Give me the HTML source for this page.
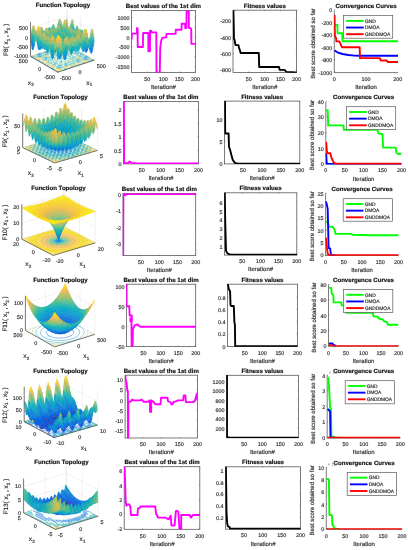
<!DOCTYPE html>
<html><head><meta charset="utf-8"><title>Benchmark results</title>
<style>.qaa{fill:#f7ed17;stroke:#f7ed17}.qab{fill:#f8e81b;stroke:#f8e81b}.qac{fill:#f7e51d;stroke:#f7e51d}.qad{fill:#f7e31f;stroke:#f7e31f}.qae{fill:#f7e120;stroke:#f7e120}.qaf{fill:#f7df21;stroke:#f7df21}.qag{fill:#f7dd22;stroke:#f7dd22}.qah{fill:#f7dc23;stroke:#f7dc23}.qai{fill:#f8db25;stroke:#f8db25}.qaj{fill:#f8d926;stroke:#f8d926}.qak{fill:#f8d727;stroke:#f8d727}.qal{fill:#f8d628;stroke:#f8d628}.qam{fill:#f9d528;stroke:#f9d528}.qan{fill:#f8d529;stroke:#f8d529}.qao{fill:#f8d32a;stroke:#f8d32a}.qap{fill:#f9d22b;stroke:#f9d22b}.qaq{fill:#f8d12d;stroke:#f8d12d}.qar{fill:#fad02c;stroke:#fad02c}.qas{fill:#f8d02e;stroke:#f8d02e}.qat{fill:#f9ce30;stroke:#f9ce30}.qau{fill:#f7ce31;stroke:#f7ce31}.qav{fill:#fccb30;stroke:#fccb30}.qaw{fill:#f8cb33;stroke:#f8cb33}.qax{fill:#f9c934;stroke:#f9c934}.qay{fill:#f7ca35;stroke:#f7ca35}.qaz{fill:#f9c737;stroke:#f9c737}.qaA{fill:#f6c738;stroke:#f6c738}.qaB{fill:#f8c43a;stroke:#f8c43a}.qaC{fill:#f9c13d;stroke:#f9c13d}.qaD{fill:#f5c43c;stroke:#f5c43c}.qaE{fill:#f5c13f;stroke:#f5c13f}.qaF{fill:#f5bf41;stroke:#f5bf41}.qaG{fill:#f1bf43;stroke:#f1bf43}.qaH{fill:#f4bb46;stroke:#f4bb46}.qaI{fill:#efbc47;stroke:#efbc47}.qaJ{fill:#ecbe47;stroke:#ecbe47}.qaK{fill:#e9bb4b;stroke:#e9bb4b}.qaL{fill:#e7ba4e;stroke:#e7ba4e}.qaM{fill:#ddbb52;stroke:#ddbb52}.qaN{fill:#dfba52;stroke:#dfba52}.qaO{fill:#daba55;stroke:#daba55}.qaP{fill:#cec451;stroke:#cec451}.qaQ{fill:#c8bc5d;stroke:#c8bc5d}.qaR{fill:#c4bc5e;stroke:#c4bc5e}.qaS{fill:#c1bc60;stroke:#c1bc60}.qaT{fill:#d4bb57;stroke:#d4bb57}.qaU{fill:#d0bb59;stroke:#d0bb59}.qaV{fill:#cdbb5a;stroke:#cdbb5a}.qaW{fill:#cabb5c;stroke:#cabb5c}.qaX{fill:#d7ba56;stroke:#d7ba56}.qaY{fill:#afc85c;stroke:#afc85c}.qaZ{fill:#acbe68;stroke:#acbe68}.qba{fill:#a9be69;stroke:#a9be69}.qbb{fill:#babd63;stroke:#babd63}.qbc{fill:#b7bd64;stroke:#b7bd64}.qbd{fill:#b5bd65;stroke:#b5bd65}.qbe{fill:#b2bd65;stroke:#b2bd65}.qbf{fill:#adbd68;stroke:#adbd68}.qbg{fill:#bcbc61;stroke:#bcbc61}.qbh{fill:#9ac06e;stroke:#9ac06e}.qbi{fill:#a5be6b;stroke:#a5be6b}.qbj{fill:#a3be6c;stroke:#a3be6c}.qbk{fill:#a0be6d;stroke:#a0be6d}.qbl{fill:#9dbe6e;stroke:#9dbe6e}.qbm{fill:#99be70;stroke:#99be70}.qbn{fill:#a3bd6c;stroke:#a3bd6c}.qbo{fill:#95be71;stroke:#95be71}.qbp{fill:#91bf73;stroke:#91bf73}.qbq{fill:#90be73;stroke:#90be73}.qbr{fill:#8dbf75;stroke:#8dbf75}.qbs{fill:#88bf76;stroke:#88bf76}.qbt{fill:#86bf78;stroke:#86bf78}.qbu{fill:#89be77;stroke:#89be77}.qbv{fill:#82bf79;stroke:#82bf79}.qbw{fill:#7dbf7c;stroke:#7dbf7c}.qbx{fill:#81be7a;stroke:#81be7a}.qby{fill:#7abe7d;stroke:#7abe7d}.qbz{fill:#77bf7e;stroke:#77bf7e}.qbA{fill:#77bd80;stroke:#77bd80}.qbB{fill:#73be80;stroke:#73be80}.qbC{fill:#6fbe82;stroke:#6fbe82}.qbD{fill:#6bbe83;stroke:#6bbe83}.qbE{fill:#6dbd84;stroke:#6dbd84}.qbF{fill:#69be85;stroke:#69be85}.qbG{fill:#65be86;stroke:#65be86}.qbH{fill:#62bd88;stroke:#62bd88}.qbI{fill:#5fbd89;stroke:#5fbd89}.qbJ{fill:#63bc89;stroke:#63bc89}.qbK{fill:#5cbd8a;stroke:#5cbd8a}.qbL{fill:#59bd8c;stroke:#59bd8c}.qbM{fill:#5bbc8c;stroke:#5bbc8c}.qbN{fill:#56bc8e;stroke:#56bc8e}.qbO{fill:#54bc8f;stroke:#54bc8f}.qbP{fill:#50bc91;stroke:#50bc91}.qbQ{fill:#4cbc93;stroke:#4cbc93}.qbR{fill:#4bba95;stroke:#4bba95}.qbS{fill:#48bb95;stroke:#48bb95}.qbT{fill:#45bb97;stroke:#45bb97}.qbU{fill:#43ba98;stroke:#43ba98}.qbV{fill:#40ba99;stroke:#40ba99}.qbW{fill:#77b882;stroke:#77b882}.qbX{fill:#3fb89c;stroke:#3fb89c}.qbY{fill:#39b99d;stroke:#39b99d}.qbZ{fill:#3ab79f;stroke:#3ab79f}.qca{fill:#35b8a0;stroke:#35b8a0}.qcb{fill:#33b8a1;stroke:#33b8a1}.qcc{fill:#34b6a2;stroke:#34b6a2}.qcd{fill:#31b7a3;stroke:#31b7a3}.qce{fill:#2eb7a4;stroke:#2eb7a4}.qcf{fill:#2cb6a6;stroke:#2cb6a6}.qcg{fill:#2ab6a7;stroke:#2ab6a7}.qch{fill:#2cb5a7;stroke:#2cb5a7}.qci{fill:#2cb0ac;stroke:#2cb0ac}.qcj{fill:#27b5a8;stroke:#27b5a8}.qck{fill:#28b4a9;stroke:#28b4a9}.qcl{fill:#23b4ab;stroke:#23b4ab}.qcm{fill:#24b3ac;stroke:#24b3ac}.qcn{fill:#1fb3ae;stroke:#1fb3ae}.qco{fill:#20b2af;stroke:#20b2af}.qcp{fill:#1bb2b0;stroke:#1bb2b0}.qcq{fill:#1db1b2;stroke:#1db1b2}.qcr{fill:#18b1b3;stroke:#18b1b3}.qcs{fill:#16b1b4;stroke:#16b1b4}.qct{fill:#1aaeb6;stroke:#1aaeb6}.qcu{fill:#1ca6bb;stroke:#1ca6bb}.qcv{fill:#13afb7;stroke:#13afb7}.qcw{fill:#10aeb9;stroke:#10aeb9}.qcx{fill:#12adba;stroke:#12adba}.qcy{fill:#11aabd;stroke:#11aabd}.qcz{fill:#0dacbc;stroke:#0dacbc}.qcA{fill:#0daabf;stroke:#0daabf}.qcB{fill:#0aabbe;stroke:#0aabbe}.qcC{fill:#09aac0;stroke:#09aac0}.qcD{fill:#0fa7c1;stroke:#0fa7c1}.qcE{fill:#0ba8c2;stroke:#0ba8c2}.qcF{fill:#09a8c4;stroke:#09a8c4}.qcG{fill:#07a8c3;stroke:#07a8c3}.qcH{fill:#06a6c6;stroke:#06a6c6}.qcI{fill:#0da4c4;stroke:#0da4c4}.qcJ{fill:#0fa0c6;stroke:#0fa0c6}.qcK{fill:#09a2c7;stroke:#09a2c7}.qcL{fill:#099fcb;stroke:#099fcb}.qcM{fill:#06a5c8;stroke:#06a5c8}.qcN{fill:#06a3c9;stroke:#06a3c9}.qcO{fill:#07a0cc;stroke:#07a0cc}.qcP{fill:#0d9bca;stroke:#0d9bca}.qcQ{fill:#0a9acd;stroke:#0a9acd}.qcR{fill:#099bce;stroke:#099bce}.qcS{fill:#079dce;stroke:#079dce}.qcT{fill:#089bd0;stroke:#089bd0}.qcU{fill:#0c97cf;stroke:#0c97cf}.qcV{fill:#0a97d0;stroke:#0a97d0}.qcW{fill:#0d93d0;stroke:#0d93d0}.qcX{fill:#0c94d1;stroke:#0c94d1}.qcY{fill:#0b95d1;stroke:#0b95d1}.qcZ{fill:#0e91d2;stroke:#0e91d2}.qda{fill:#0d92d1;stroke:#0d92d1}.qdb{fill:#0f8ed2;stroke:#0f8ed2}.qdc{fill:#118bd3;stroke:#118bd3}.qdd{fill:#0e8bd3;stroke:#0e8bd3}.qde{fill:#1188d4;stroke:#1188d4}.qdf{fill:#1485d4;stroke:#1485d4}.qdg{fill:#1086d5;stroke:#1086d5}.qdh{fill:#1283d6;stroke:#1283d6}.qdi{fill:#1381d6;stroke:#1381d6}.qdj{fill:#0f80d7;stroke:#0f80d7}.qdk{fill:#117ed8;stroke:#117ed8}.qdl{fill:#117bd9;stroke:#117bd9}.qdm{fill:#0e7bd9;stroke:#0e7bd9}.qdn{fill:#0e78da;stroke:#0e78da}.qdo{fill:#0d76db;stroke:#0d76db}.qdp{fill:#0c76dc;stroke:#0c76dc}.qdq{fill:#0b73dc;stroke:#0b73dc}.qdr{fill:#0a73dd;stroke:#0a73dd}.qds{fill:#0a72dd;stroke:#0a72dd}.qdt{fill:#0871de;stroke:#0871de}.qdu{fill:#0970de;stroke:#0970de}.qdv{fill:#096dde;stroke:#096dde}.qdw{fill:#056ee0;stroke:#056ee0}.qdx{fill:#056ce0;stroke:#056ce0}.qdy{fill:#096ade;stroke:#096ade}.qdz{fill:#036ae1;stroke:#036ae1}.qdA{fill:#0268e1;stroke:#0268e1}.qdB{fill:#0965de;stroke:#0965de}.qdC{fill:#0b61de;stroke:#0b61de}.qdD{fill:#0c5fdd;stroke:#0c5fdd}.qdE{fill:#0466e1;stroke:#0466e1}.qdF{fill:#0266e1;stroke:#0266e1}.qdG{fill:#0563e0;stroke:#0563e0}.qdH{fill:#145ad9;stroke:#145ad9}.qdI{fill:#1658d8;stroke:#1658d8}.qdJ{fill:#105cdc;stroke:#105cdc}.qdK{fill:#1c55d5;stroke:#1c55d5}.qdL{fill:#1956d6;stroke:#1956d6}.qdM{fill:#2151cf;stroke:#2151cf}.qdN{fill:#2b4ac6;stroke:#2b4ac6}.qdO{fill:#264dca;stroke:#264dca}.qdP{fill:#2e47bf;stroke:#2e47bf}.qdQ{fill:#3340b3;stroke:#3340b3}.qdR{fill:#3638a2;stroke:#3638a2} text{text-rendering:geometricPrecision;stroke:#333;stroke-width:0.18px} html,body{margin:0;padding:0;background:#fff;}svg{display:block;}text{font-family:'Liberation Sans', Arial, Helvetica, sans-serif;}</style></head>
<body><svg width="408" height="550" viewBox="0 0 408 550">
<defs><filter id="soft" x="0" y="0" width="1" height="1"><feGaussianBlur stdDeviation="0.45"/></filter></defs>
<g filter="url(#soft)">
<rect width="408" height="550" fill="#fff"/>
<g stroke="#e4e4e4" stroke-width="0.5"><line x1="30.50" y1="56.40" x2="30.50" y2="21.85"/><line x1="57.80" y1="72.20" x2="30.50" y2="56.40"/><line x1="48.70" y1="50.35" x2="48.70" y2="15.80"/><line x1="76.00" y1="66.15" x2="48.70" y2="50.35"/><line x1="66.90" y1="44.30" x2="66.90" y2="9.75"/><line x1="94.20" y1="60.10" x2="66.90" y2="44.30"/><line x1="94.20" y1="60.10" x2="94.20" y2="25.55"/><line x1="57.80" y1="72.20" x2="94.20" y2="60.10"/><line x1="80.55" y1="52.20" x2="80.55" y2="17.65"/><line x1="44.15" y1="64.30" x2="80.55" y2="52.20"/><line x1="66.90" y1="44.30" x2="66.90" y2="9.75"/><line x1="30.50" y1="56.40" x2="66.90" y2="44.30"/><line x1="30.50" y1="56.40" x2="66.90" y2="44.30"/><line x1="66.90" y1="44.30" x2="94.20" y2="60.10"/><line x1="30.50" y1="47.00" x2="66.90" y2="34.90"/><line x1="66.90" y1="34.90" x2="94.20" y2="50.70"/><line x1="30.50" y1="37.60" x2="66.90" y2="25.50"/><line x1="66.90" y1="25.50" x2="94.20" y2="41.30"/><line x1="30.50" y1="28.20" x2="66.90" y2="16.10"/><line x1="66.90" y1="16.10" x2="94.20" y2="31.90"/></g>
<g transform="scale(0.1)" fill="none" stroke-width="4.5" stroke-linecap="round"><path stroke="#363093" d="M664 462l4 1 1 3-8 2-7-3 3-3 7 0"/><path stroke="#0268e1" d="M861 573l9 2 3 6-6 3-9 1-8-1-5-3 0-3 5-4 11-1M723 497l4 3-3 1-9-1 8-3M659 456l16 2 6 4 1 5-5 4-12 3-13-1-9-4-1-4 1-4 16-5M394 547l13 0 5 4 1 2-5 4-9 2-14-4 2-6 7-2M583 489l5 3-10 1 0-3 5-1"/><path stroke="#1485d4" d="M641 701l8-4 10-2M898 616l10-8 20-2M852 569l23 2 7 5 1 5-6 6-12 3-15-1-11-3-4-7 3-5 5-4 9-1M586 660l21 0 6 3 2 5-4 4-7 2-17 0-7-2-3-5 2-4 7-3M781 600l9 2 3 2 0 3-6 4-10 0-10-4 4-5 10-2M517 687l9 3 5 5M659 643l7 2-4 3-7-1 0-3 4-1M806 544l16 2 4 4 0 4-10 4-12-1-7-2-2-5 2-3 9-3M551 637l2 1-1 3-10-2 3-3 6 1M778 529l13 5 1 3-13 1-10-7 2-2 7 0M756 516l11 1 4 4-1 4-8 2-14-3 0-5 8-3M720 491l18 4 3 4-2 5-5 3-14 1-10-1-8-5 3-8 15-3M455 581l11 1 5 4-1 3-12 4-12-4 0-5 9-3M653 453l29 3 7 5 0 7-6 6-12 3-21 0-15-5-1-7 4-7 15-5M392 543l25 1 5 4 1 5-5 6-12 4-20-1-10-4-1-5 3-6 14-4M315 570l18 4 4 4 1 5M578 483l18 2 6 3 0 5-5 4-9 3-14 0-11-4 0-5 3-4 12-4M462 524l16 2 1 5-5 5-8 2-12-1-6-3 1-6 13-4M533 503l10 2 1 5-11 3-13-1-1-2 5-5 9-2M511 513l5 1 0 2-14 6-5 1-6-3 2-3 18-4"/><path stroke="#06a7c6" d="M574 720l9 0M631 704l6-7 7-3 25-2M704 680l10-5 12-2M749 665l4-1M776 656l15-5M819 642l9-7 21-3M890 618l5-8 8-5 32-2M709 487l33 4 6 5 4 12 24 7 7 7 18 9 8 7 23 7 3 4 1 13 45 7 8 5 0 10-6 6-12 3-28-1-12-4-4-6 3-13-3-4-36-6-4-3-5-9-14-5-15-10-14-5-8-13-35-8-3-6 3-8 5-4 8-1M586 655l31 2 6 3 1 7-7 8-11 3-22 0-12-4-3-6 1-7 4-4 12-2M510 682l23 5 4 4 1 8M771 596l25 1 6 3 1 7-6 6-8 2-18 1-15-3-1-5 4-7 12-5M655 637l21-1 10-7 24-6 11-7 20-1 7 3-1 6-5 4-18 3-20 8-19 3-8 8-6 3-15 1-14-3-2-4 4-6 11-4M485 601l23 2 6 8 19 9 6 8 26 6 1 8-4 4-9 2-20-3-5-4-2-9-16-4-14-11-15-4-2-8 6-4M467 658l11 3 6 6M725 571l17 2 4 4 0 2-11 5-14-2-3-1-1-5 8-5M612 614l8 2 0 2-7 3-9-2 1-4 7-1M447 646l3 2M699 560l9 0 2 3-9 1-5-6 3 2M682 543l7 3 0 5-9 1-10-2 2-6 10-1M419 630l10 6M454 577l18 1 7 3 3 6-3 8-7 3-18-1-14-3-5-4 0-4 3-5 6-3 10-1M640 517l16 3 4 3 1 5-4 4-8 2-19-1-6-3-1-4 3-5 14-4M375 604l18 5 5 9M522 559l12 1 3 2 0 4-4 4-8 2-16-4 0-5 13-4M593 538l8 2 1 3-11 4-10-3 3-4 9-2M562 551l7 0-8 5-9-2 1-2 9-1M695 458l1 11-6 9-13 3-23-1-22-2-6-3 1-10 7-10M385 540l48-2 8-11 5-4 27-4 48-19 27-4 11-11 9-4 28-1 10 1 5 4-2 10-10 7-35 3-16 11-55 14-16 11-41 2-10 18-9 5-33-1-15-5-2-6 3-7 6-5 9-2M310 567l31 5 4 6-1 9M646 450l40 3"/><path stroke="#38b99e" d="M569 717l21 1M624 707l6-11 8-6 43-2M690 685l15-12 27-5 47-18 27-5 17-13 35-3M882 621l9-23 51 3M897 575l-6 23-76-4 1 2-5 11-8 10-39 4-16 10-55 15-16 10-36 3-6 3-11 17-12 3-45-4-5-3-1-17-3-4-33-6-9-12-43-21-9-12-29-5-7-5 0-11 2-9 2-2 64 4-2-2 4-8 7-8 28-4 11-6 24-7 12-6 24-2 7-3 11-14 14-2 30 3 4 4 2 14 25 7 7 7 18 9 7 8 25 6 2 5-2 12-3 2-51-3 3 2-1 2-7 9-18 3-20 9-19 2-10 11-8 2-26-3-4-3-1-10-16-4-14-11-13-3-4-3 1-11 36 1 3-1 5-8 25-5 6-7 8-1 18 3 2 7 20 8 0 7 2 2-25-1-18 9-10 0-11-12 39 3-11-12-10 0-18 9-25-1 2 2 0 7 20 8 2 7 3 2 15 1 8-1 6-7 25-5 5-8 3-1 36 1 1-8-1-5-16-4-14-11-16-4-3-12-7-3-21-1-8 2-10 11-19 2-20 9-18 3-7 9-1 2 3 2-51-3-3 2-2 15 4 3 23 5 7 8 18 9 7 7 25 7 2 14 4 4 30 3 14-2 11-14 7-3 24-2 12-6 24-7 11-6 28-4 7-8 4-8-2-2 64 4 2-2 3-18-5-5-32-7-9-12-43-21-9-12-33-6-3-4 0-15-3-4-12-3-31-2-17 3-11 17-6 3-36 3-16 10-55 15-16 10-39 4-8 10-5 11 1 2-76-4-6 23M500 677l41 8 4 6-1 11M753 492l7 13 22 7 35 24 22 7 8 15 32 7M368 600l32 7 8 15 22 7 35 24 22 7 7 13M703 463l-1 11 4 6 41 8M305 564l51 3 9-23M566 477l43-2 8-6 6-11M389 536l35-3 17-13 27-5 47-18 27-5 15-12M657 447l21 1"/><path stroke="#87bf77" d="M561 712l40 3M613 710l7-10 1-10-6-3-22-2-23-1-13 3-6 9 1 11M835 599l-14 5-10 18-41 2-16 11-55 14-16 11-35 3-10 7-2 10 5 4 10 1 28-1 9-4 11-11 27-4 48-19 27-4 5-4 8-11 49-2 11-4 6-9-2-7-5-3-38-3M903 578l-1 9 4 6 31 5M376 572l-9 1-8 6-2 8 3 6 10 4 41 6 1 13 3 4 23 7 8 7 18 9 7 7 24 7 4 12 6 5 32 4 9-1 5-4 3-10-5-6-33-6-8-13-14-5-15-10-14-5-5-9-4-3-38-7 2-16-4-6-12-4-28-1M770 568l-3 5-2 7 3 4 7 3 28 0 6-3 3-5-2-6-6-3-18-3-16 1M594 632l-6 3-2 5 2 4 7 3 19 0 7-3 3-5-1-4-6-3-23 0M849 547l5 9 18 5M722 593l-11 4-1 6 17 3 11-4 1-3-3-4-14-2M656 618l-9 2-1 5 9 2 11-4-2-4-8-1M686 609l-8 5 12 0 5-3-9-2M689 518l-7 2-2 4 0 5 4 3 24 5 6 8 19 9 6 8 19 2 5 0 5-4-2-8-15-4-14-11-16-4-2-9-5-4-25-2M561 613l-4 4 3 4 11 1 6-3-3-5-13-1M818 529l10 6M540 600l-4 4 15 3-5-6-6-1M797 517l3 2M512 581l-10 4 0 5 15 4 12-3 0-7-17-3M763 498l6 6 11 3M632 544l-5 3 0 2 8 2 8-2-3-4-8-1M641 487l-14 5-4 6 1 7 11 4 24 1 10-1 8-5 1-9-6-6-31-2M458 550l-13 6-2 4 2 5 12 4 23 0 8-5 4-7-1-5-3-2-30 0M709 466l1 8 4 4 23 5M581 511l-11 4-8 8-19 3-20 8-18 3-5 4-1 6 7 3 20-1 11-7 24-6 10-7 26-2 9-6 0-5-4-3-21-2M312 562l32-2 8-5 5-8M578 473l25-2 7-3 6-7M398 533l21-3 9-7M664 445l9 0M456 514l15-5M494 501l4-1M521 492l12-2 10-5"/><path stroke="#d1bb59" d="M576 688l-15 4-4 7 2 7 14 5 22 1 11-3 7-9-1-7-6-3-30-2M841 602l-14 5-3 6 1 4 10 5 18 1 13-3 6-6-1-7-6-3-24-2M658 665l-11 4-2 3 0 5 10 4 14 1 8-2 7-6 0-5-6-3-20-1M909 582l1 5 4 4 18 4M776 628l-8 5 1 6 22 1 7-3 1-4-6-5-17 0M714 652l-8 1-3 5 5 3 12 0 8-6-1-2-13-1M750 642l-18 6-1 3 7 1 16-4 2-3-6-3M517 657l-7 2-3 5 0 4 5 4 23 2 7-3 3-4-1-6-7-3-20-1M784 573l-7 2 1 6 14 3 10-4-3-6-15-1M485 638l-8 2 1 6 8 3 13-3 0-5-14-3M463 626l-8 2 1 3 13 5 7 0 1-2-6-6-8-2M427 608l-6 3 0 4 8 5 14 1 5-1 4-4 0-4-5-3-20-1M699 524l-5 3 8 2 3-2-6-3M382 575l-15 5-3 5 2 6 11 4 18 1 9-1 7-6 0-7-6-4-23-3M643 491l-7 2-4 4 4 7 22 2 7-2 4-4 0-5-5-3-21-1M460 554l-6 5 7 6 11 0 8-6-5-4-15-1M716 470l5 5 9 3M585 517l-4 3 1 2 10-1 0-3-7-1M319 559l20-2 10-8M588 470l10-2 8-4"/><path stroke="#ffc337" d="M577 692l-7 2-5 4 0 3 4 4 20 4 12-4 4-5-1-4-6-3-21-1M839 608l-5 4 6 6 16 0 7-6-7-5-17 1M662 671l-3 2 1 2 5 1 5-2-1-2-7-1M528 663l-5 1-2 2 8 1 3-2-4-2M384 580l-9 3 0 5 12 4 10-1 5-4 0-3-5-3-13-1"/><path stroke="#f6f313" d="M586 697l-8 2 1 3 7 1 7-2-2-3-5-1"/></g>
<g transform="scale(0.1)" stroke-width="3.5" stroke-linejoin="round"><path class=qbU d="M667 275l7-43-5-45-7 44z"/><path class=qcq d="M624 291l7 32-6-45-7-32z"/><path class=qbI d="M616 259l8 32-6-45-7-31z"/><path class=qbl d="M609 238l7 21-5-44-8-21z"/><path class=qbe d="M602 233l7 5-6-44-7-5z"/><path class=qbi d="M594 247l8-14-6-44-7 14z"/><path class=qbB d="M587 275l7-28-5-44-7 27z"/><path class=qca d="M580 307l7-32-5-45-8 32z"/><path class=qcx d="M573 331l7-24-6-45-7 25z"/><path class=qcE d="M565 339l8-8-6-44-7 8z"/><path class=qcg d="M551 309l7 21-5-45-8-20z"/><path class=qbL d="M543 291l8 18-6-44-7-18z"/><path class=qbC d="M536 289l7 2-5-44-7-3z"/><path class=qbL d="M529 304l7-15-5-45-8 15z"/><path class=qca d="M522 323l7-19-6-45-7 20z"/><path class=qcj d="M514 330l8-7-6-44-7 6z"/><path class=qca d="M507 322l7 8-5-45-7-8z"/><path class=qbU d="M500 320l7 2-5-45-8-2z"/><path class=qbY d="M492 326l8-6-6-45-7 7z"/><path class=qca d="M478 331l7 1 7-6-5-44-7 6-8-2z"/><path class=qcd d="M456 348l7-19-5-45-7 20z"/><path class=qcr d="M442 361l7 2 7-15-5-44-8 15-7-3z"/><path class=qcc d="M434 343l8 18-6-45-7-18z"/><path class=qbG d="M427 322l7 21-5-45-8-20z"/><path class=qbr d="M420 313l7 9-6-44-7-10z"/><path class=qbu d="M412 321l8-8-6-45-7 8z"/><path class=qbI d="M405 345l7-24-5-45-7 25z"/><path class=qbY d="M361 361l8 32-6-45-7-31z"/><path class=qbu d="M354 329l7 32-5-44-7-32z"/><path class=qaS d="M347 306l7 23-5-44-8-24z"/><path class=qaX d="M340 298l7 8-6-45-7-7z"/><path class=qaU d="M332 309l8-11-6-44-7 11z"/><path class=qba d="M325 337l7-28-5-44-7 27z"/><path class=qbH d="M318 377l7-40-5-45-8 40z"/><path class=qct d="M310 421l8-44-6-45-7 44z"/><path class=qcE d="M673 316l7-44-6-40-7 43z"/><path class=qcr d="M622 300l7 31-5-40-8-32z"/><path class=qbU d="M614 279l8 21-6-41-7-21z"/><path class=qbI d="M607 274l7 5-5-41-7-5z"/><path class=qbP d="M600 288l7-14-5-41-8 14z"/><path class=qcl d="M593 315l7-27-6-41-7 28z"/><path class=qcn d="M542 329l7 3-6-41-7-2z"/><path class=qcv d="M534 344l8-15-6-40-7 15z"/><path class=qcH d="M498 367l7-7-5-40-8 6z"/><path class=qcr d="M432 363l8 20-6-40-7-21z"/><path class=qca d="M425 353l7 10-5-41-7-9z"/><path class=qcd d="M418 361l7-8-5-40-8 8z"/><path class=qcc d="M360 370l7 32-6-41-7-32z"/><path class=qbC d="M352 346l8 24-6-41-7-23z"/><path class=qbr d="M345 339l7 7-5-40-7-8z"/><path class=qbs d="M338 350l7-11-5-41-8 11z"/><path class=qbN d="M330 377l8-27-6-41-7 28z"/><path class=qcr d="M323 417l7-40-5-40-7 40z"/><path class=qcX d="M316 461l7-44-5-40-8 44z"/><path class=qcw d="M620 307l7 22-5-29-8-21z"/><path class=qcl d="M613 303l7 4-6-28-7-5z"/><path class=qcr d="M605 316l8-13-6-29-7 14z"/><path class=qce d="M358 375l7 23-5-28-8-24z"/><path class=qbQ d="M350 367l8 8-6-29-7-7z"/><path class=qbS d="M343 378l7-11-5-28-7 11z"/><path class=qcn d="M336 406l7-28-5-28-8 27z"/><path class=qcL d="M329 446l7-40-6-29-7 40z"/><path class=qdm d="M321 490l8-44-6-29-7 44z"/><path class=qcN d="M371 410l7 32-6-12-7-32z"/><path class=qcb d="M356 379l7 8-5-12-8-8z"/><path class=qcf d="M349 390l7-11-6-12-7 11z"/><path class=qcz d="M341 418l8-28-6-12-7 28z"/><path class=qcW d="M334 458l7-40-5-12-7 40z"/><path class=qdu d="M327 501l7-43-5-12-8 44z"/><path class=qdK d="M398 488l7 5-5 7-8-5z"/><path class=qdv d="M391 467l7 21-6 7-7-21z"/><path class=qcv d="M347 411l7-28-5 7-8 28z"/><path class=qcQ d="M340 451l7-40-6 7-7 40z"/><path class=qdp d="M332 494l8-43-6 7-7 43z"/><path class=qdx d="M411 470l7-14-6 23-7 14z"/><path class=qdt d="M403 465l8 5-6 23-7-5z"/><path class=qdj d="M396 444l7 21-5 23-7-21z"/><path class=qcE d="M345 428l7-40-5 23-7 40z"/><path class=qde d="M338 472l7-44-5 23-8 43z"/><path class=qdd d="M409 434l7 5-5 31-8-5z"/><path class=qcL d="M401 413l8 21-6 31-7-21z"/><path class=qca d="M350 397l8-40-6 31-7 40z"/><path class=qcK d="M343 440l7-43-5 31-7 44z"/><path class=qbI d="M705 265l8-44-6 31-7 43z"/><path class=qcg d="M349 410l7-44-6 31-7 43z"/><path class=qbl d="M711 244l7-44-5 21-8 44z"/><path class=qbU d="M704 284l7-40-6 21-7 39z"/><path class=qbc d="M361 345l8-39-6 20-7 40z"/><path class=qbG d="M354 389l7-44-5 21-7 44z"/><path class=qbe d="M716 240l8-44-6 4-7 44z"/><path class=qbI d="M709 280l7-40-5 4-7 40z"/><path class=qaC d="M644 212l7-14-6 4-7 14z"/><path class=qaM d="M636 240l8-28-6 4-7 27z"/><path class=qba d="M629 271l7-31-5 3-7 32z"/><path class=qbB d="M622 296l7-25-5 4-8 25z"/><path class=qbL d="M614 304l8-8-6 4-7 8z"/><path class=qaR d="M578 268l7-14-5 4-7 14z"/><path class=qbi d="M571 288l7-20-5 4-8 20z"/><path class=qbo d="M563 295l8-7-6 4-7 7z"/><path class=qba d="M534 297l8-6-6 4-7 6z"/><path class=qbj d="M505 313l7-20-5 4-7 20z"/><path class=qbv d="M498 328l7-15-5 4-8 15z"/><path class=qaL d="M462 286l7-9-6 4-7 8z"/><path class=qaQ d="M454 310l8-24-6 3-7 25z"/><path class=qbo d="M447 342l7-32-5 4-7 32z"/><path class=qak d="M381 274l8-11-6 4-7 11z"/><path class=qaC d="M374 302l7-28-5 4-7 28z"/><path class=qaQ d="M367 341l7-39-5 4-8 39z"/><path class=qby d="M360 385l7-44-6 4-7 44z"/><path class=qbi d="M722 255l7-44-5-15-8 44z"/><path class=qbP d="M714 294l8-39-6-15-7 40z"/><path class=qaC d="M656 213l8 4-6-14-7-5z"/><path class=qaH d="M649 226l7-13-5-15-7 14z"/><path class=qaV d="M642 254l7-28-5-14-8 28z"/><path class=qbl d="M634 286l8-32-6-14-7 31z"/><path class=qbG d="M627 310l7-24-5-15-7 25z"/><path class=qbQ d="M620 319l7-9-5-14-8 8z"/><path class=qbK d="M613 309l7 10-6-15-7-10z"/><path class=qaQ d="M591 268l7 3-5-15-8-2z"/><path class=qbb d="M583 283l8-15-6-14-7 14z"/><path class=qbm d="M576 303l7-20-5-15-7 20z"/><path class=qbs d="M569 309l7-6-5-15-8 7z"/><path class=qbm d="M562 301l7 8-6-14-7-9z"/><path class=qbi d="M554 299l8 2-6-15-7-1z"/><path class=qbk d="M547 305l7-6-5-14-7 6z"/><path class=qbh d="M532 310l8 1 7-6-5-14-8 6-7-2z"/><path class=qbe d="M518 308l7-7 7 9-5-15-7-8-8 6z"/><path class=qbo d="M511 328l7-20-6-15-7 20z"/><path class=qbz d="M496 340l7 2 8-14-6-15-7 15-7-3z"/><path class=qbm d="M489 322l7 18-5-15-8-17z"/><path class=qaM d="M467 300l7-8 8 10-6-15-7-10-7 9z"/><path class=qbg d="M460 325l7-25-5-14-8 24z"/><path class=qbs d="M452 356l8-31-6-15-7 32z"/><path class=qan d="M394 277l7 8-5-15-7-7z"/><path class=qar d="M387 288l7-11-5-14-8 11z"/><path class=qaF d="M380 316l7-28-6-14-7 28z"/><path class=qaS d="M372 356l8-40-6-14-7 39z"/><path class=qbE d="M365 400l7-44-5-15-7 44z"/><path class=qbB d="M727 283l8-44-6-28-7 44z"/><path class=qcl d="M720 323l7-40-5-28-8 39z"/><path class=qbo d="M676 267l8 31-6-28-7-31z"/><path class=qaR d="M669 246l7 21-5-28-7-22z"/><path class=qaM d="M662 241l7 5-5-29-8-4z"/><path class=qaV d="M654 255l8-14-6-28-7 13z"/><path class=qbi d="M647 282l7-27-5-29-7 28z"/><path class=qbF d="M640 314l7-32-5-28-8 32z"/><path class=qcb d="M633 339l7-25-6-28-7 24z"/><path class=qcl d="M625 347l8-8-6-29-7 9z"/><path class=qce d="M618 337l7 10-5-28-7-10z"/><path class=qbK d="M611 317l7 20-5-28-8-21z"/><path class=qbr d="M603 299l8 18-6-29-7-17z"/><path class=qbk d="M596 297l7 2-5-28-7-3z"/><path class=qbq d="M589 311l7-14-5-29-8 15z"/><path class=qbF d="M582 331l7-20-6-28-7 20z"/><path class=qbO d="M574 338l8-7-6-28-7 6z"/><path class=qbG d="M567 329l7 9-5-29-7-8z"/><path class=qbz d="M560 328l7 1-5-28-8-2z"/><path class=qbB d="M553 334l7-6-6-29-7 6z"/><path class=qbC d="M538 338l7 2 8-6-6-29-7 6-8-1z"/><path class=qbs d="M523 336l8-6 7 8-6-28-7-9-7 7z"/><path class=qbI d="M516 356l7-20-5-28-7 20z"/><path class=qbU d="M502 368l7 3 7-15-5-28-8 14-7-2z"/><path class=qbF d="M494 351l8 17-6-28-7-18z"/><path class=qbm d="M487 330l7 21-5-29-7-20z"/><path class=qbc d="M472 328l8-8 7 10-5-28-8-10-7 8z"/><path class=qbp d="M465 353l7-25-5-28-7 25z"/><path class=qbO d="M458 385l7-32-5-28-8 31z"/><path class=qbc d="M414 337l7 32-5-29-7-32z"/><path class=qaL d="M407 313l7 24-5-29-8-23z"/><path class=qaC d="M400 306l7 7-6-28-7-8z"/><path class=qaF d="M392 317l8-11-6-29-7 11z"/><path class=qaT d="M385 345l7-28-5-29-7 28z"/><path class=qbo d="M378 384l7-39-5-29-8 40z"/><path class=qbY d="M371 428l7-44-6-28-7 44z"/><path class=qca d="M733 316l7-44-5-33-8 44z"/><path class=qcK d="M725 355l8-39-6-33-7 40z"/><path class=qbO d="M682 300l7 31-5-33-8-31z"/><path class=qbp d="M674 278l8 22-6-33-7-21z"/><path class=qba d="M667 274l7 4-5-32-7-5z"/><path class=qbl d="M660 287l7-13-5-33-8 14z"/><path class=qbF d="M653 315l7-28-6-32-7 27z"/><path class=qcf d="M645 347l8-32-6-33-7 32z"/><path class=qcB d="M638 371l7-24-5-33-7 25z"/><path class=qcl d="M616 349l8 21-6-33-7-20z"/><path class=qbS d="M609 332l7 17-5-32-8-18z"/><path class=qbI d="M602 329l7 3-6-33-7-2z"/><path class=qbP d="M594 344l8-15-6-32-7 14z"/><path class=qcf d="M587 364l7-20-5-33-7 20z"/><path class=qcp d="M580 370l7-6-5-33-8 7z"/><path class=qcj d="M573 362l7 8-6-32-7-9z"/><path class=qcb d="M565 360l8 2-6-33-7-1z"/><path class=qce d="M558 366l7-6-5-32-7 6z"/><path class=qcf d="M551 372l7-6-5-32-8 6z"/><path class=qce d="M543 371l8 1-6-32-7-2z"/><path class=qbU d="M529 369l7-7 7 9-5-33-7-8-8 6z"/><path class=qcl d="M522 389l7-20-6-33-7 20z"/><path class=qcf d="M500 383l7 18-5-33-8-17z"/><path class=qbL d="M492 363l8 20-6-32-7-21z"/><path class=qbw d="M478 361l7-8 7 10-5-33-7-10-8 8z"/><path class=qbP d="M471 386l7-25-6-33-7 25z"/><path class=qcp d="M463 417l8-31-6-33-7 32z"/><path class=qby d="M420 369l7 32-6-32-7-32z"/><path class=qbe d="M412 346l8 23-6-32-7-24z"/><path class=qaU d="M405 338l7 8-5-33-7-7z"/><path class=qaQ d="M398 349l7-11-5-32-8 11z"/><path class=qbi d="M391 377l7-28-6-32-7 28z"/><path class=qbO d="M383 417l8-40-6-32-7 39z"/><path class=qcx d="M376 461l7-44-5-33-7 44zM738 341l7-44-5-25-7 44z"/><path class=qbL d="M680 303l7 22-5-25-8-22z"/><path class=qbB d="M673 299l7 4-6-25-7-4z"/><path class=qbG d="M665 313l8-14-6-25-7 13z"/><path class=qcb d="M658 340l7-27-5-26-7 28z"/><path class=qcB d="M651 372l7-32-5-25-8 32z"/><path class=qcn d="M614 357l8 18-6-26-7-17z"/><path class=qce d="M607 354l7 3-5-25-7-3z"/><path class=qcn d="M600 369l7-15-5-25-8 15z"/><path class=qcC d="M593 389l7-20-6-25-7 20zM549 396l7 2-5-26-8-1z"/><path class=qcv d="M534 394l8-6 7 8-6-25-7-9-7 7z"/><path class=qbS d="M491 378l7 10-6-25-7-10z"/><path class=qbU d="M483 386l8-8-6-25-7 8z"/><path class=qcl d="M476 411l7-25-5-25-7 25z"/><path class=qbs d="M418 371l7 24-5-26-8-23z"/><path class=qbk d="M411 364l7 7-6-25-7-8z"/><path class=qbl d="M403 374l8-10-6-26-7 11z"/><path class=qbF d="M396 402l7-28-5-25-7 28z"/><path class=qcl d="M389 442l7-40-5-25-8 40z"/><path class=qcR d="M381 486l8-44-6-25-7 44z"/><path class=qcE d="M744 350l7-44-6-9-7 44z"/><path class=qbL d="M678 308l7 4-5-9-7-4z"/><path class=qbQ d="M671 322l7-14-5-9-8 14z"/><path class=qcl d="M664 349l7-27-6-9-7 27z"/><path class=qcM d="M656 381l8-32-6-9-7 32z"/><path class=qbr d="M416 373l7 7-5-9-7-7z"/><path class=qbt d="M409 383l7-10-5-9-8 10z"/><path class=qbO d="M401 411l8-28-6-9-7 28z"/><path class=qcv d="M394 451l7-40-5-9-7 40z"/><path class=qcW d="M387 495l7-44-5-9-8 44z"/><path class=qcz d="M749 341l7-44-5 9-7 44z"/><path class=qce d="M669 340l7-27-5 9-7 27z"/><path class=qcF d="M662 372l7-32-5 9-8 32z"/><path class=qdi d="M458 480l7 4-5 9-8-4z"/><path class=qbG d="M407 402l7-28-5 9-8 28z"/><path class=qcn d="M400 442l7-40-6 9-7 40z"/><path class=qcQ d="M392 486l8-44-6 9-7 44z"/><path class=qcg d="M755 321l7-44-6 20-7 44z"/><path class=qbo d="M412 383l8-28-6 19-7 28z"/><path class=qbS d="M405 422l7-39-5 19-7 40z"/><path class=qcE d="M398 466l7-44-5 20-8 44z"/><path class=qbL d="M760 304l7-44-5 17-7 44z"/><path class=qbr d="M680 304l7-28-5 17-8 27z"/><path class=qbS d="M673 335l7-31-6 16-7 32z"/><path class=qcn d="M665 360l8-25-6 17-7 25z"/><path class=qbz d="M498 374l7-24-5 17-8 24z"/><path class=qbb d="M418 366l7-28-5 17-8 28z"/><path class=qby d="M411 405l7-39-6 17-7 39z"/><path class=qcn d="M403 449l8-44-6 17-7 44z"/><path class=qbC d="M765 302l8-43-6 1-7 44z"/><path class=qcn d="M758 342l7-40-5 2-7 40z"/><path class=qaQ d="M693 274l7-14-6 2-7 14z"/><path class=qbk d="M685 302l8-28-6 2-7 28z"/><path class=qbI d="M678 334l7-32-5 2-7 31z"/><path class=qce d="M671 358l7-24-5 1-8 25z"/><path class=qbs d="M627 331l7-15-5 2-7 14z"/><path class=qbI d="M620 350l7-19-5 1-8 20z"/><path class=qbQ d="M613 357l7-7-6 2-7 7z"/><path class=qbG d="M591 353l7-6-5 2-8 6z"/><path class=qbI d="M583 359l8-6-6 2-7 6z"/><path class=qbz d="M562 356l7-7-6 2-7 6z"/><path class=qbL d="M554 375l8-19-6 1-7 20z"/><path class=qca d="M547 390l7-15-5 2-7 15z"/><path class=qbe d="M511 348l7-8-6 1-7 9z"/><path class=qbr d="M503 372l8-24-6 2-7 24z"/><path class=qbS d="M496 404l7-32-5 2-7 32z"/><path class=qaI d="M431 336l7-11-6 2-7 11z"/><path class=qaV d="M423 364l8-28-6 2-7 28z"/><path class=qbp d="M416 404l7-40-5 2-7 39z"/><path class=qce d="M409 447l7-43-5 1-8 44z"/><path class=qbL d="M771 318l7-44-5-15-8 43z"/><path class=qcv d="M764 358l7-40-6-16-7 40z"/><path class=qaR d="M705 276l8 4-6-15-7-5z"/><path class=qbb d="M698 290l7-14-5-16-7 14z"/><path class=qbq d="M691 317l7-27-5-16-8 28z"/><path class=qbP d="M684 349l7-32-6-15-7 32z"/><path class=qcn d="M676 374l8-25-6-15-7 24z"/><path class=qbC d="M647 334l7 18-5-16-7-18z"/><path class=qbs d="M640 331l7 3-5-16-8-2z"/><path class=qbB d="M633 346l7-15-6-15-7 15z"/><path class=qbQ d="M625 366l8-20-6-15-7 19z"/><path class=qbY d="M618 372l7-6-5-16-7 7z"/><path class=qbQ d="M611 364l7 8-5-15-8-9z"/><path class=qbL d="M603 362l8 2-6-16-7-1z"/><path class=qbO d="M596 368l7-6-5-15-7 6z"/><path class=qbQ d="M582 373l7 2 7-7-5-15-8 6-7-1z"/><path class=qbF d="M574 365l8 8-6-15-7-9z"/><path class=qbD d="M567 371l7-6-5-16-7 7z"/><path class=qbT d="M560 391l7-20-5-15-8 19z"/><path class=qcg d="M553 406l7-15-6-16-7 15z"/><path class=qbv d="M531 365l7 20-6-15-7-21z"/><path class=qbk d="M516 363l7-8 8 10-6-16-7-9-7 8z"/><path class=qby d="M509 388l7-25-5-15-8 24z"/><path class=qbY d="M502 420l7-32-6-16-7 32z"/><path class=qaK d="M443 341l8 7-6-15-7-8z"/><path class=qaN d="M436 351l7-10-5-16-7 11z"/><path class=qaS d="M429 379l7-28-5-15-8 28z"/><path class=qby d="M421 419l8-40-6-15-7 40z"/><path class=qcl d="M414 463l7-44-5-15-7 43z"/><path class=qca d="M776 338l8-44-6-20-7 44z"/><path class=qcH d="M769 378l7-40-5-20-7 40z"/><path class=qbi d="M711 296l7 5-5-21-8-4z"/><path class=qbm d="M704 310l7-14-6-20-7 14z"/><path class=qbF d="M696 338l8-28-6-20-7 27z"/><path class=qcf d="M689 369l7-31-5-21-7 32z"/><path class=qcC d="M682 394l7-25-5-20-8 25z"/><path class=qbQ d="M653 354l7 18-6-20-7-18z"/><path class=qbI d="M645 352l8 2-6-20-7-3z"/><path class=qbQ d="M638 366l7-14-5-21-7 15z"/><path class=qcj d="M631 386l7-20-5-20-8 20z"/><path class=qcp d="M624 393l7-7-6-20-7 6z"/><path class=qcj d="M616 384l8 9-6-21-7-8z"/><path class=qca d="M609 383l7 1-5-20-8-2z"/><path class=qce d="M602 389l7-6-6-21-7 6z"/><path class=qbV d="M573 392l7-7-6-20-7 6z"/><path class=qcj d="M565 411l8-19-6-21-7 20z"/><path class=qbx d="M529 375l7 10-5-20-8-10z"/><path class=qbw d="M522 384l7-9-6-20-7 8z"/><path class=qbP d="M514 408l8-24-6-21-7 25z"/><path class=qcp d="M507 440l7-32-5-20-7 32z"/><path class=qbd d="M456 369l7 23-5-20-7-24z"/><path class=qaU d="M449 361l7 8-5-21-8-7z"/><path class=qaR d="M442 372l7-11-6-20-7 10z"/><path class=qbk d="M434 400l8-28-6-21-7 28z"/><path class=qbO d="M427 439l7-39-5-21-8 40z"/><path class=qcz d="M420 483l7-44-6-20-7 44z"/><path class=qcj d="M782 346l7-44-5-8-8 44z"/><path class=qbo d="M716 304l8 4-6-7-7-5z"/><path class=qbs d="M709 317l7-13-5-8-7 14z"/><path class=qbO d="M702 345l7-28-5-7-8 28z"/><path class=qcp d="M694 377l8-32-6-7-7 31z"/><path class=qbQ d="M651 359l7 3-5-8-8-2z"/><path class=qbY d="M644 374l7-15-6-7-7 14z"/><path class=qcp d="M636 394l8-20-6-8-7 20z"/><path class=qaS d="M454 368l8 8-6-7-7-8z"/><path class=qbc d="M447 379l7-11-5-7-7 11z"/><path class=qbr d="M440 407l7-28-5-7-8 28z"/><path class=qbU d="M432 447l8-40-6-7-7 39z"/><path class=qcF d="M425 491l7-44-5-8-7 44z"/><path class=qca d="M787 338l8-44-6 8-7 44z"/><path class=qbm d="M714 310l8-14-6 8-7 13z"/><path class=qbG d="M707 337l7-27-5 7-7 28z"/><path class=qcj d="M700 369l7-32-5 8-8 32z"/><path class=qbQ d="M649 366l7-15-5 8-7 15z"/><path class=qcj d="M642 386l7-20-5 8-8 20z"/><path class=qcV d="M496 477l7 4-5 8-7-5z"/><path class=qbk d="M445 399l7-28-5 8-7 28z"/><path class=qbO d="M438 439l7-40-5 8-8 40z"/><path class=qcz d="M431 483l7-44-6 8-7 44z"/><path class=qbU d="M793 337l7-44-5 1-8 44z"/><path class=qbi d="M720 309l7-14-5 1-8 14z"/><path class=qbz d="M713 336l7-27-6 1-7 27z"/><path class=qcb d="M705 368l8-32-6 1-7 32z"/><path class=qcw d="M698 393l7-25-5 1-7 25z"/><path class=qbL d="M654 365l8-14-6 0-7 15z"/><path class=qca d="M647 385l7-20-5 1-7 20z"/><path class=qcj d="M640 392l7-7-5 1-8 6z"/><path class=qbY d="M618 388l7-6-5 0-7 6z"/><path class=qbr d="M538 383l7-9-5 1-7 8z"/><path class=qaT d="M458 371l7-11-5 1-8 10z"/><path class=qba d="M451 399l7-28-6 0-7 28z"/><path class=qbG d="M443 438l8-39-6 0-7 40z"/><path class=qcs d="M436 482l7-44-5 1-7 44z"/><path class=qbY d="M798 344l8-44-6-7-7 44z"/><path class=qbf d="M733 302l7 4-5-6-8-5z"/><path class=qbk d="M725 316l8-14-6-7-7 14z"/><path class=qbB d="M718 343l7-27-5-7-7 27z"/><path class=qce d="M711 375l7-32-5-7-8 32z"/><path class=qcB d="M704 400l7-25-6-7-7 25z"/><path class=qbG d="M667 357l7 3-5-7-7-2z"/><path class=qbO d="M660 372l7-15-5-6-8 14z"/><path class=qce d="M653 392l7-20-6-7-7 20z"/><path class=qcn d="M645 398l8-6-6-7-7 7z"/><path class=qbY d="M624 394l7-6 7 2-5-7-8-1-7 6z"/><path class=qbv d="M551 381l7 10-5-7-8-10zM543 389l8-8-6-7-7 9z"/><path class=qaV d="M463 377l8-10-6-7-7 11z"/><path class=qba d="M456 405l7-28-5-6-7 28z"/><path class=qbL d="M449 445l7-40-5-6-8 39z"/><path class=qcv d="M442 489l7-44-6-7-7 44z"/><path class=qca d="M804 351l7-44-5-7-8 44z"/><path class=qba d="M738 309l7 4-5-7-7-4z"/><path class=qbh d="M731 322l7-13-5-7-8 14z"/><path class=qbC d="M724 350l7-28-6-6-7 27z"/><path class=qcf d="M716 382l8-32-6-7-7 32z"/><path class=qbI d="M673 364l7 3-6-7-7-3z"/><path class=qbQ d="M665 379l8-15-6-7-7 15z"/><path class=qcg d="M658 399l7-20-5-7-7 20z"/><path class=qbY d="M636 395l8 2-6-7-7-2z"/><path class=qcd d="M629 401l7-6-5-7-7 6z"/><path class=qbw d="M549 396l7-8-5-7-8 8z"/><path class=qbP d="M542 421l7-25-6-7-7 25z"/><path class=qaU d="M476 373l7 8-5-7-7-7z"/><path class=qaQ d="M469 384l7-11-5-6-8 10z"/><path class=qbi d="M462 412l7-28-6-7-7 28z"/><path class=qbO d="M454 452l8-40-6-7-7 40z"/><path class=qcx d="M447 496l7-44-5-7-7 44z"/><path class=qca d="M809 350l7-44-5 1-7 44z"/><path class=qbh d="M736 322l8-14-6 1-7 13z"/><path class=qbC d="M729 349l7-27-5 0-7 28z"/><path class=qce d="M722 381l7-32-5 1-8 32z"/><path class=qbQ d="M671 378l7-15-5 1-8 15z"/><path class=qbw d="M554 395l8-8-6 1-7 8z"/><path class=qbO d="M547 420l7-25-5 1-7 25z"/><path class=qaQ d="M474 383l8-10-6 0-7 11z"/><path class=qbi d="M467 411l7-28-5 1-7 28z"/><path class=qbO d="M460 451l7-40-5 1-8 40z"/><path class=qcx d="M452 495l8-44-6 1-7 44z"/><path class=qbQ d="M815 342l7-44-6 8-7 44z"/><path class=qcz d="M807 382l8-40-6 8-7 40z"/><path class=qbe d="M742 314l7-14-5 8-8 14z"/><path class=qbs d="M735 342l7-28-6 8-7 27z"/><path class=qbU d="M727 373l8-31-6 7-7 32z"/><path class=qbF d="M676 370l8-14-6 7-7 15z"/><path class=qbX d="M669 390l7-20-5 8-7 20z"/><path class=qbD d="M553 412l7-24-6 7-7 25z"/><path class=qce d="M545 444l8-32-6 8-7 32z"/><path class=qbc d="M472 404l8-28-6 7-7 28z"/><path class=qbF d="M465 443l7-39-5 7-7 40z"/><path class=qcp d="M458 487l7-44-5 8-8 44z"/><path class=qbP d="M820 350l7-44-5-8-7 44z"/><path class=qcz d="M813 389l7-39-5-8-8 40z"/><path class=qbg d="M755 308l7 4-6-7-7-5z"/><path class=qbe d="M747 321l8-13-6-8-7 14z"/><path class=qbs d="M740 349l7-28-5-7-7 28z"/><path class=qbU d="M733 381l7-32-5-7-8 31z"/><path class=qbz d="M689 363l7 3-5-8-7-2z"/><path class=qbD d="M682 378l7-15-5-7-8 14z"/><path class=qbV d="M674 397l8-19-6-8-7 20z"/><path class=qbS d="M645 400l8-6-6-7-7 6z"/><path class=qbU d="M631 405l7 1 7-6-5-7-7 6-8-2z"/><path class=qbL d="M616 403l8-7 7 9-6-8-7-8-7 6z"/><path class=qbp d="M565 395l8-8-6-8-7 9z"/><path class=qbD d="M558 420l7-25-5-7-7 24z"/><path class=qce d="M551 451l7-31-5-8-8 32z"/><path class=qaO d="M485 383l7-11-5-7-7 11z"/><path class=qbc d="M478 411l7-28-5-7-8 28z"/><path class=qbF d="M471 451l7-40-6-7-7 39z"/><path class=qcp d="M463 495l8-44-6-8-7 44z"/><path class=qcd d="M826 370l7-44-6-20-7 44z"/><path class=qcK d="M818 410l8-40-6-20-7 39z"/><path class=qbs d="M767 332l8 22-6-20-7-22z"/><path class=qbj d="M760 328l7 4-5-20-7-4z"/><path class=qbo d="M753 342l7-14-5-20-8 13z"/><path class=qbI d="M745 369l8-27-6-21-7 28z"/><path class=qcl d="M738 401l7-32-5-20-7 32z"/><path class=qbU d="M702 386l7 18-5-21-8-17z"/><path class=qbL d="M694 383l8 3-6-20-7-3z"/><path class=qbT d="M687 398l7-15-5-20-7 15z"/><path class=qcj d="M680 418l7-20-5-20-8 19z"/><path class=qcl d="M636 425l8 2-6-21-7-1z"/><path class=qbX d="M622 423l7-6 7 8-5-20-7-9-8 7z"/><path class=qbS d="M563 440l8-25-6-20-7 25z"/><path class=qcv d="M556 472l7-32-5-20-7 31z"/><path class=qaQ d="M498 393l7 7-5-20-8-8z"/><path class=qaR d="M491 403l7-10-6-21-7 11z"/><path class=qbm d="M483 431l8-28-6-20-7 28z"/><path class=qbP d="M476 471l7-40-5-20-7 40z"/><path class=qcA d="M469 515l7-44-5-20-8 44z"/><path class=qbv d="M765 343l8 5-6-16-7-4z"/><path class=qbz d="M758 357l7-14-5-15-7 14z"/><path class=qbU d="M751 385l7-28-5-15-8 27z"/><path class=qcw d="M744 417l7-32-6-16-7 32z"/><path class=qca d="M700 399l7 2-5-15-8-3z"/><path class=qcn d="M627 439l7-7 8 9-6-16-7-8-7 6z"/><path class=qbf d="M503 408l8 8-6-16-7-7z"/><path class=qbi d="M496 419l7-11-5-15-7 10z"/><path class=qbw d="M489 447l7-28-5-16-8 28z"/><path class=qcf d="M482 487l7-40-6-16-7 40z"/><path class=qcO d="M474 530l8-43-6-16-7 44z"/><path class=qbz d="M764 355l7-13-6 1-7 14z"/><path class=qbU d="M756 383l8-28-6 2-7 28z"/><path class=qde d="M545 522l8 5-6 2-7-5z"/><path class=qcS d="M538 501l7 21-5 2-8-21z"/><path class=qba d="M502 417l7-11-6 2-7 11z"/><path class=qbw d="M494 445l8-28-6 2-7 28z"/><path class=qcf d="M487 485l7-40-5 2-7 40z"/><path class=qcO d="M480 529l7-44-5 2-8 43z"/><path class=qbF d="M762 366l7-28-5 17-8 28z"/><path class=qcf d="M755 398l7-32-6 17-7 32z"/><path class=qcV d="M558 510l7-14-5 17-7 14z"/><path class=qcT d="M551 505l7 5-5 17-8-5z"/><path class=qcF d="M543 484l8 21-6 17-7-21z"/><path class=qbk d="M500 428l7-28-5 17-8 28z"/><path class=qbO d="M492 468l8-40-6 17-7 40z"/><path class=qcz d="M485 512l7-44-5 17-7 44z"/><path class=qbL d="M760 378l7-32-5 20-7 32z"/><path class=qcG d="M556 486l7 4 8-14-6 20-7 14-7-5z"/><path class=qcp d="M549 464l7 22-5 19-8-21z"/><path class=qaV d="M505 408l7-28-5 20-7 28z"/><path class=qbt d="M498 448l7-40-5 20-8 40z"/><path class=qcd d="M491 492l7-44-6 20-7 44z"/><path class=qbr d="M853 338l7-44-5 9-8 44z"/><path class=qaM d="M780 310l7-14-5 9-7 14z"/><path class=qbc d="M773 337l7-27-5 9-8 27z"/><path class=qbw d="M765 369l8-32-6 9-7 32z"/><path class=qbS d="M758 394l7-25-5 9-7 25z"/><path class=qbx d="M707 386l7-20-5 9-7 20z"/><path class=qbz d="M642 411l7-20-5 9-8 20z"/><path class=qbN d="M634 426l8-15-6 9-7 15z"/><path class=qcs d="M562 477l7 4-6 9-7-4z"/><path class=qbY d="M554 455l8 22-6 9-7-22z"/><path class=qaB d="M518 371l7-10-5 9-8 10z"/><path class=qaN d="M511 399l7-28-6 9-7 28z"/><path class=qba d="M503 439l8-40-6 9-7 40z"/><path class=qbQ d="M496 483l7-44-5 9-7 44z"/><path class=qbu d="M858 347l8-44-6-9-7 44z"/><path class=qaL d="M793 305l7 4-5-9-8-4z"/><path class=qaM d="M785 319l8-14-6-9-7 14z"/><path class=qbc d="M778 346l7-27-5-9-7 27z"/><path class=qbw d="M771 378l7-32-5-9-8 32z"/><path class=qbU d="M764 403l7-25-6-9-7 25z"/><path class=qbe d="M727 360l8 3-6-9-7-3z"/><path class=qbk d="M720 375l7-15-5-9-8 15z"/><path class=qbw d="M713 395l7-20-6-9-7 20z"/><path class=qbD d="M705 401l8-6-6-9-7 6z"/><path class=qbw d="M698 393l7 8-5-9-7-8z"/><path class=qbr d="M691 391l7 2-5-9-8-2z"/><path class=qbv d="M684 397l7-6-6-9-7 6z"/><path class=qbw d="M676 404l8-7-6-9-7 7z"/><path class=qbz d="M647 420l7-20-5-9-7 20z"/><path class=qbQ d="M633 432l7 3 7-15-5-9-8 15-7-3z"/><path class=qaQ d="M611 384l7 10-5-9-8-10z"/><path class=qaS d="M603 392l8-8-6-9-7 8z"/><path class=qaz d="M531 370l7 7-6-9-7-7z"/><path class=qaC d="M523 380l8-10-6-9-7 10z"/><path class=qaN d="M516 408l7-28-5-9-7 28z"/><path class=qbi d="M509 448l7-40-5-9-8 40z"/><path class=qbS d="M502 492l7-44-6-9-7 44z"/><path class=qbI d="M864 372l7-44-5-25-8 44z"/><path class=qbe d="M806 335l7 21-6-25-7-22z"/><path class=qaQ d="M798 330l8 5-6-26-7-4z"/><path class=qbg d="M791 344l7-14-5-25-8 14z"/><path class=qbp d="M784 372l7-28-6-25-7 27z"/><path class=qbP d="M776 403l8-31-6-26-7 32z"/><path class=qbz d="M740 388l7 18-5-25-7-18z"/><path class=qbr d="M733 386l7 2-5-25-8-3z"/><path class=qby d="M725 400l8-14-6-26-7 15z"/><path class=qbP d="M718 420l7-20-5-25-7 20z"/><path class=qbI d="M696 417l8 1-6-25-7-2z"/><path class=qbO d="M689 423l7-6-5-26-7 6z"/><path class=qbP d="M682 429l7-6-5-26-8 7z"/><path class=qcg d="M638 457l7 3-5-25-7-3z"/><path class=qbP d="M631 440l7 17-5-25-8-18z"/><path class=qbv d="M624 419l7 21-6-26-7-20z"/><path class=qbi d="M616 409l8 10-6-25-7-10z"/><path class=qbj d="M609 418l7-9-5-25-8 8zM551 426l7 32-5-25-8-32z"/><path class=qaT d="M543 402l8 24-6-25-7-24z"/><path class=qaK d="M536 395l7 7-5-25-7-7z"/><path class=qaL d="M529 406l7-11-5-25-8 10z"/><path class=qaR d="M522 434l7-28-6-26-7 28z"/><path class=qbx d="M514 473l8-39-6-26-7 40z"/><path class=qcj d="M507 517l7-44-5-25-7 44z"/><path class=qcl d="M869 405l7-44-5-33-7 44z"/><path class=qbX d="M818 389l8 31-6-32-7-32z"/><path class=qby d="M811 367l7 22-5-33-7-21z"/><path class=qbo d="M804 363l7 4-5-32-8-5z"/><path class=qbs d="M796 376l8-13-6-33-7 14z"/><path class=qbO d="M789 404l7-28-5-32-7 28z"/><path class=qcp d="M636 472l8 18-6-33-7-17z"/><path class=qbU d="M629 452l7 20-5-32-7-21z"/><path class=qbG d="M614 450l8-8 7 10-5-33-8-10-7 9zM556 458l7 33-5-33-7-32z"/><path class=qbk d="M549 435l7 23-5-32-8-24z"/><path class=qbg d="M542 427l7 8-6-33-7-7z"/><path class=qbc d="M534 438l8-11-6-32-7 11z"/><path class=qbp d="M527 466l7-28-5-32-7 28z"/><path class=qbX d="M520 506l7-40-5-32-8 39z"/><path class=qcE d="M512 550l8-44-6-33-7 44z"/><path class=qcF d="M875 433l7-44-6-28-7 44z"/><path class=qbX d="M816 396l8 21-6-28-7-22z"/><path class=qbL d="M809 391l7 5-5-29-7-4z"/><path class=qbS d="M802 405l7-14-5-28-8 13z"/><path class=qcs d="M634 480l8 21-6-29-7-20z"/><path class=qcg d="M620 479l7-9 7 10-5-28-7-10-8 8z"/><path class=qbF d="M554 463l8 24-6-29-7-23z"/><path class=qbs d="M547 456l7 7-5-28-7-8z"/><path class=qbv d="M540 467l7-11-5-29-8 11z"/><path class=qbP d="M532 495l8-28-6-29-7 28z"/><path class=qcv d="M525 534l7-39-5-29-7 40z"/><path class=qda d="M518 578l7-44-5-28-8 44z"/><path class=qcR d="M880 448l7-44-5-15-7 44z"/><path class=qca d="M815 406l7 4-6-14-7-5z"/><path class=qcg d="M807 419l8-13-6-15-7 14z"/><path class=qcv d="M625 493l8-8-6-15-7 9z"/><path class=qbG d="M553 470l7 8-6-15-7-7z"/><path class=qbK d="M545 481l8-11-6-14-7 11z"/><path class=qce d="M538 509l7-28-5-14-8 28z"/><path class=qcH d="M531 549l7-40-6-14-7 39z"/><path class=qdh d="M523 593l8-44-6-15-7 44z"/><path class=qcS d="M886 444l7-44-6 4-7 44z"/><path class=qdK d="M856 515l8 7-6 4-7-7z"/><path class=qdt d="M849 491l7 24-5 4-7-24z"/><path class=qdi d="M776 498l8 10-6 4-7-10z"/><path class=qcN d="M689 490l7 9-5 4-7-9z"/><path class=qdw d="M594 582l8 5-6 4-7-5z"/><path class=qdk d="M587 561l7 21-5 4-7-21z"/><path class=qcb d="M543 505l8-28-6 4-7 28z"/><path class=qcF d="M536 545l7-40-5 4-7 40z"/><path class=qdg d="M529 589l7-44-5 4-8 44z"/><path class=qdr d="M876 491l8-28-6 20-7 28z"/><path class=qdz d="M869 502l7-11-5 20-7 11z"/><path class=qdv d="M862 494l7 8-5 20-8-7z"/><path class=qdj d="M855 471l7 23-6 21-7-24z"/><path class=qcL d="M847 439l8 32-6 20-7-32z"/><path class=qde d="M614 553l8-28-6 21-7 27z"/><path class=qdk d="M600 562l7 4 7-13-5 20-7 14-8-5z"/><path class=qdb d="M593 540l7 22-6 20-7-21z"/><path class=qcE d="M585 509l8 31-6 21-7-31z"/><path class=qcq d="M542 524l7-39-6 20-7 40z"/><path class=qcU d="M534 568l8-44-6 21-7 44z"/><path class=qcF d="M889 432l7-40-5 31-7 40z"/><path class=qcZ d="M882 460l7-28-5 31-8 28z"/><path class=qdh d="M875 471l7-11-6 31-7 11z"/><path class=qde d="M867 463l8 8-6 31-7-8z"/><path class=qcR d="M860 440l7 23-5 31-7-23z"/><path class=qcr d="M853 408l7 32-5 31-8-32z"/><path class=qcM d="M620 522l7-28-5 31-8 28z"/><path class=qcV d="M613 536l7-14-6 31-7 13z"/><path class=qcR d="M605 531l8 5-6 30-7-4z"/><path class=qcE d="M598 510l7 21-5 31-7-22z"/><path class=qcc d="M591 478l7 32-5 30-8-31z"/><path class=qcx d="M540 537l7-43-5 30-8 44z"/><path class=qcB d="M887 429l8-28-6 31-7 28z"/><path class=qcN d="M880 440l7-11-5 31-7 11z"/><path class=qcH d="M873 432l7 8-5 31-8-8z"/><path class=qcq d="M866 409l7 23-6 31-7-23z"/><path class=qbK d="M858 376l8 33-6 31-7-32z"/><path class=qcv d="M618 504l7-13-5 31-7 14z"/><path class=qcs d="M611 500l7 4-5 32-8-5z"/><path class=qbY d="M603 478l8 22-6 31-7-21z"/><path class=qbx d="M596 447l7 31-5 32-7-32z"/><path class=qbi d="M553 462l7-39-6 31-7 40z"/><path class=qbQ d="M545 506l8-44-6 32-7 43z"/><path class=qaS d="M907 338l8-43-6 22-7 44z"/><path class=qbC d="M900 378l7-40-5 23-7 40z"/><path class=qce d="M893 406l7-28-5 23-8 28z"/><path class=qcl d="M878 409l8 8-6 23-7-8z"/><path class=qbP d="M871 386l7 23-5 23-7-23z"/><path class=qbe d="M820 370l7-32-5 22-7 32z"/><path class=qbs d="M813 394l7-24-5 22-8 25z"/><path class=qaT d="M645 408l8-24-6 22-7 25z"/><path class=qbk d="M638 440l7-32-5 23-7 32z"/><path class=qbS d="M616 477l8 5-6 22-7-4z"/><path class=qbz d="M609 456l7 21-5 23-8-22z"/><path class=qax d="M565 400l8-28-6 23-7 28z"/><path class=qaO d="M558 440l7-40-5 23-7 39z"/><path class=qbu d="M551 483l7-43-5 22-8 44z"/><path class=qaX d="M913 331l7-43-5 7-8 43z"/><path class=qbr d="M906 371l7-40-6 7-7 40z"/><path class=qbQ d="M898 399l8-28-6 7-7 28z"/><path class=qcb d="M891 410l7-11-5 7-7 11z"/><path class=qan d="M840 303l7-14-5 7-7 14z"/><path class=qaC d="M833 331l7-28-5 7-8 28z"/><path class=qaU d="M826 363l7-32-6 7-7 32z"/><path class=qbk d="M818 387l8-24-6 7-7 24z"/><path class=qaK d="M775 360l7-15-6 7-7 15z"/><path class=qaU d="M767 379l8-19-6 7-7 19z"/><path class=qaQ d="M702 404l7-19-5 7-8 19z"/><path class=qbf d="M694 419l8-15-6 7-7 15z"/><path class=qaK d="M651 401l7-24-5 7-8 24z"/><path class=qbg d="M644 433l7-32-6 7-7 32z"/><path class=qbs d="M636 461l8-28-6 7-7 28z"/><path class=qbG d="M629 475l7-14-5 7-7 14z"/><path class=qaa d="M578 365l7-11-5 7-7 11z"/><path class=qaj d="M571 393l7-28-5 7-8 28z"/><path class=qaK d="M563 433l8-40-6 7-7 40z"/><path class=qba d="M556 477l7-44-5 7-7 43z"/><path class=qaU d="M918 343l8-44-6-11-7 43z"/><path class=qbs d="M911 383l7-40-5-12-7 40z"/><path class=qbS d="M904 411l7-28-5-12-8 28z"/><path class=qcf d="M896 422l8-11-6-12-7 11z"/><path class=qca d="M889 414l7 8-5-12-7-8z"/><path class=qak d="M853 301l7 5-5-12-8-5z"/><path class=qar d="M846 315l7-14-6-12-7 14z"/><path class=qaF d="M838 343l8-28-6-12-7 28z"/><path class=qaQ d="M831 374l7-31-5-12-7 32z"/><path class=qbl d="M824 399l7-25-5-11-8 24z"/><path class=qbt d="M816 407l8-8-6-12-7 9z"/><path class=qbo d="M809 397l7 10-5-11-7-10z"/><path class=qaI d="M787 357l8 2-6-11-7-3z"/><path class=qaN d="M780 371l7-14-5-12-7 15z"/><path class=qaR d="M773 391l7-20-5-11-8 19z"/><path class=qbc d="M765 398l8-7-6-12-7 7z"/><path class=qaR d="M758 389l7 9-5-12-7-8z"/><path class=qaT d="M751 388l7 1-5-11-8-2z"/><path class=qaV d="M744 394l7-6-6-12-7 6z"/><path class=qaQ d="M729 398l7 2 8-6-6-12-7 6-7-1z"/><path class=qaO d="M714 396l8-6 7 8-5-11-8-9-7 7z"/><path class=qaR d="M707 416l7-20-5-11-7 19z"/><path class=qbi d="M700 431l7-15-5-12-8 15z"/><path class=qba d="M693 428l7 3-6-12-7-2z"/><path class=qaB d="M671 380l7 10-5-12-8-9z"/><path class=qaC d="M664 389l7-9-6-11-7 8z"/><path class=qaL d="M656 413l8-24-6-12-7 24z"/><path class=qbc d="M649 445l7-32-5-12-7 32z"/><path class=qbv d="M642 473l7-28-5-12-8 28z"/><path class=qbK d="M634 486l8-13-6-12-7 14z"/><path class=qbG d="M627 482l7 4-5-11-7-5z"/><path class=qaa d="M583 377l8-11 7 7-5-11-8-8-7 11z"/><path class=qap d="M576 405l7-28-5-12-7 28z"/><path class=qaL d="M569 444l7-39-5-12-8 40z"/><path class=qbk d="M562 488l7-44-6-11-7 44z"/><path class=qba d="M924 372l7-44-5-29-8 44z"/><path class=qbN d="M917 412l7-40-6-29-7 40z"/><path class=qcn d="M909 439l8-27-6-29-7 28z"/><path class=qcz d="M902 450l7-11-5-28-8 11z"/><path class=qcv d="M895 443l7 7-6-28-7-8z"/><path class=qbY d="M887 419l8 24-6-29-7-23z"/><path class=qaH d="M866 334l7 22-6-29-7-21z"/><path class=qaC d="M858 330l8 4-6-28-7-5z"/><path class=qaF d="M851 344l7-14-5-29-7 14z"/><path class=qaT d="M844 371l7-27-5-29-8 28z"/><path class=qbi d="M836 403l8-32-6-28-7 31z"/><path class=qbF d="M829 428l7-25-5-29-7 25z"/><path class=qbO d="M822 436l7-8-5-29-8 8z"/><path class=qbG d="M815 426l7 10-6-29-7-10z"/><path class=qbo d="M807 406l8 20-6-29-7-20z"/><path class=qbb d="M800 388l7 18-5-29-7-18z"/><path class=qaV d="M793 385l7 3-5-29-8-2z"/><path class=qaS d="M785 400l8-15-6-28-7 14z"/><path class=qbk d="M778 420l7-20-5-29-7 20z"/><path class=qbr d="M771 426l7-6-5-29-8 7z"/><path class=qbk d="M764 418l7 8-6-28-7-9z"/><path class=qba d="M749 422l7-6 8 2-6-29-7-1-7 6z"/><path class=qbi d="M735 427l7 2 7-7-5-28-8 6-7-2z"/><path class=qbc d="M720 425l7-7 8 9-6-29-7-8-8 6z"/><path class=qbm d="M713 445l7-20-6-29-7 20z"/><path class=qbw d="M698 457l7 3 8-15-6-29-7 15-7-3z"/><path class=qbk d="M691 439l7 18-5-29-8-17z"/><path class=qaV d="M684 419l7 20-6-28-7-21z"/><path class=qaN d="M669 417l7-8 8 10-6-29-7-10-7 9z"/><path class=qaR d="M662 442l7-25-5-28-8 24z"/><path class=qbp d="M654 474l8-32-6-29-7 32z"/><path class=qbP d="M647 501l7-27-5-29-7 28z"/><path class=qce d="M640 515l7-14-5-28-8 13z"/><path class=qcb d="M633 510l7 5-6-29-7-4z"/><path class=qbI d="M625 489l8 21-6-28-7-22z"/><path class=qaN d="M611 426l7 32-5-29-8-32z"/><path class=qax d="M603 402l8 24-6-29-7-24z"/><path class=qaj d="M596 395l7 7-5-29-7-7z"/><path class=qap d="M589 405l7-10-5-29-8 11z"/><path class=qaC d="M582 433l7-28-6-28-7 28z"/><path class=qaR d="M574 473l8-40-6-28-7 39z"/><path class=qbB d="M567 517l7-44-5-29-7 44z"/><path class=qbH d="M929 412l8-44-6-40-7 44z"/><path class=qcr d="M922 452l7-40-5-40-7 40z"/><path class=qcL d="M915 480l7-28-5-40-8 27z"/><path class=qcW d="M907 491l8-11-6-41-7 11z"/><path class=qcQ d="M900 483l7 8-5-41-7-7z"/><path class=qcE d="M893 460l7 23-5-40-8-24z"/><path class=qca d="M886 428l7 32-6-41-7-32z"/><path class=qbx d="M878 396l8 32-6-41-7-31z"/><path class=qbc d="M871 375l7 21-5-40-7-22z"/><path class=qaQ d="M864 370l7 5-5-41-8-4z"/><path class=qaS d="M856 384l8-14-6-40-7 14z"/><path class=qbo d="M849 412l7-28-5-40-7 27z"/><path class=qbO d="M842 444l7-32-5-41-8 32z"/><path class=qcl d="M835 468l7-24-6-41-7 25z"/><path class=qcv d="M827 476l8-8-6-40-7 8z"/><path class=qcn d="M820 467l7 9-5-40-7-10z"/><path class=qbS d="M813 446l7 21-5-41-8-20z"/><path class=qby d="M806 428l7 18-6-40-7-18z"/><path class=qbp d="M798 426l8 2-6-40-7-3z"/><path class=qby d="M791 441l7-15-5-41-8 15z"/><path class=qbO d="M784 460l7-19-6-41-7 20z"/><path class=qbU d="M776 467l8-7-6-40-7 6z"/><path class=qbO d="M769 458l7 9-5-41-7-8z"/><path class=qbG d="M762 457l7 1-5-40-8-2z"/><path class=qbL d="M755 463l7-6-6-41-7 6z"/><path class=qbO d="M740 467l7 2 8-6-6-41-7 7-7-2z"/><path class=qbF d="M725 466l8-7 7 8-5-40-8-9-7 7z"/><path class=qbP d="M718 485l7-19-5-41-7 20z"/><path class=qcf d="M704 497l7 3 7-15-5-40-8 15-7-3z"/><path class=qbO d="M696 480l8 17-6-40-7-18z"/><path class=qbt d="M689 459l7 21-5-41-7-20z"/><path class=qba d="M682 450l7 9-5-40-8-10z"/><path class=qbi d="M674 458l8-8-6-41-7 8z"/><path class=qbx d="M667 482l7-24-5-41-7 25z"/><path class=qbX d="M660 514l7-32-5-40-8 32z"/><path class=qcv d="M653 542l7-28-6-40-7 27z"/><path class=qcH d="M645 556l8-14-6-41-7 14z"/><path class=qcF d="M638 551l7 5-5-41-7-5z"/><path class=qcq d="M631 530l7 21-5-41-8-21z"/><path class=qbM d="M624 498l7 32-6-41-7-31z"/><path class=qbi d="M616 466l8 32-6-40-7-32z"/><path class=qaO d="M609 443l7 23-5-40-8-24z"/><path class=qaK d="M602 435l7 8-6-41-7-7z"/><path class=qaL d="M594 446l8-11-6-40-7 10z"/><path class=qaR d="M587 474l7-28-5-41-7 28z"/><path class=qbt d="M580 514l7-40-5-41-8 40z"/><path class=qck d="M573 557l7-43-6-41-7 44z"/><path class=qct d="M935 457l7-44-5-45-8 44z"/><path class=qcX d="M927 497l8-40-6-45-7 40z"/><path class=qdm d="M920 524l7-27-5-45-7 28z"/><path class=qdu d="M913 535l7-11-5-44-8 11z"/><path class=qdp d="M906 528l7 7-6-44-7-8z"/><path class=qde d="M898 504l8 24-6-45-7-23z"/><path class=qcK d="M891 472l7 32-5-44-7-32z"/><path class=qcg d="M884 441l7 31-5-44-8-32z"/><path class=qbG d="M876 419l8 22-6-45-7-21z"/><path class=qby d="M869 415l7 4-5-44-7-5z"/><path class=qbE d="M862 429l7-14-5-45-8 14z"/><path class=qbY d="M855 456l7-27-6-45-7 28z"/><path class=qcx d="M847 488l8-32-6-44-7 32z"/><path class=qcR d="M840 513l7-25-5-44-7 24z"/><path class=qcW d="M833 521l7-8-5-45-8 8z"/><path class=qcQ d="M826 511l7 10-6-45-7-9z"/><path class=qcE d="M818 491l8 20-6-44-7-21z"/><path class=qcn d="M811 473l7 18-5-45-7-18z"/><path class=qce d="M804 470l7 3-5-45-8-2z"/><path class=qcl d="M796 485l8-15-6-44-7 15z"/><path class=qcz d="M789 505l7-20-5-44-7 19z"/><path class=qcF d="M782 511l7-6-5-45-8 7z"/><path class=qcz d="M775 503l7 8-6-44-7-9z"/><path class=qcs d="M767 501l8 2-6-45-7-1z"/><path class=qcv d="M760 507l7-6-5-44-7 6z"/><path class=qcx d="M745 512l8 2 7-7-5-44-8 6-7-2z"/><path class=qcp d="M731 510l7-7 7 9-5-45-7-8-8 7z"/><path class=qcA d="M724 530l7-20-6-44-7 19z"/><path class=qcO d="M709 542l7 3 8-15-6-45-7 15-7-3z"/><path class=qcz d="M702 524l7 18-5-45-8-17z"/><path class=qcd d="M694 504l8 20-6-44-7-21z"/><path class=qbQ d="M687 494l7 10-5-45-7-9z"/><path class=qbS d="M680 502l7-8-5-44-8 8z"/><path class=qcj d="M673 527l7-25-6-44-7 24z"/><path class=qcE d="M665 559l8-32-6-45-7 32z"/><path class=qda d="M658 586l7-27-5-45-7 28z"/><path class=qdh d="M651 600l7-14-5-44-8 14z"/><path class=qdg d="M644 595l7 5-6-44-7-5z"/><path class=qcU d="M636 574l8 21-6-44-7-21z"/><path class=qcx d="M629 543l7 31-5-44-7-32z"/><path class=qbQ d="M622 511l7 32-5-45-8-32z"/><path class=qbu d="M614 487l8 24-6-45-7-23z"/><path class=qba d="M607 480l7 7-5-44-7-8z"/><path class=qbk d="M600 490l7-10-5-45-8 11z"/><path class=qbB d="M593 518l7-28-6-44-7 28z"/><path class=qck d="M585 558l8-40-6-44-7 40z"/><path class=qcL d="M578 602l7-44-5-44-7 43z"/></g>
<line x1="57.80" y1="72.20" x2="94.20" y2="60.10" stroke="#5a5a5a" stroke-width="0.8"/>
<line x1="57.80" y1="72.20" x2="30.50" y2="56.40" stroke="#5a5a5a" stroke-width="0.8"/>
<line x1="30.50" y1="56.40" x2="30.50" y2="21.85" stroke="#5a5a5a" stroke-width="0.8"/>
<text x="60.30" y="79.92" font-size="5.40" text-anchor="start" fill="#333333">-500</text>
<text x="78.50" y="73.87" font-size="5.40" text-anchor="start" fill="#333333">0</text>
<text x="96.70" y="67.82" font-size="5.40" text-anchor="start" fill="#333333">500</text>
<text x="55.00" y="79.02" font-size="5.40" text-anchor="end" fill="#333333">-500</text>
<text x="41.35" y="71.12" font-size="5.40" text-anchor="end" fill="#333333">0</text>
<text x="27.70" y="63.22" font-size="5.40" text-anchor="end" fill="#333333">500</text>
<text x="28.00" y="58.32" font-size="5.40" text-anchor="end" fill="#333333">-1000</text>
<text x="28.00" y="48.92" font-size="5.40" text-anchor="end" fill="#333333">-500</text>
<text x="28.00" y="39.52" font-size="5.40" text-anchor="end" fill="#333333">0</text>
<text x="28.00" y="30.12" font-size="5.40" text-anchor="end" fill="#333333">500</text>
<text x="86.35" y="84.70" font-size="6.60" text-anchor="start" fill="#333333">x<tspan font-size="4.6" dy="1.7">1</tspan></text>
<text x="27.85" y="84.70" font-size="6.60" text-anchor="start" fill="#333333">x<tspan font-size="4.6" dy="1.7">2</tspan></text>
<text transform="translate(8.30 39.80) rotate(-90)" font-size="6.4" text-anchor="middle" fill="#333333">F8( x<tspan font-size="4.7" dy="1.7">1</tspan><tspan dy="-1.7"> , x</tspan><tspan font-size="4.7" dy="1.7">2</tspan><tspan dy="-1.7"> )</tspan></text>
<text x="62.90" y="7.10" font-size="6.10" text-anchor="middle" font-weight="bold" fill="#000">Function Topology</text>
<g stroke="#e4e4e4" stroke-width="0.5"><line x1="22.70" y1="147.60" x2="22.70" y2="113.50"/><line x1="54.70" y1="162.90" x2="22.70" y2="147.60"/><line x1="44.15" y1="141.35" x2="44.15" y2="107.25"/><line x1="76.15" y1="156.65" x2="44.15" y2="141.35"/><line x1="65.60" y1="135.10" x2="65.60" y2="101.00"/><line x1="97.60" y1="150.40" x2="65.60" y2="135.10"/><line x1="97.60" y1="150.40" x2="97.60" y2="116.30"/><line x1="54.70" y1="162.90" x2="97.60" y2="150.40"/><line x1="81.60" y1="142.75" x2="81.60" y2="108.65"/><line x1="38.70" y1="155.25" x2="81.60" y2="142.75"/><line x1="65.60" y1="135.10" x2="65.60" y2="101.00"/><line x1="22.70" y1="147.60" x2="65.60" y2="135.10"/><line x1="22.70" y1="147.60" x2="65.60" y2="135.10"/><line x1="65.60" y1="135.10" x2="97.60" y2="150.40"/><line x1="22.70" y1="126.42" x2="65.60" y2="113.92"/><line x1="65.60" y1="113.92" x2="97.60" y2="129.22"/></g>
<g transform="scale(0.1)" fill="none" stroke-width="4.5" stroke-linecap="round"><path stroke="#0f5cdd" d="M700 1535l-5 2 0-2 5 0M625 1530l5 1 1 3-9 2-8-3 3-3 8 0M669 1517l4 1 1 3-9 3-9-3 3-3 10-1M711 1505l5 4-8 2-9-3 4-3 8 0M578 1544l7 1-3 2-6 0 0-3 2 0M749 1494l6 1-1 2-7 0 2-3M588 1514l8 0 6 3-5 4-5 1-12-3 1-3 7-2M632 1501l13 3-1 3-9 3-14-4 5-4 6-1M673 1489l8 0 6 3-4 4-5 1-13-3 1-3 7-2M550 1527l5 1 1 3-9 2-8-3 3-2 8-1M721 1477l6 4-10 2-7-3 4-2 7-1M557 1498l12 1 2 3-2 2-8 3-14-4 4-4 6-1M600 1485l12 2 2 2-1 3-9 3-9-1-6-3 5-5 6-1M642 1473l12 2 1 4-16 3-7-3 2-3 8-3M519 1512l5 1 1 3-12 2-6-3 3-3 9 0M690 1462l4 1 2 3-8 3-9-2-2-2 5-3 8 0M476 1527l-5 1 5-1M732 1452l-5 1 5-1M522 1484l9-1 7 3-4 5-16-1-1-4 5-2M567 1471l8 0 6 3-1 3-8 2-8 0-6-3 1-3 8-2M607 1459l10 0 6 2-3 5-17-1-1-4 5-2M486 1497l5 1 1 3-9 2-7-3 10-3M657 1447l6 3-8 3-7-1-1-2 10-3M456 1483l-1 3-7-1 1-2 7 0M497 1469l5 1 1 3-9 2-7-3 10-3M540 1456l5 1 2 4-9 2-8-1-1-2 3-3 8-1M582 1444l5 1 2 3-8 2-8-1-1-2 10-3M627 1433l0 3-9-1 3-2 6 0M508 1443l0 2-5 0 5-2"/><path stroke="#1481d6" d="M688 1561l4 2-9 2-3-2 8-2M731 1548l5 3-8 3-7-3 3-2 7-1M773 1536l4 1-1 3-6 1-5-3 8-2M655 1543l11 2 1 3-2 2-8 3-15-3 4-6 9-1M698 1531l11 2 1 2-1 3-9 2-16-3 1-4 3-2 10 0M740 1519l11 1 1 2-1 3-8 3-16-3 1-4 4-2 8 0M609 1557l9 0 4 3-10 4-10-3 3-3 4-1M779 1507l8 0 5 4-8 3-12-2 1-3 6-2M568 1571l6 2-9 1-1-2 4-1M824 1497l6 0-1 3-9-1 4-2M618 1527l20 2 0 5-5 4-6 1-13-1-7-3 1-6 10-2M662 1514l19 2 0 5-5 5-5 0-16 0-7-3 2-6 12-3M704 1502l18 2 1 5-5 4-5 1-14-1-7-2 2-7 10-2M570 1541l18 0 6 3-6 6-15 0-7-3 1-4 3-2M742 1491l16 0 6 4-1 3-8 3-17-2-1-4 5-4M533 1554l9 0 6 3-5 4-6 0-10-3 6-4M789 1480l9 0 5 3-8 4-12-3 6-4M543 1524l16 1 6 3-7 7-19 0-7-3 2-5 9-3M579 1511l25 1 5 0 1 3-4 7-3 2-29-1-2-2 3-8 4-2M624 1498l23 1 5 1 1 2-4 8-3 1-31 0 3-13 6 0M665 1486l23 1 6 3-5 9-31-1 2-10 5-2M714 1474l19 2 1 5-4 4-6 1-20-1-2-2 3-6 9-3M505 1538l12 1 1 3-5 4-6 1-14-3 4-5 8-1M761 1463l11 2 1 5-15 2-10-3 2-4 11-2M463 1552l6 3-12 1 1-3 5-1M804 1453l6 1 0 2-6 2-7-3 7-2M548 1496l31 0-4 11-9 2-25-2-1-1 2-8 6-2M593 1483l29 1-5 13-36-1 5-13 7 0M633 1471l24 0 6 3-5 10-34 0 4-11 5-2M512 1509l15 0 7 3-4 7-3 1-21 0-6-3 1-5 11-3M682 1459l19 2 2 5-4 4-6 1-22-1-2-2 4-7 9-2M473 1522l12 2 2 4-6 4-5 0-9 0-7-3 4-6 9-1M729 1448l12 1 1 5-3 3-9 1-14-4 2-4 11-2M432 1537l6 3-8 2-7-2 2-2 7-1M773 1438l7 3-9 2-6-3 8-2M524 1481l21 1 1 2-6 10-30-2-1-2 2-7 13-2M567 1468l21 1-3 13-34-2 3-10 13-2M609 1456l20 1 2 2-3 8-8 2-26-1 3-10 12-2M478 1494l16 0 7 3-3 6-3 2-25-1-1-2 1-5 8-3M648 1444l21 2 2 4-5 5-5 1-21-2-2-2 4-6 6-2M440 1508l13 1 1 3-5 4-6 1-8-1-6-3 4-4 7-1M696 1433l12 1 2 5-12 3-12-1-1-2 2-4 9-2M398 1522l8 3-13 1 1-3 4-1M739 1423l7 0 0 3-11 1-1-2 5-2M452 1479l13 2 1 4-5 4-5 1-11-1-6-3 4-6 9-1M487 1467l23 1 1 4-5 5-25-1-1-5 7-4M532 1454l21 1 1 4-4 6-28-1-1-2 3-6 8-2M572 1442l22 1 2 4-4 5-27-1 0-5 7-4M623 1430l12 1 2 4-4 4-5 1-13-1-6-3 2-4 12-2M413 1493l5 1 2 2-1 3-14 1-5-3 3-3 10-1M669 1419l5 1 2 3-8 3-11-1-2-2 5-4 9 0M424 1466l5 0 2 2-1 3-9 2-9-2-1-2 3-3 10 0M461 1452l13 1 2 5-10 3-10 0-5-3 1-3 9-3M504 1440l13 1 2 4-4 4-5 0-12 0-5-4 1-3 10-2M546 1427l13 2 2 4-9 4-15-2-1-2 2-3 8-3M594 1416l5 1 2 4-8 2-11-1-1-2 5-4 8 0M382 1480l-2 3-7 0 1-3 8 0M638 1406l0 2-9-1 9-1M428 1440l10 2-3 2-9-1 2-3M473 1426l7 1 2 2-9 3-6-1 0-3 6-2M514 1415l9 2-8 2-4-1 3-3"/><path stroke="#06a4ca" d="M674 1592l-2-2 7 1M713 1581l-3-2 3-3 12 1M755 1569l-3-4 3-2 13 1M798 1556l-2-2 3-3 11 1M844 1542l0-2 5 1M644 1571l11 2 1 2-2 3-9 2-14-3 1-3 3-2 9-1M682 1558l14 1 5 3-2 4-9 3-18-3 1-6 9-2M725 1545l14 1 5 3-2 5-9 2-12 0-7-3 1-6 10-2M767 1533l14 1 4 1 1 3-5 5-5 1-12 0-7-3 1-6 9-2M815 1521l10 2 2 2-3 3-7 2-15-2 1-4 3-2 9-1M604 1585l5 1 0 3-10 2-7-2 3-3 9-1M860 1511l5 3-9 3-8-3 4-3 8 0M493 1438l33-1 7-10 8-2 26 1 0 10 15 3 16 0 10-12 36 1-1 11 2 1 15 2 17-2 7-10 26 1 7 3-2 10 33 3 1 2-2 11 27 2 6 3-4 10-27 0-5 1-4 4 1 6 31 3-5 14-33 1-5 6 0 4 5 2 25 2-3 10-8 2-28 0-9 12-34 1-7 10-8 2-26-1 0-10-15-3-16 0-10 12-36-1 1-11-2-1-15-2-17 2-7 10-26-1-7-3 2-10-33-3-1-2 2-11-27-2-6-3 4-10 27 0 5-1 4-4-1-6-31-3 5-14 33-1 5-6 0-4-5-2-25-2 3-10 8-2 28 0 6-10 4-2M602 1554l23 1 5 1 0 2-8 8-25-1-3-4 2-7 6 0M773 1504l21 1 4 2 1 4-5 5-5 1-24-1-1-2 4-10 5 0M561 1568l17 0 5 4-6 5-14 1-8-5 1-2 5-3M818 1494l15 0 6 4-1 3-9 2-16-1-2-4 7-4M530 1582l4 2 1 2-10 3-7-3 2-3 10-1M871 1483l5 3-9 3-8-3 4-3 8 0M649 1529l-5 4 0 6 30 2 3-7-1-4-6-1-21 0M698 1516l-9 3-3 5 1 3 23 2 7 0 2-3 2-7-2-2-21-1M525 1552l32 0-6 10-16 2-15-4 1-6 4-2M782 1477l22 1 5 1 1 4-5 5-5 1-26 0 4-10 4-2M495 1565l11 2 2 2-3 4-8 2-15-3 3-5 10-2M836 1466l11 2 1 4-15 3-10-3 2-4 11-2M449 1582l6 0-3 2M881 1459l-5 0 2-2M575 1527l-5 4 0 5 21 2 5-1 5-5-2-4-5-1-19 0M624 1514l-8 3-2 4 6 3 13 1 5-1 4-4-2-4-16-2M667 1502l-8 2-2 4 6 3 12 1 6-1 5-4-2-4-17-1M704 1489l-5 7 12 4 14 0 3-2 3-6-7-3-20 0M454 1550l18 0 6 3-7 7-16 0-7-3 1-4 5-3M796 1451l16 0 6 4-4 5-5 1-19-1 0-6 6-3M414 1566l13 0 1 2-5 2M852 1445l-12 0-1-2 4-2M504 1523l-9 2-4 9 26 2 5-1 4-5-1-5-21-2M718 1460l-8 3-1 6 1 2 27 1 3-1 4-8 0-2-26-1M549 1511l-9 3-2 4 7 3 13 1 9-5-2-4-16-2M593 1499l-8 3-2 3 6 3 10 1 9-3 1-3-2-2-14-2M636 1487l-8 2-2 4 6 3 10 0 5-1 5-4-2-3-14-1M678 1474l-8 2-2 4 6 4 12 0 5-1 6-4-2-4-17-1M423 1534l18 0 6 3-7 8-22-2-2-1 1-5 6-3M765 1435l16 0 4 2 2 4-4 4-5 1-21-1 0-6 8-4M382 1550l14 0 1 2-5 3M821 1430l-14 0-1-2 5-3M472 1507l-9 2-4 10 26 1 5-1 4-4-1-6-21-2M686 1444l-8 3-1 6 1 2 26 2 4-2 4-7 0-2-26-2M517 1496l-9 2-2 5 7 3 12 0 5-1 5-4-2-3-16-2M561 1484l-9 2-1 4 6 3 10 0 8-2 2-3-2-3-14-1M604 1471l-9 3-1 3 7 3 9 1 8-3 2-2-2-3-14-2M645 1458l-8 3-1 4 6 3 12 1 5-1 5-4-1-4-18-2M400 1519l13 1 1 5-6 4-6 1-11-1-6-3 4-6 11-1M741 1420l11 1 3 2-1 4-8 3-20-1-1-2 3-5 13-2M351 1535l12 0 1 2-4 2M789 1414l-13 0-1-2 5-2M484 1480l-9 2-3 6 2 2 20 1 5 0 5-5-1-4-19-2M612 1442l-8 3-2 5 7 3 19 0 6-7-6-3-16-1M522 1469l-3 1-2 5 7 3 17 0 5-6-6-3-18 0M565 1456l-3 2-1 5 6 2 17 0 5-6-6-3-18 0M405 1491l24 0-4 10-3 2-28-2-1-2 2-5 10-3M661 1416l20 2 2 2-1 6-8 3-28-1 6-10 9-2M365 1505l13 1 2 3-6 4-5 1-8-1-6-3 3-4 7-1M706 1405l13 2 1 5-14 2-9-1-2-2 3-4 8-2M322 1521l5 0-2 2M754 1398l-6 0 3-2M486 1451l-4 10 7 3 22-1 6-7-6-4-25-1M529 1439l-4 9 8 3 21 0 6-8-5-3-26-1M415 1463l23 1 1 2-4 10-30-3-1-2 2-5 9-3M585 1413l21 2 3 4-2 7-34-2 4-8 8-3M377 1477l13 1 2 4-5 4-6 1-11-1-6-3 5-5 8-1M633 1402l12 1 3 2-1 4-8 3-18-1-1-3 2-4 11-2M336 1491l6 1 1 3-9 2-7-3 9-3M678 1391l7 4-7 3-9-2 0-3 9-2M431 1436l13 1 2 5-4 5-6 0-14-1-5-3 5-6 9-1M474 1424l13 1 2 2-1 6-2 2-16 0-10-2-1-2 6-6 9-1M516 1411l13 2 2 1-1 6-2 2-15 0-10-2-1-2 2-4 12-3M385 1450l14 0 2 5-4 3-6 1-13-2-1-5 8-2M556 1400l13 1 3 4-9 4-15-2 1-5 7-2M347 1463l6 1 1 4-9 2-7-4 9-3M603 1389l8 3-8 3-9-1 0-3 9-2M448 1411l3 4-3 2-13-1M359 1438l0 2-5-1M405 1424l2 2-3 3-11-1M490 1399l3 3-3 2-12-1M529 1388l2 2-7-1"/><path stroke="#2eb7a4" d="M626 1606l-3-3 3-2 16 0M665 1595l-3-4 3-4 23 1M706 1583l-4-4 4-6 27 2M747 1571l-3-4 2-8 30 3M790 1558l-2-4 4-6 25 2M835 1545l-3-4 5-4 21 1M881 1532l-2-2 1-3 3-1 14 1M507 1409l29 0 8-9 9-3 24 2 2 2-1 7 3 2 12 1 15 0 12-11 34 1 0 10 2 2 15 1 13 0 12-11 24 1 7 3 1 9 33 3-1 10 2 2 32 3-2 10 2 2 31 4-1 12 25 3 4 1 1 5-4 6-30 2-4 4 0 6 30 4-5 12-27 1-5 1-4 4 0 6 28 4-1 7-5 4-31 1-9 13-32 1-10 12-33 0-11 12-34 0-8 9-9 3-24-2-2-2 1-7-3-2-12-1-15 0-12 11-34-1 0-10-14-3-16 0-12 11-29-2-2-2-1-9-33-3 1-10-2-2-32-3 2-10-2-2-31-4 1-12-25-3-6-3 5-9 30-2 4-4 0-6-30-4 5-12 32-2 5-5-1-5-28-4 3-9 8-3 26 0 9-13 32-1 10-12 33 0 11-12 5 0M598 1582l15 1 4 1 1 2-8 7-17 0-8-2 1-6 2-2 10-1M854 1507l17 3 1 4-4 4-5 1-15 0-8-2 2-8 12-2M557 1596l7 1 6 3-6 4-6 1-11-3 3-5 7-1M899 1497l10 2 1 3-14 3-8-2 2-4 9-2M645 1557l-9 2-2 8 22 2 8-3 1-6-2-2-18-1M689 1545l-9 2-2 4 1 3 24 1 4-5-3-4-15-1M732 1532l-9 3-2 4 2 2 23 1 4-4-2-4-16-2M774 1519l-9 3-2 5 1 2 26 2 5-6-2-5-19-1M523 1579l15 1 5 1 1 2-8 7-18 1-7-3 3-8 9-1M864 1480l18 2 1 5-9 4-16 1-8-3 3-7 11-2M476 1595l16 1 1 2-5 3M917 1476l-14 0-2-2 4-4M571 1555l-9 2-3 4 1 3 19 1 6-1 3-4-2-4-15-1M785 1492l-8 3-1 3 1 2 22 2 5-5-1-4-18-1M610 1544l-4 4 1 2 13 2 8-3-2-5-16 0M660 1531l-9 3 1 3 9 1 9-2-2-4-8-1M703 1519l-9 2 1 3 9 2 9-3-2-3-8-1M739 1506l-4 4 6 3 13 0 4-4-7-3-12 0M442 1579l23 0 0 4-6 4M888 1462l-22 0-1-4 6-4M489 1552l-5 4-1 6 22 1 6-1 3-5-2-4-5-1-18 0M790 1464l-5 7 13 4 13 0 3-2 4-7-7-2-21 0M535 1541l-5 4 2 2 13 2 8-3-2-4-16-1M750 1478l-4 4 6 4 12-1 5-4-7-3-12 0M586 1529l-9 3 1 2 7 1 8-3-7-3M625 1518l-2 3 10-1 0-2-8 0M668 1505l-2 3 2 0 7 1 2-3-9-1M715 1491l-9 3 6 3 10-2-1-3-6-1M408 1563l28 0-1 6-6 3M858 1447l-27 1-1-2 2-4 5-4M464 1536l-10 3-2 5 1 2 19 1 8-5-1-4-15-2M763 1449l-7 2-2 4 7 3 16 0 4-1 3-5-7-3-14 0M510 1525l-6 1-4 3 6 4 13-3-1-3-8-2M550 1515l-2 3 10 0 0-3-8 0M678 1477l0 3 8 1 2-3-10-1M724 1463l-8 4 9 3 6-1 4-3-1-2-10-1M595 1504l2 0-2 0M638 1491l2 0-2 0M376 1547l31 0-3 7-6 4M827 1433l-31 0 3-7 6-4M432 1521l-10 2-3 5 2 2 19 1 8-4-1-4-15-2M738 1433l-12 1-4 6 7 3 10 1 12-5-1-5-12-1M478 1510l-6 1-4 3 6 3 13-2-1-4-8-1M517 1499l-2 3 3 1 7 0 1-3-9-1M646 1462l0 3 7 0 3-2-10-1M692 1447l-6 1-3 3 10 4 6-1 4-3-1-3-10-1M563 1488l2 0-2 0M606 1476l2 0-2 0M345 1533l27-1 1 2-2 4-5 4M795 1417l-28 0 1-6 6-3M392 1505l-5 5-2 4 2 2 21 0 5 0 5-5-2-4-4-1-20-1M698 1417l-8 3-1 5 7 3 18 0 7-7-6-4-17 0M439 1495l-5 4 2 2 13 1 8-4-6-4-12 1M658 1431l-5 1-3 5 12 3 8-2 3-3-6-3-9-1M490 1483l-10 3 7 3 10-3-7-3M528 1471l-2 3 3 1 6 0 2-3-9-1M571 1459l-1 3 1 0 7 0 2-2-9-1M618 1445l-8 3 7 3 9-3-1-2-7-1M315 1518l22 0 1 4-6 4M761 1401l-23 0 0-4 6-4M404 1478l-5 4 1 5 18 1 5-1 4-4-5-5-18 0M455 1466l-9 2-1 4 14 3 5-1 4-4-5-3-8-1M583 1428l-8 3-1 3 13 3 6-1 4-4-5-3-9-1M618 1416l-3 6 7 3 15 0 7-6-6-4-20 1M493 1455l-3 2 2 3 14 1 3-3-5-4-11 1M536 1442l-3 2 2 4 14 0 3-3-5-3-11 0M324 1489l21-1 8 3-3 7-4 2-14 0-12-4 4-7M668 1390l17-1 5 1 2 5-3 5-5 1-24-2 1-6 7-3M286 1504l14 0 2 2-4 4M727 1385l-16-1-1-2 5-3M419 1449l-9 2-2 7 8 2 13 1 5-1 5-5 0-4-20-2M457 1438l-3 1-1 6 7 2 16 0 6-6-6-3-19 0M500 1425l-3 2-1 5 8 3 15-1 6-5-5-4-20 0M547 1411l-8 3-1 6 8 3 12 0 9-2 3-5-5-4-18-1M348 1461l13 1 2 1-2 8-19 1-12-4 5-6 13-1M603 1386l12 2 3 1-1 6-7 3-24-2 3-8 14-2M307 1475l8 2-2 4-9 2-10-2-1-2 3-3 11-1M648 1375l5 1 3 5-10 3-7-1-6-3 6-4 9-1M456 1409l3 4-2 8-30-3M368 1435l3 4-5 4-21-1M413 1422l2 4-4 6-25-2M497 1397l4 4-4 6-27-2M538 1385l3 4-3 4-23-1M322 1448l2 2-1 3-3 1-14-1M577 1374l3 3-3 2-16 0"/><path stroke="#87bf77" d="M581 1619l-3-4 3-3 20 1M619 1608l-2-2-1-9-7-1-28 0-9 9-16 2-13-2-2-1-2-10-34-1-12 10M656 1597l-1-9-15-3-15 2-6 9 31 3M873 1534l-2-2 1-10-24 0-5 1-5 4 0 5 4 1 25 3M922 1478l-30 2-4 13 28 4 0 5-4 4-5 1-25 1-7 13 29 4M922 1520l-3-4 5-4 18 2M678 1573l-9 2-2 4 1 2 19 3 8-3 1-5-3-2-15-1M717 1562l-5 4 5 4 17 0 4-4-3-4-18 0M765 1548l-9 3 0 5 15 2 6-1 4-4-3-4-13-1M807 1535l-9 3-1 4 1 2 23 2 5-5-3-5-16-1M506 1610l21 0 1 3-6 4M951 1492l-19 0-2-3 5-4M560 1582l-10 2-3 8 23 2 8-3 0-6-2-1-16-2M865 1494l-11 1-4 6 11 4 18-1 3-7-2-2-15-1M600 1572l-6 4 2 2 13 2 8-4-2-4-15 0M814 1509l-3 4 5 3 13 0 5-4-8-4-12 1M645 1560l-4 2 1 2 7 2 8-3-2-2-10-1M696 1548l-7 0-2 3 9 1 2-1-2-3M738 1536l-6 0-2 2 9 1 2-2-3-1M779 1522l-8 3 7 3 9-2-2-3-6-1M470 1592l33-1 1-9-7-2-19-1-13 11M894 1465l-30 2-5 7 6 3 24 2 10-12M525 1569l-6 4 1 2 14 2 8-3-2-5-15 0M825 1481l-3 4 5 3 13 0 5-5-7-3-13 1M571 1558l-2 3 10-1 0-2-8 0M785 1495l-1 3 9 1 3-2-11-2M453 1564l-9 2-4 5 1 3 20 1 8-3 1-4-3-2-14-2M838 1451l-7 3-1 4 2 2 20 1 4-1 3-6-7-3-14 0M495 1555l-4 1 1 3 7 1 8-3-6-3-6 1M800 1466l-7 3 6 3 10-3-9-3M422 1549l-9 2-3 5 1 2 10 1 15-3-2-5-12-2M807 1436l-7 3-1 3 6 3 14 0 6-5-6-3-12-1M464 1540l-2 3 10 0-1-3-7 0M764 1452l0 3 7 1 3-2-10-2M390 1534l-10 2-2 4 1 2 13 2 12-4-2-4-12-2M775 1421l-8 3 0 3 6 3 14 0 6-6-6-3-12 0M432 1524l-3 2 1 2 9-1 0-2-7-1M732 1437l0 3 7 0 3-2-10-1M351 1519l-6 3 0 6 20 1 7-3 1-3-6-4-16 0M737 1406l-4 6 7 3 15 0 8-6-1-3-5-1-20 1M404 1508l-10 3 7 3 9-3-6-3M704 1420l-8 3 7 3 9-3-1-2-7-1M309 1515l30-2 5-7-6-3-24-2-10 12M733 1388l-33 1-1 9 7 2 19 1 13-11M369 1491l-9 2-2 4 8 3 15-3-1-4-11-2M669 1403l-5 1-3 5 12 3 7-2 4-3-6-3-9-1M410 1481l-3 2 4 2 7 0 1-3-9-1M625 1419l0 3 7 0 3-2-10-1M281 1502l30-2 4-13-24-3-4-1-1-5 5-4 30-2 7-13-29-4M584 1372l2 2 1 9 7 1 28 0 9-9 16-2 13 2 2 1 2 10 34 1 12-10M333 1474l-9 2-3 7 8 3 15 0 5-1 4-5-1-3-4-2-15-1M380 1463l-9 2-2 4 15 3 5-1 3-4-3-3-9-1M594 1400l-8 3-1 3 13 3 6-1 5-4-6-3-9-1M633 1386l-8 3 0 6 2 1 22 1 8-7-1-2-4-1-19-1M425 1452l-6 0-3 3 8 3 8-3-7-3M554 1414l-9 4 7 2 10-2-1-2-7-2M464 1441l-2 2 3 1 6 0 2-2-9-1M507 1428l-2 1 2 3 7 0 2-3-9-1M252 1488l19 0 2 3-5 4M697 1370l-21 0-1-3 6-4M330 1446l2 2-1 10 24 0 5-1 5-4 0-5-4-1-25-3M547 1383l1 9 15 3 15-2 6-9-31-3M382 1434l-3 2-1 6 7 3 16-1 5-6-5-3-19-1M426 1423l-3 2-1 4 8 3 13-1 5-5-5-3-17 0M469 1410l-3 2-1 4 8 3 13-1 5-4-5-4-17 0M516 1396l-8 3-1 5 18 3 9-2 2-4-5-4-15-1M281 1460l3 4-5 4-18-2M622 1361l3 4-3 3-20-1"/><path stroke="#d1bb59" d="M538 1624l22 1M575 1621l-6-11-12-1-17 0-14 10M955 1494l-29 3-4 6 0 4 26 5M963 1508l-2-5 6-4M593 1598l-10 2-2 7 20 2 8-3 0-5-2-2-14-1M892 1510l-8 3 0 5 23 3 5-6-2-4-18-1M639 1587l-9 2-1 4 11 1 8-2-2-4-7-1M853 1524l-8 3 0 3 9 2 9-3 1-2-2-2-9-1M685 1576l-7 0-2 3 10 1 1-2-2-2M813 1538l-6 1-2 2 5 1 7-2-4-2M723 1565l3 1-3-1M766 1552l3 1-3-1M518 1595l-10 2-3 7 21 2 8-3 0-5-3-1-13-2M903 1482l-8 3 1 5 21 2 4-1 3-6-8-3-13 0M559 1585l-4 2 1 3 8 1 7-3-2-2-10-1M864 1497l-7 3 6 3 6 0 4-4-9-2M489 1581l-10 2-1 3 12 3 8-3-3-4-6-1M874 1468l-8 4 6 3 8 0 6-4-12-3M453 1568l-2 3 10-1-1-2-7 0M839 1455l0 3 11-1-2-2-9 0M424 1554l-2 1 3-1-1 0M810 1441l3 0-3 0M392 1538l-2 1 3 0-1-1M778 1426l3-1-3 1M357 1521l-4 2 2 2 9 0 0-3-7-1M743 1409l0 3 10-1-5-3-5 1M322 1505l-5 4 2 2 10 1 8-4-6-3-9 0M708 1392l-3 4 8 3 7-1 5-3-5-4-12 1M286 1488l-6 4-1 3 2 2 19 1 8-3 1-3-6-4-17 0M677 1374l-8 3 0 5 7 2 15 0 7-6 0-2-5-1-16-1M340 1477l-6 0-4 4 8 2 8-2-1-2-5-2M639 1389l-7 4 8 2 8-2-1-3-8-1M248 1486l29-3 4-6 0-4-26-5M628 1359l6 11 12 1 17 0 14-10M296 1459l-5 6 2 4 18 1 8-3 1-3-5-4-19-1M602 1371l-8 3 0 5 16 3 10-2 3-5-5-3-16-1M343 1449l-3 2-1 2 2 2 9 1 9-4-5-3-11 0M563 1386l-6 0-2 4 9 3 10-3 0-3-11-1M389 1438l-3 2 4 2 6-1 2-2-9-1M434 1427l3 0-3 0M477 1414l3 1-3-1M517 1400l-1 2 2 2 7 0 2-2-10-2M240 1472l2 5-6 4M665 1356l-22-1"/><path stroke="#fec832" d="M545 1612l-6 3 0 4 18 2 8-3 0-4-3-2-17 0M936 1498l-8 3 1 4 19 2 6-4-2-4-16-1M592 1601l-2 3 4 1 7-2-2-2-7 0M898 1513l-5 1-1 2 11-1-5-2M517 1598l-2 4 5 1 6-2-2-2-7-1M909 1485l-6 1 0 2 8 1 3-2-5-2M292 1491l-3 1 2 2 9 0 0-2-8-1M683 1377l-6 2 2 2 7 1 3-2-6-3M255 1473l-6 4 2 4 16 1 5-1 4-4-6-4-15 0M641 1360l-3 6 8 3 12-1 6-5-4-3-19 0M303 1463l-3 2 2 2 8-1 1-2-8-1M609 1375l-7 2 2 2 9-2-4-2"/><path stroke="#f9fb0e" d="M552 1615l-2 1 4 0-2-1M938 1502l3 0-3 0M263 1477l2 0-2 0M649 1364l4 0-4 0"/></g>
<g transform="scale(0.1)" stroke-width="3.5" stroke-linejoin="round"><path class=qbc d="M628 1133l9-57-7 18-8 57z"/><path class=qby d="M585 1177l9-55-7 18-8 55z"/><path class=qbQ d="M542 1212l9-53-7 18-8 53z"/><path class=qcd d="M499 1239l9-52-6 18-9 52z"/><path class=qck d="M456 1258l9-51-6 18-9 51zM414 1268l8-49-6 18-9 49z"/><path class=qbt d="M268 1238l8 34-6 18-9-34z"/><path class=qbi d="M233 1246l9-23-6 18-9 23z"/><path class=qaJ d="M634 1097l9-57-6 36-9 57z"/><path class=qaR d="M592 1141l8-56-6 37-9 55z"/><path class=qbm d="M549 1176l8-54-6 37-9 53z"/><path class=qby d="M506 1203l8-52-6 36-9 52z"/><path class=qaW d="M274 1202l9 34-7 36-8-34z"/><path class=qaN d="M240 1210l8-24-6 37-9 23z"/><path class=qaa d="M649 1050l9-10-6-10-9 10z"/><path class=qaE d="M641 1108l8-58-6-10-9 57z"/><path class=qbc d="M632 1146l9-38-7-11-8 39z"/><path class=qax d="M607 1096l8-8-6-11-9 8z"/><path class=qaV d="M598 1151l9-55-7-11-8 56z"/><path class=qbx d="M589 1188l9-37-6-10-9 37z"/><path class=qaL d="M564 1133l8-7-6-10-9 6z"/><path class=qba d="M555 1187l9-54-7-11-8 54z"/><path class=qbO d="M546 1222l9-35-6-11-9 35z"/><path class=qaU d="M521 1162l8-5-6-11-9 5z"/><path class=qbu d="M512 1214l9-52-7-11-8 52z"/><path class=qbY d="M504 1247l8-33-6-11-9 34z"/><path class=qaQ d="M478 1182l8-4-6-10-9 3z"/><path class=qbx d="M469 1232l9-50-7-11-8 50z"/><path class=qcd d="M461 1264l8-32-6-11-9 32z"/><path class=qaQ d="M435 1193l9-1-7-11-8 2z"/><path class=qbv d="M426 1242l9-49-6-10-9 48z"/><path class=qca d="M418 1272l8-30-6-11-9 31z"/><path class=qaT d="M392 1197l9 0-7-11-8 0z"/><path class=qbm d="M383 1244l9-47-6-11-9 47z"/><path class=qaK d="M349 1191l9 2-7-11-8-1z"/><path class=qbb d="M341 1237l8-46-6-10-9 45z"/><path class=qav d="M306 1178l9 3-7-11-8-3z"/><path class=qaL d="M298 1221l8-43-6-11-9 43z"/><path class=qaa d="M263 1155l9 5-6-10-9-5z"/><path class=qat d="M255 1197l8-42-6-10-9 41z"/><path class=qaK d="M246 1221l9-24-7-11-8 24z"/><path class=qbc d="M673 1135l9 18-7-57-8-19z"/><path class=qaJ d="M664 1098l9 37-6-58-9-37z"/><path class=qaE d="M656 1108l8-10-6-58-9 10z"/><path class=qbc d="M647 1165l9-57-7-58-8 58z"/><path class=qbI d="M639 1204l8-39-6-57-9 38z"/><path class=qbB d="M630 1184l9 20-7-58-8-20z"/><path class=qbg d="M622 1145l8 39-6-58-9-38z"/><path class=qaV d="M613 1154l9-9-7-57-8 8z"/><path class=qby d="M604 1209l9-55-6-58-9 55z"/><path class=qck d="M596 1246l8-37-6-58-9 37z"/><path class=qbZ d="M587 1224l9 22-7-58-8-21z"/><path class=qbr d="M579 1184l8 40-6-57-9-41z"/><path class=qbk d="M570 1191l9-7-7-58-8 7z"/><path class=qbQ d="M561 1244l9-53-6-58-9 54z"/><path class=qcy d="M553 1280l8-36-6-57-9 35z"/><path class=qcq d="M544 1256l9 24-7-58-8-23z"/><path class=qbG d="M536 1214l8 42-6-57-9-42z"/><path class=qbv d="M527 1219l9-5-7-57-8 5z"/><path class=qcc d="M519 1271l8-52-6-57-9 52z"/><path class=qcK d="M510 1305l9-34-7-57-8 33z"/><path class=qcy d="M501 1280l9 25-6-58-9-25z"/><path class=qbO d="M493 1236l8 44-6-58-9-44z"/><path class=qbB d="M484 1239l9-3-7-58-8 4z"/><path class=qck d="M476 1290l8-51-6-57-9 50z"/><path class=qcy d="M459 1295l8 27-6-58-9-27z"/><path class=qbP d="M450 1249l9 46-7-58-8-45z"/><path class=qbB d="M441 1251l9-2-6-57-9 1z"/><path class=qch d="M433 1300l8-49-6-58-9 49z"/><path class=qcx d="M416 1301l8 29-6-58-9-28z"/><path class=qbJ d="M407 1254l9 47-7-57-8-47z"/><path class=qbv d="M398 1254l9 0-6-57-9 0z"/><path class=qbX d="M390 1301l8-47-6-57-9 47z"/><path class=qcm d="M373 1299l8 31-6-58-9-30z"/><path class=qbx d="M364 1251l9 48-7-57-8-49z"/><path class=qbi d="M356 1249l8 2-6-58-9-2z"/><path class=qbJ d="M347 1294l9-45-7-58-8 46z"/><path class=qbS d="M330 1289l8 32-6-58-9-32z"/><path class=qbf d="M321 1239l9 50-7-58-8-50z"/><path class=qaU d="M313 1235l8 4-6-58-9-3z"/><path class=qbm d="M304 1279l9-44-7-57-8 43z"/><path class=qaN d="M278 1218l9 52-6-57-9-53z"/><path class=qaD d="M270 1213l8 5-6-58-9-5z"/><path class=qaT d="M261 1255l9-42-7-58-8 42z"/><path class=qbi d="M253 1278l8-23-6-58-9 24z"/><path class=qaZ d="M671 1137l8 37-6-39-9-37z"/><path class=qbc d="M662 1147l9-10-7-39-8 10z"/><path class=qbI d="M654 1205l8-58-6-39-9 57z"/><path class=qbF d="M628 1184l9 39-7-39-8-39z"/><path class=qbw d="M619 1193l9-9-6-39-9 9z"/><path class=qcl d="M611 1248l8-55-6-39-9 55z"/><path class=qbU d="M576 1230l9-7-6-39-9 7z"/><path class=qcA d="M568 1284l8-54-6-39-9 53z"/><path class=qcr d="M542 1254l9 42-7-40-8-42z"/><path class=qcj d="M534 1259l8-5-6-40-9 5z"/><path class=qcK d="M525 1311l9-52-7-40-8 52z"/><path class=qcz d="M499 1275l9 44-7-39-8-44z"/><path class=qcp d="M491 1279l8-4-6-39-9 3z"/><path class=qcL d="M482 1329l9-50-7-40-8 51z"/><path class=qcp d="M448 1290l8-1-6-40-9 2z"/><path class=qcL d="M439 1339l9-49-7-39-8 49z"/><path class=qcg d="M405 1294l8 0-6-40-9 0z"/><path class=qcK d="M396 1341l9-47-7-40-8 47z"/><path class=qbS d="M362 1288l9 2-7-39-8-2z"/><path class=qcv d="M353 1334l9-46-6-39-9 45z"/><path class=qbv d="M319 1274l9 4-7-39-8-4z"/><path class=qbX d="M310 1318l9-44-6-39-9 44z"/><path class=qbg d="M276 1252l9 5-7-39-8-5z"/><path class=qbt d="M268 1294l8-42-6-39-9 42z"/><path class=qbS d="M259 1318l9-24-7-39-8 23z"/><path class=qbB d="M660 1185l9-57-7 19-8 58z"/><path class=qcc d="M617 1229l9-56-7 20-8 55z"/><path class=qcx d="M574 1264l9-54-7 20-8 54z"/><path class=qcI d="M531 1291l9-52-6 20-9 52z"/><path class=qcK d="M488 1309l9-50-6 20-9 50z"/><path class=qcs d="M308 1324l9-26-7 20-8 25z"/><path class=qbY d="M300 1290l8 34-6 19-9-33z"/><path class=qbL d="M265 1298l9-23-6 19-9 24z"/><path class=qbg d="M666 1147l9-57-6 38-9 57z"/><path class=qbx d="M624 1191l8-56-6 38-9 56z"/><path class=qbZ d="M538 1253l8-52-6 38-9 52z"/><path class=qbr d="M306 1252l9 34-7 38-8-34z"/><path class=qaZ d="M272 1260l8-23-6 38-9 23z"/><path class=qax d="M681 1099l9-10-6-9-9 10z"/><path class=qaV d="M673 1156l8-57-6-9-9 57z"/><path class=qbw d="M664 1195l9-39-7-9-8 39z"/><path class=qaN d="M639 1144l8-8-6-9-9 8z"/><path class=qbo d="M630 1200l9-56-7-9-8 56z"/><path class=qbY d="M621 1237l9-37-6-9-9 37z"/><path class=qbc d="M596 1181l8-6-6-9-9 6z"/><path class=qbG d="M587 1235l9-54-7-9-8 54z"/><path class=qcs d="M578 1270l9-35-6-9-9 35z"/><path class=qbl d="M553 1210l8-5-6-9-9 5z"/><path class=qbR d="M544 1262l9-52-7-9-8 52z"/><path class=qcz d="M536 1296l8-34-6-9-9 34z"/><path class=qbr d="M510 1230l8-3-6-9-9 3z"/><path class=qbX d="M501 1280l9-50-7-9-8 50z"/><path class=qcF d="M493 1312l8-32-6-9-9 32z"/><path class=qbr d="M467 1242l9-2-7-9-8 2z"/><path class=qbX d="M458 1290l9-48-6-9-9 48z"/><path class=qbl d="M424 1245l9 0-7-9-8 0z"/><path class=qbO d="M415 1292l9-47-6-9-9 47z"/><path class=qbb d="M381 1240l9 1-7-9-8-1z"/><path class=qby d="M373 1285l8-45-6-9-9 45z"/><path class=qaL d="M338 1226l9 3-7-9-8-3z"/><path class=qbf d="M330 1269l8-43-6-9-9 43z"/><path class=qav d="M295 1204l9 5-6-9-9-5z"/><path class=qaL d="M287 1246l8-42-6-9-9 42z"/><path class=qbb d="M278 1269l9-23-7-9-8 23z"/><path class=qby d="M705 1182l9 18-7-56-8-18z"/><path class=qaR d="M696 1145l9 37-6-56-9-37z"/><path class=qaV d="M688 1155l8-10-6-56-9 10z"/><path class=qby d="M679 1212l9-57-7-56-8 57z"/><path class=qcl d="M671 1251l8-39-6-56-9 39z"/><path class=qcc d="M662 1230l9 21-7-56-8-21z"/><path class=qbx d="M654 1192l8 38-6-56-9-38z"/><path class=qbo d="M645 1200l9-8-7-56-8 8z"/><path class=qbX d="M636 1256l9-56-6-56-9 56z"/><path class=qcI d="M628 1293l8-37-6-56-9 37z"/><path class=qcy d="M619 1271l9 22-7-56-8-22z"/><path class=qbQ d="M611 1231l8 40-6-56-9-40z"/><path class=qbH d="M602 1237l9-6-7-56-8 6z"/><path class=qcq d="M593 1291l9-54-6-56-9 54z"/><path class=qcL d="M576 1303l9 23-7-56-8-23z"/><path class=qch d="M568 1261l8 42-6-56-9-42z"/><path class=qbU d="M559 1266l9-5-7-56-8 5z"/><path class=qcD d="M551 1318l8-52-6-56-9 52z"/><path class=qcU d="M533 1326l9 26-6-56-9-26z"/><path class=qco d="M525 1283l8 43-6-56-9-43z"/><path class=qcc d="M516 1286l9-3-7-56-8 3z"/><path class=qcI d="M508 1336l8-50-6-56-9 50z"/><path class=qcX d="M491 1341l8 27-6-56-9-27z"/><path class=qco d="M482 1296l9 45-7-56-8-45z"/><path class=qcc d="M473 1298l9-2-6-56-9 2z"/><path class=qcD d="M465 1346l8-48-6-56-9 48z"/><path class=qcQ d="M448 1348l8 29-6-56-9-29z"/><path class=qck d="M439 1301l9 47-7-56-8-47z"/><path class=qbU d="M430 1301l9 0-6-56-9 0z"/><path class=qcx d="M422 1348l8-47-6-56-9 47z"/><path class=qbU d="M396 1297l9 49-7-56-8-49z"/><path class=qbG d="M388 1296l8 1-6-56-9-1z"/><path class=qck d="M379 1341l9-45-7-56-8 45z"/><path class=qbB d="M353 1285l9 51-7-56-8-51z"/><path class=qbm d="M345 1282l8 3-6-56-9-3z"/><path class=qbM d="M336 1325l9-43-7-56-8 43z"/><path class=qbf d="M310 1265l9 52-6-56-9-52z"/><path class=qaT d="M302 1260l8 5-6-56-9-5z"/><path class=qbk d="M293 1302l9-42-7-56-8 42z"/><path class=qbG d="M285 1325l8-23-6-56-9 23z"/><path class=qbz d="M703 1182l8 37-6-37-9-37z"/><path class=qbx d="M694 1192l9-10-7-37-8 10z"/><path class=qck d="M686 1249l8-57-6-37-9 57z"/><path class=qcf d="M660 1229l9 39-7-38-8-38z"/><path class=qbY d="M651 1238l9-9-6-37-9 8z"/><path class=qcI d="M643 1293l8-55-6-38-9 56z"/><path class=qcB d="M617 1268l9 40-7-37-8-40z"/><path class=qcs d="M608 1275l9-7-6-37-9 6z"/><path class=qcX d="M600 1329l8-54-6-38-9 54z"/><path class=qcL d="M574 1299l9 41-7-37-8-42z"/><path class=qcG d="M566 1304l8-5-6-38-9 5z"/><path class=qde d="M557 1356l9-52-7-38-8 52z"/><path class=qcN d="M523 1324l8-4-6-37-9 3z"/><path class=qdh d="M514 1374l9-50-7-38-8 50z"/><path class=qcN d="M480 1335l8-1-6-38-9 2z"/><path class=qdg d="M471 1384l9-49-7-37-8 48z"/><path class=qcG d="M437 1339l8 0-6-38-9 0z"/><path class=qdb d="M428 1385l9-46-7-38-8 47z"/><path class=qcs d="M394 1333l9 2-7-38-8-1z"/><path class=qbX d="M351 1319l9 4-7-38-8-3z"/><path class=qcv d="M342 1363l9-44-6-37-9 43z"/><path class=qbr d="M308 1297l9 5-7-37-8-5z"/><path class=qbR d="M300 1339l8-42-6-37-9 42z"/><path class=qcs d="M291 1363l9-24-7-37-8 23z"/><path class=qbZ d="M692 1228l9-57-7 21-8 57z"/><path class=qcy d="M649 1272l9-55-7 21-8 55z"/><path class=qcQ d="M606 1307l9-53-7 21-8 54zM375 1352l8 32-6 21-9-32z"/><path class=qcx d="M332 1333l8 34-6 21-9-34z"/><path class=qcl d="M297 1341l9-23-6 21-9 24z"/><path class=qbr d="M698 1188l9-57-6 40-9 57z"/><path class=qcm d="M613 1268l8-54-6 40-9 53z"/><path class=qbN d="M338 1293l9 34-7 40-8-34z"/><path class=qbe d="M312 1278l9-42-6 40-9 42z"/><path class=qby d="M304 1302l8-24-6 40-9 23z"/><path class=qaL d="M713 1139l9-11-6-7-9 10z"/><path class=qbk d="M705 1196l8-57-6-8-9 57z"/><path class=qbU d="M696 1234l9-38-7-8-8 39z"/><path class=qbc d="M671 1184l8-8-6-8-9 9z"/><path class=qbH d="M662 1240l9-56-7-7-8 55z"/><path class=qcs d="M653 1277l9-37-6-8-9 37z"/><path class=qbs d="M628 1221l8-7-6-7-9 7z"/><path class=qca d="M619 1275l9-54-7-7-8 54z"/><path class=qcM d="M610 1310l9-35-6-7-9 35z"/><path class=qbG d="M585 1250l8-5-6-8-9 6z"/><path class=qcq d="M576 1302l9-52-7-7-8 52z"/><path class=qcT d="M568 1336l8-34-6-7-9 33z"/><path class=qbN d="M542 1270l8-3-6-8-9 4z"/><path class=qcs d="M533 1320l9-50-7-7-8 50z"/><path class=qbN d="M499 1282l9-2-7-7-8 1z"/><path class=qcs d="M490 1330l9-48-6-8-9 49z"/><path class=qbD d="M456 1285l9 0-7-7-8-1z"/><path class=qcl d="M447 1332l9-47-6-8-9 47z"/><path class=qbr d="M413 1279l9 2-7-7-8-2z"/><path class=qbR d="M405 1325l8-46-6-7-9 45z"/><path class=qbb d="M370 1266l9 3-7-7-8-4z"/><path class=qbx d="M362 1309l8-43-6-8-9 44z"/><path class=qaI d="M327 1243l9 6-6-8-9-5z"/><path class=qaS d="M319 1285l8-42-6-7-9 42z"/><path class=qbr d="M310 1309l9-24-7-7-8 24z"/><path class=qbQ d="M737 1220l9 18-7-54-8-19z"/><path class=qbm d="M728 1183l9 37-6-55-9-37z"/><path class=qba d="M720 1193l8-10-6-55-9 11z"/><path class=qbQ d="M711 1250l9-57-7-54-8 57z"/><path class=qcA d="M703 1289l8-39-6-54-9 38z"/><path class=qcx d="M694 1269l9 20-7-55-8-20z"/><path class=qbO d="M686 1230l8 39-6-55-9-38z"/><path class=qbG d="M677 1238l9-8-7-54-8 8z"/><path class=qcq d="M668 1294l9-56-6-54-9 56z"/><path class=qcX d="M660 1331l8-37-6-54-9 37z"/><path class=qcQ d="M651 1309l9 22-7-54-8-22z"/><path class=qcm d="M643 1269l8 40-6-54-9-41z"/><path class=qca d="M634 1276l9-7-7-55-8 7z"/><path class=qcI d="M625 1329l9-53-6-55-9 54z"/><path class=qdd d="M608 1341l9 24-7-55-8-23z"/><path class=qcx d="M600 1299l8 42-6-54-9-42z"/><path class=qcq d="M591 1304l9-5-7-54-8 5z"/><path class=qcQ d="M583 1356l8-52-6-54-9 52z"/><path class=qcD d="M557 1321l8 44-6-55-9-43z"/><path class=qcx d="M548 1324l9-3-7-54-8 3z"/><path class=qcW d="M540 1375l8-51-6-54-9 50z"/><path class=qcI d="M514 1334l9 46-7-55-8-45z"/><path class=qcv d="M505 1336l9-2-6-54-9 2z"/><path class=qcU d="M497 1385l8-49-6-54-9 48z"/><path class=qcy d="M471 1339l9 47-7-54-8-47z"/><path class=qco d="M462 1339l9 0-6-54-9 0z"/><path class=qcP d="M454 1386l8-47-6-54-9 47z"/><path class=qcq d="M428 1336l9 48-7-54-8-49z"/><path class=qbY d="M420 1334l8 2-6-55-9-2z"/><path class=qcy d="M411 1379l9-45-7-55-8 46z"/><path class=qbE d="M377 1320l8 3-6-54-9-3z"/><path class=qch d="M368 1364l9-44-7-54-8 43z"/><path class=qbt d="M342 1303l9 52-6-54-9-52z"/><path class=qbf d="M334 1298l8 5-6-54-9-6z"/><path class=qbB d="M325 1340l9-42-7-55-8 42z"/><path class=qbZ d="M317 1363l8-23-6-55-9 24z"/><path class=qbT d="M735 1219l8 37-6-36-9-37z"/><path class=qbO d="M726 1229l9-10-7-36-8 10z"/><path class=qcy d="M718 1286l8-57-6-36-9 57z"/><path class=qcw d="M692 1266l9 39-7-36-8-39z"/><path class=qcs d="M683 1274l9-8-6-36-9 8z"/><path class=qcU d="M675 1330l8-56-6-36-9 56z"/><path class=qcS d="M649 1305l9 40-7-36-8-40z"/><path class=qcM d="M640 1311l9-6-6-36-9 7z"/><path class=qdh d="M632 1365l8-54-6-35-9 53z"/><path class=qcT d="M598 1340l8-5-6-36-9 5z"/><path class=qdp d="M589 1392l9-52-7-36-8 52z"/><path class=qcK d="M374 1400l9-44-6-36-9 44z"/><path class=qbI d="M340 1334l9 5-7-36-8-5z"/><path class=qcn d="M332 1376l8-42-6-36-9 42z"/><path class=qcH d="M323 1399l9-23-7-36-8 23z"/><path class=qcq d="M724 1263l9-57-7 23-8 57z"/><path class=qcL d="M681 1307l9-56-7 23-8 56z"/><path class=qdd d="M407 1387l8 32-6 23-9-32z"/><path class=qda d="M372 1402l9-25-7 23-8 25z"/><path class=qcK d="M364 1368l8 34-6 23-9-34z"/><path class=qcA d="M329 1376l9-23-6 23-9 23z"/><path class=qch d="M688 1265l8-55-6 41-9 56z"/><path class=qcr d="M430 1351l9-46-7 42-8 45z"/><path class=qcv d="M379 1360l8-25-6 42-9 25z"/><path class=qcc d="M370 1327l9 33-7 42-8-34z"/><path class=qbO d="M336 1335l8-24-6 42-9 23z"/><path class=qaU d="M745 1170l9-10-6-6-9 10z"/><path class=qbv d="M737 1227l8-57-6-6-9 58z"/><path class=qcj d="M728 1266l9-39-7-5-8 38z"/><path class=qbl d="M703 1216l8-9-6-5-9 8z"/><path class=qbU d="M694 1271l9-55-7-6-8 55z"/><path class=qcG d="M685 1308l9-37-6-6-9 37z"/><path class=qbG d="M660 1253l8-7-6-6-9 7z"/><path class=qcq d="M651 1306l9-53-7-6-8 54z"/><path class=qbU d="M617 1281l8-5-6-5-9 5z"/><path class=qcA d="M608 1333l9-52-7-5-8 52z"/><path class=qca d="M574 1301l8-3-6-6-9 4z"/><path class=qcE d="M565 1352l9-51-7-5-8 50z"/><path class=qca d="M531 1313l9-2-7-5-8 1z"/><path class=qbS d="M488 1316l9 0-7-5-8 0z"/><path class=qcx d="M479 1363l9-47-6-5-9 47z"/><path class=qbD d="M445 1311l9 2-7-6-8-2z"/><path class=qcg d="M437 1356l8-45-6-6-9 46z"/><path class=qbk d="M402 1297l9 4-7-6-8-3z"/><path class=qbK d="M394 1341l8-44-6-5-9 43z"/><path class=qaX d="M359 1275l9 5-6-6-9-5z"/><path class=qbi d="M351 1317l8-42-6-6-9 42z"/><path class=qbD d="M342 1340l9-23-7-6-8 24z"/><path class=qcd d="M769 1249l9 19-7-53-8-18z"/><path class=qby d="M760 1213l9 36-6-52-9-37z"/><path class=qbu d="M752 1223l8-10-6-53-9 10z"/><path class=qcc d="M743 1280l9-57-7-53-8 57z"/><path class=qcI d="M726 1298l9 20-7-52-8-20z"/><path class=qbZ d="M718 1260l8 38-6-52-9-39z"/><path class=qbR d="M709 1268l9-8-7-53-8 9z"/><path class=qcD d="M700 1324l9-56-6-52-9 55z"/><path class=qcZ d="M683 1339l9 22-7-53-8-22z"/><path class=qcx d="M675 1299l8 40-6-53-9-40z"/><path class=qcq d="M666 1305l9-6-7-53-8 7z"/><path class=qcQ d="M657 1359l9-54-6-52-9 53z"/><path class=qcI d="M632 1329l8 42-6-53-9-42z"/><path class=qcA d="M623 1334l9-5-7-53-8 5z"/><path class=qdb d="M615 1386l8-52-6-53-9 52z"/><path class=qcQ d="M589 1351l8 43-6-52-9-44z"/><path class=qcF d="M580 1354l9-3-7-53-8 3z"/><path class=qdd d="M572 1404l8-50-6-53-9 51z"/><path class=qcF d="M537 1366l9-2-6-53-9 2z"/><path class=qdd d="M529 1414l8-48-6-53-9 49z"/><path class=qcK d="M503 1369l9 47-7-53-8-47z"/><path class=qcy d="M494 1369l9 0-6-53-9 0z"/><path class=qda d="M486 1416l8-47-6-53-9 47z"/><path class=qcn d="M452 1364l8 1-6-52-9-2z"/><path class=qcK d="M443 1409l9-45-7-53-8 45z"/><path class=qcg d="M417 1353l9 51-7-53-8-50z"/><path class=qbP d="M409 1350l8 3-6-52-9-4z"/><path class=qct d="M400 1393l9-43-7-53-8 44z"/><path class=qbG d="M374 1333l9 52-6-53-9-52z"/><path class=qbq d="M366 1328l8 5-6-53-9-5z"/><path class=qbO d="M357 1369l9-41-7-53-8 42z"/><path class=qcn d="M349 1393l8-24-6-52-9 23z"/><path class=qcf d="M767 1247l8 37-6-35-9-36z"/><path class=qbY d="M758 1257l9-10-7-34-8 10z"/><path class=qcK d="M750 1314l8-57-6-34-9 57z"/><path class=qcF d="M724 1294l9 39-7-35-8-38z"/><path class=qcz d="M715 1302l9-8-6-34-9 8z"/><path class=qdd d="M707 1358l8-56-6-34-9 56z"/><path class=qcT d="M672 1339l9-6-6-34-9 6z"/><path class=qdm d="M664 1393l8-54-6-34-9 54z"/><path class=qdb d="M630 1368l8-5-6-34-9 5z"/><path class=qdv d="M621 1420l9-52-7-34-8 52z"/><path class=qbV d="M372 1362l9 5-7-34-8-5z"/><path class=qcv d="M364 1404l8-42-6-34-9 41z"/><path class=qcS d="M355 1427l9-23-7-35-8 24z"/><path class=qcy d="M756 1289l9-57-7 25-8 57z"/><path class=qdq d="M482 1424l8 30-6 25-9-31z"/><path class=qdr d="M447 1445l9-27-7 25-8 27z"/><path class=qdj d="M439 1413l8 32-6 25-9-32z"/><path class=qde d="M404 1428l9-25-7 25-8 25z"/><path class=qcQ d="M396 1394l8 34-6 25-9-34z"/><path class=qcH d="M361 1402l9-23-6 25-9 23z"/><path class=qcI d="M445 1370l9 32-7 43-8-32z"/><path class=qcA d="M411 1385l8-25-6 43-9 25z"/><path class=qcm d="M402 1351l9 34-7 43-8-34z"/><path class=qbX d="M368 1359l8-23-6 43-9 23z"/><path class=qaQ d="M777 1193l9-10-6-4-9 10z"/><path class=qbB d="M769 1250l8-57-6-4-9 57z"/><path class=qcp d="M760 1289l9-39-7-4-8 39z"/><path class=qbr d="M735 1238l8-8-6-4-9 9z"/><path class=qcc d="M726 1294l9-56-7-3-8 55z"/><path class=qbN d="M692 1276l8-7-6-4-9 7z"/><path class=qcx d="M683 1329l9-53-7-4-8 53z"/><path class=qca d="M649 1304l8-5-6-4-9 5z"/><path class=qcF d="M640 1356l9-52-7-4-8 52z"/><path class=qcj d="M606 1324l8-3-6-4-9 3z"/><path class=qbL d="M477 1334l9 2-7-4-8-2z"/><path class=qcp d="M469 1379l8-45-6-4-9 45z"/><path class=qbp d="M434 1320l9 3-7-3-8-4z"/><path class=qaV d="M391 1298l9 5-6-4-9-5z"/><path class=qbm d="M383 1340l8-42-6-4-9 42z"/><path class=qbL d="M374 1363l9-23-7-4-8 23z"/><path class=qck d="M801 1271l9 18-7-51-8-18z"/><path class=qbC d="M792 1234l9 37-6-51-9-37z"/><path class=qbx d="M784 1244l8-10-6-51-9 10z"/><path class=qck d="M775 1301l9-57-7-51-8 57z"/><path class=qcK d="M758 1320l9 20-7-51-8-20z"/><path class=qch d="M750 1281l8 39-6-51-9-39z"/><path class=qbX d="M741 1289l9-8-7-51-8 8z"/><path class=qcI d="M732 1345l9-56-6-51-9 56z"/><path class=qdd d="M715 1360l9 22-7-51-8-22z"/><path class=qcy d="M707 1320l8 40-6-51-9-40z"/><path class=qcs d="M698 1326l9-6-7-51-8 7z"/><path class=qcW d="M689 1380l9-54-6-50-9 53z"/><path class=qcL d="M664 1350l8 42-6-51-9-42z"/><path class=qcE d="M655 1355l9-5-7-51-8 5z"/><path class=qdd d="M647 1407l8-52-6-51-9 52z"/><path class=qcQ d="M621 1372l8 44-6-51-9-44z"/><path class=qcK d="M612 1375l9-3-7-51-8 3z"/><path class=qcU d="M578 1385l9 46-7-51-8-46z"/><path class=qbU d="M441 1371l8 3-6-51-9-3z"/><path class=qcx d="M432 1415l9-44-7-51-8 44z"/><path class=qbM d="M406 1354l9 52-6-51-9-52z"/><path class=qbt d="M398 1349l8 5-6-51-9-5z"/><path class=qbR d="M389 1391l9-42-7-51-8 42z"/><path class=qcr d="M381 1414l8-23-6-51-9 23z"/><path class=qcl d="M799 1266l8 37-6-32-9-37z"/><path class=qcd d="M790 1276l9-10-7-32-8 10z"/><path class=qcK d="M782 1334l8-58-6-32-9 57z"/><path class=qcM d="M756 1313l9 39-7-32-8-39z"/><path class=qcF d="M747 1322l9-9-6-32-9 8z"/><path class=qdd d="M739 1377l8-55-6-33-9 56z"/><path class=qcV d="M704 1359l9-7-6-32-9 6z"/><path class=qdp d="M696 1413l8-54-6-33-9 54z"/><path class=qbY d="M404 1381l9 5-7-32-8-5z"/><path class=qcz d="M396 1423l8-42-6-32-9 42z"/><path class=qcT d="M387 1447l9-24-7-32-8 23z"/><path class=qdL d="M599 1437l9 27-6 26-9-27z"/><path class=qdJ d="M556 1443l9 29-6 26-9-28z"/><path class=qdL d="M522 1472l9-29-7 27-8 28z"/><path class=qdy d="M514 1441l8 31-6 26-9-30z"/><path class=qdv d="M479 1463l9-27-7 27-8 26z"/><path class=qdj d="M471 1431l8 32-6 26-9-32z"/><path class=qde d="M436 1446l9-25-7 26-8 25z"/><path class=qcQ d="M428 1412l8 34-6 26-9-33z"/><path class=qcM d="M393 1420l9-23-6 26-9 24z"/><path class=qcW d="M520 1397l8 30-6 45-8-31z"/><path class=qcX d="M486 1418l8-27-6 45-9 27z"/><path class=qcI d="M477 1386l9 32-7 45-8-32z"/><path class=qcA d="M443 1401l8-25-6 45-9 25z"/><path class=qcm d="M434 1367l9 34-7 45-8-34z"/><path class=qby d="M408 1352l9-42-6 45-9 42z"/><path class=qbX d="M400 1375l8-23-6 45-9 23z"/><path class=qaQ d="M809 1207l9-10-6-2-9 10z"/><path class=qbB d="M801 1265l8-58-6-2-9 57z"/><path class=qbr d="M767 1253l8-9-6-2-9 9z"/><path class=qcc d="M758 1308l9-55-7-2-8 55z"/><path class=qbN d="M724 1290l8-7-6-2-9 7z"/><path class=qcv d="M715 1344l9-54-7-2-8 54z"/><path class=qca d="M681 1319l8-5-6-3-9 5z"/><path class=qcF d="M672 1371l9-52-7-3-8 52z"/><path class=qbm d="M415 1354l8-42-6-2-9 42z"/><path class=qbL d="M406 1378l9-24-7-2-8 23z"/><path class=qck d="M833 1283l9 19-7-49-8-19z"/><path class=qbB d="M824 1246l9 37-6-49-9-37z"/><path class=qbv d="M816 1257l8-11-6-49-9 10z"/><path class=qch d="M807 1314l9-57-7-50-8 58z"/><path class=qcd d="M782 1294l8 38-6-49-9-39z"/><path class=qbX d="M773 1302l9-8-7-50-8 9z"/><path class=qcD d="M764 1358l9-56-6-49-9 55z"/><path class=qcy d="M739 1332l8 41-6-49-9-41z"/><path class=qcs d="M730 1339l9-7-7-49-8 7z"/><path class=qcU d="M721 1393l9-54-6-49-9 54z"/><path class=qcK d="M696 1363l8 42-6-49-9-42z"/><path class=qcE d="M687 1368l9-5-7-49-8 5z"/><path class=qdd d="M679 1420l8-52-6-49-9 52z"/><path class=qbU d="M473 1384l8 3-6-49-9-4z"/><path class=qbM d="M438 1367l9 52-6-49-9-53z"/><path class=qbr d="M430 1361l8 6-6-50-9-5z"/><path class=qbR d="M421 1403l9-42-7-49-8 42z"/><path class=qcr d="M413 1427l8-24-6-49-9 24z"/><path class=qcf d="M831 1277l8 37-6-31-9-37z"/><path class=qca d="M822 1287l9-10-7-31-8 11z"/><path class=qcK d="M814 1345l8-58-6-30-9 57z"/><path class=qcC d="M779 1333l9-8-6-31-9 8z"/><path class=qdd d="M771 1388l8-55-6-31-9 56z"/><path class=qbV d="M436 1392l9 5-7-30-8-6z"/><path class=qcx d="M428 1434l8-42-6-31-9 42z"/><path class=qcS d="M419 1458l9-24-7-31-8 24z"/><path class=qdJ d="M674 1431l9 25-7 28-8-25z"/><path class=qdO d="M640 1473l8-32-6 28-8 32z"/><path class=qdJ d="M631 1446l9 27-6 28-9-27z"/><path class=qdM d="M597 1481l9-30-7 28-8 30z"/><path class=qdJ d="M588 1453l9 28-6 28-9-28z"/><path class=qdH d="M554 1481l9-29-7 29-8 28z"/><path class=qdq d="M546 1451l8 30-6 28-9-30z"/><path class=qdr d="M511 1472l9-26-7 28-8 26z"/><path class=qdg d="M503 1440l8 32-6 28-9-32z"/><path class=qdd d="M468 1455l9-25-7 28-8 25z"/><path class=qcQ d="M460 1421l8 34-6 28-9-33z"/><path class=qcF d="M425 1430l9-24-6 28-9 24z"/><path class=qdb d="M595 1406l8 29-6 46-9-28z"/><path class=qdd d="M560 1435l9-29-6 46-9 29z"/><path class=qcQ d="M552 1404l8 31-6 46-8-30zM518 1426l8-27-6 47-9 26z"/><path class=qcD d="M509 1394l9 32-7 46-8-32z"/><path class=qcx d="M475 1409l8-25-6 46-9 25z"/><path class=qch d="M466 1375l9 34-7 46-8-34z"/><path class=qbt d="M440 1360l9-42-6 46-9 42z"/><path class=qbS d="M432 1383l8-23-6 46-9 24z"/><path class=qaT d="M841 1213l9-10-6 0-9 10z"/><path class=qbv d="M833 1271l8-58-6 0-9 57z"/><path class=qbl d="M799 1259l8-9-6 0-9 8z"/><path class=qbU d="M790 1314l9-55-7-1-8 56z"/><path class=qbD d="M756 1296l8-7-6 0-9 6z"/><path class=qco d="M747 1350l9-54-7-1-8 54z"/><path class=qbS d="M713 1325l8-5-6-1-9 5z"/><path class=qcy d="M704 1377l9-52-7-1-8 52z"/><path class=qcE d="M661 1395l9-50-7-1-8 51z"/><path class=qbQ d="M473 1376l8 33-6 0-9-34z"/><path class=qba d="M447 1360l8-42-6 0-9 42z"/><path class=qbB d="M438 1384l9-24-7 0-8 23z"/><path class=qbu d="M856 1251l9 37-6-48-9-37z"/><path class=qbm d="M848 1261l8-10-6-48-9 10z"/><path class=qbX d="M839 1318l9-57-7-48-8 58z"/><path class=qbU d="M814 1298l8 39-6-48-9-39z"/><path class=qbO d="M805 1306l9-8-7-48-8 9z"/><path class=qcx d="M796 1362l9-56-6-47-9 55z"/><path class=qcr d="M771 1337l8 40-6-47-9-41z"/><path class=qcl d="M762 1344l9-7-7-48-8 7z"/><path class=qcP d="M753 1397l9-53-6-48-9 54z"/><path class=qcx d="M719 1372l9-5-7-47-8 5z"/><path class=qda d="M711 1424l8-52-6-47-9 52z"/><path class=qdb d="M668 1443l8-51-6-47-9 50z"/><path class=qbM d="M505 1388l8 3-6-47-9-4z"/><path class=qbB d="M470 1371l9 52-6-47-9-53z"/><path class=qbk d="M462 1366l8 5-6-48-9-5z"/><path class=qbH d="M453 1408l9-42-7-48-8 42z"/><path class=qck d="M445 1431l8-23-6-48-9 24z"/><path class=qbP d="M854 1290l9-10-7-29-8 10z"/><path class=qcy d="M846 1347l8-57-6-29-9 57z"/><path class=qbL d="M468 1395l9 5-7-29-8-5z"/><path class=qcn d="M460 1437l8-42-6-29-9 42z"/><path class=qcM d="M451 1460l9-23-7-29-8 23z"/><path class=qdj d="M801 1398l8-37-6 30-9 37z"/><path class=qde d="M792 1376l9 22-7 30-8-22z"/><path class=qdn d="M749 1408l9 24-7 30-8-24z"/><path class=qdJ d="M715 1457l8-33-6 29-9 34z"/><path class=qdq d="M706 1432l9 25-7 30-8-25z"/><path class=qdH d="M672 1474l8-32-6 30-8 32z"/><path class=qdy d="M663 1447l9 27-6 30-9-27z"/><path class=qdJ d="M629 1482l9-30-7 30-8 30z"/><path class=qdq d="M620 1454l9 28-6 30-9-29z"/><path class=qdv d="M586 1482l9-29-7 30-8 29z"/><path class=qdm d="M578 1452l8 30-6 30-9-31z"/><path class=qdk d="M543 1473l9-27-7 30-8 27z"/><path class=qdb d="M535 1441l8 32-6 30-9-32z"/><path class=qcU d="M500 1456l9-25-7 30-8 25z"/><path class=qcI d="M492 1422l8 34-6 30-9-34z"/><path class=qbP d="M483 1370l9 52-7 30-8-52z"/><path class=qbx d="M475 1365l8 5-6 30-9-5z"/><path class=qcx d="M457 1430l9-23-6 30-9 23z"/><path class=qcV d="M713 1384l8 25-6 48-9-25z"/><path class=qdc d="M678 1426l9-32-7 48-8 32z"/><path class=qcU d="M670 1399l8 27-6 48-9-27z"/><path class=qdb d="M635 1434l9-30-6 48-9 30z"/><path class=qcQ d="M627 1405l8 29-6 48-9-28z"/><path class=qcU d="M592 1434l9-29-6 48-9 29z"/><path class=qcK d="M584 1403l8 31-6 48-8-30z"/><path class=qcF d="M550 1425l8-27-6 48-9 27z"/><path class=qct d="M541 1393l9 32-7 48-8-32z"/><path class=qcl d="M507 1408l8-25-6 48-9 25z"/><path class=qbR d="M498 1374l9 34-7 48-8-34z"/><path class=qbi d="M472 1359l9-42-6 48-9 42z"/><path class=qbF d="M464 1382l8-23-6 48-9 23z"/><path class=qaK d="M873 1211l9-10-6 1-9 10z"/><path class=qbi d="M865 1268l8-57-6 1-9 57z"/><path class=qbb d="M831 1256l8-8-6 1-9 9z"/><path class=qbG d="M822 1312l9-56-7 2-8 55z"/><path class=qbr d="M788 1293l8-6-6 1-9 7z"/><path class=qbY d="M779 1347l9-54-7 2-8 53z"/><path class=qbD d="M745 1322l8-5-6 1-9 5z"/><path class=qcn d="M736 1374l9-52-7 1-8 52z"/><path class=qbL d="M702 1342l8-3-6 1-9 3zM659 1354l9-2-7 1-8 2z"/><path class=qbC d="M505 1373l8 34-6 1-9-34z"/><path class=qaR d="M479 1358l8-42-6 1-9 42z"/><path class=qbp d="M470 1381l9-23-7 1-8 23z"/><path class=qbf d="M888 1247l9 36-6-45-9-37z"/><path class=qbb d="M880 1257l8-10-6-46-9 10z"/><path class=qbJ d="M871 1314l9-57-7-46-8 57z"/><path class=qbF d="M846 1294l8 38-6-45-9-39z"/><path class=qby d="M837 1302l9-8-7-46-8 8z"/><path class=qck d="M828 1358l9-56-6-46-9 56z"/><path class=qcc d="M803 1333l8 40-6-46-9-40z"/><path class=qbR d="M794 1339l9-6-7-46-8 6z"/><path class=qcy d="M785 1393l9-54-6-46-9 54z"/><path class=qcr d="M760 1363l8 42-6-46-9-42z"/><path class=qcg d="M751 1368l9-5-7-46-8 5z"/><path class=qcK d="M743 1420l8-52-6-46-9 52z"/><path class=qcp d="M708 1388l9-3-7-46-8 3z"/><path class=qcQ d="M700 1438l8-50-6-46-9 51z"/><path class=qcp d="M665 1400l9-2-6-46-9 2z"/><path class=qcL d="M657 1448l8-48-6-46-9 49z"/><path class=qcf d="M622 1403l9 0-6-46-9 0z"/><path class=qbQ d="M580 1398l8 1-6-46-9-1z"/><path class=qbo d="M502 1367l9 52-6-46-9-52z"/><path class=qaS d="M494 1362l8 5-6-46-9-5z"/><path class=qbu d="M485 1403l9-41-7-46-8 42z"/><path class=qbQ d="M477 1427l8-24-6-45-9 23z"/><path class=qbw d="M886 1284l9-10-7-27-8 10z"/><path class=qcm d="M878 1341l8-57-6-27-9 57z"/><path class=qcb d="M843 1330l9-9-6-27-9 8z"/><path class=qcK d="M835 1385l8-55-6-28-9 56z"/><path class=qcW d="M792 1421l8-54-6-28-9 54z"/><path class=qcZ d="M560 1465l9 32-7-27-8-32z"/><path class=qbO d="M509 1394l8 52-6-27-9-52z"/><path class=qbs d="M500 1389l9 5-7-27-8-5z"/><path class=qbS d="M492 1431l8-42-6-27-9 41z"/><path class=qcv d="M483 1454l9-23-7-28-8 24z"/><path class=qbT d="M910 1279l8 19-6 31-9-18z"/><path class=qcE d="M876 1349l8-39-6 31-9 39z"/><path class=qcx d="M867 1328l9 21-7 31-8-20z"/><path class=qcQ d="M824 1369l9 22-7 31-8-22z"/><path class=qdj d="M790 1424l8-35-6 32-9 35z"/><path class=qdd d="M781 1401l9 23-7 32-8-24z"/><path class=qdp d="M747 1450l8-34-6 31-9 34z"/><path class=qdj d="M738 1424l9 26-7 31-8-25z"/><path class=qdr d="M704 1466l8-32-6 32-8 32z"/><path class=qdj d="M695 1439l9 27-6 32-9-27z"/><path class=qdp d="M661 1475l9-31-7 32-8 30z"/><path class=qdg d="M652 1446l9 29-6 31-9-29z"/><path class=qdj d="M618 1474l9-28-7 31-8 29z"/><path class=qdb d="M610 1444l8 30-6 32-9-30z"/><path class=qcZ d="M575 1466l9-27-7 31-8 27z"/><path class=qcL d="M567 1434l8 32-6 31-9-32z"/><path class=qbX d="M558 1383l9 51-7 31-8-50z"/><path class=qck d="M541 1423l8-43-6 31-9 44z"/><path class=qcF d="M532 1449l9-26-7 32-8 25z"/><path class=qcq d="M524 1415l8 34-6 31-9-34z"/><path class=qbw d="M515 1363l9 52-7 31-8-52z"/><path class=qbE d="M498 1399l9-41-7 31-8 42z"/><path class=qcd d="M489 1423l9-24-6 32-9 23z"/><path class=qbF d="M873 1278l9 21-6 50-9-21z"/><path class=qce d="M830 1319l9 22-6 50-9-22z"/><path class=qcE d="M796 1374l9-35-7 50-8 35z"/><path class=qcv d="M788 1351l8 23-6 50-9-23z"/><path class=qcK d="M753 1400l9-34-7 50-8 34z"/><path class=qcE d="M745 1374l8 26-6 50-9-26z"/><path class=qcL d="M710 1416l9-32-7 50-8 32z"/><path class=qcD d="M702 1389l8 27-6 50-9-27z"/><path class=qcL d="M667 1425l9-31-6 50-9 31z"/><path class=qcy d="M659 1396l8 29-6 50-9-29z"/><path class=qcF d="M624 1424l9-28-6 50-9 28z"/><path class=qcr d="M616 1394l8 30-6 50-8-30z"/><path class=qcp d="M582 1416l8-27-6 50-9 27z"/><path class=qbX d="M573 1384l9 32-7 50-8-32z"/><path class=qbq d="M547 1373l9-43-7 50-8 43z"/><path class=qbP d="M539 1399l8-26-6 50-9 26z"/><path class=qby d="M530 1365l9 34-7 50-8-34z"/><path class=qaV d="M504 1350l9-42-6 50-9 41z"/><path class=qbm d="M496 1373l8-23-6 49-9 24z"/><path class=qav d="M905 1200l9-10-6 3-9 10z"/><path class=qaU d="M897 1257l8-57-6 3-9 57z"/><path class=qaL d="M863 1245l8-8-6 3-9 8z"/><path class=qbm d="M854 1301l9-56-7 3-8 56z"/><path class=qbb d="M820 1283l8-7-6 3-9 6z"/><path class=qbE d="M811 1336l9-53-7 2-8 54z"/><path class=qbk d="M777 1311l8-5-6 3-9 5z"/><path class=qbp d="M734 1331l8-3-6 3-9 3zM691 1343l9-2-7 3-8 2z"/><path class=qbG d="M579 1381l9 32-6 3-9-32z"/><path class=qbi d="M537 1362l8 34-6 3-9-34z"/><path class=qaK d="M511 1347l8-42-6 3-9 42z"/><path class=qaS d="M502 1370l9-23-7 3-8 23z"/><path class=qaO d="M920 1234l9 37-6-44-9-37z"/><path class=qaL d="M912 1244l8-10-6-44-9 10z"/><path class=qbm d="M903 1301l9-57-7-44-8 57z"/><path class=qbk d="M878 1281l8 39-6-44-9-39z"/><path class=qbf d="M869 1290l9-9-7-44-8 8z"/><path class=qbM d="M860 1345l9-55-6-45-9 56z"/><path class=qbE d="M835 1320l8 40-6-44-9-40z"/><path class=qbx d="M826 1327l9-7-7-44-8 7z"/><path class=qch d="M817 1380l9-53-6-44-9 53z"/><path class=qbU d="M792 1350l8 42-6-44-9-42z"/><path class=qbK d="M783 1355l9-5-7-44-8 5z"/><path class=qct d="M775 1407l8-52-6-44-9 52z"/><path class=qcc d="M749 1372l8 44-6-44-9-44z"/><path class=qbP d="M740 1375l9-3-7-44-8 3z"/><path class=qcd d="M706 1385l9 46-7-44-8-46z"/><path class=qbP d="M697 1387l9-2-6-44-9 2z"/><path class=qbX d="M663 1390l9 47-7-44-8-47z"/><path class=qbI d="M654 1390l9 0-6-44-9 0z"/><path class=qbt d="M612 1385l8 2-6-44-9-2z"/><path class=qbq d="M577 1375l9 50-7-44-8-51z"/><path class=qbe d="M569 1371l8 4-6-45-9-3z"/><path class=qaW d="M534 1354l9 52-6-44-9-52z"/><path class=qaK d="M526 1349l8 5-6-44-9-5z"/><path class=qbb d="M517 1391l9-42-7-44-8 42z"/><path class=qbv d="M509 1414l8-23-6-44-9 23z"/><path class=qbe d="M918 1270l9-10-7-26-8 10z"/><path class=qbM d="M910 1327l8-57-6-26-9 57z"/><path class=qbz d="M875 1315l9-8-6-26-9 9z"/><path class=qcn d="M867 1371l8-56-6-25-9 55z"/><path class=qbX d="M832 1352l9-6-6-26-9 7z"/><path class=qcl d="M790 1381l8-5-6-26-9 5z"/><path class=qcs d="M747 1401l8-3-6-26-9 3zM704 1413l8-2-6-26-9 2z"/><path class=qcU d="M635 1461l9 30-7-25-8-31z"/><path class=qbq d="M541 1380l8 52-6-26-9-52z"/><path class=qbc d="M532 1375l9 5-7-26-8-5z"/><path class=qbx d="M524 1417l8-42-6-26-9 42z"/><path class=qbU d="M515 1440l9-23-7-26-8 23z"/><path class=qbt d="M942 1263l8 19-6 33-9-18z"/><path class=qbY d="M899 1312l9 20-7 34-8-21z"/><path class=qcE d="M865 1375l8-37-6 33-9 37z"/><path class=qcx d="M856 1353l9 22-7 33-8-22z"/><path class=qcQ d="M822 1408l8-35-6 33-9 35z"/><path class=qcK d="M813 1385l9 23-7 33-8-23z"/><path class=qcZ d="M779 1434l8-34-6 33-9 34z"/><path class=qcQ d="M770 1408l9 26-7 33-8-26z"/><path class=qdd d="M736 1450l8-32-6 33-8 32z"/><path class=qcQ d="M727 1423l9 27-6 33-9-27z"/><path class=qcZ d="M693 1459l9-31-7 33-8 31z"/><path class=qcQ d="M684 1430l9 29-6 33-9-29z"/><path class=qct d="M659 1430l8-47-6 33-9 47z"/><path class=qcQ d="M650 1458l9-28-7 33-8 28z"/><path class=qcI d="M642 1428l8 30-6 33-9-30z"/><path class=qbR d="M633 1379l9 49-7 33-8-49z"/><path class=qcd d="M616 1423l8-45-6 33-9 45z"/><path class=qcF d="M607 1450l9-27-7 33-8 27z"/><path class=qcq d="M599 1418l8 32-6 33-9-32z"/><path class=qby d="M590 1367l9 51-7 33-8-51z"/><path class=qbH d="M573 1407l8-43-6 33-9 43z"/><path class=qck d="M564 1432l9-25-7 33-8 26z"/><path class=qbP d="M556 1399l8 33-6 34-9-34z"/><path class=qbc d="M547 1347l9 52-7 33-8-52z"/><path class=qaO d="M539 1342l8 5-6 33-9-5z"/><path class=qba d="M530 1383l9-41-7 33-8 42z"/><path class=qbC d="M521 1407l9-24-6 34-9 23z"/><path class=qaN d="M948 1212l9 18-7 52-8-19z"/><path class=qbo d="M914 1281l8-39-6 52-8 38z"/><path class=qbi d="M905 1261l9 20-6 51-9-20z"/><path class=qbL d="M871 1323l9-37-7 52-8 37z"/><path class=qbE d="M862 1301l9 22-6 52-9-22z"/><path class=qcd d="M828 1357l9-36-7 52-8 35z"/><path class=qbS d="M820 1333l8 24-6 51-9-23z"/><path class=qcq d="M785 1382l9-34-7 52-8 34z"/><path class=qcd d="M777 1357l8 25-6 52-9-26z"/><path class=qcs d="M742 1399l9-32-7 51-8 32z"/><path class=qch d="M734 1372l8 27-6 51-9-27z"/><path class=qbM d="M708 1377l9-49-7 52-8 48z"/><path class=qcr d="M699 1407l9-30-6 51-9 31z"/><path class=qca d="M691 1378l8 29-6 52-9-29z"/><path class=qce d="M656 1407l9-29-6 52-9 28z"/><path class=qbP d="M648 1376l8 31-6 51-8-30z"/><path class=qbo d="M622 1371l9-45-7 52-8 45z"/><path class=qbO d="M614 1398l8-27-6 52-9 27z"/><path class=qbw d="M605 1366l9 32-7 52-8-32z"/><path class=qaW d="M579 1356l9-44-7 52-8 43z"/><path class=qbq d="M571 1381l8-25-6 51-9 25z"/><path class=qbc d="M562 1347l9 34-7 51-8-33z"/><path class=qaA d="M554 1295l8 52-6 52-9-52z"/><path class=qaE d="M536 1332l9-42-6 52-9 41z"/><path class=qaU d="M528 1355l8-23-6 51-9 24z"/><path class=qaa d="M937 1180l9-10-6 5-9 10z"/><path class=qaD d="M929 1238l8-58-6 5-9 57z"/><path class=qbg d="M920 1276l9-38-7 4-8 39z"/><path class=qav d="M895 1226l8-8-6 4-9 9z"/><path class=qaT d="M886 1281l9-55-7 5-8 55z"/><path class=qbr d="M877 1318l9-37-6 5-9 37z"/><path class=qbf d="M843 1317l9-54-7 5-8 53z"/><path class=qbI d="M834 1352l9-35-6 4-9 36z"/><path class=qbq d="M800 1344l9-52-7 4-8 52z"/><path class=qbV d="M792 1377l8-33-6 4-9 34z"/><path class=qbI d="M783 1352l9 25-7 5-8-25z"/><path class=qbt d="M757 1362l9-50-7 4-8 51z"/><path class=qbY d="M749 1394l8-32-6 5-9 32z"/><path class=qbO d="M740 1367l9 27-7 5-8-27z"/><path class=qbr d="M714 1372l9-49-6 5-9 49z"/><path class=qbV d="M706 1402l8-30-6 5-9 30z"/><path class=qbI d="M697 1374l9 28-7 5-8-29z"/><path class=qbk d="M671 1374l9-47-6 4-9 47z"/><path class=qbL d="M663 1402l8-28-6 4-9 29z"/><path class=qbx d="M654 1372l9 30-7 5-8-31z"/><path class=qaS d="M629 1367l8-46-6 5-9 45z"/><path class=qbs d="M620 1393l9-26-7 4-8 27z"/><path class=qba d="M611 1361l9 32-6 5-9-32z"/><path class=qaK d="M586 1351l8-43-6 4-9 44z"/><path class=qbc d="M577 1376l9-25-7 5-8 25z"/><path class=qaO d="M569 1343l8 33-6 5-9-34z"/><path class=qap d="M543 1327l8-42-6 5-9 42z"/><path class=qaH d="M534 1351l9-24-7 5-8 23z"/><path class=qaT d="M961 1250l9 18-7-42-8-19z"/><path class=qax d="M952 1213l9 37-6-43-9-37z"/><path class=qat d="M944 1223l8-10-6-43-9 10z"/><path class=qaT d="M935 1280l9-57-7-43-8 58z"/><path class=qbt d="M927 1319l8-39-6-42-9 38z"/><path class=qbo d="M918 1299l9 20-7-43-8-20z"/><path class=qaM d="M910 1260l8 39-6-43-9-38z"/><path class=qaL d="M901 1268l9-8-7-42-8 8z"/><path class=qbk d="M892 1324l9-56-6-42-9 55z"/><path class=qbR d="M884 1361l8-37-6-43-9 37z"/><path class=qbI d="M875 1339l9 22-7-43-8-21z"/><path class=qbe d="M867 1299l8 40-6-42-9-41z"/><path class=qaS d="M858 1306l9-7-7-43-8 7z"/><path class=qbB d="M849 1359l9-53-6-43-9 54z"/><path class=qcn d="M841 1395l8-36-6-42-9 35z"/><path class=qbZ d="M832 1371l9 24-7-43-8-23z"/><path class=qbq d="M824 1329l8 42-6-42-9-42z"/><path class=qbi d="M815 1334l9-5-7-42-8 5z"/><path class=qbO d="M807 1386l8-52-6-42-9 52z"/><path class=qcv d="M798 1420l9-34-7-42-8 33z"/><path class=qcm d="M789 1395l9 25-6-43-9-25z"/><path class=qby d="M781 1351l8 44-6-43-9-44z"/><path class=qbm d="M772 1354l9-3-7-43-8 4z"/><path class=qbR d="M764 1405l8-51-6-42-9 50z"/><path class=qcz d="M755 1437l9-32-7-43-8 32z"/><path class=qco d="M747 1410l8 27-6-43-9-27z"/><path class=qby d="M738 1364l9 46-7-43-8-45z"/><path class=qbm d="M729 1366l9-2-6-42-9 1z"/><path class=qbR d="M721 1415l8-49-6-43-9 49z"/><path class=qcx d="M712 1445l9-30-7-43-8 30z"/><path class=qck d="M704 1416l8 29-6-43-9-28z"/><path class=qbt d="M695 1369l9 47-7-42-8-47z"/><path class=qba d="M686 1369l9 0-6-42-9 0z"/><path class=qbH d="M678 1416l8-47-6-42-9 47z"/><path class=qcn d="M669 1445l9-29-7-42-8 28z"/><path class=qbX d="M661 1414l8 31-6-43-9-30z"/><path class=qbi d="M652 1366l9 48-7-42-8-49z"/><path class=qaR d="M644 1364l8 2-6-43-9-2z"/><path class=qbu d="M635 1409l9-45-7-43-8 46z"/><path class=qbS d="M626 1436l9-27-6-42-9 26z"/><path class=qbE d="M618 1404l8 32-6-43-9-32z"/><path class=qaV d="M609 1353l9 51-7-43-8-50z"/><path class=qaK d="M601 1350l8 3-6-42-9-3z"/><path class=qbb d="M592 1394l9-44-7-42-8 43z"/><path class=qbx d="M584 1419l8-25-6-43-9 25z"/><path class=qba d="M575 1385l9 34-7-43-8-33z"/><path class=qaE d="M566 1333l9 52-6-42-9-53z"/><path class=qap d="M558 1328l8 5-6-43-9-5z"/><path class=qaJ d="M549 1370l9-42-7-43-8 42z"/><path class=qaR d="M541 1393l8-23-6-43-9 24z"/><path class=qbi d="M967 1274l9 18-6-24-9-18z"/><path class=qaN d="M959 1237l8 37-6-24-9-37z"/><path class=qaK d="M950 1247l9-10-7-24-8 10z"/><path class=qbi d="M942 1304l8-57-6-24-9 57z"/><path class=qbS d="M933 1343l9-39-7-24-8 39z"/><path class=qbL d="M925 1323l8 20-6-24-9-20z"/><path class=qaZ d="M916 1284l9 39-7-24-8-39z"/><path class=qbb d="M907 1293l9-9-6-24-9 8z"/><path class=qbG d="M899 1348l8-55-6-25-9 56z"/><path class=qcs d="M890 1385l9-37-7-24-8 37z"/><path class=qcl d="M882 1363l8 22-6-24-9-22z"/><path class=qby d="M873 1323l9 40-7-24-8-40z"/><path class=qbr d="M864 1330l9-7-6-24-9 7z"/><path class=qbZ d="M856 1383l8-53-6-24-9 53z"/><path class=qcH d="M847 1419l9-36-7-24-8 36z"/><path class=qcA d="M839 1395l8 24-6-24-9-24z"/><path class=qbO d="M830 1353l9 42-7-24-8-42z"/><path class=qbD d="M822 1358l8-5-6-24-9 5z"/><path class=qcn d="M813 1410l9-52-7-24-8 52z"/><path class=qcS d="M804 1444l9-34-6-24-9 34z"/><path class=qcH d="M796 1419l8 25-6-24-9-25z"/><path class=qbX d="M787 1375l9 44-7-24-8-44z"/><path class=qbL d="M779 1378l8-3-6-24-9 3z"/><path class=qcr d="M770 1429l9-51-7-24-8 51z"/><path class=qcT d="M762 1461l8-32-6-24-9 32z"/><path class=qcM d="M753 1434l9 27-7-24-8-27z"/><path class=qbX d="M744 1388l9 46-6-24-9-46z"/><path class=qbL d="M736 1390l8-2-6-24-9 2z"/><path class=qcr d="M727 1439l9-49-7-24-8 49z"/><path class=qcS d="M719 1469l8-30-6-24-9 30z"/><path class=qcF d="M710 1440l9 29-7-24-8-29z"/><path class=qbS d="M701 1393l9 47-6-24-9-47z"/><path class=qbB d="M693 1393l8 0-6-24-9 0z"/><path class=qck d="M684 1440l9-47-7-24-8 47z"/><path class=qcM d="M676 1469l8-29-6-24-9 29z"/><path class=qcx d="M667 1438l9 31-7-24-8-31z"/><path class=qbF d="M659 1390l8 48-6-24-9-48z"/><path class=qbp d="M650 1388l9 2-7-24-8-2z"/><path class=qbQ d="M641 1433l9-45-6-24-9 45z"/><path class=qcv d="M633 1460l8-27-6-24-9 27z"/><path class=qcd d="M624 1428l9 32-7-24-8-32z"/><path class=qbm d="M616 1378l8 50-6-24-9-51z"/><path class=qaS d="M607 1374l9 4-7-25-8-3z"/><path class=qbv d="M598 1418l9-44-6-24-9 44z"/><path class=qbU d="M590 1443l8-25-6-24-8 25z"/><path class=qbC d="M581 1409l9 34-6-24-9-34z"/><path class=qaU d="M573 1357l8 52-6-24-9-52z"/><path class=qaH d="M564 1352l9 5-7-24-8-5z"/><path class=qaR d="M556 1394l8-42-6-24-9 42z"/><path class=qbp d="M547 1417l9-23-7-24-8 23z"/></g>
<line x1="54.70" y1="162.90" x2="97.60" y2="150.40" stroke="#5a5a5a" stroke-width="0.8"/>
<line x1="54.70" y1="162.90" x2="22.70" y2="147.60" stroke="#5a5a5a" stroke-width="0.8"/>
<line x1="22.70" y1="147.60" x2="22.70" y2="113.50" stroke="#5a5a5a" stroke-width="0.8"/>
<text x="57.20" y="170.62" font-size="5.40" text-anchor="start" fill="#333333">-5</text>
<text x="78.65" y="164.37" font-size="5.40" text-anchor="start" fill="#333333">0</text>
<text x="100.10" y="158.12" font-size="5.40" text-anchor="start" fill="#333333">5</text>
<text x="51.90" y="169.72" font-size="5.40" text-anchor="end" fill="#333333">-5</text>
<text x="35.90" y="162.07" font-size="5.40" text-anchor="end" fill="#333333">0</text>
<text x="19.90" y="154.42" font-size="5.40" text-anchor="end" fill="#333333">5</text>
<text x="20.20" y="149.52" font-size="5.40" text-anchor="end" fill="#333333">0</text>
<text x="20.20" y="128.34" font-size="5.40" text-anchor="end" fill="#333333">50</text>
<text x="77.85" y="175.45" font-size="6.60" text-anchor="start" fill="#333333">x<tspan font-size="4.6" dy="1.7">1</tspan></text>
<text x="27.85" y="175.45" font-size="6.60" text-anchor="start" fill="#333333">x<tspan font-size="4.6" dy="1.7">2</tspan></text>
<text transform="translate(7.20 131.40) rotate(-90)" font-size="6.4" text-anchor="middle" fill="#333333">F9( x<tspan font-size="4.7" dy="1.7">1</tspan><tspan dy="-1.7"> , x</tspan><tspan font-size="4.7" dy="1.7">2</tspan><tspan dy="-1.7"> )</tspan></text>
<text x="60.40" y="98.60" font-size="6.10" text-anchor="middle" font-weight="bold" fill="#000">Function Topology</text>
<g stroke="#e4e4e4" stroke-width="0.5"><line x1="21.80" y1="239.20" x2="21.80" y2="204.10"/><line x1="53.20" y1="255.40" x2="21.80" y2="239.20"/><line x1="42.80" y1="232.95" x2="42.80" y2="197.85"/><line x1="74.20" y1="249.15" x2="42.80" y2="232.95"/><line x1="63.80" y1="226.70" x2="63.80" y2="191.60"/><line x1="95.20" y1="242.90" x2="63.80" y2="226.70"/><line x1="95.20" y1="242.90" x2="95.20" y2="207.80"/><line x1="53.20" y1="255.40" x2="95.20" y2="242.90"/><line x1="79.50" y1="234.80" x2="79.50" y2="199.70"/><line x1="37.50" y1="247.30" x2="79.50" y2="234.80"/><line x1="63.80" y1="226.70" x2="63.80" y2="191.60"/><line x1="21.80" y1="239.20" x2="63.80" y2="226.70"/><line x1="21.80" y1="239.20" x2="63.80" y2="226.70"/><line x1="63.80" y1="226.70" x2="95.20" y2="242.90"/><line x1="21.80" y1="223.21" x2="63.80" y2="210.71"/><line x1="63.80" y1="210.71" x2="95.20" y2="226.91"/><line x1="21.80" y1="207.21" x2="63.80" y2="194.71"/><line x1="63.80" y1="194.71" x2="95.20" y2="210.91"/></g>
<g transform="scale(0.1)" fill="none" stroke-width="4.5" stroke-linecap="round"><path stroke="#2c4ac7" d="M588 2409l0 3-6 0 0-3 6 0"/><path stroke="#0871de" d="M584 2417l-3 0 3 0M581 2405l4 2 13 0 0 2-5 2 3 2-1 3-23-2 0-2 5-2-3-2 1-3 6 0M604 2411l-3 1 3-1M569 2409l-3 1 3-1M588 2403l-2 1 2-1"/><path stroke="#1389d3" d="M592 2421l-3 1-2-2 5 1M572 2401l4 3 8-3 15 4 9-1 0 1-5 2 5 3-1 3-7 3 4 2-2 1-8-2-16 2-7-3-9 1 0-1 5-2-5-3 1-3 7-3-4-2 2-1 4-1M613 2415l-4 1-1-2 5 1M576 2420l-3 1-3-1 6 0M615 2408l-5 1 5-1M560 2412l-5 1 5-1M599 2400l-5 1 5-1M561 2405l1 2-5-1 4-1M581 2399l2 2-5-1 3-1"/><path stroke="#06a4ca" d="M588 2429l3 0M601 2425l-5 1-2-2 7 1M565 2397l3 3 25-5 2 3 15 4 9-2 0 2-6 2 6 3 0 3 6 1-1 3-7 0-2 3-8 3 5 2-2 1-8-2-20 5-22-7-9 2 0-2 6-2-6-3 0-3-6-1 1-3 15-5 2-1-5-2 7-2M621 2419l-5 1-1-2 6 1M630 2416l3 0M569 2428l3 0M632 2409l3 0M566 2422l-3 3-4-2 7-1M626 2405l-7 2 3-3 4 1M551 2414l-3 3-4-1 7-2M610 2397l1 1-7 1 6-2M538 2412l3 0M601 2393l3 0M540 2405l3 0M554 2401l1 2-6-1 5-1M574 2395l2 2-7-1 5-1M582 2392l3 0"/><path stroke="#1db3af" d="M598 2432l-4 1-1-1 5 0M567 2390l2 3 10-3 12 3 14-1 8 3 9-2 0 2-6 2 14 0 0 3-6 1 4 2 9-2 0 2-6 1 0 2 6 2-1 3-6 1 4 3-1 3-9 3 6 2-1 2-12-2 3 2-1 3-14-1 5 2-2 2-5 0-2-3-10 3-13-3-13 1-8-3-9 2 0-2 6-2-14 0 0-3 6-1-4-2-9 2 0-2 6-1 0-2-6-2 1-3 6-1-4-3 1-3 9-3-6-2 1-2 12 2-3-2 1-3 12 2 2-1-5-2 7-2M639 2420l-4 1 0-2 4 1M581 2431l-2 2-4 0-1-3 7 1M642 2413l-6 2 1-3 5 1M562 2430l-2 2-3-2 5 0M644 2406l-4 1 4-1M530 2414l-4 1 4-1M613 2389l-5 2 5-2M534 2406l-1 3-5-1 6-2M595 2388l1 3-7-1 6-2M535 2400l0 2-4-1 4-1M576 2388l1 1-5 0 4-1"/><path stroke="#4dbc92" d="M612 2441l3 0M623 2437l-3 0 3 0M634 2434l-4 0 4 0M644 2431l-3 0 3 0M654 2428l3 0M583 2443l3 0M596 2439l-5 2-1-2 6 0M570 2383l2 3 10-3 8 1 2 2 16-1 2 2 6 1 3-3 6 1 0 3-6 1 14 0 1 3 8 1 0 3 7 1 0 3-5 2 12-1 0 2-7 1 0 2 6 2-1 3-7 2 5 2-1 3-7 1-1 2 6 1-1 3-12-2 4 2-2 3-19 3-2 3-13-2-1 1 5 2-2 2-6 0-2-3-10 3-8-1-2-2-16 1-2-2-6-1-3 3-6-1 0-3 6-1-14 0-1-3-8-1 0-3-7-1 0-3 5-2-12 1 0-2 7-1 0-2-6-2 1-3 6-1-4-3 1-3 7-1 1-2-6-1 1-3 12 2-4-2 2-3 8 0 3-3 8 0 2-3 13 2 1-1-5-2 2-2 6 0M658 2421l-5 1 0-2 5 1M666 2418l3 0M564 2442l3 0M578 2438l-2 2-4 0-1-2 7 0M661 2413l-7 2 1-2 6 0M669 2411l3 0M559 2437l-1 2-4-2 5 0M663 2406l-5 2 1-2 4 0M539 2437l3 0M664 2400l3 0M532 2433l-3 1 3-1M657 2395l-3 1 3-1M525 2428l-4 2 4-2M649 2391l-4 2 4-2M516 2425l-3 1 3-1M641 2387l-3 1 3-1M507 2421l3 0M633 2384l3 0M512 2413l-1 2-4 0 5-2M616 2382l0 2-5 0 5-2M501 2410l3 0M516 2406l-1 2-6 0 7-2M598 2381l1 2-7 0 6-2M606 2379l3 0M504 2403l3 0M517 2399l0 2-5-1 5-1M579 2380l1 2-6 0 5-2M588 2378l3 0M517 2392l3 0M529 2389l-3 1 3-1M540 2386l0 1-4 0 4-1M550 2383l-3 1 3-1M559 2380l3 0"/><path stroke="#92bf73" d="M628 2449l3 0M639 2446l-3 0 3 0M649 2442l-3 1 3-1M659 2439l-2 1 2-1M669 2436l3 0M599 2451l-2 0 2 0M611 2447l-5 2 0-2 5 0M623 2444l-2 2-5 0-1-3 8 1M544 2378l2 3 6-1 3-2 8 0 3-3 14 3 22-4 0 3 9 0 2 3 16-2 1 3 7 1 2 3 15-1 0 2-7 1 1 2 14-1 0 2-7 1 5 3 3-3 7 1-1 2-7 1 1 2 6 1 0 4 7 1-1 3-7 2 6 2-1 3 7 1-1 2-7 1-2 3-6 1-1 2 5 1-1 3-17 4-2 2 6 2-1 2-13-2-2 1 6 2-2 2-13-2-2 1 7 2-2 2-14-2-3 2-8 0-3 3-14-3-22 4 0-3-9 0-2-3-16 2-1-3-7-1-2-3-15 1 0-2 7-1-1-2-14 1 0-2 7-1 0-2-15 1 1-2 7-1-1-2-6-1 0-4-7-1 1-3 7-2-6-2 1-3-7-1 1-2 7-1 2-3 6-1 1-2-5-1 1-3 17-4 2-2-6-2 1-2 13 2 2-1-6-2 2-2 13 2 2-1-7-2 2-2 6 0M664 2432l-1 2-6 0 0-3 7 1M674 2429l-5 1 0-2 5 1M683 2426l-2 1 2-1M569 2454l3 0M582 2450l-4-1 4 1M595 2446l-3 2-5 0-1-3 9 1M677 2421l-1 2-6 1 0-4 7 1M686 2419l-4 1 4-1M695 2416l3 0M564 2449l-4 1 4-1M689 2412l-4 1 4-1M572 2442l-4 2 9 1-5-3M667 2414l4 3 2-4-6 1M544 2448l-2 1 2-1M558 2444l-2 3-6-1 0-2 8 0M682 2407l0 2-8 0 2-3 6 1M691 2405l-3 0 3 0M538 2444l-5 1 0-2 5 1M684 2400l-5 2 1-2 4 0M518 2443l-2 1 2-1M532 2439l-2 3-6-1 0-2 8 0M677 2396l0 2-8 0 2-3 6 1M685 2393l-1 1 1-1M511 2439l-3 1 3-1M678 2389l-3 1 3-1M503 2435l-3 1 3-1M670 2385l-3 1 3-1M495 2431l-3 1 3-1M662 2381l-3 1 3-1M486 2427l-1 1 1-1M501 2423l-2 3-6-1 0-2 8 0M646 2380l0 2-8 0 2-3 6 1M654 2377l-2 1 2-1M491 2419l-1 2-4 0 5-2M637 2376l0 2-5-1 5-1M482 2416l-3 0 3 0M496 2412l-2 3-6-1 0-2 8 0M620 2375l0 2-8 0 2-3 6 1M628 2372l-2 1 2-1M499 2404l-2 4 6-1-4-3M593 2376l3 3 6-2-9-1M485 2408l-4 1 4-1M610 2371l-4 1 4-1M475 2405l3 0M488 2401l-4 1 4-1M500 2397l0 4-7-1 1-2 6-1M583 2373l1 3-9-1 3-2 5 0M592 2370l-4 1 4-1M601 2367l3 0M489 2394l-2 1 2-1M501 2391l0 2-5-1 5-1M513 2387l0 3-7-1 1-2 6 0M554 2375l1 3-8-1 2-2 5 0M564 2372l0 2-5 0 5-2M573 2369l-2 1 2-1M502 2384l3 0M513 2381l-2 1 2-1M524 2378l-3 1 3-1M534 2375l-3 0 3 0M544 2372l3 0"/><path stroke="#c8bc5d" d="M651 2461l3 0M661 2458l3 0M672 2455l3 0M682 2452l3 0M693 2449l3 0M611 2467l3 0M623 2463l-3 1 3-1M634 2460l-4 1 4-1M645 2457l-5 1 0-2 5 1M656 2453l-5 2 0-2 5 0M666 2450l-5 2 0-2 5 0M676 2447l-5 2 1-2 4 0M687 2444l-5 1 0-1 5 0M697 2441l-4 1 4-1M707 2438l-3 1 3-1M716 2435l3 0M594 2465l-2 1 2-1M605 2462l-4 1 4-1M617 2458l-6 2 0-2 6 0M628 2455l-2 3-5-1 0-3 7 1M539 2367l1 3 7 0 3-3 9 0 2-3 8 0 1 3 18-2 5 3 4-3-9 0 2-3 7 0 0 3 9 1 3-3 6 0 0 3-9 0 2 2 7-2 9 1 2 3 5 0 3-2 8 0 0 3 8 1 1 3 7 1 3-3 6 0 0 3-8 0 1 3 16-2-1 3-7 1 1 1 15-1-1 3-7 1 4 2 4-2 7 0 0 3-8 1 1 2 15-2-1 3-8 0 1 3 6 1 0 4 8 0-1 3-7 1-1 2 7 1-1 4-7 2 5 1 2-3 7 1-1 2-8 1-1 3 8 1-1 3-8 0 1-4-7 1 6 3-2 3-7 1-1 2 6 1-1 3-8 0-2 3-7 1-3 2 8 1-2 3-7 0 0-3-6 0-2 2 7 1-2 3-13-2-2 1 7 2-2 2-14-2-2 1 7 2-2 3-14-3-2 2 7 1-2 3-6-1-1-3-7 0-3 3-9 0-2 3-8 0-1-3-18 2-5-3-4 3 9 0-2 3-7 0 0-3-9-1-3 3-6 0 0-3 9 0-2-2-7 2-9-1-2-3-5 0-3 2-8 0 0-3-8-1-1-3-16 2 0-3 8 0-1-3-16 2 1-3 7-1-1-1-15 1 1-3 7-1 0-1-15 1 0-3 8-1-1-2-15 2 1-3 8 0-1-3-6-1 0-4-8 0 1-3 7-1 1-2-7-1 1-4 7-2-5-1-2 3-7-1 1-2 8-1 1-3-8-1 1-3 8 0-1 4 7-1-6-3 2-3 7-1 1-2-6-1 1-3 8 0 2-3 7-1 3-2-8-1 2-3 7 0 0 3 6 0 2-2-7-1 2-3 13 2 2-1-7-2 2-2 14 2 2-1-7-2 2-3 14 3 2-2-7-1 2-3 6 1M691 2437l-2 2-6 0 1-3 7 1M700 2434l-6 1 1-2 5 1M710 2431l-4 1 4-1M720 2428l-2 1 2-1M564 2468l3 0M576 2464l-3 1 3-1M588 2461l-6 1 0-2 6 1M600 2457l-2 3-6 0 0-3 8 0M704 2426l-1 3-7 0 1-4 7 1M713 2423l-5 2 0-2 5 0M723 2421l-3 0 3 0M732 2418l3 0M607 2452l2 1-2-1M680 2430l3 1-3-1M558 2463l-3 1 3-1M570 2460l-6 1 0-2 6 1M716 2416l-6 2 1-2 5 0M725 2413l-3 1 3-1M539 2463l-2 0 2 0M551 2459l-5 1 0-1 5 0M718 2409l-5 2 1-2 4 0M727 2406l-2 1 2-1M520 2462l3 0M532 2458l-4 1 4-1M545 2454l-2 3-6 0 0-3 8 0M712 2405l-1 2-8 0 2-3 7 1M720 2402l-4 1 4-1M730 2399l3 0M513 2458l-3 0 3 0M526 2454l-2 2-5 0 0-2 7 0M713 2398l0 2-6 0 1-3 5 1M722 2395l-2 1 2-1M533 2448l-2 1 4 0-2-1M691 2401l3-1-3 1M506 2453l-4 1 4-1M519 2449l-2 3-6 0 0-3 8 0M706 2394l0 2-8 0 2-3 6 1M715 2391l-4 1 4-1M486 2453l3 0M498 2449l-4 1 4-1M708 2387l-5 1 5-1M717 2384l3 0M478 2449l3 0M491 2445l-5 1 5-1M700 2383l-5 1 5-1M709 2380l3 0M470 2445l3 0M483 2441l-1 2-4-1 0-1 5 0M692 2379l0 1-5 0 1-2 4 1M701 2376l3 0M462 2441l3 0M475 2437l-5 1 5-1M684 2375l-5 1 5-1M693 2372l3 0M454 2437l3 0M467 2433l-5 1 5-1M676 2371l-4 1 4-1M685 2368l3 0M459 2429l-4 1 4-1M472 2425l-2 3-6-1 0-2 8 0M659 2369l0 3-8 0 2-3 6 0M668 2367l-4 1 4-1M477 2419l-1 2 3-1-2-1M635 2372l4 0-4 0M450 2425l-2 1 2-1M463 2421l-1 3-5-1 0-2 6 0M651 2365l0 2-7 0 2-2 5 0M660 2363l-3 0 3 0M441 2421l3 0M454 2418l-4 1 4-1M467 2414l-2 3-7-1 1-2 8 0M633 2364l0 3-8 0 2-3 6 0M642 2362l-4 1 4-1M651 2359l3 0M445 2414l-2 1 2-1M457 2410l-1 2-4 0 5-2M624 2361l0 1-5 0 5-1M633 2358l-2 0 2 0M448 2407l-3 1 3-1M460 2403l-1 2-5 0 6-2M606 2360l0 2-6-1 6-1M615 2357l-3 1 3-1M487 2390l1 2 2-1-3-1M561 2368l4 1-4-1M438 2403l3 0M450 2400l-3 0 3 0M462 2396l0 2-5 0 5-2M474 2392l-1 4-7-1 1-3 7 0M578 2361l0 3-8 0 2-3 6 0M588 2359l0 2-6-1 6-1M597 2356l-3 1 3-1M606 2353l3 0M452 2392l-2 1 2-1M464 2389l-4 1 4-1M476 2386l-1 2-5-1 6-1M487 2382l-1 3-7-1 2-2 6 0M549 2364l0 3-7-1 2-3 5 1M559 2361l0 2-6 0 6-2M569 2358l-4 1 4-1M578 2355l-2 1 2-1M454 2386l3 0M466 2382l-3 1 3-1M477 2379l-4 1 4-1M488 2376l0 1-5 0 5-1M499 2372l-1 2-4 0 5-2M509 2369l0 2-5 0 5-2M519 2366l0 2-5 0 5-2M530 2363l0 2-5-1 5-1M540 2360l-4 1 4-1M550 2357l-3 1 3-1M559 2354l3 0M478 2372l3 0M489 2369l3 0M499 2366l3 0M510 2363l3 0M520 2360l3 0"/><path stroke="#f8bb44" d="M679 2485l3 0M690 2482l3 0M700 2478l3 0M711 2475l3 0M721 2472l3 0M732 2469l3 0M742 2466l3 0M640 2490l3 0M651 2487l3 0M661 2484l3 0M672 2480l-2 1 2-1M683 2477l-2 1 2-1M693 2474l-2 1 2-1M704 2471l-2 1 2-1M714 2468l-2 0 2 0M725 2465l-2 0 2 0M735 2462l-2 0 2 0M745 2459l3 0M756 2456l3 0M766 2452l3 0M611 2492l3 0M622 2489l3 0M633 2486l-2 0 2 0M644 2482l-3 1 3-1M655 2479l-4 1 4-1M665 2476l-4 1 4-1M676 2473l-4 1 4-1M687 2470l-5 1 0-2 5 1M697 2467l-4 1 0-2 4 1M708 2463l-5 2 0-2 5 0M718 2460l-4 2 4-2M728 2457l-4 1 4-1M739 2454l-4 1 4-1M749 2451l-3 1 3-1M759 2448l-2 1 2-1M769 2445l3 0M779 2442l3 0M593 2491l3 0M604 2488l-2 0 2 0M615 2485l-3 0 3 0M626 2481l-4 1 4-1M637 2478l-5 1 1-1 4 0M648 2475l-6 1 1-2 5 1M659 2472l-1 2-6-1 1-2 6 1M670 2468l-2 3-5-1 0-2 7 0M680 2465l-1 2-6 0 0-2 7 0M691 2462l-2 2-6 0 1-2 7 0M701 2459l-1 2-6 0 0-3 7 1M711 2456l-1 2-5 0 0-3 6 1M722 2453l-1 2-6 0 1-3 6 1M732 2450l-6 2 1-3 5 1M742 2447l-5 1 1-2 4 1M752 2444l-4 1 4-1M762 2441l-3 1 3-1M772 2438l-2 0 2 0M782 2435l3 0M564 2493l3 0M575 2490l3 0M586 2487l-2 1 2-1M597 2484l-4 1 4-1M608 2480l-5 2 1-2 4 0M619 2477l-1 2-5 0 1-2 5 0M630 2474l-1 2-6 0 1-3 6 1M641 2470l-1 3-7 0 1-3 7 0M527 2351l-1 4 9 0 2-3 9 0 2-3 8 0 0 3 7 0 3-3 9 1 1 3 5 0 2-3-8 0 2-4 7 1 0 3 9 0 2-3 8 1 0 3 8 0 2-3 8 1 0 3 9 0 2-3 7 1 0 3-9 0 1 2 17-2 0 4 7 0 3-3 8 1-1 3 9 0 0 4 8 0 2-3 7 1 0 3-9-1 1 3 17-1-1 3-8 0 0 2 17-1-1 3-8 0 0 2 16-1 0 3-8 0 0 2 5 1 3-3 8 1 0 3-8 0 0 2 16-1-1 3-8 0 0 3 7 1 2-4 8 1-1 3-9 0 0 3 8 1-1 3 8 1-1 3-8 0 0 3 7 1-1 4-7 0-1 2 6 1 2-3 8 0-1 3-8 0-1 4 8 0-1 4-8 0-2 3 8 1-1 3-8 0-2 3 8 1-1 3-8 0 1-4-7 1-1 2 7 1-2 3-8 0-1 3 8 1-2 3-8 0-2 3-8 1-2 3 8 0-1 3-8 0 1-3-8 0-2 3 8 0-2 3-8 0 0-3-6 0-2 3 8 1-2 3-8-1-1-3-5 1-2 2 7 1-1 3-9 0 0-3-6 0-2 2 8 1-2 3-8 0-1-3-5 0-3 2 8 1-2 3-7 0-1-3-6 0-3 2 8 1-1 3-8 0 1-4-9 0-2 3-9 0-2 3-8 0 0-3-7 0-3 3-9-1-1-3-5 0-2 3 8 0-2 4-7-1 0-3-9 0-2 3-8-1 0-3-18 2 0-3-9 0-2 3-7-1 0-3 9 0-1-2-17 2 0-4-7 0-3 3-8-1 1-3-9 0 0-4-8 0-2 3-7-1 0-3 9 1-1-3-17 1 1-3 8 0 0-2-17 1 1-3 8 0 0-2-16 1 0-3 8 0 0-2-5-1-3 3-8-1 0-3 8 0 0-2-16 1 1-3 8 0 0-3-7-1-2 4-8-1 1-3 9 0 0-3-8-1 1-3-8-1 1-3 8 0 0-3-7-1 1-4 7 0 1-2-6-1-2 3-8 0 1-3 8 0 1-4-8 0 1-4 8 0 2-3-8-1 1-3 8 0 2-3-8-1 1-3 8 0-1 4 7-1 1-2-7-1 2-3 8 0 1-3-8-1 2-3 8 0 2-3 8-1 2-3-8 0 1-3 8 0-1 3 8 0 2-3-8 0 2-3 8 0 0 3 6 0 2-3-8-1 2-3 8 1 1 3 5-1 2-2-7-1 1-3 9 0 0 3 6 0 2-2-8-1 2-3 8 0 1 3 5 0 3-2-8-1 2-3 7 0 1 3 6 0 3-2-8-1 1-3 8 0M725 2445l-1 3-7 0 1-3 7 0M735 2442l-1 3-6 0 1-3 6 0M745 2439l-1 2-5 0 1-2 5 0M755 2437l-5 1 1-2 4 1M765 2434l-4 1 4-1M775 2431l-3 0 3 0M785 2428l3 0M795 2425l3 0M545 2493l3 0M557 2489l3 0M568 2486l-3 1 3-1M579 2483l-4 1 4-1M590 2479l-5 2 0-2 5 0M602 2476l-2 2-5 0 0-3 7 1M613 2472l-2 3-7 0 1-3 8 0M738 2435l-1 3-7 0 1-4 7 1M748 2432l-1 2-6 0 1-2 6 0M758 2429l-6 2 1-2 5 0M768 2426l-4 2 4-2M778 2423l-3 1 3-1M787 2420l3 0M797 2418l3 0M619 2466l-3 2 8 1-1-3-4 0M630 2464l3 1-3-1M641 2461l3 0M694 2445l3 0M703 2442l3 1-3-1M713 2438l-1 2 7 1-1-3-5 0M538 2488l3 0M549 2485l-2 1 2-1M561 2482l-5 1 5-1M572 2478l-1 2-5 0 1-2 5 0M584 2475l-2 2-6 0 0-3 8 1M751 2425l-1 2-7 0 1-3 7 1M761 2422l-1 2-5 0 1-2 5 0M771 2419l-5 1 5-1M780 2416l-2 1 2-1M790 2413l3 0M601 2466l2 1-2-1M717 2432l2 0-2 0M520 2487l3 0M531 2484l-2 1 2-1M542 2481l-4 1 4-1M554 2477l-1 2-5 0 0-2 6 0M566 2474l-2 2-6 0 0-3 8 1M754 2418l-1 2-7 0 1-3 7 1M763 2415l0 2-6 0 1-3 5 1M773 2412l-4 1 4-1M783 2409l-3 1 3-1M793 2406l3 0M571 2468l-2 2 7 0-1-2-4 0M729 2421l-1 1 6 1 0-3-5 1M501 2487l3 0M512 2483l-2 1 2-1M524 2480l-4 1 4-1M535 2476l-1 2-4 0 0-2 5 0M547 2473l-2 3-6-1 1-2 7 0M756 2411l-1 2-7 0 2-3 6 1M766 2408l-1 2-5-1 1-2 5 1M775 2405l-3 1 3-1M785 2402l-2 1 2-1M795 2399l3 0M553 2467l-2 2 6 0-4-2M732 2414l4 2 1-3-5 1M494 2482l3 0M505 2479l-3 1 3-1M517 2476l-5 1 0-2 5 1M528 2472l-1 3-6-1 1-2 6 0M759 2404l-1 2-7 0 2-3 6 1M768 2401l-5 1 1-2 4 1M778 2398l-3 1 3-1M787 2395l3 0M475 2482l3 0M486 2478l-2 1 2-1M498 2475l-4 1 4-1M510 2471l-2 2-5 0 1-2 6 0M521 2468l-1 3-7-1 0-3 8 1M751 2399l0 3-8 0 1-3 7 0M761 2396l-1 2-5 0 1-2 5 0M770 2394l-4 1 4-1M780 2391l-2 0 2 0M790 2388l3 0M528 2462l1 1-1-1M727 2403l3 0-3 0M467 2477l3 0M479 2474l-3 1 3-1M490 2471l-4 1 4-1M502 2467l-1 3-6-1 0-2 7 0M753 2392l0 3-7-1 1-2 6 0M763 2389l-5 2 5-2M772 2387l-2 0 2 0M782 2384l3 0M508 2461l-3 2 8 0-1-2-4 0M729 2395l-1 2 5 0 3-3-7 1M460 2473l3 0M471 2470l-3 1 3-1M483 2466l-1 2-5 0 1-2 5 0M495 2463l-2 3-6-1 0-2 8 0M746 2388l-1 3-7 0 1-3 7 0M755 2385l0 2-5 0 1-2 4 0M765 2382l-3 2 3-2M775 2380l3 0M501 2457l-1 1 3 0-2-1M722 2391l3 0-3 0M441 2473l3 0M452 2469l-2 1 2-1M464 2466l-4 1 4-1M476 2462l-2 2-5 0 1-2 6 0M748 2381l-1 2-6 0 2-2 5 0M757 2378l-4 2 4-2M767 2376l-2 0 2 0M777 2373l3 0M494 2453l3 0M715 2388l3 0M433 2469l3 0M444 2465l-2 1 2-1M456 2462l-4 1 4-1M468 2458l-1 3-6-1 1-2 6 0M740 2377l0 2-7 0 2-2 5 0M750 2374l-5 2 5-2M759 2371l-2 1 2-1M769 2369l3 0M425 2464l3 0M437 2461l-3 1 3-1M448 2458l-4 1 4-1M460 2454l-1 3-6-1 1-2 6 0M733 2373l-1 2-7 0 2-2 6 0M742 2370l-5 2 5-2M751 2367l-2 1 2-1M761 2364l3 0M417 2460l3 0M429 2457l-3 1 3-1M441 2453l-5 2 5-2M453 2450l-2 3-6-1 1-2 7 0M725 2369l-1 2-7 0 2-3 6 1M734 2366l-5 2 5-2M744 2363l-3 1 3-1M753 2360l3 0M409 2456l3 0M421 2453l-2 1 2-1M433 2449l-5 2 5-2M445 2446l-2 2-6 0 1-2 7 0M717 2365l-1 2-6 0 1-3 6 1M726 2362l-4 1 4-1M736 2359l-3 1 3-1M745 2356l3 0M401 2452l3 0M413 2449l-2 1 2-1M425 2445l-5 2 5-2M437 2442l-2 2-5 0 0-2 7 0M709 2361l-1 2-6 0 1-3 6 1M718 2358l-4 1 4-1M728 2355l-2 1 2-1M737 2352l3 0M455 2433l3 0M676 2368l3 0M393 2448l3 0M405 2445l-2 0 2 0M417 2441l-4 2 4-2M429 2438l-2 2-5 0 1-2 6 0M701 2357l-1 2-6 0 2-2 5 0M710 2354l-4 1 4-1M720 2351l-2 1 2-1M729 2348l3 0M446 2428l-1 2 3 0-2-2M667 2363l3 0-3 0M397 2441l3 0M408 2437l-3 2 3-2M420 2434l-1 2-4 0 0-2 5 0M432 2430l-1 3-7 0 1-3 7 0M683 2356l0 2-8 0 2-3 6 1M693 2353l-1 2-5 0 1-2 5 0M702 2350l-3 1 3-1M712 2347l3 0M437 2424l-3 3 7-1 1-2-5 0M657 2358l1 2 4 0 3-2-8 0M389 2437l3 0M400 2434l-2 0 2 0M412 2430l-5 2 5-2M424 2427l-1 2-6 0 0-3 7 1M675 2352l0 2-7 0 1-3 6 1M684 2349l-4 1 4-1M694 2346l-3 1 3-1M704 2343l3 0M441 2417l2 1-2-1M641 2358l2 0-2 0M381 2433l3 0M392 2430l-2 0 2 0M404 2426l-4 1 4-1M415 2423l-1 2-5 0 1-2 5 0M427 2419l-1 3-7 0 0-3 8 0M657 2351l0 3-8-1 1-3 7 1M667 2348l-1 2-6 0 2-2 5 0M676 2345l-4 1 4-1M686 2342l-2 1 2-1M696 2339l3 0M384 2426l3 0M395 2422l-3 1 3-1M407 2419l-1 2-4-1 5-1M419 2415l-2 3-6-1 1-2 7 0M649 2347l-1 2-6 0 1-3 6 1M658 2344l0 2-5-1 5-1M668 2341l-3 1 3-1M678 2338l3 0M434 2405l-1 3 5-1-4-2M613 2352l4 2 2-2-6 0M375 2422l3 0M387 2418l-2 1 2-1M398 2415l-3 1 3-1M410 2412l-1 2-5-1 1-2 5 1M422 2408l-2 3-6-1 1-2 7 0M631 2346l-1 2-7 0 2-3 6 1M640 2343l0 2-5 0 1-2 4 0M650 2340l-4 1 4-1M660 2337l-2 1 2-1M669 2334l3 0M436 2398l0 3 6-2-6-1M594 2351l1 2 6-2-7 0M378 2415l3 0M390 2411l-3 1 3-1M401 2408l-4 1 4-1M413 2404l-1 3-5-1 0-2 6 0M424 2401l-1 3-7-1 1-2 7 0M612 2345l0 3-8-1 2-2 6 0M622 2342l0 2-6 0 1-2 5 0M632 2339l-4 1 4-1M641 2336l-2 1 2-1M651 2333l3 0M451 2389l2 0-2 0M567 2354l2 0-2 0M381 2407l3 0M392 2404l-2 1 2-1M404 2401l-5 1 5-1M415 2397l-1 2-5 0 1-2 5 0M427 2394l-1 3-7-1 1-2 7 0M594 2344l0 3-8-1 2-2 6 0M604 2341l-1 2-5 0 1-2 5 0M614 2338l-5 1 5-1M623 2335l-2 1 2-1M633 2332l3 0M451 2380l1 3 6-2-7-1M464 2378l3 1-3-1M476 2376l3 0M529 2360l3 0M537 2356l4 1-4-1M546 2352l1 3 7-2-8-1M373 2403l3 0M384 2400l3 0M395 2397l-3 1 3-1M406 2393l-4 2 4-2M418 2390l-1 2-5 0 6-2M429 2387l-1 2-6 0 1-2 6 0M440 2383l-1 4-7-1 1-3 7 0M566 2346l-1 3-8 0 2-3 7 0M575 2343l0 3-7-1 2-2 5 0M585 2340l0 2-5 0 5-2M595 2337l-4 1 4-1M605 2334l-3 1 3-1M615 2331l3 0M625 2328l3 0M375 2396l3 0M386 2393l3 0M398 2390l-3 0 3 0M409 2386l-4 1 4-1M420 2383l-1 2-4-1 5-1M431 2380l-1 2-5 0 1-2 5 0M442 2376l-1 3-6 0 1-3 6 0M453 2373l-1 3-7 0 1-3 7 0M537 2348l-1 3-7 0 1-3 7 0M547 2345l-1 3-6-1 1-2 6 0M557 2342l-1 2-5 0 1-2 5 0M567 2339l-1 2-4 0 5-2M577 2336l-4 1 4-1M586 2333l-2 1 2-1M596 2330l3 0M606 2328l3 0M389 2386l3 0M400 2383l-2 0 2 0M411 2379l-3 1 3-1M422 2376l-4 1 4-1M433 2373l-1 2-4-1 5-1M444 2369l-1 3-5-1 6-2M455 2366l-1 3-6-1 1-2 6 0M465 2363l0 3-6-1 1-2 5 0M476 2360l0 3-7-1 1-2 6 0M487 2357l-1 2-7 0 2-2 6 0M497 2354l0 2-7 0 1-2 6 0M507 2351l0 2-7 0 2-3 5 1M518 2348l-1 2-6-1 1-2 6 1M528 2345l-1 2-5-1 6-1M538 2342l-1 1-4 0 5-1M548 2339l-4 1 4-1M558 2336l-3 0 3 0M568 2333l-2 0 2 0M578 2330l3 0M391 2379l3 0M402 2375l3 0M413 2372l-2 1 2-1M424 2369l-3 1 3-1M435 2366l-4 1 4-1M446 2363l-4 1 4-1M456 2359l-4 2 4-2M467 2356l0 2-5 0 5-2M477 2353l0 2-4-1 4-1M488 2350l0 2-5-1 5-1M498 2347l-4 1 4-1M509 2344l-4 1 4-1M519 2341l-4 1 4-1M529 2338l-3 1 3-1M539 2335l-2 0 2 0M549 2332l3 0M559 2329l3 0M404 2368l3 0M415 2365l3 0M426 2362l3 0M437 2359l-2 0 2 0M447 2356l-2 0 2 0M458 2353l-2 0 2 0M468 2349l-2 1 2-1M479 2346l-2 1 2-1M489 2343l-2 1 2-1M500 2340l-2 1 2-1M510 2337l3 0M520 2334l3 0M530 2331l3 0M428 2355l3 0M439 2352l3 0M449 2349l3 0M460 2346l3 0M470 2343l3 0M481 2339l3 0M491 2336l3 0"/><path stroke="#f7d826" d="M531 2554l2 0M541 2551l3 0M552 2548l2-1M562 2545l3-1M572 2542l4-1M583 2539l3-1M593 2536l4-1M603 2533l5-2M614 2530l4-2M624 2527l5-2M634 2524l1-2 5 0M645 2520l0-1 5 0M655 2517l1-2 5 1M665 2514l1-2 6 0M676 2511l1-2 5 0M686 2508l1-2 6 0M697 2505l0-2 6 0M707 2502l1-3 6 1M717 2499l1-3 7 1M728 2496l1-3 6 1M738 2493l1-3 7 0M749 2489l1-2 6 0M759 2486l1-2 7 0M770 2483l1-2 6 0M781 2480l0-2 6 0M791 2477l1-2 6 0M802 2474l1-3 5 1M812 2471l1-3 6 1M823 2467l1-2 5 1M834 2464l0-2 5 1M844 2461l1-2 5 0M855 2458l5-2M866 2455l4-2M876 2452l5-2M887 2448l4-1M898 2445l3-1M908 2442l4-1M919 2439l3-1M930 2436l2-1M940 2432l3 0M951 2429l3 0M523 2549l2 1M536 2546l-3 1 3-1M547 2543l-3 1 3-1M557 2540l-3 1 3-1M568 2537l-4 1 4-1M579 2534l-4 1 4-1M589 2531l-4 1 4-1M600 2527l-5 2 5-2M611 2524l-5 2 0-2 5 0M621 2521l0 2-5 0 1-2 4 0M632 2518l-1 2-5 0 1-2 5 0M643 2515l-1 2-5-1 0-2 6 1M654 2511l-1 3-6-1 1-2 6 0M664 2508l-1 3-6-1 1-2 6 0M675 2505l-1 3-6-1 0-2 7 0M685 2502l-1 2-6 0 1-2 6 0M696 2499l-1 2-7 0 1-3 7 1M707 2496l-1 2-7 0 0-3 8 1M717 2492l-1 3-7 0 1-3 7 0M728 2489l-1 3-7 0 0-3 8 0M738 2486l-1 3-7 0 1-3 7 0M749 2483l-1 3-8 0 1-3 8 0M759 2480l-1 3-7-1 1-2 7 0M770 2477l-1 3-7-1 0-3 8 1M780 2474l-1 2-7 0 1-3 7 1M790 2471l-1 2-6 0 1-3 6 1M801 2468l-1 2-7 0 1-3 7 1M811 2465l-1 2-6 0 1-3 6 1M821 2461l0 3-6-1 1-2 5 0M832 2458l-1 2-6 0 1-2 6 0M842 2455l-1 2-5 0 1-2 5 0M852 2452l0 2-5 0 1-2 4 0M863 2449l-5 2 0-2 5 0M873 2446l-5 2 5-2M883 2443l-4 1 4-1M894 2440l-4 1 4-1M904 2437l-4 1 4-1M914 2434l-3 1 3-1M925 2431l-3 1 3-1M935 2428l-3 0 3 0M945 2425l-2-1M515 2545l2 1M528 2542l-3 1 3-1M539 2539l-3 1 3-1M550 2536l-4 1 4-1M560 2533l-4 1 4-1M571 2530l-4 1 4-1M582 2526l-5 2 5-2M593 2523l-6 2 1-2 5 0M603 2520l-1 2-5 0 1-2 5 0M614 2517l-1 2-5 0 0-2 6 0M625 2514l-1 2-6 0 1-3 6 1M635 2510l-1 3-6 0 1-3 6 0M646 2507l-1 3-6-1 0-2 7 0M657 2504l-1 3-7-1 1-2 7 0M668 2501l-2 3-7-1 1-3 8 1M678 2498l-1 3-7-1 0-3 8 1M689 2495l-2 3-7-1 1-3 8 1M699 2491l-1 3-8 0 1-3 8 0M710 2488l-1 3-8 0 1-3 8 0M721 2485l-2 3-8 0 1-3 9 0M731 2482l-1 3-8 0 0-4 9 1M742 2479l-2 3-8 0 1-4 9 1M752 2476l-1 3-8 0 1-4 8 1M762 2473l-1 3-8-1 1-3 8 1M773 2470l-2 3-7-1 1-3 8 1M783 2467l-1 2-8 0 1-3 8 1M793 2463l-1 3-7 0 1-3 7 0M804 2460l-1 3-7 0 1-3 7 0M814 2457l-1 3-7 0 1-3 7 0M824 2454l-1 3-6-1 1-2 6 0M835 2451l-1 2-6 0 1-2 6 0M845 2448l-1 2-5 0 0-2 6 0M855 2445l-1 2-5 0 1-2 5 0M865 2442l-5 2 1-2 4 0M876 2439l-5 1 5-1M886 2436l-4 1 4-1M896 2433l-4 1 4-1M907 2430l-4 1 4-1M917 2427l-3 1 3-1M927 2424l-3 0 3 0M937 2421l-2-1M507 2541l3 1M521 2538l-4 1 4-1M531 2535l-3 1 3-1M542 2532l-4 1 4-1M553 2529l-5 1 5-1M563 2525l-4 2 4-2M574 2522l-1 2-4 0 0-2 5 0M585 2519l-1 2-5 0 1-2 5 0M596 2516l-1 2-6 0 1-2 6 0M607 2513l-2 2-5 0 0-3 7 1M617 2509l-1 3-6 0 1-3 6 0M628 2506l-1 3-7 0 1-3 7 0M639 2503l-1 3-8 0 1-3 8 0M650 2500l-2 3-7 0 0-4 9 1M660 2497l-1 3-8-1 1-3 8 1M509 2325l-1 3 9 0 2-3 9 0 1-3 9 0-1 4 8 0 2-3 9 0 2-3 9 0-1 3 8 1 2-3 9 0 0 3 7 1 3-4 9 1 0 3 7 0 2-3-9 0 1-3 9 0-1 3 9 1 2-4 8 1-1 3-9 0 0 3 7 0 2-3 9 1 0 3 7 0 3-3 9 1-1 3 8 1 2-4 9 1-1 3 9 1 0 3 7 0 2-3 9 1-1 3 9 1 0 3 8 1 2-4 8 1-1 3-9 0 0 3 7 0 2-3 9 1-1 3-9 0 0 3 7 0 2-3 9 1-1 3 9 1-1 3 9 1-1 3 9 1-1 3 8 1 0 3 8 1-1 3 9 1-1 4-8 0-1 2 7 1 2-3 9 0-1 4-9-1 0 3 7 1 2-3 8 0-1 4-8-1-1 4 8 0-1 4 9 0-1 4-9 0-1 3 8 0-1 4 9 1-1 3-9 0-1 3 9 1-2 3-8 0-1 3 8 1-1 3-8 0-1 3 7 1 2-4 8 1-1 3-9 0-1 4 9 0-1 3-9 0 1-3-8 0-1 2 8 1-2 4-8 0-1 3 8 0-1 4-9 0-1 3 8 1-1 3-9 0-1 3-9 0-1 3 8 1-1 3-9 0-2 4-8-1-2 4 9 0-2 4-8-1 1-3-8 0-2 3 9 0-2 4-9-1 1-3-7 0-2 3 8 0-1 4-9 0-2 3-8 0-2 3-9 0-2 3-8 0-2 3-9 0-2 4-9-1-1 4-9-1 0-3-7 0-2 3 9 0-2 4-9-1 1-3-8 0-2 3 9 0-2 4-8-1 1-3-9 0-2 3-9 0-1 3-9 0 1-4-8 0-2 3-9 0-2 3-9 0 1-3-8-1-2 3-9 0 0-3-7-1-3 4-9-1 0-3-7 0-2 3 9 0-1 3-9 0 1-3-9-1-2 4-8-1 1-3 9 0 0-3-7 0-2 3-9-1 0-3-7 0-3 3-9-1 1-3-8-1-2 4-9-1 1-3-9-1 0-3-7 0-2 3-9-1 1-3-9-1 0-3-8-1-2 4-8-1 1-3 9 0 0-3-7 0-2 3-9-1 1-3 9 0 0-3-7 0-2 3-9-1 1-3-9-1 1-3-9-1 1-3-9-1 1-3-8-1 0-3-8-1 1-3-9-1 1-4 8 0 1-2-7-1-2 3-9 0 1-4 9 1 0-3-7-1-2 3-8 0 1-4 8 1 1-4-8 0 1-4-9 0 1-4 9 0 1-3-8 0 1-4-9-1 1-3 9 0 1-3-9-1 2-3 8 0 1-3-8-1 1-3 8 0 1-3-7-1-2 4-8-1 1-3 9 0 1-4-9 0 1-3 9 0-1 3 8 0 1-2-8-1 2-4 8 0 1-3-8 0 1-4 9 0 1-3-8-1 1-3 9 0 1-3 9 0 1-3-8-1 1-3 9 0 2-4 8 1 2-4-9 0 2-4 8 1-1 3 8 0 2-3-9 0 2-4 9 1-1 3 7 0 2-3-8 0 1-4 9 0 2-3 8 0 2-3 9 0 2-3 8 0 2-3 9 0 2-4 9 1 1-4 9 1 0 3 7 0 2-3-9 0 2-4 9 1-1 3 8 0 2-3-9 0 2-4 8 1M786 2459l-1 3-8 0 1-3 8 0M796 2456l-1 3-8 0 1-3 8 0M807 2453l-1 3-8 0 1-3 8 0M817 2450l-1 3-7-1 1-2 7 0M827 2447l-1 2-6 0 1-2 6 0M837 2444l-1 2-6 0 1-2 6 0M848 2441l-1 2-6 0 1-2 6 0M858 2438l-1 2-5 0 1-2 5 0M868 2435l-1 2-4-1 0-1 5 0M878 2432l-5 1 5-1M889 2429l-5 1 5-1M899 2426l-4 1 4-1M909 2423l-3 1 3-1M920 2419l-4 1 4-1M930 2417l-3-1M686 2484l-2 2 8 1 0-3-6 0M697 2481l-2 2 7 1 0-3-5 0M707 2478l-1 2 7 1 0-3-6 0M718 2475l-2 2 7 0 0-2-5 0M728 2472l-1 2 7 0 0-2-6 0M738 2468l-1 3 7 0 1-3-7 0M499 2537l3 1M513 2534l-4 1 4-1M524 2531l-4 1 4-1M534 2528l-4 1 4-1M545 2525l-5 1 5-1M556 2521l-1 2-5 0 1-2 5 0M567 2518l-1 2-5 0 0-2 6 0M578 2515l-2 2-5 0 1-2 6 0M588 2512l-1 2-6 0 1-3 6 1M599 2508l-1 3-7 0 1-3 7 0M610 2505l-1 3-8 0 1-3 8 0M621 2502l-2 3-7 0 0-3 9 0M632 2499l-2 3-8 0 1-4 9 1M799 2449l-1 3-8 0 1-4 8 1M810 2446l-2 3-8 0 1-4 9 1M820 2443l-1 3-8-1 1-3 8 1M830 2440l-1 2-7 0 1-3 7 1M840 2437l-1 2-6 0 1-3 6 1M850 2434l-1 2-5 0 1-3 5 1M861 2431l-1 2-6-1 1-2 6 1M871 2428l-1 1-5 0 1-2 5 1M881 2425l-5 1 5-1M891 2422l-4 1 4-1M902 2418l-4 2 4-2M912 2415l-4 1 4-1M922 2413l-3-1M636 2492l-2 3 8 1 0-4-6 0M647 2489l-2 3 7 0 0-2-5-1M658 2487l-1 1 5 1 0-2-4 0M669 2484l-1 1 4 0-3-1M680 2481l2 1-2-1M690 2478l2 1-2-1M701 2475l1 0-1 0M711 2471l2 1-2-1M722 2468l2 1-2-1M732 2465l2 1-2-1M742 2462l3 1 1-1-4 0M752 2458l-1 2 5 0 1-2-5 0M762 2455l-1 2 7 1 0-3-6 0M772 2452l-1 2 8 1 0-3-7 0M491 2533l3 1M505 2530l-4 1 4-1M516 2527l-4 1 4-1M527 2524l-5 1 5-1M538 2520l-1 2-5 0 1-2 5 0M548 2517l-1 2-5 0 1-2 5 0M559 2514l-1 2-6 0 1-2 6 0M570 2511l-1 2-6 0 0-3 7 1M581 2508l-1 2-7 0 1-3 7 1M592 2504l-2 3-7 0 1-3 8 0M603 2501l-2 3-8 0 1-3 9 0M812 2439l-1 3-8-1 1-3 8 1M823 2436l-2 2-7 0 1-3 8 1M833 2433l-1 2-7 0 1-3 7 1M843 2430l-1 2-7 0 1-3 7 1M853 2427l-1 2-6 0 1-3 6 1M863 2423l-1 3-5-1 1-2 5 0M873 2420l0 2-5 0 1-2 4 0M884 2417l-5 2 5-2M894 2414l-5 2 5-2M904 2411l-4 1 4-1M914 2409l-3-1M607 2494l-2 3 8 1 0-3-6-1M618 2492l-1 2 6 0 0-2-5 0M629 2489l-1 1 4 0-3-1M640 2486l2 1-2-1M652 2483l3 0M746 2455l3 0M756 2452l2 1-2-1M766 2448l3 2 0-2-3 0M776 2445l-1 2 5 0 1-2-5 0M785 2441l-1 3 8 1 1-4-8 0M483 2529l3 1M498 2526l-5 1 5-1M508 2523l-4 1 4-1M519 2519l-1 2-4 0 0-2 5 0M530 2516l-1 2-5 0 1-2 5 0M541 2513l-1 2-6 0 1-2 6 0M552 2510l-1 2-7 0 1-3 7 1M563 2507l-2 2-7 0 1-3 8 1M574 2503l-2 3-7 0 0-3 9 0M585 2500l-2 3-8 0 1-3 9 0M815 2431l-1 4-9-1 2-3 8 0M825 2428l-1 3-8 0 1-3 8 0M835 2425l-1 3-7 0 1-3 7 0M845 2422l0 3-7 0 1-3 6 0M856 2419l-1 3-6-1 1-2 6 0M866 2416l-1 2-5 0 1-2 5 0M876 2413l-1 2-4 0 0-2 5 0M886 2410l-5 2 5-2M897 2407l-5 1 5-1M906 2405l-3-1M589 2494l-2 2 7 0 0-2-5 0M600 2491l-1 1 5 1-4-2M612 2488l3 0M769 2441l3 0M779 2438l3 2 1-2-4 0M789 2434l-1 2 6 1 1-3-6 0M475 2525l4 0 0 1M490 2522l-5 1 5-1M501 2519l-1 1-5 0 1-2 5 1M512 2515l-1 2-5 0 0-2 6 0M522 2512l-1 2-5 0 1-2 5 0M533 2509l-1 2-6 0 1-2 6 0M544 2506l-1 2-7 0 1-3 7 1M555 2502l-1 3-8 0 1-3 8 0M828 2421l-1 3-8 0 1-3 8 0M838 2418l-1 3-7 0 1-3 7 0M848 2415l-1 3-6-1 1-2 6 0M858 2412l-1 2-5 0 1-2 5 0M868 2409l0 2-6 0 1-2 5 0M879 2406l-1 2-5 0 1-2 5 0M889 2403l-5 1 5-1M899 2401l-4 0 0-1M571 2493l-2 2 7 0 0-2-5 0M582 2490l3 2-3-2M782 2431l3 0-3 0M791 2427l0 2 5 1 1-3-6 0M467 2521l5 0-1 1M482 2518l-5 1 1-2 4 1M493 2514l-1 2-5 0 1-2 5 0M504 2511l-1 2-5 0 0-2 6 0M515 2508l-1 2-6 0 0-2 7 0M526 2505l-1 2-7 0 1-3 7 1M537 2501l-2 4-7-1 1-3 8 0M831 2414l-2 3-8 0 2-3 8 0M841 2411l-1 3-8-1 2-2 7 0M851 2408l-1 2-7 0 1-2 7 0M861 2405l-1 2-6 0 1-2 6 0M871 2402l-1 2-5 0 1-2 5 0M881 2399l-5 2 1-2 4 0M891 2397l-4 0 0-1M553 2492l-2 2 6 0 0-2-4 0M564 2490l2 0-2 0M785 2424l2 0-2 0M794 2420l0 2 5 0 0-2-5 0M460 2517l4 0-1 1M475 2514l-1 1-5 0 1-2 5 1M486 2510l-1 2-6 0 1-2 6 0M496 2507l-1 2-6 0 1-2 6 0M507 2504l-1 3-6-1 0-3 7 1M518 2501l-1 3-7-1 0-3 8 1M530 2497l-2 4-8-1 1-3 9 0M823 2410l-1 3-9 0 2-4 8 1M833 2407l-1 3-8 0 1-4 8 1M843 2404l-1 3-7-1 1-3 7 1M853 2401l-1 2-6 0 1-2 6 0M863 2398l0 2-6 0 1-2 5 0M874 2395l-1 2-5 0 1-2 5 0M883 2393l-4 0 1-1M534 2491l-1 2 6 0 0-2-5 0M546 2489l2 0-2 0M787 2417l3 0-3 0M797 2413l-1 2 5 0 1-2-5 0M452 2512l4 1-1 1M467 2509l-1 2-5 0 1-2 5 0M478 2506l-1 3-6-1 1-2 6 0M489 2503l-1 3-7-1 1-2 7 0M500 2500l-1 3-8-1 1-3 8 1M511 2496l-2 4-8-1 1-3 9 0M826 2403l-2 3-8 0 1-4 9 1M836 2400l-1 3-8-1 1-3 8 1M846 2397l-1 2-7 0 1-3 7 1M856 2394l-1 2-6 0 1-3 6 1M866 2391l-1 2-5 0 1-3 5 1M875 2389l-4 0 1-2M516 2490l-2 2 7 1 0-3-5 0M527 2488l3 1-3-1M790 2409l3 0-3 0M799 2406l-1 2 6 0 1-2-6 0M444 2508l4 1 0 1M459 2505l-1 3-5-1 1-2 5 0M470 2502l-1 3-6-1 1-2 6 0M481 2499l-1 3-7-1 1-3 7 1M492 2496l-1 3-8-1 1-3 8 1M828 2396l-1 3-8-1 1-3 8 1M838 2393l-1 2-7 0 1-3 7 1M848 2390l-1 2-6 0 1-3 6 1M858 2387l-1 2-5 0 1-3 5 1M868 2385l-5 0 1-2M497 2489l-2 3 8 0 0-3-6 0M509 2486l-2 2 5 0-3-2M792 2402l3 2 1-2-4 0M801 2398l0 3 6 0 2-3-8 0M436 2504l5 1-1 2M452 2501l-1 3-6-1 1-2 6 0M463 2498l-1 3-7-1 1-2 7 0M474 2495l-2 3-7-1 1-3 8 1M485 2491l-2 4-8-1 1-3 9 0M820 2392l-1 3-8-1 1-3 8 1M830 2389l-1 2-7 0 1-3 7 1M840 2386l0 2-7 0 1-3 6 1M850 2383l0 2-6 0 1-3 5 1M860 2382l-5-1 1-2M490 2485l-2 2 6 0 0-2-4 0M502 2483l3 0M785 2398l2 0-2 0M794 2395l0 1 5 1 1-3-6 1M428 2500l5 0-1 3M444 2497l-1 3-6-1 1-2 6 0M455 2494l-1 3-7-1 1-2 7 0M466 2491l-1 3-8-1 1-3 8 1M823 2384l-1 3-8 0 1-3 8 0M833 2381l-1 3-7 0 1-3 7 0M843 2378l-1 3-6 0 1-3 6 0M852 2378l-5-1 1-2M470 2484l-2 3 9 0 0-3-7 0M482 2481l-1 2 4 0-3-2M787 2391l3 1 1-1-4 0M796 2387l-1 2 7 1 2-3-8 0M420 2496l5 0-1 3M436 2493l-1 3-6-1 1-2 6 0M448 2490l-2 3-7-1 1-3 8 1M459 2486l-2 4-8-1 1-3 9 0M815 2380l-1 3-8 0 1-3 8 0M825 2377l-1 3-7 0 1-3 7 0M835 2374l-1 3-6 0 1-3 6 0M844 2374l-5-1 1-2M463 2480l-2 2 7 1 0-3-5 0M475 2478l2 1-2-1M780 2387l2 0-2 0M789 2383l-1 2 6 1 1-3-6 0M412 2492l6 0-1 3M429 2489l-1 3-7-1 1-2 7 0M440 2486l-2 3-7-1 1-3 8 1M817 2373l-1 3-7 0 1-3 7 0M827 2370l0 3-7 0 1-3 6 0M837 2370l-6-1 1-2M456 2476l-2 2 6 0 0-1-4-1M468 2474l3 0M772 2383l3 0M781 2379l0 2 4 0 1-2-5 0M404 2488l6 0-1 3M421 2485l-1 3-7-1 1-2 7 0M432 2482l-1 3-8-1 1-3 8 1M810 2369l-1 3-8 0 1-3 8 0M820 2366l-1 3-7 0 1-3 7 0M829 2366l-6-1 1-2M448 2472l-1 2 4 0-3-2M774 2376l3 1 1-2-4 1M396 2484l6 0-1 2M413 2481l-1 3-7-1 1-3 7 1M424 2477l-1 4-8-1 1-3 8 0M802 2365l-1 3-8 0 1-3 8 0M812 2362l-1 3-7 0 1-3 7 0M821 2361l-6 0 1-2M429 2471l-2 3 7 0 1-3-6 0M441 2469l2 1-2-1M766 2372l3 0-3 0M775 2368l0 2 6 1 2-3-8 0M388 2480l6 0-1 2M406 2477l-2 3-7-1 1-3 8 1M417 2473l-2 4-8-1 1-3 9 0M794 2361l-1 3-8 0 1-3 8 0M804 2358l-1 3-7 0 1-3 7 0M813 2357l-6 0 1-2M421 2467l-2 2 7 1 0-3-5 0M433 2465l2 0-2 0M759 2368l2 0-2 0M767 2364l0 2 6 0 2-2-8 0M380 2476l7 0-1 2M398 2473l-2 3-7-1 1-3 8 1M409 2469l-2 4-8-1 1-3 9 0M786 2357l-1 3-8 0 1-4 8 1M796 2354l-1 3-7-1 1-2 7 0M806 2353l-7 0 1-2M413 2463l-2 2 7 0 0-2-5 0M425 2461l2 0-2 0M751 2364l2 0-2 0M760 2360l-1 2 6 0 2-2-7 0M372 2472l7 0-1 2M390 2469l-1 2-7 0 0-3 8 1M401 2465l-1 4-9-1 1-3 9 0M779 2353l-1 3-9 0 1-4 9 1M788 2350l0 3-8-1 1-2 7 0M798 2349l-7 0 1-2M405 2459l-2 2 7 0 1-2-6 0M418 2457l1 0-1 0M743 2360l2 0-2 0M752 2356l0 2 5 0 2-2-7 0M364 2468l7 0-1 2M382 2465l-1 2-7 0 1-3 7 1M393 2461l-1 4-8-1 1-3 8 0M771 2349l-1 3-9 0 2-4 8 1M781 2346l-1 3-8-1 2-3 7 1M790 2345l-7 0 1-2M397 2455l-2 2 8 0 0-2-6 0M410 2452l1 1-1-1M735 2356l2 0-2 0M744 2351l0 3 5 0 2-2-7-1M357 2464l6 0-1 2M374 2460l-1 3-7 0 1-3 7 0M385 2457l-1 3-8 0 1-3 8 0M763 2345l-1 3-9 0 2-4 8 1M773 2342l-1 3-8-1 2-3 7 1M782 2341l-6 0 1-2M389 2450l-2 3 8 0 0-2-6-1M401 2448l3 1-3-1M727 2351l3 0-3 0M736 2347l-1 3 6 0 2-3-7 0M349 2460l6 0-1 2M366 2456l-1 3-7 0 1-3 7 0M377 2453l-1 3-8 0 1-3 8 0M755 2341l-1 3-8 0 1-4 8 1M765 2338l-1 3-7-1 1-3 7 1M774 2337l-6 0 1-2M393 2444l-1 2 4-1-3-1M719 2347l4 0-4 0M341 2455l6 1-1 2M358 2452l-1 3-7 0 1-3 7 0M369 2449l-1 3-8 0 1-3 8 0M747 2337l-1 3-8-1 1-3 8 1M757 2334l-1 2-7 0 1-3 7 1M766 2333l-6 0 1-3M385 2440l-1 2 5 0 0-2-4 0M397 2438l3 0M702 2347l3 0M710 2343l0 1 4 1 2-2-6 0M333 2451l6 1-1 2M350 2448l-1 3-6 0 0-3 7 0M361 2445l-1 3-7 0 1-3 7 0M739 2333l-1 3-8-1 2-3 7 1M749 2330l-1 2-7 0 1-3 7 1M758 2329l-6 0 1-3M376 2435l-1 3 6 0 1-2-6-1M389 2433l1 1-1-1M693 2342l2 1-2-1M702 2338l0 3 5 0 2-2-7-1M326 2447l5 1-1 2M342 2444l-1 3-6 0 1-3 6 0M353 2441l-1 3-7 0 1-3 7 0M364 2438l-1 3-8 0 1-3 8 0M721 2332l-1 3-9 0 2-4 8 1M731 2329l-1 3-8-1 2-3 7 1M741 2326l-1 2-6 0 1-3 6 1M750 2325l-5 0 1-3M368 2431l-2 3 8 0 1-2-7-1M380 2429l-1 1 4 0-3-1M685 2338l4 0-4 0M693 2334l0 3 7 0 2-3-9 0M318 2443l5 1-1 2M334 2440l-1 3-6 0 1-3 6 0M345 2437l-1 3-7 0 1-3 7 0M356 2434l-1 3-8 0 1-3 8 0M713 2328l-1 3-8-1 1-3 8 1M723 2325l-1 2-7 0 1-3 7 1M733 2322l-1 2-6 0 1-3 6 1M742 2321l-5 0 1-3M371 2424l-1 3 6-1 0-1-5-1M384 2422l3 0M667 2338l2 0-2 0M676 2334l0 2 4 0 2-2-6 0M310 2439l5 1-1 2M326 2436l-1 3-5-1 0-2 6 0M337 2433l-1 3-6-1 0-2 7 0M348 2430l-1 3-7-1 1-2 7 0M359 2427l-1 3-8-1 1-3 8 1M695 2327l-1 3-9 0 2-4 8 1M705 2324l-1 3-8-1 2-3 7 1M715 2321l-1 2-7 0 1-3 7 1M725 2318l-1 2-6 0 1-3 6 1M734 2317l-5-1 1-2M363 2420l-2 3 8 0 0-3-6 0M375 2417l-1 2 4 0-3-2M658 2333l3 2 2-2-5 0M667 2329l0 3 6 0 2-3-8 0M302 2436l5 0-1 2M318 2432l-1 3-5-1 1-2 5 0M329 2429l-1 3-6-1 1-2 6 0M340 2426l-1 3-7-1 1-2 7 0M351 2423l-1 3-8-1 1-3 8 1M687 2323l-1 3-8-1 1-3 8 1M697 2320l-1 3-7-1 1-3 7 1M707 2317l-1 2-6 0 1-3 6 1M717 2314l-1 2-5 0 1-3 5 1M726 2313l-4-1 0-1M366 2413l-1 2 6 0 1-2-6 0M378 2410l2 1-2-1M640 2332l4 0-4 0M649 2328l0 3 5 0 2-2-7-1M295 2432l4 0-1 2M310 2428l-1 3-5-1 1-2 5 0M321 2425l-1 3-6-1 1-2 6 0M332 2422l-1 3-7-1 1-2 7 0M343 2419l-1 3-8-1 1-3 8 1M354 2415l-1 4-9-1 2-3 8 0M669 2322l-1 3-9 0 2-4 8 1M679 2319l-1 3-8-1 1-3 8 1M689 2316l-1 2-7 0 1-3 7 1M699 2313l-1 2-6 0 1-3 6 1M709 2310l-1 2-5 0 1-2 5 0M718 2309l-4-1 1-1M369 2406l-1 2 5 0 1-2-5 0M381 2403l2 1-2-1M622 2332l3 0-3 0M631 2328l0 2 5 0 1-2-6 0M287 2428l4 0-1 1M302 2424l-1 2-5 0 1-2 5 0M313 2421l-1 2-5 0 0-2 6 0M324 2418l-1 2-6 0 1-2 6 0M335 2415l-1 3-7-1 1-3 7 1M346 2411l-1 4-8-1 1-3 8 0M357 2408l-2 4-8-1 1-3 9 0M650 2321l-1 3-9 0 2-4 8 1M660 2318l0 3-8-1 1-3 7 1M670 2315l0 3-7-1 1-3 6 1M681 2312l-1 2-6 0 1-2 6 0M691 2309l-1 2-6 0 1-2 6 0M701 2306l-1 2-5-1 1-1 5 0M710 2304l-4 0 1-1M371 2399l0 2 5-2-5 0M383 2396l2 0-2 0M604 2331l2 0-2 0M613 2327l0 2 6-2-6 0M279 2424l4 0 0 1M294 2420l-1 2-4 0 5-2M305 2417l-1 2-5 0 1-2 5 0M316 2414l-1 2-6 0 1-2 6 0M327 2411l-1 2-7 0 1-2 7 0M338 2408l-2 2-7 0 1-3 8 1M349 2404l-2 3-8 0 2-3 8 0M642 2317l-1 3-8 0 2-4 7 1M652 2314l-1 3-7-1 1-2 7 0M662 2311l0 2-7 0 1-2 6 0M672 2308l0 2-6 0 1-2 5 0M683 2305l-1 2-5 0 1-2 5 0M693 2302l-1 2-4-1 5-1M703 2300l-5 0 1-1M374 2391l-1 3 6-2-5-1M386 2389l2 0-2 0M585 2329l3 1-3-1M594 2326l0 2 7-2-7 0M271 2420l4 0 0 1M286 2417l-5 1 5-1M297 2413l-1 2-5 0 1-2 5 0M308 2410l-1 2-5 0 0-2 6 0M318 2407l-1 2-5 0 1-2 5 0M329 2404l-1 2-6 0 1-3 6 1M340 2400l-1 3-7 0 1-3 7 0M351 2397l-1 3-8 0 1-3 8 0M624 2316l-1 3-8 0 1-3 8 0M634 2313l-1 3-7-1 1-2 7 0M644 2310l-1 2-6 0 1-2 6 0M654 2307l-1 2-5 0 1-2 5 0M664 2304l0 2-6 0 1-2 5 0M675 2301l-1 2-5-1 1-1 5 0M685 2298l-5 1 5-1M695 2296l-4 0 0-1M376 2384l-1 3 6 0 1-2-6-1M388 2381l-1 2 5-1-4-1M399 2379l2 0-2 0M557 2332l2 0-2 0M566 2328l0 2 5-1-5-1M576 2325l0 2 5 0 2-2-7 0M264 2416l3 1M278 2413l-5 1 5-1M289 2409l-5 2 5-2M299 2406l0 2-5 0 1-2 4 0M310 2403l-1 2-5 0 1-2 5 0M321 2400l-1 2-6 0 1-3 6 1M332 2396l-1 3-6 0 0-3 7 0M343 2393l-1 3-7 0 1-3 7 0M354 2390l-1 3-8 0 1-3 8 0M365 2387l-2 3-8 0 1-4 9 1M595 2318l-1 3-9 0 2-3 8 0M605 2315l0 3-9 0 2-3 7 0M616 2312l-1 3-8-1 2-2 7 0M626 2309l-1 3-7-1 1-2 7 0M636 2306l-1 2-6 0 1-2 6 0M646 2303l-1 2-5 0 1-2 5 0M656 2300l0 2-5 0 1-2 4 0M666 2297l-4 1 4-1M677 2294l-5 1 5-1M687 2292l-3-1M378 2376l-1 4 8 0 1-3-8-1M390 2374l-1 2 6-2-5 0M401 2371l0 2 4-1-4-1M412 2368l2 1-2-1M424 2366l3 0M518 2338l3 0M528 2334l2 0-2 0M538 2331l4 0-4 0M547 2327l0 2 6-2-6 0M557 2323l0 3 6 1 2-3-8-1M256 2412l3 1M270 2409l-4 1 4-1M281 2405l-5 2 5-2M291 2402l-5 2 5-2M302 2399l-1 2-4 0 0-2 5 0M313 2396l-1 2-5 0 1-3 5 1M324 2392l-1 3-6-1 1-2 6 0M335 2389l-1 3-7-1 1-2 7 0M345 2386l-1 3-7-1 1-2 7 0M356 2383l-1 3-8-1 2-2 7 0M367 2380l-1 3-8-1 1-3 8 1M577 2317l-1 3-9 0 2-3 8 0M587 2314l-1 3-8 0 2-3 7 0M597 2311l-1 3-7-1 1-2 7 0M607 2308l0 3-7-1 1-2 6 0M618 2305l-1 2-6 0 1-2 6 0M628 2302l-1 2-5 0 1-2 5 0M638 2299l-1 2-5 0 1-2 5 0M648 2296l-5 1 5-1M658 2293l-4 1 4-1M669 2290l-4 1 4-1M679 2288l-3-1M391 2366l0 3 7 0 1-2-8-1M402 2363l0 3 6 0 1-2-7-1M414 2361l-1 2 6-2-5 0M425 2358l-1 1 4-1-3 0M436 2355l3 0-3 0M446 2352l3 0-3 0M457 2349l2 0-2 0M468 2346l2 0-2 0M478 2342l2 1-2-1M488 2339l3 0-3 0M498 2336l0 1 4-1-4 0M508 2332l0 2 5-1-5-1M518 2329l0 2 5 1 2-3-7 0M528 2325l0 4 6 0 2-3-8-1M248 2408l3 1M262 2405l-4 1 4-1M272 2401l-4 2 4-2M283 2398l-4 1 4-1M294 2395l-5 1 5-1M305 2392l-1 2-5-1 1-1 5 0M316 2389l-1 2-6-1 1-2 6 1M326 2385l-1 3-5-1 1-2 5 0M337 2382l-1 3-6-1 1-2 6 0M348 2379l-1 3-7-1 1-2 7 0M359 2376l-1 3-8-1 1-3 8 1M370 2372l-1 4-9-1 2-3 8 0M380 2369l-1 4-8-1 1-3 8 0M548 2319l-1 4-9-1 2-3 8 0M558 2316l0 3-9 0 2-3 7 0M569 2313l-1 3-8 0 1-3 8 0M579 2310l-1 3-7 0 1-3 7 0M589 2307l-1 3-6-1 1-2 6 0M599 2304l-1 2-6 0 2-2 5 0M609 2301l0 2-6 0 1-2 5 0M620 2298l-1 2-5 0 1-2 5 0M630 2295l-5 1 5-1M640 2292l-4 1 4-1M650 2289l-4 1 4-1M661 2286l-4 1 4-1M671 2284l-3-1M426 2350l-1 3 7 0 1-3-7 0M436 2347l0 2 6 0 1-2-7 0M447 2344l0 2 5 0 2-2-7 0M457 2340l0 3 6 0 1-2-7-1M468 2337l0 3 5 0 2-2-7-1M478 2334l0 3 6 0 2-2-8-1M240 2404l3 1M254 2401l-4 1 4-1M264 2397l-3 1 3-1M275 2394l-4 1 4-1M286 2391l-5 1 5-1M297 2388l-5 1 5-1M307 2385l0 1-5 0 1-2 4 1M318 2381l-1 2-5 0 1-2 5 0M329 2378l-1 2-6 0 1-2 6 0M340 2375l-1 2-6 0 1-2 6 0M350 2372l-1 2-6 0 1-2 6 0M361 2369l-1 2-7 0 1-3 7 1M372 2365l-1 3-8 0 1-3 8 0M383 2362l-1 3-8 0 1-3 8 0M393 2359l-1 3-8 0 1-3 8 0M519 2322l-1 3-8-1 1-3 8 1M529 2318l0 4-9-1 2-3 7 0M540 2315l-1 3-8 0 1-3 8 0M550 2312l-1 3-7 0 1-3 7 0M560 2309l-1 3-6 0 1-3 6 0M570 2306l0 3-7-1 2-2 5 0M581 2303l-1 2-6 0 1-2 6 0M591 2300l-1 2-5 0 1-2 5 0M601 2297l0 2-5 0 1-2 4 0M611 2294l-4 2 4-2M622 2291l-5 1 5-1M632 2288l-4 1 4-1M642 2285l-3 1 3-1M653 2282l-4 1 4-1M663 2280l-3-1M233 2400l2 1M246 2397l-3 0 3 0M256 2393l-3 1 3-1M267 2390l-4 1 4-1M278 2387l-4 1 4-1M288 2384l-4 1 4-1M299 2381l-5 1 5-1M310 2377l-1 2-4 0 5-2M321 2374l-1 2-5 0 1-2 5 0M331 2371l0 2-6 0 1-2 5 0M342 2368l-1 2-6 0 1-2 6 0M353 2365l-1 2-6 0 1-3 6 1M364 2361l-1 3-7 0 1-3 7 0M374 2358l-1 3-7 0 1-3 7 0M385 2355l-1 3-7 0 1-3 7 0M396 2352l-1 3-8-1 1-2 8 0M406 2349l-1 3-8-1 2-3 7 1M417 2346l-1 3-8-1 1-3 8 1M427 2342l-1 4-8-1 1-3 8 0M438 2339l-1 4-9-1 2-3 8 0M448 2336l0 4-9-1 1-3 8 0M459 2333l-1 3-9 0 2-3 8 0M469 2330l-1 3-8 0 1-3 8 0M480 2327l-1 3-8 0 1-3 8 0M490 2324l-1 3-8-1 2-3 7 1M500 2321l0 3-8-1 1-3 7 1M511 2318l-1 3-8-1 2-3 7 1M521 2315l-1 2-7 0 1-3 7 1M531 2312l0 2-7 0 1-3 6 1M542 2308l-1 3-6 0 1-3 6 0M552 2305l-1 3-6-1 1-2 6 0M562 2302l0 2-6 0 1-2 5 0M573 2299l-1 2-5 0 1-2 5 0M583 2296l-1 2-5 0 6-2M593 2293l-5 2 5-2M603 2290l-4 1 4-1M614 2287l-4 1 4-1M624 2284l-4 1 4-1M634 2281l-3 1 3-1M645 2278l-3 1 3-1M655 2276l-2-1M225 2396l2 1M238 2393l-3 0 3 0M248 2389l-3 1 3-1M259 2386l-3 1 3-1M270 2383l-4 1 4-1M280 2380l-4 1 4-1M291 2377l-4 1 4-1M302 2373l-5 2 5-2M312 2370l0 2-5 0 5-2M323 2367l-1 2-4 0 0-2 5 0M334 2364l-1 2-5 0 1-2 5 0M345 2361l-1 2-6 0 1-2 6 0M355 2358l-1 2-5 0 0-3 6 1M366 2354l-1 3-6-1 1-2 6 0M377 2351l-1 3-7-1 1-2 7 0M387 2348l-1 3-6-1 1-2 6 0M398 2345l-1 3-7-1 1-2 7 0M408 2342l0 3-8-1 1-3 7 1M419 2339l-1 2-7 0 1-3 7 1M430 2335l-1 3-8 0 1-3 8 0M440 2332l-1 3-7 0 1-3 7 0M450 2329l0 3-8 0 1-3 7 0M461 2326l-1 3-7 0 1-3 7 0M471 2323l0 3-8-1 1-2 7 0M482 2320l-1 3-7-1 1-2 7 0M492 2317l-1 2-6 0 1-2 6 0M502 2314l0 2-7 0 1-3 6 1M513 2311l-1 2-6 0 1-3 6 1M523 2308l-1 2-6 0 1-3 6 1M533 2305l0 2-6-1 1-2 5 1M544 2301l-1 2-5 0 1-2 5 0M554 2298l-1 2-4 0 0-2 5 0M564 2295l0 2-5 0 5-2M575 2292l-5 2 5-2M585 2289l-4 1 4-1M595 2286l-4 1 4-1M606 2283l-4 1 4-1M616 2280l-3 1 3-1M626 2277l-3 1 3-1M637 2274l-3 1 3-1M647 2272l-2-1M219 2392l3 0M230 2389l-3 0M240 2385l-2 1M251 2382l-3 1M262 2379l-4 1M272 2376l-3 1M283 2373l-4 1M294 2369l-5 2M304 2366l-4 2M315 2363l-5 2M326 2360l-1 2-5 0M336 2357l0 2-5-1M347 2354l-1 2-5-1M358 2350l-1 3-6-1M368 2347l-1 3-5-1M379 2344l-1 2-6 0M389 2341l0 2-6 0M400 2338l-1 2-6 0M411 2335l-1 2-7 0M421 2332l-1 2-6 0M432 2328l-1 3-7 0M442 2325l-1 3-6-1M453 2322l-1 3-7-1M463 2319l-1 3-6-1M473 2316l0 2-6 0M484 2313l-1 2-6 0M494 2310l-1 2-5 0M505 2307l-1 2-6 0M515 2304l-1 2-5-1M525 2301l0 1-5 0M536 2297l-1 2-5 0M546 2294l-5 2M556 2291l-4 2M567 2288l-5 2M577 2285l-4 1M587 2282l-3 1M598 2279l-4 1M608 2276l-3 1M618 2273l-2 1M629 2270l-3 0M639 2267l-2 0"/></g>
<g transform="scale(0.1)" stroke-width="3.5" stroke-linejoin="round"><path class=qaa d="M635 1961l11-3-8-5-10 4z"/><path class=qab d="M572 1985l11-4 10-4 11-4 10-4 11-4 10-4-7-4-11 3-11 4-10 4-10 4-11 4-11 4z"/><path class=qad d="M562 1989l10-4-8-5-10 4z"/><path class=qae d="M520 2006l10-4 11-4 10-4 11-5-8-5-10 4-11 4-11 4-10 4z"/><path class=qaf d="M509 2010l11-4-8-6-10 4z"/><path class=qah d="M499 2014l10-4-7-6-11 4z"/><path class=qai d="M383 2049l11-2 10-3 11-3 10-3 11-3 10-3 11-3 10-4 11-3 10-4 11-4-8-6-11 3-10 4-11 4-10 3-11 3-10 4-10 3-11 3-11 2-10 3-10 3z"/><path class=qah d="M362 2054l11-2 10-3-7-6-11 2-11 2z"/><path class=qae d="M320 2062l11-2 10-2 11-2 10-2-8-7-10 3-11 2-10 2-10 3z"/><path class=qad d="M310 2064l10-2-7-5-11 2z"/><path class=qac d="M299 2067l11-3-8-5-10 2z"/><path class=qab d="M247 2078l10-3 11-2 10-2 11-2 10-2-7-6-11 2-11 3-10 2-10 3-11 2z"/><path class=qaa d="M226 2083l10-3 11-2-8-5-11 2-10 3z"/><path class=qab d="M591 1987l10-5 11-4 10-4 11-4 10-4 11-4-8-4-11 3-10 4-11 4-10 4-11 4-10 4z"/><path class=qae d="M549 2004l10-4 11-5 10-4 11-4-8-6-11 4-10 4-11 5-10 4z"/><path class=qaf d="M538 2008l11-4-8-6-11 4z"/><path class=qai d="M486 2029l10-4 11-4 10-4 11-5 10-4-8-6-10 4-11 4-10 4-11 4-10 4z"/><path class=qak d="M465 2036l10-3 11-4-8-7-11 3-10 4z"/><path class=qal d="M423 2049l10-3 11-3 10-3 11-4-8-7-11 3-10 3-11 3-10 3z"/><path class=qak d="M412 2051l11-2-8-8-11 3z"/><path class=qaj d="M402 2054l10-3-8-7-10 3z"/><path class=qai d="M360 2062l10-2 11-2 10-2 11-2-8-7-11 2-10 3-11 2-10 2z"/><path class=qah d="M349 2064l11-2-8-6-11 2z"/><path class=qae d="M307 2072l11-2 10-2 11-2 10-2-8-6-10 2-11 2-10 2-11 3z"/><path class=qac d="M297 2074l10-2-8-5-10 2z"/><path class=qab d="M244 2085l11-2 10-3 11-2 10-2 11-2-8-5-11 2-10 2-11 2-10 3-11 2z"/><path class=qaa d="M234 2087l10-2-8-5-10 3z"/><path class=qab d="M620 1984l10-5 11-4 10-4 11-4-8-5-11 4-10 4-11 4-10 4z"/><path class=qac d="M609 1988l11-4-8-6-11 4z"/><path class=qae d="M578 2001l10-4 11-5 10-4-8-6-10 5-11 4-10 4z"/><path class=qaf d="M567 2006l11-5-8-6-11 5z"/><path class=qai d="M536 2019l10-4 11-5 10-4-8-6-10 4-11 4-10 4z"/><path class=qaj d="M525 2024l11-5-8-7-11 5z"/><path class=qak d="M515 2028l10-4-8-7-10 4z"/><path class=qan d="M399 2063l11-2 10-2 11-3 10-2 11-3 10-4 11-3 10-4 11-4 10-4 11-4-8-7-11 4-10 4-11 4-10 3-11 4-10 3-11 3-10 3-11 2-10 3-11 2z"/><path class=qal d="M389 2066l10-3-8-7-10 2z"/><path class=qak d="M378 2067l11-1-8-8-11 2z"/><path class=qai d="M347 2073l10-2 11-2 10-2-8-7-10 2-11 2-10 2z"/><path class=qah d="M336 2074l11-1-8-7-11 2z"/><path class=qae d="M305 2080l10-2 11-2 10-2-8-6-10 2-11 2-10 2z"/><path class=qad d="M294 2082l11-2-8-6-11 2z"/><path class=qab d="M242 2092l10-2 11-2 10-2 11-2 10-2-8-6-10 2-11 2-10 3-11 2-10 2zM638 1984l10-4 11-4 10-4-7-5-11 4-10 4-11 4z"/><path class=qac d="M627 1989l11-5-8-5-10 5z"/><path class=qae d="M596 2003l10-5 11-5 10-4-7-5-11 4-10 4-11 5z"/><path class=qaf d="M585 2007l11-4-8-6-10 4z"/><path class=qai d="M564 2017l11-5 10-5-7-6-11 5-10 4z"/><path class=qaj d="M554 2022l10-5-7-7-11 5z"/><path class=qan d="M522 2036l11-5 10-5 11-4-8-7-10 4-11 5-10 4z"/><path class=qao d="M512 2040l10-4-7-8-11 4z"/><path class=qaq d="M501 2044l11-4-8-8-10 4z"/><path class=qas d="M428 2067l10-2 11-3 10-3 11-3 10-4 11-4 10-4-7-8-11 4-10 4-11 3-10 4-11 3-10 2-11 3z"/><path class=qaq d="M407 2071l10-2 11-2-8-8-10 2-11 2z"/><path class=qan d="M375 2076l11-1 10-2 11-2-8-8-10 3-11 1-10 2z"/><path class=qal d="M365 2078l10-2-7-7-11 2z"/><path class=qai d="M344 2081l10-2 11-1-8-7-10 2-11 1z"/><path class=qah d="M333 2082l11-1-8-7-10 2z"/><path class=qae d="M302 2087l10-2 11-1 10-2-7-6-11 2-10 2-11 2z"/><path class=qad d="M291 2089l11-2-8-5-10 2z"/><path class=qab d="M249 2097l11-2 10-2 11-2 10-2-7-5-11 2-10 2-11 2-10 2zM656 1985l11-4 10-4-8-5-10 4-11 4z"/><path class=qac d="M646 1990l10-5-8-5-10 4z"/><path class=qae d="M614 2004l11-5 10-5 11-4-8-6-11 5-10 4-11 5z"/><path class=qah d="M604 2009l10-5-8-6-10 5z"/><path class=qai d="M583 2019l10-5 11-5-8-6-11 4-10 5z"/><path class=qak d="M572 2024l11-5-8-7-11 5z"/><path class=qan d="M551 2034l11-5 10-5-8-7-10 5-11 4z"/><path class=qaq d="M541 2039l10-5-8-8-10 5z"/><path class=qas d="M520 2048l10-4 11-5-8-8-11 5-10 4z"/><path class=qau d="M499 2057l10-4 11-5-8-8-11 4-10 4z"/><path class=qaw d="M446 2074l11-3 10-3 11-3 10-4 11-4-8-9-11 4-10 4-11 3-10 3-11 3z"/><path class=qau d="M425 2078l11-2 10-2-8-9-10 2-11 2z"/><path class=qat d="M415 2080l10-2-8-9-10 2z"/><path class=qas d="M404 2081l11-1-8-9-11 2z"/><path class=qaq d="M394 2083l10-2-8-8-10 2z"/><path class=qao d="M383 2084l11-1-8-8-11 1z"/><path class=qan d="M373 2085l10-1-8-8-10 2z"/><path class=qal d="M362 2086l11-1-8-7-11 1z"/><path class=qaj d="M352 2087l10-1-8-7-10 2z"/><path class=qai d="M341 2089l11-2-8-6-11 1z"/><path class=qah d="M331 2090l10-1-8-7-10 2z"/><path class=qag d="M320 2091l11-1-8-6-11 1z"/><path class=qae d="M299 2094l11-1 10-2-8-6-10 2-11 2z"/><path class=qad d="M289 2096l10-2-8-5-10 2z"/><path class=qab d="M257 2102l11-2 10-2 11-2-8-5-11 2-10 2-11 2zM664 1990l11-4 10-4-8-5-10 4-11 4z"/><path class=qae d="M633 2005l10-5 11-5 10-5-8-5-10 5-11 4-10 5z"/><path class=qai d="M601 2020l11-5 10-5 11-5-8-6-11 5-10 5-11 5z"/><path class=qan d="M580 2031l11-6 10-5-8-6-10 5-11 5z"/><path class=qao d="M570 2036l10-5-8-7-10 5z"/><path class=qas d="M559 2042l11-6-8-7-11 5z"/><path class=qau d="M538 2052l11-5 10-5-8-8-10 5-11 5z"/><path class=qaw d="M528 2057l10-5-8-8-10 4z"/><path class=qay d="M507 2067l10-5 11-5-8-9-11 5-10 4z"/><path class=qaz d="M454 2083l11-2 10-3 11-3 10-4 11-4-8-10-11 4-10 4-11 3-10 3-11 3z"/><path class=qay d="M433 2087l11-1 10-3-8-9-10 2-11 2z"/><path class=qaw d="M412 2090l11-1 10-2-8-9-10 2-11 1z"/><path class=qau d="M402 2091l10-1-8-9-10 2z"/><path class=qas d="M391 2092l11-1-8-8-11 1z"/><path class=qaq d="M381 2092l10 0-8-8-10 1z"/><path class=qan d="M360 2094l10-1 11-1-8-7-11 1-10 1z"/><path class=qak d="M349 2095l11-1-8-7-11 2z"/><path class=qai d="M328 2097l11-1 10-1-8-6-10 1-11 1z"/><path class=qag d="M318 2098l10-1-8-6-10 2z"/><path class=qae d="M297 2101l10-1 11-2-8-5-11 1-10 2z"/><path class=qac d="M286 2103l11-2-8-5-11 2z"/><path class=qab d="M265 2107l11-2 10-2-8-5-10 2-11 2zM682 1991l11-5-8-4-10 4z"/><path class=qae d="M651 2005l10-5 11-4 10-5-7-5-11 4-10 5-11 5z"/><path class=qah d="M640 2010l11-5-8-5-10 5z"/><path class=qai d="M630 2016l10-6-7-5-11 5z"/><path class=qaj d="M619 2021l11-5-8-6-10 5z"/><path class=qan d="M598 2032l11-5 10-6-7-6-11 5-10 5z"/><path class=qas d="M577 2044l11-6 10-6-7-7-11 6-10 5z"/><path class=qau d="M567 2050l10-6-7-8-11 6z"/><path class=qaw d="M556 2056l11-6-8-8-10 5z"/><path class=qay d="M546 2061l10-5-7-9-11 5z"/><path class=qaz d="M535 2067l11-6-8-9-10 5z"/><path class=qaA d="M514 2077l11-5 10-5-7-10-11 5-10 5z"/><path class=qaD d="M462 2094l10-2 11-3 10-4 11-3 10-5-7-10-11 4-10 4-11 3-10 3-11 2z"/><path class=qaB d="M451 2096l11-2-8-11-10 3z"/><path class=qaA d="M441 2097l10-1-7-10-11 1z"/><path class=qaz d="M430 2098l11-1-8-10-10 2z"/><path class=qay d="M420 2099l10-1-7-9-11 1z"/><path class=qax d="M409 2099l11 0-8-9-10 1z"/><path class=qaw d="M399 2100l10-1-7-8-11 1z"/><path class=qat d="M388 2100l11 0-8-8-10 0z"/><path class=qas d="M378 2101l10-1-7-8-11 1z"/><path class=qap d="M367 2101l11 0-8-8-10 1z"/><path class=qan d="M357 2102l10-1-7-7-11 1z"/><path class=qal d="M346 2102l11 0-8-7-10 1z"/><path class=qai d="M325 2104l11-1 10-1-7-6-11 1-10 1z"/><path class=qaf d="M315 2105l10-1-7-6-11 2z"/><path class=qae d="M294 2108l10-1 11-2-8-5-10 1-11 2z"/><path class=qac d="M283 2110l11-2-8-5-10 2z"/><path class=qab d="M273 2111l10-1-7-5-11 2z"/><path class=qad d="M690 1996l11-5-8-5-11 5z"/><path class=qae d="M669 2006l11-5 10-5-8-5-10 5-11 4z"/><path class=qaf d="M659 2011l10-5-8-6-10 5z"/><path class=qai d="M638 2022l10-6 11-5-8-6-11 5-10 6z"/><path class=qan d="M617 2034l10-6 11-6-8-6-11 5-10 6z"/><path class=qas d="M606 2040l11-6-8-7-11 5z"/><path class=qau d="M596 2046l10-6-8-8-10 6z"/><path class=qaw d="M585 2052l11-6-8-8-11 6z"/><path class=qay d="M575 2059l10-7-8-8-10 6z"/><path class=qaz d="M564 2065l11-6-8-9-11 6z"/><path class=qaA d="M554 2071l10-6-8-9-10 5z"/><path class=qaD d="M543 2077l11-6-8-10-11 6z"/><path class=qaE d="M533 2083l10-6-8-10-10 5z"/><path class=qaF d="M522 2088l11-5-8-11-11 5z"/><path class=qaG d="M470 2106l10-3 11-2 10-4 11-4 10-5-8-11-10 5-11 3-10 4-11 3-10 2z"/><path class=qaF d="M459 2107l11-1-8-12-11 2z"/><path class=qaE d="M449 2108l10-1-8-11-10 1z"/><path class=qaD d="M438 2109l11-1-8-11-11 1z"/><path class=qaB d="M428 2109l10 0-8-11-10 1z"/><path class=qaz d="M417 2109l11 0-8-10-11 0z"/><path class=qay d="M407 2109l10 0-8-10-10 1z"/><path class=qaw d="M396 2108l11 1-8-9-11 0z"/><path class=qau d="M386 2108l10 0-8-8-10 1z"/><path class=qas d="M375 2108l11 0-8-7-11 0z"/><path class=qap d="M365 2109l10-1-8-7-10 1z"/><path class=qan d="M354 2109l11 0-8-7-11 0z"/><path class=qak d="M344 2109l10 0-8-7-10 1z"/><path class=qai d="M333 2110l11-1-8-6-11 1z"/><path class=qah d="M323 2111l10-1-8-6-10 1z"/><path class=qae d="M291 2115l11-2 10-1 11-1-8-6-11 2-10 1-11 2z"/><path class=qac d="M281 2116l10-1-8-5-10 1z"/><path class=qae d="M688 2006l10-5 11-5-8-5-11 5-10 5z"/><path class=qaf d="M677 2011l11-5-8-5-11 5z"/><path class=qai d="M656 2022l11-5 10-6-8-5-10 5-11 5z"/><path class=qan d="M635 2034l11-6 10-6-8-6-10 6-11 6z"/><path class=qas d="M625 2041l10-7-8-6-10 6z"/><path class=qau d="M614 2047l11-6-8-7-11 6z"/><path class=qaw d="M604 2054l10-7-8-7-10 6z"/><path class=qay d="M593 2061l11-7-8-8-11 6z"/><path class=qaA d="M583 2068l10-7-8-9-10 7z"/><path class=qaD d="M572 2075l11-7-8-9-11 6z"/><path class=qaE d="M562 2082l10-7-8-10-10 6z"/><path class=qaG d="M541 2095l10-7 11-6-8-11-11 6-10 6z"/><path class=qaJ d="M520 2106l10-6 11-5-8-12-11 5-10 5z"/><path class=qaK d="M478 2118l10-2 11-2 10-4 11-4-8-13-11 4-10 4-11 2-10 3z"/><path class=qaJ d="M467 2119l11-1-8-12-11 1z"/><path class=qaI d="M457 2120l10-1-8-12-10 1z"/><path class=qaG d="M446 2120l11 0-8-12-11 1z"/><path class=qaE d="M436 2119l10 1-8-11-10 0z"/><path class=qaD d="M425 2119l11 0-8-10-11 0z"/><path class=qaB d="M415 2118l10 1-8-10-10 0z"/><path class=qaz d="M404 2117l11 1-8-9-11-1z"/><path class=qax d="M394 2116l10 1-8-9-10 0z"/><path class=qau d="M383 2116l11 0-8-8-11 0z"/><path class=qas d="M373 2116l10 0-8-8-10 1z"/><path class=qap d="M362 2115l11 1-8-7-11 0z"/><path class=qan d="M352 2116l10-1-8-6-10 0z"/><path class=qak d="M341 2116l11 0-8-7-11 1z"/><path class=qai d="M331 2117l10-1-8-6-10 1z"/><path class=qah d="M320 2117l11 0-8-6-11 1z"/><path class=qae d="M299 2120l11-1 10-2-8-5-10 1-11 2z"/><path class=qac d="M289 2121l10-1-8-5-10 1z"/><path class=qae d="M696 2011l10-5 10-5-7-5-11 5-10 5z"/><path class=qai d="M674 2022l11-5 11-6-8-5-11 5-10 6z"/><path class=qak d="M664 2028l10-6-7-5-11 5z"/><path class=qan d="M654 2034l10-6-8-6-10 6z"/><path class=qas d="M643 2041l11-7-8-6-11 6z"/><path class=qau d="M633 2048l10-7-8-7-10 7z"/><path class=qaw d="M622 2055l11-7-8-7-11 6z"/><path class=qay d="M612 2062l10-7-8-8-10 7z"/><path class=qaA d="M601 2070l11-8-8-8-11 7z"/><path class=qaD d="M590 2077l11-7-8-9-10 7z"/><path class=qaG d="M570 2093l10-8 10-8-7-9-11 7-10 7z"/><path class=qaJ d="M559 2100l11-7-8-11-11 6z"/><path class=qaL d="M538 2114l11-7 10-7-8-12-10 7-11 5z"/><path class=qaM d="M486 2132l10-2 11-2 10-4 11-5 10-5-8-14-10 6-11 4-10 4-11 2-10 2z"/><path class=qaN d="M475 2133l11-1-8-14-11 1z"/><path class=qaL d="M464 2132l11 1-8-14-10 1z"/><path class=qaK d="M454 2132l10 0-7-12-11 0z"/><path class=qaI d="M444 2130l10 2-8-12-10-1z"/><path class=qaG d="M433 2129l11 1-8-11-11 0z"/><path class=qaE d="M422 2127l11 2-8-10-10-1z"/><path class=qaB d="M412 2126l10 1-7-9-11-1z"/><path class=qaz d="M402 2125l10 1-8-9-10-1z"/><path class=qax d="M391 2124l11 1-8-9-11 0z"/><path class=qau d="M380 2123l11 1-8-8-10 0z"/><path class=qas d="M370 2122l10 1-7-7-11-1z"/><path class=qap d="M360 2122l10 0-8-7-10 1z"/><path class=qan d="M349 2122l11 0-8-6-11 0z"/><path class=qai d="M328 2123l11-1 10 0-8-6-10 1-11 0z"/><path class=qag d="M318 2124l10-1-8-6-10 2z"/><path class=qae d="M296 2126l11-1 11-1-8-5-11 1-10 1zM714 2011l10-5-8-5-10 5z"/><path class=qaf d="M703 2016l11-5-8-5-10 5z"/><path class=qai d="M693 2022l10-6-7-5-11 6z"/><path class=qaj d="M682 2028l11-6-8-5-11 5z"/><path class=qan d="M672 2034l10-6-8-6-10 6z"/><path class=qao d="M661 2041l11-7-8-6-10 6z"/><path class=qas d="M651 2048l10-7-7-7-11 7z"/><path class=qaw d="M640 2055l11-7-8-7-10 7z"/><path class=qay d="M630 2063l10-8-7-7-11 7z"/><path class=qaA d="M619 2071l11-8-8-8-10 7z"/><path class=qaD d="M609 2079l10-8-7-9-11 8z"/><path class=qaG d="M598 2087l11-8-8-9-11 7z"/><path class=qaI d="M588 2096l10-9-8-10-10 8z"/><path class=qaK d="M577 2105l11-9-8-11-10 8z"/><path class=qaN d="M567 2113l10-8-7-12-11 7z"/><path class=qaX d="M546 2128l10-7 11-8-8-13-10 7-11 7z"/><path class=qaV d="M525 2140l10-5 11-7-8-14-10 5-11 5z"/><path class=qaW d="M514 2144l11-4-8-16-10 4z"/><path class=qaV d="M493 2147l11-1 10-2-7-16-11 2-10 2z"/><path class=qaT d="M483 2147l10 0-7-15-11 1z"/><path class=qaX d="M472 2146l11 1-8-14-11-1z"/><path class=qaM d="M462 2144l10 2-8-14-10 0z"/><path class=qaL d="M451 2142l11 2-8-12-10-2z"/><path class=qaK d="M441 2140l10 2-7-12-11-1z"/><path class=qaG d="M430 2137l11 3-8-11-11-2z"/><path class=qaE d="M420 2135l10 2-8-10-10-1z"/><path class=qaB d="M409 2133l11 2-8-9-10-1z"/><path class=qaz d="M399 2131l10 2-7-8-11-1z"/><path class=qax d="M388 2130l11 1-8-7-11-1z"/><path class=qat d="M378 2129l10 1-8-7-10-1z"/><path class=qaq d="M367 2128l11 1-8-7-10 0z"/><path class=qan d="M357 2128l10 0-7-6-11 0z"/><path class=qal d="M346 2128l11 0-8-6-10 0z"/><path class=qai d="M336 2128l10 0-7-6-11 1z"/><path class=qah d="M325 2129l11-1-8-5-10 1z"/><path class=qae d="M304 2131l11-1 10-1-7-5-11 1-11 1zM722 2016l10-5-8-5-10 5z"/><path class=qai d="M701 2028l10-6 11-6-8-5-11 5-10 6z"/><path class=qan d="M680 2040l10-6 11-6-8-6-11 6-10 6z"/><path class=qas d="M669 2047l11-7-8-6-11 7z"/><path class=qau d="M659 2055l10-8-8-6-10 7z"/><path class=qay d="M648 2062l11-7-8-7-11 7z"/><path class=qaA d="M638 2071l10-9-8-7-10 8z"/><path class=qaD d="M627 2079l11-8-8-8-11 8z"/><path class=qaG d="M617 2088l10-9-8-8-10 8z"/><path class=qaI d="M606 2098l11-10-8-9-11 8z"/><path class=qaL d="M596 2107l10-9-8-11-10 9z"/><path class=qaM d="M585 2117l11-10-8-11-11 9z"/><path class=qaT d="M575 2127l10-10-8-12-10 8z"/><path class=qaW d="M564 2136l11-9-8-14-11 8z"/><path class=qaR d="M554 2144l10-8-8-15-10 7z"/><path class=qbg d="M543 2152l11-8-8-16-11 7z"/><path class=qbd d="M512 2164l10-3 11-4 10-5-8-17-10 5-11 4-10 2z"/><path class=qbc d="M501 2164l11 0-8-18-11 1z"/><path class=qaS d="M491 2163l10 1-8-17-10 0z"/><path class=qaR d="M480 2161l11 2-8-16-11-1z"/><path class=qaV d="M470 2158l10 3-8-15-10-2z"/><path class=qaO d="M459 2155l11 3-8-14-11-2z"/><path class=qaL d="M449 2151l10 4-8-13-10-2z"/><path class=qaK d="M438 2148l11 3-8-11-11-3z"/><path class=qaG d="M428 2145l10 3-8-11-10-2z"/><path class=qaE d="M417 2142l11 3-8-10-11-2z"/><path class=qaB d="M407 2139l10 3-8-9-10-2z"/><path class=qay d="M396 2137l11 2-8-8-11-1z"/><path class=qaw d="M386 2136l10 1-8-7-10-1z"/><path class=qat d="M375 2135l11 1-8-7-11-1z"/><path class=qap d="M365 2134l10 1-8-7-10 0z"/><path class=qan d="M354 2134l11 0-8-6-11 0z"/><path class=qak d="M344 2134l10 0-8-6-10 0z"/><path class=qai d="M333 2134l11 0-8-6-11 1z"/><path class=qag d="M323 2135l10-1-8-5-10 1z"/><path class=qae d="M312 2136l11-1-8-5-11 1z"/><path class=qaf d="M730 2021l10-5-8-5-10 5z"/><path class=qai d="M719 2027l11-6-8-5-11 6z"/><path class=qaj d="M709 2033l10-6-8-5-10 6z"/><path class=qan d="M698 2039l11-6-8-5-11 6z"/><path class=qaq d="M688 2046l10-7-8-5-10 6z"/><path class=qau d="M677 2053l11-7-8-6-11 7z"/><path class=qaw d="M667 2061l10-8-8-6-10 8z"/><path class=qaz d="M656 2070l11-9-8-6-11 7z"/><path class=qaD d="M646 2078l10-8-8-8-10 9z"/><path class=qaG d="M635 2088l11-10-8-7-11 8z"/><path class=qaI d="M625 2098l10-10-8-9-10 9z"/><path class=qaL d="M614 2108l11-10-8-10-11 10z"/><path class=qaO d="M604 2119l10-11-8-10-10 9z"/><path class=qaU d="M593 2130l11-11-8-12-11 10z"/><path class=qaR d="M583 2141l10-11-8-13-10 10z"/><path class=qbc d="M572 2152l11-11-8-14-11 9z"/><path class=qbf d="M562 2162l10-10-8-16-10 8z"/><path class=qbj d="M551 2170l11-8-8-18-11 8z"/><path class=qbl d="M520 2183l10-2 11-4 10-7-8-18-10 5-11 4-10 3z"/><path class=qbk d="M509 2183l11 0-8-19-11 0z"/><path class=qba d="M499 2181l10 2-8-19-10-1z"/><path class=qbd d="M488 2177l11 4-8-18-11-2z"/><path class=qaS d="M478 2173l10 4-8-16-10-3z"/><path class=qaW d="M467 2168l11 5-8-15-11-3z"/><path class=qaT d="M457 2163l10 5-8-13-10-4z"/><path class=qaN d="M446 2158l11 5-8-12-11-3z"/><path class=qaK d="M436 2154l10 4-8-10-10-3z"/><path class=qaG d="M425 2150l11 4-8-9-11-3z"/><path class=qaC d="M415 2147l10 3-8-8-10-3z"/><path class=qaB d="M404 2145l11 2-8-8-11-2z"/><path class=qax d="M394 2143l10 2-8-8-10-1z"/><path class=qau d="M383 2141l11 2-8-7-11-1z"/><path class=qas d="M373 2140l10 1-8-6-10-1z"/><path class=qan d="M362 2139l11 1-8-6-11 0z"/><path class=qal d="M352 2139l10 0-8-5-10 0z"/><path class=qai d="M341 2139l11 0-8-5-11 0z"/><path class=qah d="M331 2140l10-1-8-5-10 1z"/><path class=qae d="M320 2141l11-1-8-5-11 1z"/><path class=qah d="M737 2026l11-5-8-5-10 5z"/><path class=qai d="M727 2032l10-6-7-5-11 6z"/><path class=qak d="M716 2038l11-6-8-5-10 6z"/><path class=qan d="M706 2045l10-7-7-5-11 6z"/><path class=qas d="M695 2052l11-7-8-6-10 7z"/><path class=qau d="M685 2060l10-8-7-6-11 7z"/><path class=qay d="M674 2068l11-8-8-7-10 8z"/><path class=qaA d="M664 2077l10-9-7-7-11 9z"/><path class=qaE d="M653 2086l11-9-8-7-10 8z"/><path class=qaG d="M643 2097l10-11-7-8-11 10z"/><path class=qaK d="M632 2107l11-10-8-9-10 10z"/><path class=qaM d="M622 2119l10-12-7-9-11 10z"/><path class=qaU d="M611 2131l11-12-8-11-10 11z"/><path class=qaS d="M601 2144l10-13-7-12-11 11z"/><path class=qbe d="M590 2157l11-13-8-14-10 11z"/><path class=qbi d="M580 2169l10-12-7-16-11 11z"/><path class=qbo d="M569 2181l11-12-8-17-10 10z"/><path class=qbu d="M559 2191l10-10-7-19-11 8z"/><path class=qbx d="M548 2199l11-8-8-21-10 7z"/><path class=qby d="M527 2205l11-2 10-4-7-22-11 4-10 2z"/><path class=qbt d="M517 2203l10 2-7-22-11 0z"/><path class=qbq d="M506 2200l11 3-8-20-10-2z"/><path class=qbl d="M496 2194l10 6-7-19-11-4z"/><path class=qbf d="M485 2188l11 6-8-17-10-4z"/><path class=qbc d="M475 2181l10 7-7-15-11-5z"/><path class=qaW d="M464 2175l11 6-8-13-10-5z"/><path class=qaX d="M454 2169l10 6-7-12-11-5z"/><path class=qaL d="M443 2164l11 5-8-11-10-4z"/><path class=qaI d="M433 2159l10 5-7-10-11-4z"/><path class=qaF d="M422 2155l11 4-8-9-10-3z"/><path class=qaD d="M412 2152l10 3-7-8-11-2z"/><path class=qaz d="M401 2149l11 3-8-7-10-2z"/><path class=qaw d="M391 2147l10 2-7-6-11-2z"/><path class=qat d="M380 2146l11 1-8-6-10-1z"/><path class=qap d="M370 2145l10 1-7-6-11-1z"/><path class=qan d="M359 2144l11 1-8-6-10 0z"/><path class=qai d="M338 2145l11-1 10 0-7-5-11 0-10 1z"/><path class=qaf d="M328 2146l10-1-7-5-11 1z"/><path class=qai d="M735 2037l10-6 11-6-8-4-11 5-10 6z"/><path class=qan d="M724 2043l11-6-8-5-11 6z"/><path class=qao d="M714 2050l10-7-8-5-10 7z"/><path class=qas d="M703 2058l11-8-8-5-11 7z"/><path class=qaw d="M693 2066l10-8-8-6-10 8z"/><path class=qaz d="M682 2074l11-8-8-6-11 8z"/><path class=qaD d="M672 2084l10-10-8-6-10 9z"/><path class=qaG d="M661 2094l11-10-8-7-11 9z"/><path class=qaJ d="M651 2105l10-11-8-8-10 11z"/><path class=qaN d="M640 2117l11-12-8-8-11 10z"/><path class=qaT d="M630 2130l10-13-8-10-10 12z"/><path class=qaR d="M619 2143l11-13-8-11-11 12z"/><path class=qbe d="M609 2158l10-15-8-12-10 13z"/><path class=qbl d="M598 2172l11-14-8-14-11 13z"/><path class=qbu d="M588 2187l10-15-8-15-10 12z"/><path class=qbA d="M577 2201l11-14-8-18-11 12z"/><path class=qbG d="M567 2213l10-12-8-20-10 10z"/><path class=qbN d="M556 2223l11-10-8-22-11 8z"/><path class=qbO d="M546 2228l10-5-8-24-10 4z"/><path class=qbx d="M504 2212l10 8-8-20-10-6z"/><path class=qbp d="M493 2204l11 8-8-18-11-6z"/><path class=qbi d="M483 2195l10 9-8-16-10-7z"/><path class=qbg d="M472 2187l11 8-8-14-11-6z"/><path class=qaV d="M462 2180l10 7-8-12-10-6z"/><path class=qaO d="M451 2173l11 7-8-11-11-5z"/><path class=qaL d="M441 2167l10 6-8-9-10-5z"/><path class=qaG d="M430 2163l11 4-8-8-11-4z"/><path class=qaC d="M420 2159l10 4-8-8-10-3z"/><path class=qaB d="M409 2156l11 3-8-7-11-3z"/><path class=qax d="M399 2153l10 3-8-7-10-2z"/><path class=qat d="M388 2151l11 2-8-6-11-1z"/><path class=qaq d="M378 2150l10 1-8-5-10-1z"/><path class=qan d="M367 2150l11 0-8-5-11-1z"/><path class=qak d="M357 2149l10 1-8-6-10 0z"/><path class=qai d="M346 2150l11-1-8-5-11 1z"/><path class=qag d="M336 2150l10 0-8-5-10 1z"/><path class=qai d="M743 2042l10-6 11-6-8-5-11 6-10 6z"/><path class=qan d="M732 2048l11-6-8-5-11 6z"/><path class=qaq d="M722 2055l10-7-8-5-10 7z"/><path class=qau d="M711 2063l11-8-8-5-11 8z"/><path class=qay d="M701 2071l10-8-8-5-10 8z"/><path class=qaA d="M690 2081l11-10-8-5-11 8z"/><path class=qaE d="M680 2090l10-9-8-7-10 10z"/><path class=qaG d="M669 2101l11-11-8-6-11 10z"/><path class=qaL d="M659 2113l10-12-8-7-10 11z"/><path class=qaX d="M648 2126l11-13-8-8-11 12z"/><path class=qaW d="M638 2140l10-14-8-9-10 13z"/><path class=qbc d="M627 2155l11-15-8-10-11 13z"/><path class=qbi d="M617 2171l10-16-8-12-10 15z"/><path class=qbu d="M606 2188l11-17-8-13-11 14z"/><path class=qbB d="M596 2206l10-18-8-16-10 15z"/><path class=qbN d="M585 2223l11-17-8-19-11 14z"/><path class=qbU d="M575 2238l10-15-8-22-10 12z"/><path class=qaS d="M470 2190l10 9-8-12-10-7z"/><path class=qaT d="M459 2182l11 8-8-10-11-7z"/><path class=qaN d="M449 2175l10 7-8-9-10-6z"/><path class=qaI d="M438 2170l11 5-8-8-11-4z"/><path class=qaF d="M428 2165l10 5-8-7-10-4z"/><path class=qaB d="M417 2162l11 3-8-6-11-3z"/><path class=qay d="M407 2159l10 3-8-6-10-3z"/><path class=qaw d="M396 2157l11 2-8-6-11-2z"/><path class=qas d="M386 2155l10 2-8-6-10-1z"/><path class=qao d="M375 2155l11 0-8-5-11 0z"/><path class=qak d="M365 2154l10 1-8-5-10-1z"/><path class=qai d="M354 2154l11 0-8-5-11 1z"/><path class=qag d="M344 2155l10-1-8-4-10 0z"/><path class=qai d="M761 2040l10-6-7-4-11 6z"/><path class=qak d="M750 2046l11-6-8-4-10 6z"/><path class=qan d="M740 2053l10-7-7-4-11 6z"/><path class=qas d="M729 2060l11-7-8-5-10 7z"/><path class=qau d="M719 2068l10-8-7-5-11 8z"/><path class=qay d="M708 2077l11-9-8-5-10 8z"/><path class=qaA d="M698 2086l10-9-7-6-11 10z"/><path class=qaF d="M687 2097l11-11-8-5-10 9z"/><path class=qaJ d="M677 2108l10-11-7-7-11 11z"/><path class=qaL d="M666 2120l11-12-8-7-10 12z"/><path class=qaX d="M656 2134l10-14-7-7-11 13z"/><path class=qaR d="M645 2149l11-15-8-8-10 14z"/><path class=qbf d="M635 2166l10-17-7-9-11 15z"/><path class=qbo d="M624 2184l11-18-8-11-10 16z"/><path class=qbA d="M614 2203l10-19-7-13-11 17z"/><path class=qbN d="M603 2224l11-21-8-15-10 18z"/><path class=qaV d="M467 2190l10 9-7-9-11-8z"/><path class=qaN d="M456 2183l11 7-8-8-10-7z"/><path class=qaL d="M446 2177l10 6-7-8-11-5z"/><path class=qaH d="M435 2172l11 5-8-7-10-5z"/><path class=qaC d="M425 2168l10 4-7-7-11-3z"/><path class=qaz d="M414 2164l11 4-8-6-10-3z"/><path class=qaw d="M404 2162l10 2-7-5-11-2z"/><path class=qas d="M393 2160l11 2-8-5-10-2z"/><path class=qap d="M383 2159l10 1-7-5-11 0z"/><path class=qan d="M372 2159l11 0-8-4-10-1z"/><path class=qai d="M362 2159l10 0-7-5-11 0z"/><path class=qah d="M351 2159l11 0-8-5-10 1z"/><path class=qai d="M769 2045l10-6-8-5-10 6z"/><path class=qak d="M758 2051l11-6-8-5-11 6z"/><path class=qan d="M748 2058l10-7-8-5-10 7z"/><path class=qas d="M737 2065l11-7-8-5-11 7z"/><path class=qaw d="M727 2073l10-8-8-5-10 8z"/><path class=qaz d="M716 2082l11-9-8-5-11 9z"/><path class=qaD d="M706 2092l10-10-8-5-10 9z"/><path class=qaG d="M695 2102l11-10-8-6-11 11z"/><path class=qaJ d="M685 2114l10-12-8-5-10 11z"/><path class=qaM d="M674 2127l11-13-8-6-11 12z"/><path class=qaV d="M664 2141l10-14-8-7-10 14z"/><path class=qbg d="M653 2157l11-16-8-7-11 15z"/><path class=qbj d="M643 2175l10-18-8-8-10 17z"/><path class=qbu d="M632 2195l11-20-8-9-11 18z"/><path class=qbG d="M622 2216l10-21-8-11-10 19z"/><path class=qaL d="M454 2183l10 6-8-6-10-6z"/><path class=qaG d="M443 2177l11 6-8-6-11-5z"/><path class=qaC d="M433 2173l10 4-8-5-10-4z"/><path class=qaB d="M422 2170l11 3-8-5-11-4z"/><path class=qax d="M412 2167l10 3-8-6-10-2z"/><path class=qat d="M401 2165l11 2-8-5-11-2z"/><path class=qap d="M391 2164l10 1-8-5-10-1z"/><path class=qan d="M380 2163l11 1-8-5-11 0z"/><path class=qai d="M359 2164l11-1 10 0-8-4-10 0-11 0zM777 2049l10-6-8-4-10 6z"/><path class=qal d="M766 2055l11-6-8-4-11 6z"/><path class=qan d="M756 2062l10-7-8-4-10 7z"/><path class=qas d="M745 2070l11-8-8-4-11 7z"/><path class=qaw d="M735 2078l10-8-8-5-10 8z"/><path class=qaz d="M724 2087l11-9-8-5-11 9z"/><path class=qaD d="M714 2097l10-10-8-5-10 10z"/><path class=qaG d="M703 2107l11-10-8-5-11 10z"/><path class=qaK d="M693 2119l10-12-8-5-10 12z"/><path class=qaM d="M682 2133l11-14-8-5-11 13z"/><path class=qaV d="M672 2147l10-14-8-6-10 14z"/><path class=qbd d="M661 2164l11-17-8-6-11 16z"/><path class=qbl d="M651 2182l10-18-8-7-10 18z"/><path class=qbx d="M640 2203l11-21-8-7-11 20z"/><path class=qbN d="M630 2226l10-23-8-8-10 21z"/><path class=qbU d="M525 2258l10 20-8-13-10-17z"/><path class=qbE d="M514 2241l11 17-8-10-11-16z"/><path class=qbq d="M504 2226l10 15-8-9-10-13z"/><path class=qaL d="M462 2188l10 7-8-6-10-6z"/><path class=qaC d="M441 2178l10 4-8-5-10-4z"/><path class=qaB d="M430 2174l11 4-8-5-11-3z"/><path class=qax d="M420 2172l10 2-8-4-10-3z"/><path class=qat d="M409 2170l11 2-8-5-11-2z"/><path class=qap d="M399 2168l10 2-8-5-10-1z"/><path class=qan d="M388 2168l11 0-8-4-11-1z"/><path class=qaj d="M378 2168l10 0-8-5-10 0z"/><path class=qai d="M367 2168l11 0-8-5-11 1zM784 2053l11-6-8-4-10 6z"/><path class=qal d="M774 2059l10-6-7-4-11 6z"/><path class=qan d="M764 2066l10-7-8-4-10 7z"/><path class=qas d="M753 2074l11-8-8-4-11 8z"/><path class=qaw d="M742 2082l11-8-8-4-10 8z"/><path class=qaz d="M732 2091l10-9-7-4-11 9z"/><path class=qaD d="M721 2101l11-10-8-4-10 10z"/><path class=qaG d="M711 2112l10-11-7-4-11 10z"/><path class=qaK d="M700 2124l11-12-8-5-10 12z"/><path class=qaM d="M690 2137l10-13-7-5-11 14z"/><path class=qaW d="M680 2152l10-15-8-4-10 14z"/><path class=qbd d="M669 2169l11-17-8-5-11 17z"/><path class=qbl d="M659 2188l10-19-8-5-10 18z"/><path class=qby d="M648 2209l11-21-8-6-11 21z"/><path class=qde d="M564 2338l10 33-7-19-11-26z"/><path class=qcN d="M554 2309l10 29-8-12-10-26z"/><path class=qcs d="M543 2285l11 24-8-9-11-22z"/><path class=qbY d="M532 2264l11 21-8-7-10-20z"/><path class=qbF d="M522 2246l10 18-7-6-11-17z"/><path class=qbr d="M512 2231l10 15-8-5-10-15z"/><path class=qaC d="M448 2182l11 5-8-5-10-4z"/><path class=qaB d="M438 2179l10 3-7-4-11-4z"/><path class=qax d="M428 2176l10 3-8-5-10-2z"/><path class=qat d="M417 2174l11 2-8-4-11-2z"/><path class=qap d="M406 2173l11 1-8-4-10-2z"/><path class=qan d="M396 2172l10 1-7-5-11 0z"/><path class=qaj d="M386 2172l10 0-8-4-10 0z"/><path class=qai d="M375 2172l11 0-8-4-11 0zM792 2057l11-6-8-4-11 6z"/><path class=qal d="M782 2063l10-6-8-4-10 6z"/><path class=qan d="M771 2070l11-7-8-4-10 7z"/><path class=qas d="M761 2078l10-8-7-4-11 8z"/><path class=qaw d="M750 2086l11-8-8-4-11 8z"/><path class=qaz d="M740 2095l10-9-8-4-10 9z"/><path class=qaD d="M729 2105l11-10-8-4-11 10z"/><path class=qaG d="M719 2115l10-10-8-4-10 11z"/><path class=qaK d="M708 2127l11-12-8-3-11 12z"/><path class=qaM d="M698 2141l10-14-8-3-10 13z"/><path class=qaV d="M687 2155l11-14-8-4-10 15z"/><path class=qbd d="M677 2172l10-17-7-3-11 17z"/><path class=qbl d="M666 2190l11-18-8-3-10 19z"/><path class=qby d="M656 2211l10-21-7-2-11 21z"/><path class=qdy d="M593 2372l10-19-7 12-11 45z"/><path class=qdp d="M582 2360l11 12-8 38-11-39z"/><path class=qdc d="M572 2334l10 26-8 11-10-33z"/><path class=qcM d="M561 2309l11 25-8 4-10-29z"/><path class=qcr d="M551 2286l10 23-7 0-11-24z"/><path class=qbY d="M540 2266l11 20-8-1-11-21z"/><path class=qbF d="M530 2249l10 17-8-2-10-18z"/><path class=qbr d="M519 2234l11 15-8-3-10-15z"/><path class=qaZ d="M509 2222l10 12-7-3-11-12z"/><path class=qaC d="M456 2186l11 4-8-3-11-5z"/><path class=qaB d="M446 2182l10 4-8-4-10-3z"/><path class=qax d="M435 2180l11 2-8-3-10-3z"/><path class=qat d="M425 2178l10 2-7-4-11-2z"/><path class=qap d="M414 2177l11 1-8-4-11-1z"/><path class=qan d="M404 2176l10 1-8-4-10-1z"/><path class=qaj d="M393 2176l11 0-8-4-10 0z"/><path class=qai d="M383 2176l10 0-7-4-11 0zM800 2061l11-6-8-4-11 6z"/><path class=qal d="M790 2067l10-6-8-4-10 6z"/><path class=qan d="M779 2074l11-7-8-4-11 7z"/><path class=qas d="M769 2081l10-7-8-4-10 8z"/><path class=qaw d="M758 2089l11-8-8-3-11 8z"/><path class=qaz d="M748 2098l10-9-8-3-10 9z"/><path class=qaD d="M737 2108l11-10-8-3-11 10z"/><path class=qaG d="M727 2118l10-10-8-3-10 10z"/><path class=qaK d="M716 2130l11-12-8-3-11 12z"/><path class=qaM d="M706 2143l10-13-8-3-10 14z"/><path class=qaV d="M695 2157l11-14-8-2-11 14z"/><path class=qbc d="M685 2173l10-16-8-2-10 17z"/><path class=qbk d="M674 2191l11-18-8-1-11 18z"/><path class=qbt d="M664 2211l10-20-8-1-10 21z"/><path class=qcX d="M611 2329l11-22-8 15-11 31z"/><path class=qde d="M601 2340l10-11-8 24-10 19z"/><path class=qdc d="M590 2335l11 5-8 32-11-12z"/><path class=qcT d="M580 2319l10 16-8 25-10-26z"/><path class=qcC d="M569 2300l11 19-8 15-11-25z"/><path class=qcl d="M559 2281l10 19-8 9-10-23z"/><path class=qbQ d="M548 2264l11 17-8 5-11-20z"/><path class=qbB d="M538 2248l10 16-8 2-10-17z"/><path class=qbo d="M527 2235l11 13-8 1-11-15z"/><path class=qaB d="M454 2186l10 3-8-3-10-4z"/><path class=qax d="M443 2183l11 3-8-4-11-2z"/><path class=qat d="M433 2181l10 2-8-3-10-2z"/><path class=qap d="M422 2180l11 1-8-3-11-1z"/><path class=qan d="M412 2180l10 0-8-3-10-1z"/><path class=qaj d="M401 2180l11 0-8-4-11 0z"/><path class=qai d="M391 2180l10 0-8-4-10 0zM808 2064l11-5-8-4-11 6z"/><path class=qak d="M798 2071l10-7-8-3-10 6z"/><path class=qan d="M787 2077l11-6-8-4-11 7z"/><path class=qas d="M777 2085l10-8-8-3-10 7z"/><path class=qau d="M766 2093l11-8-8-4-11 8z"/><path class=qay d="M756 2101l10-8-8-4-10 9z"/><path class=qaB d="M745 2111l11-10-8-3-11 10z"/><path class=qaF d="M735 2121l10-10-8-3-10 10z"/><path class=qaJ d="M724 2132l11-11-8-3-11 12z"/><path class=qaN d="M714 2145l10-13-8-2-10 13z"/><path class=qaT d="M703 2158l11-13-8-2-11 14z"/><path class=qaS d="M693 2173l10-15-8-1-10 16z"/><path class=qba d="M682 2190l11-17-8 0-11 18z"/><path class=qbq d="M672 2208l10-18-8 1-10 20z"/><path class=qcF d="M619 2304l11-15-8 18-11 22z"/><path class=qcN d="M609 2312l10-8-8 25-10 11z"/><path class=qcM d="M598 2310l11 2-8 28-11-5z"/><path class=qcC d="M588 2301l10 9-8 25-10-16z"/><path class=qcr d="M577 2288l11 13-8 18-11-19z"/><path class=qca d="M567 2273l10 15-8 12-10-19z"/><path class=qbK d="M556 2259l11 14-8 8-11-17z"/><path class=qbx d="M546 2245l10 14-8 5-10-16z"/><path class=qbl d="M535 2234l11 11-8 3-11-13z"/><path class=qaz d="M462 2189l10 3-8-3-10-3z"/><path class=qax d="M451 2186l11 3-8-3-11-3z"/><path class=qat d="M441 2185l10 1-8-3-10-2z"/><path class=qap d="M430 2184l11 1-8-4-11-1z"/><path class=qan d="M420 2183l10 1-8-4-10 0z"/><path class=qai d="M399 2184l10-1 11 0-8-3-11 0-10 0zM816 2068l10-6-7-3-11 5z"/><path class=qaj d="M805 2074l11-6-8-4-10 7z"/><path class=qan d="M795 2081l10-7-7-3-11 6z"/><path class=qaq d="M784 2088l11-7-8-4-10 8z"/><path class=qau d="M774 2096l10-8-7-3-11 8z"/><path class=qay d="M763 2104l11-8-8-3-10 8z"/><path class=qaA d="M753 2113l10-9-7-3-11 10z"/><path class=qaE d="M742 2123l11-10-8-2-10 10z"/><path class=qaI d="M732 2134l10-11-7-2-11 11z"/><path class=qaL d="M721 2145l11-11-8-2-10 13z"/><path class=qaX d="M711 2158l10-13-7 0-11 13z"/><path class=qaR d="M700 2172l11-14-8 0-10 15z"/><path class=qbd d="M690 2187l10-15-7 1-11 17z"/><path class=qbl d="M679 2203l11-16-8 3-10 18z"/><path class=qce d="M637 2271l11-16-8 14-10 20z"/><path class=qcn d="M627 2282l10-11-7 18-11 15z"/><path class=qcs d="M616 2289l11-7-8 22-10 8z"/><path class=qcr d="M606 2288l10 1-7 23-11-2z"/><path class=qcl d="M595 2283l11 5-8 22-10-9z"/><path class=qca d="M585 2274l10 9-7 18-11-13z"/><path class=qbO d="M574 2263l11 11-8 14-10-15z"/><path class=qbB d="M564 2252l10 11-7 10-11-14z"/><path class=qbp d="M553 2241l11 11-8 7-10-14z"/><path class=qba d="M543 2231l10 10-7 4-11-11z"/><path class=qaC d="M480 2194l10 4-7-2-11-4z"/><path class=qaz d="M469 2191l11 3-8-2-10-3z"/><path class=qaw d="M459 2189l10 2-7-2-11-3z"/><path class=qas d="M448 2188l11 1-8-3-10-1z"/><path class=qao d="M438 2187l10 1-7-3-11-1z"/><path class=qal d="M427 2187l11 0-8-3-10-1z"/><path class=qai d="M417 2187l10 0-7-4-11 0z"/><path class=qag d="M406 2187l11 0-8-4-10 1z"/><path class=qai d="M813 2077l11-6 10-5-8-4-10 6-11 6z"/><path class=qan d="M803 2084l10-7-8-3-10 7z"/><path class=qaq d="M792 2091l11-7-8-3-11 7z"/><path class=qat d="M782 2098l10-7-8-3-10 8z"/><path class=qaw d="M771 2106l11-8-8-2-11 8z"/><path class=qaz d="M761 2115l10-9-8-2-10 9z"/><path class=qaD d="M750 2124l11-9-8-2-11 10z"/><path class=qaG d="M740 2134l10-10-8-1-10 11z"/><path class=qaK d="M729 2145l11-11-8 0-11 11z"/><path class=qaM d="M719 2157l10-12-8 0-10 13z"/><path class=qaV d="M708 2170l11-13-8 1-11 14z"/><path class=qaS d="M698 2184l10-14-8 2-10 15z"/><path class=qbf d="M687 2198l11-14-8 3-11 16z"/><path class=qbF d="M656 2242l10-14-8 10-10 17z"/><path class=qbO d="M645 2254l11-12-8 13-11 16z"/><path class=qbU d="M635 2263l10-9-8 17-10 11z"/><path class=qbY d="M614 2270l10-1 11-6-8 19-11 7-10-1z"/><path class=qbQ d="M603 2266l11 4-8 18-11-5z"/><path class=qbK d="M593 2260l10 6-8 17-10-9z"/><path class=qbB d="M582 2253l11 7-8 14-11-11z"/><path class=qbs d="M572 2244l10 9-8 10-10-11z"/><path class=qbk d="M561 2236l11 8-8 8-11-11z"/><path class=qbb d="M551 2228l10 8-8 5-10-10z"/><path class=qax d="M477 2194l11 2-8-2-11-3z"/><path class=qav d="M467 2192l10 2-8-3-10-2z"/><path class=qas d="M456 2191l11 1-8-3-11-1z"/><path class=qao d="M446 2190l10 1-8-3-10-1z"/><path class=qak d="M435 2190l11 0-8-3-11 0z"/><path class=qai d="M425 2190l10 0-8-3-10 0z"/><path class=qag d="M414 2191l11-1-8-3-11 0z"/><path class=qah d="M832 2075l10-6-8-3-10 5z"/><path class=qai d="M821 2081l11-6-8-4-11 6z"/><path class=qal d="M811 2087l10-6-8-4-10 7z"/><path class=qan d="M800 2093l11-6-8-3-11 7z"/><path class=qas d="M790 2101l10-8-8-2-10 7z"/><path class=qaw d="M779 2108l11-7-8-3-11 8z"/><path class=qay d="M769 2117l10-9-8-2-10 9z"/><path class=qaB d="M758 2125l11-8-8-2-11 9z"/><path class=qaE d="M748 2135l10-10-8-1-10 10z"/><path class=qaI d="M737 2145l11-10-8-1-11 11z"/><path class=qaL d="M727 2156l10-11-8 0-10 12z"/><path class=qaO d="M716 2168l11-12-8 1-11 13z"/><path class=qaW d="M706 2180l10-12-8 2-10 14z"/><path class=qbc d="M695 2193l11-13-8 4-11 14z"/><path class=qbt d="M664 2229l10-11-8 10-10 14z"/><path class=qbz d="M653 2239l11-10-8 13-11 12z"/><path class=qbE d="M643 2247l10-8-8 15-10 9z"/><path class=qbF d="M622 2253l10-1 11-5-8 16-11 6-10 1z"/><path class=qbB d="M611 2252l11 1-8 17-11-4z"/><path class=qbx d="M601 2248l10 4-8 14-10-6z"/><path class=qbp d="M590 2243l11 5-8 12-11-7z"/><path class=qbk d="M580 2237l10 6-8 10-10-9z"/><path class=qbe d="M569 2230l11 7-8 7-11-8z"/><path class=qaS d="M559 2224l10 6-8 6-10-8z"/><path class=qaz d="M496 2198l10 2-8-1-10-3z"/><path class=qax d="M485 2196l11 2-8-2-11-2z"/><path class=qat d="M475 2194l10 2-8-2-10-2z"/><path class=qap d="M464 2193l11 1-8-2-11-1z"/><path class=qan d="M454 2193l10 0-8-2-10-1z"/><path class=qaj d="M443 2193l11 0-8-3-11 0z"/><path class=qai d="M433 2193l10 0-8-3-10 0z"/><path class=qaf d="M422 2194l11-1-8-3-11 1z"/><path class=qah d="M839 2078l11-6-8-3-10 6z"/><path class=qai d="M829 2084l10-6-7-3-11 6z"/><path class=qak d="M818 2090l11-6-8-3-10 6z"/><path class=qan d="M808 2096l10-6-7-3-11 6z"/><path class=qaq d="M797 2103l11-7-8-3-10 8z"/><path class=qau d="M787 2110l10-7-7-2-11 7z"/><path class=qax d="M776 2118l11-8-8-2-10 9z"/><path class=qaz d="M766 2126l10-8-7-1-11 8z"/><path class=qaD d="M755 2135l11-9-8-1-10 10z"/><path class=qaG d="M745 2145l10-10-7 0-11 10z"/><path class=qaK d="M734 2155l11-10-8 0-10 11z"/><path class=qaL d="M724 2165l10-10-7 1-11 12z"/><path class=qaT d="M713 2176l11-11-8 3-10 12z"/><path class=qaW d="M703 2187l10-11-7 4-11 13z"/><path class=qbf d="M682 2209l10-11-7 7-11 13z"/><path class=qbi d="M671 2219l11-10-8 9-10 11z"/><path class=qbm d="M661 2227l10-8-7 10-11 10z"/><path class=qbq d="M650 2234l11-7-8 12-10 8z"/><path class=qbr d="M629 2240l11-2 10-4-7 13-11 5-10 1z"/><path class=qbo d="M619 2239l10 1-7 13-11-1z"/><path class=qbl d="M608 2237l11 2-8 13-10-4z"/><path class=qba d="M598 2234l10 3-7 11-11-5z"/><path class=qbb d="M587 2229l11 5-8 9-10-6z"/><path class=qaS d="M577 2225l10 4-7 8-11-7z"/><path class=qaw d="M493 2198l10 1-7-1-11-2z"/><path class=qas d="M482 2197l11 1-8-2-10-2z"/><path class=qao d="M472 2196l10 1-7-3-11-1z"/><path class=qan d="M461 2196l11 0-8-3-10 0z"/><path class=qai d="M440 2197l11-1 10 0-7-3-11 0-10 0z"/><path class=qaf d="M430 2197l10 0-7-4-11 1z"/><path class=qae d="M847 2081l11-5-8-4-11 6z"/><path class=qai d="M826 2092l11-5 10-6-8-3-10 6-11 6z"/><path class=qan d="M816 2099l10-7-8-2-10 6z"/><path class=qao d="M805 2105l11-6-8-3-11 7z"/><path class=qas d="M795 2112l10-7-8-2-10 7z"/><path class=qaw d="M784 2119l11-7-8-2-11 8z"/><path class=qay d="M774 2127l10-8-8-1-10 8z"/><path class=qaB d="M763 2135l11-8-8-1-11 9z"/><path class=qaE d="M753 2144l10-9-8 0-10 10z"/><path class=qaG d="M742 2153l11-9-8 1-11 10z"/><path class=qaK d="M732 2163l10-10-8 2-10 10z"/><path class=qaN d="M721 2172l11-9-8 2-11 11z"/><path class=qaX d="M711 2182l10-10-8 4-10 11z"/><path class=qaV d="M700 2192l11-10-8 5-11 11z"/><path class=qbc d="M679 2209l11-8-8 8-11 10z"/><path class=qbe d="M669 2216l10-7-8 10-10 8z"/><path class=qaZ d="M637 2228l11-2 10-4 11-6-8 11-11 7-10 4-11 2z"/><path class=qbf d="M627 2229l10-1-8 12-10-1z"/><path class=qbd d="M616 2228l11 1-8 10-11-2z"/><path class=qbg d="M606 2226l10 2-8 9-10-3z"/><path class=qaQ d="M595 2223l11 3-8 8-11-5z"/><path class=qaT d="M585 2220l10 3-8 6-10-4z"/><path class=qax d="M511 2201l11 1-8-1-11-2z"/><path class=qar d="M490 2199l11 0-8-1-11-1z"/><path class=qan d="M480 2199l10 0-8-2-10-1z"/><path class=qak d="M469 2199l11 0-8-3-11 0z"/><path class=qai d="M459 2199l10 0-8-3-10 0z"/><path class=qag d="M448 2200l11-1-8-3-11 1z"/><path class=qae d="M438 2201l10-1-8-3-10 0zM855 2084l11-5-8-3-11 5z"/><path class=qah d="M845 2089l10-5-8-3-10 6z"/><path class=qai d="M834 2095l11-6-8-2-11 5z"/><path class=qal d="M824 2101l10-6-8-3-10 7z"/><path class=qan d="M813 2107l11-6-8-2-11 6z"/><path class=qaq d="M803 2114l10-7-8-2-10 7z"/><path class=qat d="M792 2121l11-7-8-2-11 7z"/><path class=qaw d="M782 2128l10-7-8-2-10 8z"/><path class=qaz d="M771 2136l11-8-8-1-11 8z"/><path class=qaB d="M761 2144l10-8-8-1-10 9z"/><path class=qaE d="M750 2152l11-8-8 0-11 9z"/><path class=qaG d="M740 2160l10-8-8 1-10 10z"/><path class=qaK d="M729 2169l11-9-8 3-11 9z"/><path class=qaL d="M719 2178l10-9-8 3-10 10z"/><path class=qaO d="M708 2186l11-8-8 4-11 10z"/><path class=qaR d="M677 2208l10-7-8 8-10 7z"/><path class=qaS d="M645 2219l11-2 10-4 11-5-8 8-11 6-10 4-11 2z"/><path class=qaR d="M635 2220l10-1-8 9-10 1z"/><path class=qaW d="M624 2220l11 0-8 9-11-1z"/><path class=qaV d="M614 2219l10 1-8 8-10-2z"/><path class=qaX d="M603 2217l11 2-8 7-11-3z"/><path class=qax d="M530 2203l10 1-8 0-10-2z"/><path class=qas d="M509 2201l10 1-8-1-10-2z"/><path class=qao d="M498 2201l11 0-8-2-11 0z"/><path class=qan d="M488 2201l10 0-8-2-10 0z"/><path class=qaj d="M477 2201l11 0-8-2-11 0z"/><path class=qai d="M467 2202l10-1-8-2-10 0z"/><path class=qaf d="M456 2203l11-1-8-3-11 1z"/><path class=qae d="M446 2204l10-1-8-3-10 1zM852 2092l11-5 11-5-8-3-11 5-10 5z"/><path class=qai d="M832 2103l10-5 10-6-7-3-11 6-10 6z"/><path class=qal d="M821 2109l11-6-8-2-11 6z"/><path class=qan d="M811 2115l10-6-8-2-10 7z"/><path class=qas d="M800 2122l11-7-8-1-11 7z"/><path class=qau d="M790 2129l10-7-8-1-10 7z"/><path class=qax d="M779 2136l11-7-8-1-11 8z"/><path class=qaz d="M769 2143l10-7-8 0-10 8z"/><path class=qaB d="M758 2151l11-8-8 1-11 8z"/><path class=qaE d="M748 2158l10-7-8 1-10 8z"/><path class=qaG d="M737 2166l11-8-8 2-11 9z"/><path class=qaI d="M726 2174l11-8-8 3-10 9z"/><path class=qaL d="M716 2181l10-7-7 4-11 8z"/><path class=qaX d="M674 2205l11-5-8 8-11 5z"/><path class=qaT d="M653 2211l11-2 10-4-8 8-10 4-11 2z"/><path class=qaX d="M643 2213l10-2-8 8-10 1z"/><path class=qaO d="M632 2214l11-1-8 7-11 0z"/><path class=qaN d="M622 2213l10 1-8 6-10-1z"/><path class=qat d="M527 2203l11 1-8-1-11-1z"/><path class=qap d="M516 2203l11 0-8-1-10-1z"/><path class=qan d="M506 2203l10 0-7-2-11 0z"/><path class=qaj d="M496 2203l10 0-8-2-10 0z"/><path class=qai d="M485 2204l11-1-8-2-11 0z"/><path class=qag d="M474 2205l11-1-8-3-10 1z"/><path class=qae d="M454 2207l10-1 10-1-7-3-11 1-10 1zM860 2095l11-5 10-5-7-3-11 5-11 5z"/><path class=qah d="M850 2100l10-5-8-3-10 6z"/><path class=qai d="M839 2106l11-6-8-2-10 5z"/><path class=qaj d="M829 2111l10-5-7-3-11 6z"/><path class=qan d="M818 2117l11-6-8-2-10 6z"/><path class=qap d="M808 2123l10-6-7-2-11 7z"/><path class=qas d="M797 2130l11-7-8-1-10 7z"/><path class=qau d="M787 2136l10-6-7-1-11 7z"/><path class=qax d="M776 2143l11-7-8 0-10 7z"/><path class=qaz d="M766 2150l10-7-7 0-11 8z"/><path class=qaB d="M755 2157l11-7-8 1-10 7z"/><path class=qaC d="M745 2164l10-7-7 1-11 8z"/><path class=qaF d="M734 2171l11-7-8 2-11 8z"/><path class=qaG d="M724 2177l10-6-8 3-10 7z"/><path class=qal d="M514 2205l10 0-8-2-10 0z"/><path class=qai d="M493 2207l10-1 11-1-8-2-10 0-11 1z"/><path class=qaf d="M482 2208l11-1-8-3-11 1z"/><path class=qae d="M472 2209l10-1-8-3-10 1z"/><path class=qad d="M461 2210l11-1-8-3-10 1zM879 2093l10-4-8-4-10 5z"/><path class=qae d="M858 2103l10-5 11-5-8-3-11 5-10 5z"/><path class=qah d="M847 2108l11-5-8-3-11 6z"/><path class=qai d="M837 2113l10-5-8-2-10 5z"/><path class=qak d="M826 2119l11-6-8-2-11 6z"/><path class=qan d="M816 2125l10-6-8-2-10 6z"/><path class=qap d="M805 2131l11-6-8-2-11 7z"/><path class=qas d="M795 2137l10-6-8-1-10 6z"/><path class=qau d="M784 2143l11-6-8-1-11 7z"/><path class=qax d="M774 2149l10-6-8 0-10 7z"/><path class=qay d="M763 2156l11-7-8 1-11 7z"/><path class=qaB d="M753 2162l10-6-8 1-10 7z"/><path class=qaD d="M742 2168l11-6-8 2-11 7z"/><path class=qaC d="M732 2174l10-6-8 3-10 6z"/><path class=qaF d="M721 2180l11-6-8 3-11 7z"/><path class=qat d="M564 2206l10 0-8-1-10 0z"/><path class=qar d="M553 2206l11 0-8-1-11 0z"/><path class=qao d="M543 2206l10 0-8-1-10 0z"/><path class=qal d="M532 2207l11-1-8-1-11 0z"/><path class=qaj d="M522 2207l10 0-8-2-10 0z"/><path class=qai d="M511 2208l11-1-8-2-11 1z"/><path class=qaf d="M501 2209l10-1-8-2-10 1z"/><path class=qae d="M480 2212l10-2 11-1-8-2-11 1-10 1z"/><path class=qac d="M469 2214l11-2-8-3-11 1zM887 2096l10-4-8-3-10 4z"/><path class=qae d="M855 2111l11-5 10-5 11-5-8-3-11 5-10 5-11 5z"/><path class=qah d="M845 2116l10-5-8-3-10 5z"/><path class=qai d="M834 2121l11-5-8-3-11 6z"/><path class=qal d="M824 2126l10-5-8-2-10 6z"/><path class=qan d="M813 2132l11-6-8-1-11 6z"/><path class=qap d="M803 2138l10-6-8-1-10 6z"/><path class=qas d="M792 2143l11-5-8-1-11 6z"/><path class=qat d="M782 2149l10-6-8 0-10 6z"/><path class=qaw d="M771 2155l11-6-8 0-11 7z"/><path class=qax d="M761 2161l10-6-8 1-10 6z"/><path class=qaz d="M750 2167l11-6-8 1-11 6z"/><path class=qaB d="M729 2177l11-5 10-5-8 1-10 6-11 6z"/><path class=qax d="M603 2205l11 0-8 1-11 0z"/><path class=qan d="M551 2208l10-1-8-1-10 0z"/><path class=qaj d="M540 2208l11 0-8-2-11 1z"/><path class=qai d="M530 2209l10-1-8-1-10 0z"/><path class=qaf d="M519 2211l11-2-8-2-11 1z"/><path class=qae d="M498 2213l11-1 10-1-8-3-10 1-11 1z"/><path class=qad d="M488 2215l10-2-8-3-10 2z"/><path class=qac d="M477 2217l11-2-8-3-11 2z"/><path class=qab d="M894 2099l11-4-8-3-10 4z"/><path class=qac d="M884 2104l10-5-7-3-11 5z"/><path class=qae d="M863 2113l10-5 11-4-8-3-10 5-11 5z"/><path class=qag d="M852 2118l11-5-8-2-10 5z"/><path class=qai d="M831 2128l11-5 10-5-7-2-11 5-10 5z"/><path class=qak d="M821 2133l10-5-7-2-11 6z"/><path class=qan d="M810 2139l11-6-8-1-10 6z"/><path class=qap d="M800 2144l10-5-7-1-11 5z"/><path class=qaq d="M789 2150l11-6-8-1-10 6z"/><path class=qat d="M779 2155l10-5-7-1-11 6z"/><path class=qau d="M768 2160l11-5-8 0-10 6z"/><path class=qaw d="M758 2166l10-6-7 1-11 6z"/><path class=qax d="M747 2171l11-5-8 1-10 5z"/><path class=qay d="M737 2176l10-5-7 1-11 5z"/><path class=qaz d="M726 2180l11-4-8 1-10 5z"/><path class=qaB d="M705 2188l11-4 10-4-7 2-11 5-10 4zM674 2197l10-3 11-3-8 3-10 3-11 2z"/><path class=qaz d="M663 2199l11-2-8 2-10 2z"/><path class=qax d="M632 2203l10-1-7 2-11 0z"/><path class=qat d="M611 2205l10-1-7 1-11 0z"/><path class=qal d="M569 2208l10-1-7-1-11 1z"/><path class=qaj d="M558 2209l11-1-8-1-10 1z"/><path class=qai d="M548 2211l10-2-7-1-11 0z"/><path class=qah d="M537 2212l11-1-8-3-10 1z"/><path class=qaf d="M527 2213l10-1-7-3-11 2z"/><path class=qae d="M516 2215l11-2-8-2-10 1z"/><path class=qad d="M506 2216l10-1-7-3-11 1z"/><path class=qac d="M495 2218l11-2-8-3-10 2z"/><path class=qab d="M485 2220l10-2-7-3-11 2zM892 2107l10-5 11-4-8-3-11 4-10 5z"/><path class=qad d="M881 2111l11-4-8-3-11 4z"/><path class=qae d="M860 2120l11-4 10-5-8-3-10 5-11 5z"/><path class=qag d="M850 2125l10-5-8-2-10 5z"/><path class=qai d="M829 2135l10-5 11-5-8-2-11 5-10 5z"/><path class=qak d="M818 2140l11-5-8-2-11 6z"/><path class=qan d="M797 2150l11-5 10-5-8-1-10 5-11 6z"/><path class=qap d="M787 2155l10-5-8 0-10 5z"/><path class=qas d="M776 2160l11-5-8 0-11 5z"/><path class=qat d="M755 2170l11-5 10-5-8 0-10 6-11 5z"/><path class=qaw d="M734 2179l11-5 10-4-8 1-10 5-11 4z"/><path class=qax d="M692 2193l11-3 10-4 11-3 10-4-8 1-10 4-11 4-10 3-11 3z"/><path class=qav d="M650 2201l11-2-8 2-11 1z"/><path class=qat d="M640 2203l10-2-8 1-10 1z"/><path class=qar d="M619 2205l10-1-8 0-10 1z"/><path class=qan d="M598 2208l10-2-8 0-10 1z"/><path class=qal d="M587 2209l11-1-8-1-11 0z"/><path class=qaj d="M577 2210l10-1-8-2-10 1z"/><path class=qai d="M566 2211l11-1-8-2-11 1z"/><path class=qah d="M556 2213l10-2-8-2-10 2z"/><path class=qaf d="M545 2214l11-1-8-2-11 1z"/><path class=qae d="M524 2217l11-1 10-2-8-2-10 1-11 2z"/><path class=qac d="M514 2219l10-2-8-2-10 1z"/><path class=qab d="M493 2223l10-2 11-2-8-3-11 2-10 2zM889 2114l11-4 10-4 11-5-8-3-11 4-10 5-11 4z"/><path class=qad d="M879 2118l10-4-8-3-10 5z"/><path class=qae d="M858 2127l10-4 11-5-8-2-11 4-10 5z"/><path class=qaf d="M847 2132l11-5-8-2-11 5z"/><path class=qah d="M837 2137l10-5-8-2-10 5z"/><path class=qai d="M816 2146l10-4 11-5-8-2-11 5-10 5z"/><path class=qal d="M805 2151l11-5-8-1-11 5z"/><path class=qan d="M784 2161l11-5 10-5-8-1-10 5-11 5z"/><path class=qap d="M774 2165l10-4-8-1-10 5z"/><path class=qaq d="M763 2170l11-5-8 0-11 5z"/><path class=qas d="M742 2178l11-4 10-4-8 0-10 4-11 5z"/><path class=qat d="M679 2197l11-3 10-2 11-3 10-4 11-3 10-4-8 1-10 4-11 3-10 4-11 3-10 2-11 3z"/><path class=qas d="M658 2201l11-2 10-2-8 1-10 1-11 2z"/><path class=qap d="M648 2203l10-2-8 0-10 2z"/><path class=qan d="M627 2206l10-2-8 0-10 1z"/><path class=qaj d="M606 2209l10-2-8-1-10 2z"/><path class=qai d="M585 2212l10-2 11-1-8-1-11 1-10 1z"/><path class=qaf d="M564 2215l10-2 11-1-8-2-11 1-10 2z"/><path class=qae d="M543 2218l10-1 11-2-8-2-11 1-10 2z"/><path class=qac d="M532 2220l11-2-8-2-11 1z"/><path class=qab d="M501 2226l10-2 11-2 10-2-8-3-10 2-11 2-10 2zM886 2121l11-4 10-4 11-4 10-4-7-4-11 5-10 4-11 4-10 4z"/><path class=qad d="M876 2126l10-5-7-3-11 5z"/><path class=qae d="M844 2139l11-5 10-4 11-4-8-3-10 4-11 5-10 5z"/><path class=qah d="M834 2143l10-4-7-2-11 5z"/><path class=qai d="M813 2152l10-4 11-5-8-1-10 4-11 5z"/><path class=qak d="M802 2157l11-5-8-1-10 5z"/><path class=qal d="M792 2161l10-4-7-1-11 5z"/><path class=qan d="M771 2170l10-4 11-5-8 0-10 4-11 5z"/><path class=qao d="M760 2174l11-4-8 0-10 4z"/><path class=qap d="M687 2197l10-3 11-3 10-3 11-3 10-3 11-4 10-4-7 0-11 4-10 4-11 3-10 4-11 3-10 2-11 3z"/><path class=qao d="M666 2201l10-2 11-2-8 0-10 2-11 2z"/><path class=qan d="M645 2205l10-2 11-2-8 0-10 2-11 1z"/><path class=qak d="M634 2207l11-2-8-1-10 2z"/><path class=qaj d="M624 2209l10-2-7-1-11 1z"/><path class=qai d="M603 2212l10-2 11-1-8-2-10 2-11 1z"/><path class=qaf d="M592 2214l11-2-8-2-10 2z"/><path class=qae d="M561 2219l10-2 11-1 10-2-7-2-11 1-10 2-11 2z"/><path class=qac d="M550 2221l11-2-8-2-10 1z"/><path class=qab d="M508 2230l11-2 10-3 11-2 10-2-7-3-11 2-10 2-11 2-10 2zM884 2128l10-4 11-4 10-4 11-4 10-4-8-3-10 4-11 4-10 4-11 4-10 5z"/><path class=qac d="M873 2132l11-4-8-2-11 4z"/><path class=qae d="M842 2145l10-4 11-4 10-5-8-2-10 4-11 5-10 4z"/><path class=qag d="M831 2150l11-5-8-2-11 5z"/><path class=qah d="M821 2154l10-4-8-2-10 4z"/><path class=qai d="M789 2167l11-5 10-4 11-4-8-2-11 5-10 4-11 5z"/><path class=qak d="M768 2175l11-4 10-4-8-1-10 4-11 4z"/><path class=qan d="M695 2197l10-3 11-2 10-3 11-4 10-3 11-4 10-3-8-1-10 4-11 4-10 3-11 3-10 3-11 3-10 3z"/><path class=qal d="M684 2200l11-3-8 0-11 2z"/><path class=qak d="M674 2202l10-2-8-1-10 2z"/><path class=qaj d="M663 2204l11-2-8-1-11 2z"/><path class=qai d="M632 2210l10-2 11-2 10-2-8-1-10 2-11 2-10 2z"/><path class=qag d="M621 2212l11-2-8-1-11 1z"/><path class=qaf d="M611 2214l10-2-8-2-10 2z"/><path class=qae d="M590 2218l10-2 11-2-8-2-11 2-10 2z"/><path class=qad d="M579 2220l11-2-8-2-11 1z"/><path class=qac d="M569 2222l10-2-8-3-10 2z"/><path class=qab d="M516 2233l11-2 10-2 11-3 10-2 11-2-8-3-11 2-10 2-11 2-10 3-11 2z"/><path class=qaa d="M934 2115l10-3-8-4-10 4z"/><path class=qab d="M881 2135l11-4 10-4 11-4 10-4 11-4-8-3-11 4-10 4-11 4-10 4-11 4z"/><path class=qac d="M871 2139l10-4-8-3-10 5z"/><path class=qae d="M829 2156l10-4 11-4 10-5 11-4-8-2-11 4-10 4-11 5-10 4z"/><path class=qag d="M818 2160l11-4-8-2-11 4z"/><path class=qah d="M808 2164l10-4-8-2-10 4z"/><path class=qai d="M755 2183l11-4 10-3 11-4 10-4 11-4-8-2-11 5-10 4-11 4-10 3-11 4z"/><path class=qaj d="M713 2195l11-3 10-3 11-3 10-3-8-1-10 3-11 4-10 3-11 2z"/><path class=qai d="M661 2208l10-3 11-2 10-2 11-3 10-3-8-1-10 3-11 3-10 2-11 2-10 2z"/><path class=qag d="M650 2210l11-2-8-2-11 2z"/><path class=qaf d="M640 2212l10-2-8-2-10 2z"/><path class=qae d="M608 2218l11-2 10-2 11-2-8-2-11 2-10 2-11 2z"/><path class=qad d="M598 2221l10-3-8-2-10 2z"/><path class=qac d="M587 2223l11-2-8-3-11 2z"/><path class=qab d="M535 2234l10-2 11-3 10-2 11-2 10-2-8-3-10 2-11 2-10 2-11 3-10 2z"/><path class=qaa d="M524 2237l11-3-8-3-11 2zM931 2122l11-3 10-4-8-3-10 3-11 4z"/><path class=qab d="M878 2142l11-4 11-4 10-4 11-4 10-4-8-3-10 4-11 4-10 4-11 4-10 4z"/><path class=qac d="M858 2150l10-4 10-4-7-3-11 4-10 5z"/><path class=qae d="M816 2166l10-4 10-4 11-4 11-4-8-2-11 4-10 4-11 4-10 4z"/><path class=qaf d="M805 2170l11-4-8-2-11 4z"/><path class=qag d="M784 2177l10-4 11-3-8-2-10 4-11 4z"/><path class=qah d="M774 2181l10-4-8-1-10 3z"/><path class=qai d="M710 2199l11-2 11-3 10-3 10-4 11-3 11-3-8-2-11 4-10 3-11 3-10 3-11 3-10 3z"/><path class=qag d="M690 2205l10-3 10-3-7-1-11 3-10 2z"/><path class=qaf d="M669 2209l10-2 11-2-8-2-11 2-10 3z"/><path class=qae d="M637 2216l11-2 10-2 11-3-8-1-11 2-10 2-11 2z"/><path class=qad d="M626 2219l11-3-8-2-10 2z"/><path class=qac d="M606 2223l10-2 10-2-7-3-11 2-10 3z"/><path class=qab d="M553 2235l11-2 10-3 10-2 11-3 11-2-8-2-11 2-10 2-11 2-10 2-11 3z"/><path class=qaa d="M532 2240l10-3 11-2-8-3-10 2-11 3z"/></g>
<line x1="53.20" y1="255.40" x2="95.20" y2="242.90" stroke="#5a5a5a" stroke-width="0.8"/>
<line x1="53.20" y1="255.40" x2="21.80" y2="239.20" stroke="#5a5a5a" stroke-width="0.8"/>
<line x1="21.80" y1="239.20" x2="21.80" y2="204.10" stroke="#5a5a5a" stroke-width="0.8"/>
<text x="55.70" y="263.12" font-size="5.40" text-anchor="start" fill="#333333">-20</text>
<text x="76.70" y="256.87" font-size="5.40" text-anchor="start" fill="#333333">0</text>
<text x="97.70" y="250.62" font-size="5.40" text-anchor="start" fill="#333333">20</text>
<text x="50.40" y="262.22" font-size="5.40" text-anchor="end" fill="#333333">-20</text>
<text x="34.70" y="254.12" font-size="5.40" text-anchor="end" fill="#333333">0</text>
<text x="19.00" y="246.02" font-size="5.40" text-anchor="end" fill="#333333">20</text>
<text x="19.30" y="241.12" font-size="5.40" text-anchor="end" fill="#333333">0</text>
<text x="19.30" y="225.12" font-size="5.40" text-anchor="end" fill="#333333">10</text>
<text x="19.30" y="209.13" font-size="5.40" text-anchor="end" fill="#333333">20</text>
<text x="79.60" y="266.20" font-size="6.60" text-anchor="start" fill="#333333">x<tspan font-size="4.6" dy="1.7">1</tspan></text>
<text x="25.35" y="266.20" font-size="6.60" text-anchor="start" fill="#333333">x<tspan font-size="4.6" dy="1.7">2</tspan></text>
<text transform="translate(6.70 222.60) rotate(-90)" font-size="6.4" text-anchor="middle" fill="#333333">F10( x<tspan font-size="4.7" dy="1.7">1</tspan><tspan dy="-1.7"> , x</tspan><tspan font-size="4.7" dy="1.7">2</tspan><tspan dy="-1.7"> )</tspan></text>
<text x="58.40" y="190.00" font-size="6.10" text-anchor="middle" font-weight="bold" fill="#000">Function Topology</text>
<g stroke="#e4e4e4" stroke-width="0.5"><line x1="25.40" y1="330.40" x2="25.40" y2="295.80"/><line x1="54.70" y1="346.90" x2="25.40" y2="330.40"/><line x1="45.40" y1="324.15" x2="45.40" y2="289.55"/><line x1="74.70" y1="340.65" x2="45.40" y2="324.15"/><line x1="65.40" y1="317.90" x2="65.40" y2="283.30"/><line x1="94.70" y1="334.40" x2="65.40" y2="317.90"/><line x1="94.70" y1="334.40" x2="94.70" y2="299.80"/><line x1="54.70" y1="346.90" x2="94.70" y2="334.40"/><line x1="80.05" y1="326.15" x2="80.05" y2="291.55"/><line x1="40.05" y1="338.65" x2="80.05" y2="326.15"/><line x1="65.40" y1="317.90" x2="65.40" y2="283.30"/><line x1="25.40" y1="330.40" x2="65.40" y2="317.90"/><line x1="25.40" y1="330.40" x2="65.40" y2="317.90"/><line x1="65.40" y1="317.90" x2="94.70" y2="334.40"/><line x1="25.40" y1="316.66" x2="65.40" y2="304.16"/><line x1="65.40" y1="304.16" x2="94.70" y2="320.66"/><line x1="25.40" y1="302.92" x2="65.40" y2="290.42"/><line x1="65.40" y1="290.42" x2="94.70" y2="306.92"/></g>
<g transform="scale(0.1)" fill="none" stroke-width="4.5" stroke-linecap="round"><path stroke="#046de0" d="M554 3269l1 3 49-6 27 2 20 2 15 3 1 2 26 5 0 2 7 1 4 4 6 0-1 3 7 0-1 3 8 3-1 3 6 1-1 2 6 6-2 3 5 1-1 3 4 4-3 6 2 3-5 9 0 2-14 13-12 5 5 1-65 21-1-3-50 6-46-4-15-3-1-2-26-5 0-2-7-1-4-4-6 0 1-3-7 0 1-3-8-3 1-3-6-1 1-2-6-6 2-3-5-1 1-3-4-4 3-6-2-2 5-10 0-2 14-13 12-5-5-2 65-20"/><path stroke="#0998d1" d="M520 3249l82-8 30 1 2 2 22 1 34 5 35 10 13 6 6 0 1 3 8 2 1 2 6 1 0 3 14 6-1 2 5 2 5 6 7 8-1 3 5 1-3 3 4 1 0 8 2 2-2 3 2 2-5 9 4 2-8 10 2 2-13 12-16 10 0 2-14 7-64 20-35 5-49 4-67-5-31-6-1-2-43-12-1-3-8-2-1-2-6-1 0-3-5-1-3-4-6-1 1-2-5-2-5-6-7-8 1-3-5-1 3-3-4-1 0-8-2-2 2-3-2-2 1-6 4-3-4-2 8-10-2-2 22-19 7-3 0-2 12-5 1-2 67-21"/><path stroke="#25b5a9" d="M486 3237l58-11 51-3 53 1 68 10 39 11 18 7 1 2 6 1 30 16-1 3 12 7 0 2 4 2 10 17 4 1-2 4 3 1 0 8 3 2-3 3 2 2-3 9 3 1-4 4-1 8-9 8 1 2-21 17-1 3-45 23-40 12-65 12-51 3-53-1-68-10-47-14-47-23 1-3-5-1-3-4-4-2 0-2-4-2-10-17-4-1 2-4-3-1 0-8-3-2 3-3-2-2 3-9-3-1 4-4 1-8 14-17 15-10 0-2 46-24 18-7 29-6"/><path stroke="#92bf73" d="M645 3438l-37 2-56-1-76-10M876 3304l4 15-3 16 1 2-3 4-2 8-9 11-15 15M325 3344l-4-15 3-16-1-2 3-4 2-8 9-11 15-15M556 3210l37-2 56 1 76 10"/><path stroke="#e9b94e" d="M594 3454l-39 0-42-4M913 3325l-1 9-4 7 1 2-6 10 1 2-4 4M288 3323l1-9 4-7-1-2 6-10-1-2 4-4M607 3194l39 0 42 4"/><path stroke="#f5eb18" d="M558 3466l-18-1M940 3340l-4 7M261 3308l4-7M643 3182l18 1"/></g>
<g transform="scale(0.1)" stroke-width="3.5" stroke-linejoin="round"><path class=qaa d="M653 2851l4-10-3-8-4 6z"/><path class=qaj d="M641 2873l12-22-3-12-12 25z"/><path class=qav d="M629 2893l12-20-3-9-12 24z"/><path class=qaH d="M617 2918l12-25-3-5-12 17z"/><path class=qaN d="M605 2933l12-15-3-13-12 23z"/><path class=qaQ d="M593 2953l12-20-3-5-12 17z"/><path class=qbf d="M581 2973l12-20-3-8-12 15z"/><path class=qbj d="M569 2984l12-11-3-13-12 21z"/><path class=qbs d="M557 3003l12-19-3-3-12 10z"/><path class=qbB d="M545 3015l12-12-3-12-12 15z"/><path class=qbH d="M533 3025l12-10-3-9-12 14z"/><path class=qbQ d="M521 3041l12-16-3-5-12 7z"/><path class=qbU d="M509 3046l12-5-3-14-12 14z"/><path class=qbY d="M497 3056l12-10-3-5-12 7z"/><path class=qce d="M473 3067l12-2 12-9-3-8-12 5-12 10z"/><path class=qcf d="M461 3076l12-9-3-4-12 1z"/><path class=qcj d="M449 3078l12-2-3-12-12 5z"/><path class=qce d="M425 3084l12-6 12 0-3-9-12 4-12-3z"/><path class=qca d="M413 3079l12 5-3-14-12 4z"/><path class=qbU d="M401 3080l12-1-3-5-12-3z"/><path class=qbT d="M389 3079l12 1-3-9-12-4z"/><path class=qbK d="M377 3070l12 9-3-12-12 0z"/><path class=qbC d="M365 3070l12 0-3-3-12-9z"/><path class=qbw d="M353 3061l12 9-3-12-12-5z"/><path class=qbh d="M341 3052l12 9-3-8-12-6z"/><path class=qba d="M329 3048l12 4-3-5-12-13z"/><path class=qaS d="M317 3033l12 15-3-14-12-6z"/><path class=qaO d="M305 3024l12 9-3-5-12-13z"/><path class=qaK d="M293 3013l12 11-3-9-12-14z"/><path class=qaz d="M281 2995l12 18-3-12-12-10z"/><path class=qam d="M269 2985l12 10-3-4-12-19z"/><path class=qab d="M257 2966l12 19-3-13-12-14z"/><path class=qai d="M662 2874l4-8-9-25-4 10z"/><path class=qar d="M650 2897l12-23-9-23-12 22z"/><path class=qaC d="M638 2919l12-22-9-24-12 20z"/><path class=qaL d="M626 2941l12-22-9-26-12 25z"/><path class=qaW d="M614 2959l12-18-9-23-12 15z"/><path class=qbd d="M602 2978l12-19-9-26-12 20z"/><path class=qbl d="M590 2996l12-18-9-25-12 20z"/><path class=qbt d="M578 3010l12-14-9-23-12 11z"/><path class=qbC d="M566 3026l12-16-9-26-12 19z"/><path class=qbN d="M554 3039l12-13-9-23-12 12z"/><path class=qbT d="M542 3051l12-12-9-24-12 10z"/><path class=qca d="M530 3063l12-12-9-26-12 16z"/><path class=qcg d="M518 3072l12-9-9-22-12 5z"/><path class=qcl d="M506 3081l12-9-9-26-12 10z"/><path class=qcn d="M494 3088l12-7-9-25-12 9z"/><path class=qcr d="M446 3104l12-2 12-3 12-6 12-5-9-23-12 2-12 9-12 2-12 0z"/><path class=qcn d="M434 3106l12-2-9-26-12 6z"/><path class=qcl d="M422 3105l12 1-9-22-12-5z"/><path class=qcj d="M410 3104l12 1-9-26-12 1z"/><path class=qcb d="M398 3102l12 2-9-24-12-1z"/><path class=qbV d="M386 3097l12 5-9-23-12-9z"/><path class=qbP d="M374 3093l12 4-9-27-12 0z"/><path class=qbG d="M362 3086l12 7-9-23-12-9z"/><path class=qbw d="M350 3078l12 8-9-25-12-9z"/><path class=qbo d="M338 3070l12 8-9-26-12-4z"/><path class=qbf d="M326 3059l12 11-9-22-12-15z"/><path class=qaR d="M314 3048l12 11-9-26-12-9z"/><path class=qaO d="M302 3036l12 12-9-24-12-11z"/><path class=qaH d="M290 3021l12 15-9-23-12-18z"/><path class=qav d="M278 3007l12 14-9-26-12-10z"/><path class=qah d="M266 2991l12 16-9-22-12-19z"/><path class=qav d="M671 2895l4-6-9-23-4 8z"/><path class=qaF d="M659 2920l12-25-9-21-12 23z"/><path class=qaL d="M647 2944l12-24-9-23-12 22z"/><path class=qaQ d="M635 2961l12-17-9-25-12 22z"/><path class=qbf d="M623 2985l12-24-9-20-12 18z"/><path class=qbp d="M611 3002l12-17-9-26-12 19z"/><path class=qbz d="M599 3017l12-15-9-24-12 18z"/><path class=qbK d="M587 3037l12-20-9-21-12 14z"/><path class=qbT d="M575 3047l12-10-9-27-12 16z"/><path class=qcb d="M563 3062l12-15-9-21-12 13z"/><path class=qcl d="M551 3077l12-15-9-23-12 12z"/><path class=qcr d="M539 3083l12-6-9-26-12 12z"/><path class=qcw d="M527 3097l12-14-9-20-12 9z"/><path class=qcz d="M515 3104l12-7-9-25-12 9z"/><path class=qcB d="M503 3109l12-5-9-23-12 7z"/><path class=qcG d="M455 3130l12-5 12-5 12 0 12-11-9-21-12 5-12 6-12 3-12 2z"/><path class=qcC d="M443 3126l12 4-9-26-12 2z"/><path class=qcB d="M431 3131l12-5-9-20-12-1z"/><path class=qcz d="M419 3127l12 4-9-26-12-1z"/><path class=qcs d="M407 3123l12 4-9-23-12-2z"/><path class=qcn d="M395 3123l12 0-9-21-12-5z"/><path class=qce d="M383 3114l12 9-9-26-12-4z"/><path class=qbX d="M371 3109l12 5-9-21-12-7z"/><path class=qbO d="M359 3103l12 6-9-23-12-8z"/><path class=qbC d="M347 3090l12 13-9-25-12-8z"/><path class=qbu d="M335 3085l12 5-9-20-12-11z"/><path class=qbi d="M323 3071l12 14-9-26-12-11z"/><path class=qaS d="M311 3057l12 14-9-23-12-12z"/><path class=qaO d="M299 3048l12 9-9-21-12-15z"/><path class=qaH d="M287 3028l12 20-9-27-12-14z"/><path class=qax d="M275 3014l12 14-9-21-12-16z"/><path class=qaH d="M679 2918l4-7-8-22-4 6z"/><path class=qaL d="M667 2942l12-24-8-23-12 25z"/><path class=qaQ d="M655 2966l12-24-8-22-12 24z"/><path class=qaZ d="M643 2984l12-18-8-22-12 17z"/><path class=qbp d="M631 3006l12-22-8-23-12 24z"/><path class=qbC d="M619 3024l12-18-8-21-12 17z"/><path class=qbP d="M607 3039l12-15-8-22-12 15z"/><path class=qbY d="M595 3058l12-19-8-22-12 20z"/><path class=qcl d="M583 3070l12-12-8-21-12 10z"/><path class=qcr d="M571 3084l12-14-8-23-12 15z"/><path class=qcz d="M559 3098l12-14-8-22-12 15z"/><path class=qcG d="M547 3106l12-8-8-21-12 6z"/><path class=qcH d="M535 3118l12-12-8-23-12 14z"/><path class=qcN d="M523 3126l12-8-8-21-12 7z"/><path class=qcO d="M499 3141l12-9 12-6-8-22-12 5-12 11z"/><path class=qcS d="M463 3151l12-3 12-5 12-2-8-21-12 0-12 5-12 5z"/><path class=qcO d="M451 3149l12 2-8-21-12-4z"/><path class=qcN d="M439 3152l12-3-8-23-12 5z"/><path class=qcM d="M427 3149l12 3-8-21-12-4z"/><path class=qcG d="M415 3146l12 3-8-22-12-4z"/><path class=qcB d="M403 3144l12 2-8-23-12 0z"/><path class=qcv d="M391 3137l12 7-8-21-12-9z"/><path class=qcn d="M379 3131l12 6-8-23-12-5z"/><path class=qcb d="M367 3125l12 6-8-22-12-6z"/><path class=qbQ d="M355 3114l12 11-8-22-12-13z"/><path class=qbG d="M343 3106l12 8-8-24-12-5z"/><path class=qbs d="M331 3093l12 13-8-21-12-14z"/><path class=qbi d="M319 3080l12 13-8-22-12-14z"/><path class=qaS d="M307 3069l12 11-8-23-12-9z"/><path class=qaO d="M295 3051l12 18-8-21-12-20z"/><path class=qaH d="M283 3036l12 15-8-23-12-14z"/><path class=qaN d="M688 2941l4-9-9-21-4 7z"/><path class=qaW d="M676 2963l12-22-9-23-12 24z"/><path class=qaZ d="M664 2984l12-21-9-21-12 24z"/><path class=qbr d="M652 3008l12-24-9-18-12 18z"/><path class=qbC d="M640 3024l12-16-9-24-12 22z"/><path class=qbQ d="M628 3044l12-20-9-18-12 18z"/><path class=qcb d="M616 3063l12-19-9-20-12 15z"/><path class=qcn d="M604 3075l12-12-9-24-12 19z"/><path class=qcw d="M592 3093l12-18-9-17-12 12z"/><path class=qcG d="M580 3105l12-12-9-23-12 14z"/><path class=qcM d="M568 3116l12-11-9-21-12 14z"/><path class=qcO d="M556 3131l12-15-9-18-12 8z"/><path class=qcS d="M544 3137l12-6-9-25-12 12z"/><path class=qcT d="M532 3147l12-10-9-19-12 8z"/><path class=qcX d="M520 3156l12-9-9-21-12 6z"/><path class=qda d="M508 3158l12-2-9-24-12 9z"/><path class=qcZ d="M496 3166l12-8-9-17-12 2z"/><path class=qdb d="M484 3168l12-2-9-23-12 5z"/><path class=qcZ d="M472 3169l12-1-9-20-12 3z"/><path class=qcX d="M460 3174l12-5-9-18-12-2z"/><path class=qcV d="M448 3170l12 4-9-25-12 3z"/><path class=qcT d="M436 3170l12 0-9-18-12-3z"/><path class=qcS d="M424 3169l12 1-9-21-12-3z"/><path class=qcN d="M412 3162l12 7-9-23-12-2z"/><path class=qcG d="M400 3160l12 2-9-18-12-7z"/><path class=qcz d="M388 3152l12 8-9-23-12-6z"/><path class=qcr d="M376 3143l12 9-9-21-12-6z"/><path class=qcg d="M364 3138l12 5-9-18-12-11z"/><path class=qbT d="M352 3124l12 14-9-24-12-8z"/><path class=qbH d="M340 3115l12 9-9-18-12-13z"/><path class=qbx d="M328 3103l12 12-9-22-12-13z"/><path class=qbj d="M316 3086l12 17-9-23-12-11z"/><path class=qaS d="M304 3075l12 11-9-17-12-18z"/><path class=qaN d="M292 3057l12 18-9-24-12-15z"/><path class=qaQ d="M697 2961l4-10-9-19-4 9z"/><path class=qbd d="M685 2983l12-22-9-20-12 22z"/><path class=qbo d="M673 3003l12-20-9-20-12 21z"/><path class=qbC d="M661 3028l12-25-9-19-12 24z"/><path class=qbQ d="M649 3044l12-16-9-20-12 16z"/><path class=qcd d="M637 3064l12-20-9-20-12 20z"/><path class=qcp d="M625 3083l12-19-9-20-12 19z"/><path class=qcz d="M613 3095l12-12-9-20-12 12z"/><path class=qcH d="M601 3113l12-18-9-20-12 18z"/><path class=qcO d="M589 3125l12-12-9-20-12 12z"/><path class=qcT d="M577 3136l12-11-9-20-12 11z"/><path class=qcY d="M565 3150l12-14-9-20-12 15z"/><path class=qdb d="M553 3156l12-6-9-19-12 6z"/><path class=qdf d="M469 3193l12-4 12-1 12-2 12-8 12-3 12-9-9-19-12 9-12 2-12 8-12 2-12 1-12 5z"/><path class=qde d="M457 3190l12 3-9-19-12-4z"/><path class=qdc d="M445 3190l12 0-9-20-12 0z"/><path class=qda d="M433 3189l12 1-9-20-12-1z"/><path class=qcT d="M421 3181l12 8-9-20-12-7z"/><path class=qcO d="M409 3180l12 1-9-19-12-2z"/><path class=qcM d="M397 3172l12 8-9-20-12-8z"/><path class=qcB d="M385 3163l12 9-9-20-12-9z"/><path class=qcs d="M373 3157l12 6-9-20-12-5z"/><path class=qcj d="M361 3144l12 13-9-19-12-14z"/><path class=qbU d="M349 3134l12 10-9-20-12-9z"/><path class=qbG d="M337 3123l12 11-9-19-12-12z"/><path class=qbs d="M325 3106l12 17-9-20-12-17z"/><path class=qba d="M313 3094l12 12-9-20-12-11z"/><path class=qaW d="M301 3076l12 18-9-19-12-18z"/><path class=qbd d="M706 2977l4-7-9-19-4 10z"/><path class=qbl d="M694 3001l12-24-9-16-12 22z"/><path class=qbz d="M682 3024l12-23-9-18-12 20z"/><path class=qbO d="M670 3043l12-19-9-21-12 25z"/><path class=qcb d="M658 3065l12-22-9-15-12 16z"/><path class=qcp d="M646 3082l12-17-9-21-12 20z"/><path class=qcz d="M634 3098l12-16-9-18-12 19z"/><path class=qcM d="M622 3117l12-19-9-15-12 12z"/><path class=qcS d="M610 3129l12-12-9-22-12 18z"/><path class=qcV d="M598 3143l12-14-9-16-12 12z"/><path class=qdb d="M586 3157l12-14-9-18-12 11z"/><path class=qde d="M574 3165l12-8-9-21-12 14z"/><path class=qdn d="M502 3206l12-4-9-16-12 2z"/><path class=qdl d="M478 3208l12 2 12-4-9-18-12 1-12 4z"/><path class=qdk d="M466 3211l12-3-9-15-12-3z"/><path class=qdi d="M454 3208l12 3-9-21-12 0z"/><path class=qdf d="M442 3204l12 4-9-18-12-1z"/><path class=qdc d="M430 3203l12 1-9-15-12-8z"/><path class=qcX d="M418 3195l12 8-9-22-12-1z"/><path class=qcS d="M406 3190l12 5-9-15-12-8z"/><path class=qcN d="M394 3183l12 7-9-18-12-9z"/><path class=qcC d="M382 3172l12 11-9-20-12-6z"/><path class=qcv d="M370 3165l12 7-9-15-12-13z"/><path class=qcj d="M358 3152l12 13-9-21-12-10z"/><path class=qbR d="M346 3139l12 13-9-18-12-11z"/><path class=qbD d="M334 3127l12 12-9-16-12-17z"/><path class=qbp d="M322 3110l12 17-9-21-12-12z"/><path class=qbd d="M310 3095l12 15-9-16-12-18z"/><path class=qbk d="M714 2993l4-6-8-17-4 7z"/><path class=qbs d="M702 3018l12-25-8-16-12 24z"/><path class=qbK d="M690 3042l12-24-8-17-12 23z"/><path class=qbY d="M678 3059l12-17-8-18-12 19z"/><path class=qcn d="M666 3082l12-23-8-16-12 22z"/><path class=qcB d="M654 3099l12-17-8-17-12 17z"/><path class=qcH d="M642 3114l12-15-8-17-12 16z"/><path class=qcS d="M630 3135l12-21-8-16-12 19z"/><path class=qcX d="M618 3145l12-10-8-18-12 12z"/><path class=qdc d="M606 3160l12-15-8-16-12 14z"/><path class=qdh d="M594 3175l12-15-8-17-12 14z"/><path class=qdi d="M582 3181l12-6-8-18-12 8z"/><path class=qdq d="M474 3228l12-4-8-16-12 3z"/><path class=qdn d="M462 3225l12 3-8-17-12-3z"/><path class=qdk d="M450 3221l12 4-8-17-12-4z"/><path class=qdi d="M438 3221l12 0-8-17-12-1z"/><path class=qde d="M426 3212l12 9-8-18-12-8z"/><path class=qcZ d="M414 3207l12 5-8-17-12-5z"/><path class=qcT d="M402 3201l12 6-8-17-12-7z"/><path class=qcN d="M390 3188l12 13-8-18-12-11z"/><path class=qcC d="M378 3183l12 5-8-16-12-7z"/><path class=qcs d="M366 3169l12 14-8-18-12-13z"/><path class=qcd d="M354 3155l12 14-8-17-12-13z"/><path class=qbP d="M342 3146l12 9-8-16-12-12z"/><path class=qbz d="M330 3126l12 20-8-19-12-17z"/><path class=qbk d="M318 3112l12 14-8-16-12-15z"/><path class=qbt d="M723 3011l4-8-9-16-4 6z"/><path class=qbC d="M711 3034l12-23-9-18-12 25z"/><path class=qbT d="M699 3056l12-22-9-16-12 24z"/><path class=qcl d="M687 3078l12-22-9-14-12 17z"/><path class=qcw d="M675 3096l12-18-9-19-12 23z"/><path class=qcH d="M663 3115l12-19-9-14-12 17z"/><path class=qcS d="M651 3133l12-18-9-16-12 15z"/><path class=qcY d="M639 3148l12-15-9-19-12 21z"/><path class=qdc d="M627 3163l12-15-9-13-12 10z"/><path class=qdi d="M615 3176l12-13-9-18-12 15z"/><path class=qdl d="M603 3188l12-12-9-16-12 15z"/><path class=qdo d="M591 3200l12-12-9-13-12 6z"/><path class=qdi d="M435 3230l12 4-9-13-12-9z"/><path class=qdf d="M423 3223l12 7-9-18-12-5z"/><path class=qcZ d="M411 3215l12 8-9-16-12-6z"/><path class=qcT d="M399 3207l12 8-9-14-12-13z"/><path class=qcM d="M387 3196l12 11-9-19-12-5z"/><path class=qcB d="M375 3185l12 11-9-13-12-14z"/><path class=qcp d="M363 3173l12 12-9-16-12-14z"/><path class=qbY d="M351 3158l12 15-9-18-12-9z"/><path class=qbI d="M339 3145l12 13-9-12-12-20z"/><path class=qbt d="M327 3128l12 17-9-19-12-14z"/><path class=qbB d="M732 3027l4-10-9-14-4 8z"/><path class=qbN d="M720 3049l12-22-9-16-12 23z"/><path class=qcd d="M708 3069l12-20-9-15-12 22z"/><path class=qcs d="M696 3094l12-25-9-13-12 22z"/><path class=qcC d="M684 3110l12-16-9-16-12 18z"/><path class=qcO d="M672 3130l12-20-9-14-12 19z"/><path class=qcV d="M660 3149l12-19-9-15-12 18z"/><path class=qdc d="M648 3160l12-11-9-16-12 15z"/><path class=qdi d="M636 3179l12-19-9-12-12 15z"/><path class=qdl d="M624 3191l12-12-9-16-12 13z"/><path class=qdq d="M612 3201l12-10-9-15-12 12z"/><path class=qdw d="M600 3217l12-16-9-13-12 12z"/><path class=qda d="M408 3224l12 4-9-13-12-8z"/><path class=qcS d="M396 3209l12 15-9-17-12-11z"/><path class=qcH d="M384 3200l12 9-9-13-12-11z"/><path class=qcw d="M372 3189l12 11-9-15-12-12z"/><path class=qbS d="M348 3161l12 10-9-13-12-13z"/><path class=qbC d="M336 3142l12 19-9-16-12-17z"/><path class=qbK d="M741 3039l4-8-9-14-4 10z"/><path class=qbT d="M729 3062l12-23-9-12-12 22z"/><path class=qcl d="M717 3084l12-22-9-13-12 20z"/><path class=qcz d="M705 3105l12-21-9-15-12 25z"/><path class=qcM d="M693 3125l12-20-9-11-12 16z"/><path class=qcT d="M681 3143l12-18-9-15-12 20z"/><path class=qdb d="M669 3160l12-17-9-13-12 19z"/><path class=qdf d="M657 3176l12-16-9-11-12 11z"/><path class=qdl d="M645 3191l12-15-9-16-12 19z"/><path class=qdq d="M633 3204l12-13-9-12-12 12z"/><path class=qdw d="M621 3216l12-12-9-13-12 10z"/><path class=qcp d="M369 3187l12 14-9-12-12-18z"/><path class=qbY d="M357 3172l12 15-9-16-12-10z"/><path class=qbI d="M345 3156l12 16-9-11-12-19z"/><path class=qbP d="M750 3049l4-6-9-12-4 8z"/><path class=qca d="M738 3074l12-25-9-10-12 23z"/><path class=qcr d="M726 3099l12-25-9-12-12 22z"/><path class=qcC d="M714 3115l12-16-9-15-12 21z"/><path class=qcO d="M702 3139l12-24-9-10-12 20z"/><path class=qcX d="M690 3156l12-17-9-14-12 18z"/><path class=qde d="M678 3170l12-14-9-13-12 17z"/><path class=qdi d="M666 3191l12-21-9-10-12 16z"/><path class=qdo d="M654 3201l12-10-9-15-12 15z"/><path class=qdw d="M642 3216l12-15-9-10-12 13z"/><path class=qdE d="M630 3231l12-15-9-12-12 12z"/><path class=qbP d="M354 3168l12 14-9-10-12-16z"/><path class=qbU d="M758 3061l4-7-8-11-4 6z"/><path class=qcf d="M746 3085l12-24-8-12-12 25z"/><path class=qcv d="M734 3108l12-23-8-11-12 25z"/><path class=qcH d="M722 3127l12-19-8-9-12 16z"/><path class=qcT d="M710 3149l12-22-8-12-12 24z"/><path class=qdb d="M698 3166l12-17-8-10-12 17z"/><path class=qdh d="M686 3183l12-17-8-10-12 14z"/><path class=qdl d="M674 3200l12-17-8-13-12 21z"/><path class=qdt d="M662 3213l12-13-8-9-12 10z"/><path class=qdz d="M650 3227l12-14-8-12-12 15z"/><path class=qdC d="M638 3240l12-13-8-11-12 15z"/><path class=qbU d="M362 3179l12 15-8-12-12-14z"/><path class=qbY d="M767 3073l4-10-9-9-4 7z"/><path class=qcl d="M755 3095l12-22-9-12-12 24z"/><path class=qcz d="M743 3115l12-20-9-10-12 23z"/><path class=qcN d="M731 3140l12-25-9-7-12 19z"/><path class=qcV d="M719 3156l12-16-9-13-12 22z"/><path class=qdc d="M707 3176l12-20-9-7-12 17z"/><path class=qdk d="M695 3195l12-19-9-10-12 17z"/><path class=qdo d="M683 3207l12-12-9-12-12 17z"/><path class=qdw d="M671 3225l12-18-9-7-12 13z"/><path class=qdG d="M659 3237l12-12-9-12-12 14z"/><path class=qcX d="M419 3246l12 10-9-7-12-13z"/><path class=qcC d="M395 3218l12 17-9-12-12-12z"/><path class=qcr d="M383 3207l12 11-9-7-12-17z"/><path class=qbY d="M371 3188l12 19-9-13-12-15z"/><path class=qcd d="M776 3081l4-9-9-9-4 10z"/><path class=qcn d="M764 3104l12-23-9-8-12 22z"/><path class=qcC d="M752 3124l12-20-9-9-12 20z"/><path class=qcO d="M740 3148l12-24-9-9-12 25z"/><path class=qcX d="M728 3165l12-17-9-8-12 16z"/><path class=qdf d="M716 3184l12-19-9-9-12 20z"/><path class=qdl d="M704 3203l12-19-9-8-12 19z"/><path class=qdq d="M692 3216l12-13-9-8-12 12z"/><path class=qdz d="M680 3233l12-17-9-9-12 18z"/><path class=qdC d="M668 3246l12-13-9-8-12 12z"/><path class=qcS d="M416 3243l12 12-9-9-12-11z"/><path class=qcH d="M404 3227l12 16-9-8-12-17z"/><path class=qcb d="M380 3197l12 18-9-8-12-19z"/><path class=qce d="M785 3086l4-6-9-8-4 9z"/><path class=qcr d="M773 3110l12-24-9-5-12 23z"/><path class=qcG d="M761 3134l12-24-9-6-12 20z"/><path class=qcO d="M749 3152l12-18-9-10-12 24z"/><path class=qda d="M737 3174l12-22-9-4-12 17z"/><path class=qdf d="M725 3192l12-18-9-9-12 19z"/><path class=qdl d="M713 3207l12-15-9-8-12 19z"/><path class=qdt d="M701 3227l12-20-9-4-12 13z"/><path class=qdA d="M689 3238l12-11-9-11-12 17z"/><path class=qdi d="M449 3275l12 6-9-3-12-13z"/><path class=qcT d="M425 3248l12 14-9-7-12-12z"/><path class=qcH d="M413 3237l12 11-9-5-12-16z"/><path class=qcw d="M401 3219l12 18-9-10-12-12z"/><path class=qce d="M389 3205l12 14-9-4-12-18z"/><path class=qcf d="M794 3092l4-6-9-6-4 6z"/><path class=qcr d="M782 3116l12-24-9-6-12 24z"/><path class=qcG d="M770 3141l12-25-9-6-12 24z"/><path class=qcS d="M758 3157l12-16-9-7-12 18z"/><path class=qcZ d="M746 3181l12-24-9-5-12 22z"/><path class=qdf d="M734 3198l12-17-9-7-12 18z"/><path class=qdn d="M722 3213l12-15-9-6-12 15z"/><path class=qdt d="M710 3233l12-20-9-6-12 20z"/><path class=qdF d="M698 3244l12-11-9-6-12 11z"/><path class=qdo d="M470 3287l12 13-9-7-12-12z"/><path class=qdc d="M446 3268l12 13-9-6-12-13z"/><path class=qcT d="M434 3254l12 14-9-6-12-14z"/><path class=qcH d="M422 3244l12 10-9-6-12-11z"/><path class=qcw d="M410 3225l12 19-9-7-12-18z"/><path class=qcf d="M398 3211l12 14-9-6-12-14z"/><path class=qcj d="M802 3099l4-9-8-4-4 6z"/><path class=qcr d="M790 3122l12-23-8-7-12 24z"/><path class=qcG d="M778 3143l12-21-8-6-12 25z"/><path class=qcS d="M766 3165l12-22-8-2-12 16z"/><path class=qcZ d="M754 3183l12-18-8-8-12 24z"/><path class=qdf d="M742 3202l12-19-8-2-12 17z"/><path class=qdn d="M730 3220l12-18-8-4-12 15z"/><path class=qdu d="M718 3234l12-14-8-7-12 20z"/><path class=qdF d="M706 3251l12-17-8-1-12 11z"/><path class=qdw d="M490 3302l12 8-8-4-12-6z"/><path class=qdo d="M478 3295l12 7-8-2-12-13z"/><path class=qdi d="M466 3283l12 12-8-8-12-6z"/><path class=qdc d="M454 3273l12 10-8-2-12-13z"/><path class=qcT d="M442 3261l12 12-8-5-12-14z"/><path class=qcM d="M430 3245l12 16-8-7-12-10z"/><path class=qcw d="M418 3232l12 13-8-1-12-19z"/><path class=qcg d="M406 3215l12 17-8-7-12-14z"/><path class=qce d="M811 3103l4-10-9-3-4 9z"/><path class=qcr d="M799 3125l12-22-9-4-12 23z"/><path class=qcG d="M787 3145l12-20-9-3-12 21z"/><path class=qcS d="M775 3170l12-25-9-2-12 22z"/><path class=qcZ d="M763 3186l12-16-9-5-12 18z"/><path class=qdf d="M751 3206l12-20-9-3-12 19z"/><path class=qdl d="M739 3225l12-19-9-4-12 18z"/><path class=qdt d="M727 3236l12-11-9-5-12 14z"/><path class=qdF d="M715 3255l12-19-9-2-12 17z"/><path class=qdL d="M523 3322l12 1-9-2-12-3z"/><path class=qdG d="M511 3314l12 8-9-4-12-8z"/><path class=qdw d="M499 3305l12 9-9-4-12-8z"/><path class=qdo d="M487 3300l12 5-9-3-12-7z"/><path class=qdi d="M475 3285l12 15-9-5-12-12z"/><path class=qdc d="M463 3276l12 9-9-2-12-10z"/><path class=qcT d="M451 3265l12 11-9-3-12-12z"/><path class=qcH d="M439 3247l12 18-9-4-12-16z"/><path class=qcw d="M427 3237l12 10-9-2-12-13z"/><path class=qcf d="M415 3218l12 19-9-5-12-17z"/><path class=qce d="M820 3104l4-8-9-3-4 10z"/><path class=qcp d="M808 3127l12-23-9-1-12 22z"/><path class=qcC d="M796 3149l12-22-9-2-12 20z"/><path class=qcO d="M784 3170l12-21-9-4-12 25z"/><path class=qda d="M772 3190l12-20-9 0-12 16z"/><path class=qdf d="M760 3208l12-18-9-4-12 20z"/><path class=qdl d="M748 3225l12-17-9-2-12 19z"/><path class=qds d="M736 3241l12-16-9 0-12 11z"/><path class=qdA d="M724 3256l12-15-9-5-12 19z"/><path class=qdP d="M556 3331l12 3-9-2-12-1z"/><path class=qdO d="M544 3328l12 3-9 0-12-8z"/><path class=qdF d="M520 3316l12 6-9 0-12-8z"/><path class=qdu d="M508 3309l12 7-9-2-12-9z"/><path class=qdn d="M496 3299l12 10-9-4-12-5z"/><path class=qdi d="M484 3290l12 9-9 1-12-15z"/><path class=qdb d="M472 3278l12 12-9-5-12-9z"/><path class=qcS d="M460 3266l12 12-9-2-12-11z"/><path class=qcH d="M448 3252l12 14-9-1-12-18z"/><path class=qcv d="M436 3237l12 15-9-5-12-10z"/><path class=qce d="M424 3221l12 16-9 0-12-19z"/><path class=qbY d="M829 3103l4-6-9-1-4 8z"/><path class=qcn d="M817 3128l12-25-9 1-12 23z"/><path class=qcB d="M805 3152l12-24-9-1-12 22z"/><path class=qcN d="M793 3168l12-16-9-3-12 21z"/><path class=qcV d="M781 3193l12-25-9 2-12 20z"/><path class=qde d="M769 3209l12-16-9-3-12 18z"/><path class=qdk d="M757 3224l12-15-9-1-12 17z"/><path class=qdp d="M745 3245l12-21-9 1-12 16z"/><path class=qdR d="M601 3334l12 4-9-3-12 0z"/><path class=qdQ d="M577 3335l12 4-9-3-12-2z"/><path class=qdN d="M565 3331l12 4-9-1-12-3z"/><path class=qdD d="M541 3321l12 10-9-3-12-6z"/><path class=qdz d="M529 3317l12 4-9 1-12-6z"/><path class=qds d="M517 3311l12 6-9-1-12-7z"/><path class=qdl d="M505 3298l12 13-9-2-12-10z"/><path class=qdf d="M493 3293l12 5-9 1-12-9z"/><path class=qcZ d="M481 3279l12 14-9-3-12-12z"/><path class=qcS d="M469 3265l12 14-9-1-12-12z"/><path class=qcG d="M457 3256l12 9-9 1-12-14z"/><path class=qcr d="M445 3236l12 20-9-4-12-15z"/><path class=qbY d="M433 3222l12 14-9 1-12-16z"/><path class=qbV d="M838 3104l4-7-9 0-4 6z"/><path class=qcj d="M826 3128l12-24-9-1-12 25z"/><path class=qcw d="M814 3151l12-23-9 0-12 24z"/><path class=qcH d="M802 3170l12-19-9 1-12 16z"/><path class=qcT d="M790 3191l12-21-9-2-12 25z"/><path class=qdb d="M778 3209l12-18-9 2-12 16z"/><path class=qdi d="M766 3226l12-17-9 0-12 15z"/><path class=qdn d="M754 3243l12-17-9-2-12 21z"/><path class=qdR d="M610 3336l12 0-9 2-12-4z"/><path class=qdQ d="M598 3337l12-1-9-2-12 5z"/><path class=qdP d="M586 3335l12 2-9 2-12-4z"/><path class=qdO d="M574 3332l12 3-9 0-12-4z"/><path class=qdH d="M562 3329l12 3-9-1-12 0z"/><path class=qdF d="M550 3323l12 6-9 2-12-10z"/><path class=qdw d="M538 3317l12 6-9-2-12-4z"/><path class=qdo d="M526 3310l12 7-9 0-12-6z"/><path class=qdk d="M514 3300l12 10-9 1-12-13z"/><path class=qde d="M502 3291l12 9-9-2-12-5z"/><path class=qcV d="M490 3279l12 12-9 2-12-14z"/><path class=qcN d="M478 3266l12 13-9 0-12-14z"/><path class=qcB d="M466 3253l12 13-9-1-12-9z"/><path class=qcn d="M454 3237l12 16-9 3-12-20z"/><path class=qbV d="M442 3222l12 15-9-1-12-14z"/><path class=qbS d="M846 3105l4-10-8 2-4 7z"/><path class=qcd d="M834 3127l12-22-8-1-12 24z"/><path class=qcr d="M822 3147l12-20-8 1-12 23z"/><path class=qcG d="M810 3172l12-25-8 4-12 19z"/><path class=qcS d="M798 3187l12-15-8-2-12 21z"/><path class=qda d="M786 3207l12-20-8 4-12 18z"/><path class=qdf d="M774 3227l12-20-8 2-12 17z"/><path class=qdQ d="M642 3332l12-2-8-1-12 4zM630 3332l12 0-8 1-12 3z"/><path class=qdP d="M606 3333l12 5-8-2-12 1z"/><path class=qdO d="M594 3334l12-1-8 4-12-2z"/><path class=qdG d="M570 3324l12 9-8-1-12-3z"/><path class=qdz d="M558 3324l12 0-8 5-12-6z"/><path class=qds d="M546 3315l12 9-8-1-12-6z"/><path class=qdl d="M534 3306l12 9-8 2-12-7z"/><path class=qdh d="M522 3302l12 4-8 4-12-10z"/><path class=qdb d="M510 3287l12 15-8-2-12-9z"/><path class=qcT d="M498 3278l12 9-8 4-12-12z"/><path class=qcH d="M486 3267l12 11-8 1-12-13z"/><path class=qcw d="M474 3249l12 18-8-1-12-13z"/><path class=qcj d="M462 3238l12 11-8 4-12-16z"/><path class=qbQ d="M450 3220l12 18-8-1-12-15z"/><path class=qbL d="M855 3101l4-9-9 3-4 10z"/><path class=qbV d="M843 3124l12-23-9 4-12 22z"/><path class=qcn d="M831 3145l12-21-9 3-12 20z"/><path class=qcB d="M819 3168l12-23-9 2-12 25z"/><path class=qcN d="M807 3186l12-18-9 4-12 15z"/><path class=qcV d="M795 3205l12-19-9 1-12 20z"/><path class=qdc d="M783 3223l12-18-9 2-12 20z"/><path class=qdN d="M675 3319l12-3-9 3-12 2z"/><path class=qdP d="M651 3329l12-3-9 4-12 2z"/><path class=qdO d="M627 3334l12-4-9 2-12 6z"/><path class=qdM d="M615 3331l12 3-9 4-12-5z"/><path class=qdH d="M603 3331l12 0-9 2-12 1z"/><path class=qdG d="M591 3329l12 2-9 3-12-1z"/><path class=qdz d="M579 3323l12 6-9 4-12-9z"/><path class=qdt d="M567 3320l12 3-9 1-12 0z"/><path class=qdn d="M555 3313l12 7-9 4-12-9z"/><path class=qdi d="M543 3304l12 9-9 2-12-9z"/><path class=qde d="M531 3298l12 6-9 2-12-4z"/><path class=qcX d="M519 3285l12 13-9 4-12-15z"/><path class=qcO d="M507 3275l12 10-9 2-12-9z"/><path class=qcG d="M495 3263l12 12-9 3-12-11z"/><path class=qcr d="M483 3247l12 16-9 4-12-18z"/><path class=qcb d="M471 3235l12 12-9 2-12-11z"/><path class=qbL d="M459 3217l12 18-9 3-12-18z"/><path class=qbF d="M864 3095l4-6-9 3-4 9z"/><path class=qbP d="M852 3120l12-25-9 6-12 23z"/><path class=qcf d="M840 3144l12-24-9 4-12 21z"/><path class=qcv d="M828 3161l12-17-9 1-12 23z"/><path class=qcG d="M816 3184l12-23-9 7-12 18z"/><path class=qcS d="M804 3201l12-17-9 2-12 19z"/><path class=qcY d="M792 3216l12-15-9 4-12 18z"/><path class=qdL d="M660 3325l12-5 12-1-9 0-12 7-12 3z"/><path class=qdI d="M648 3329l12-4-9 4-12 1z"/><path class=qdH d="M636 3326l12 3-9 1-12 4z"/><path class=qdC d="M624 3330l12-4-9 8-12-3z"/><path class=qdG d="M612 3327l12 3-9 1-12 0z"/><path class=qdz d="M600 3323l12 4-9 4-12-2z"/><path class=qdt d="M588 3323l12 0-9 6-12-6z"/><path class=qdo d="M576 3314l12 9-9 0-12-3z"/><path class=qdk d="M564 3309l12 5-9 6-12-7z"/><path class=qdf d="M552 3303l12 6-9 4-12-9z"/><path class=qcZ d="M540 3290l12 13-9 1-12-6z"/><path class=qcS d="M528 3284l12 6-9 8-12-13z"/><path class=qcM d="M516 3271l12 13-9 1-12-10z"/><path class=qcz d="M504 3257l12 14-9 4-12-12z"/><path class=qcl d="M492 3247l12 10-9 6-12-16z"/><path class=qbT d="M480 3228l12 19-9 0-12-12z"/><path class=qbF d="M468 3214l12 14-9 7-12-18z"/><path class=qbx d="M873 3090l4-6-9 5-4 6z"/><path class=qbG d="M861 3115l12-25-9 5-12 25z"/><path class=qbV d="M849 3138l12-23-9 5-12 24z"/><path class=qcn d="M837 3156l12-18-9 6-12 17z"/><path class=qcz d="M825 3179l12-23-9 5-12 23z"/><path class=qcH d="M813 3196l12-17-9 5-12 17z"/><path class=qdG d="M657 3324l12-4 12-5 12-1-9 5-12 1-12 5-12 4z"/><path class=qdE d="M645 3321l12 3-9 5-12-3z"/><path class=qdz d="M633 3325l12-4-9 5-12 4z"/><path class=qdw d="M621 3322l12 3-9 5-12-3z"/><path class=qds d="M609 3318l12 4-9 5-12-4z"/><path class=qdo d="M597 3317l12 1-9 5-12 0z"/><path class=qdk d="M585 3309l12 8-9 6-12-9z"/><path class=qdf d="M573 3304l12 5-9 5-12-5z"/><path class=qdb d="M561 3297l12 7-9 5-12-6z"/><path class=qcV d="M549 3285l12 12-9 6-12-13z"/><path class=qcN d="M537 3279l12 6-9 5-12-6z"/><path class=qcC d="M525 3266l12 13-9 5-12-13z"/><path class=qcr d="M513 3252l12 14-9 5-12-14z"/><path class=qca d="M501 3242l12 10-9 5-12-10z"/><path class=qbL d="M489 3223l12 19-9 5-12-19z"/><path class=qbx d="M477 3209l12 14-9 5-12-14z"/><path class=qbo d="M881 3086l4-9-8 7-4 6z"/><path class=qbw d="M869 3109l12-23-8 4-12 25z"/><path class=qbO d="M857 3129l12-20-8 6-12 23z"/><path class=qcb d="M845 3153l12-24-8 9-12 18z"/><path class=qcr d="M833 3170l12-17-8 3-12 23z"/><path class=qcC d="M821 3189l12-19-8 9-12 17z"/><path class=qdl d="M749 3275l12-13-8 9-12 7z"/><path class=qdo d="M737 3282l12-7-8 3-12 13z"/><path class=qdq d="M725 3292l12-10-8 9-12 7z"/><path class=qdt d="M713 3300l12-8-8 6-12 6z"/><path class=qdw d="M689 3311l12-7 12-4-8 4-12 10-12 1z"/><path class=qdx d="M677 3314l12-3-8 4-12 5z"/><path class=qdw d="M665 3315l12-1-8 6-12 4z"/><path class=qdu d="M653 3318l12-3-8 9-12-3z"/><path class=qds d="M641 3316l12 2-8 3-12 4z"/><path class=qdo d="M629 3315l12 1-8 9-12-3z"/><path class=qdl d="M617 3314l12 1-8 7-12-4z"/><path class=qdi d="M605 3307l12 7-8 4-12-1z"/><path class=qdf d="M593 3305l12 2-8 10-12-8z"/><path class=qdb d="M581 3297l12 8-8 4-12-5z"/><path class=qcV d="M569 3289l12 8-8 7-12-7z"/><path class=qcO d="M557 3282l12 7-8 8-12-12z"/><path class=qcG d="M545 3270l12 12-8 3-12-6z"/><path class=qcv d="M533 3260l12 10-8 9-12-13z"/><path class=qcj d="M521 3248l12 12-8 6-12-14z"/><path class=qbS d="M509 3232l12 16-8 4-12-10z"/><path class=qbC d="M497 3219l12 13-8 10-12-19z"/><path class=qbo d="M485 3202l12 17-8 4-12-14z"/><path class=qaZ d="M890 3079l4-10-9 8-4 9z"/><path class=qbo d="M878 3101l12-22-9 7-12 23z"/><path class=qbC d="M866 3121l12-20-9 8-12 20z"/><path class=qbQ d="M854 3146l12-25-9 8-12 24z"/><path class=qcf d="M842 3162l12-16-9 7-12 17z"/><path class=qcs d="M830 3182l12-20-9 8-12 19z"/><path class=qdi d="M746 3274l12-5-9 6-12 7z"/><path class=qdn d="M710 3295l12-2 12-9-9 8-12 8-12 4z"/><path class=qdo d="M698 3304l12-9-9 9-12 7z"/><path class=qdp d="M686 3306l12-2-9 7-12 3z"/><path class=qdo d="M674 3306l12 0-9 8-12 1z"/><path class=qdn d="M662 3312l12-6-9 9-12 3z"/><path class=qdl d="M650 3307l12 5-9 6-12-2z"/><path class=qdk d="M638 3308l12-1-9 9-12-1z"/><path class=qdi d="M626 3307l12 1-9 7-12-1z"/><path class=qde d="M614 3299l12 8-9 7-12-7z"/><path class=qcZ d="M602 3298l12 1-9 8-12-2z"/><path class=qcT d="M590 3290l12 8-9 7-12-8z"/><path class=qcO d="M578 3281l12 9-9 7-12-8z"/><path class=qcG d="M566 3276l12 5-9 8-12-7z"/><path class=qcw d="M554 3261l12 15-9 6-12-12z"/><path class=qcl d="M542 3252l12 9-9 9-12-10z"/><path class=qbV d="M530 3241l12 11-9 8-12-12z"/><path class=qbH d="M518 3223l12 18-9 7-12-16z"/><path class=qbs d="M506 3213l12 10-9 9-12-13z"/><path class=qaZ d="M494 3194l12 19-9 6-12-17z"/><path class=qaR d="M899 3068l4-7-9 8-4 10z"/><path class=qaZ d="M887 3092l12-24-9 11-12 22z"/><path class=qbu d="M875 3115l12-23-9 9-12 20z"/><path class=qbF d="M863 3134l12-19-9 6-12 25z"/><path class=qbT d="M851 3155l12-21-9 12-12 16z"/><path class=qcj d="M839 3173l12-18-9 7-12 20z"/><path class=qcZ d="M767 3256l12-9-9 6-12 16z"/><path class=qdc d="M755 3268l12-12-9 13-12 5z"/><path class=qdh d="M731 3282l12-7-9 9-12 9z"/><path class=qdi d="M671 3300l12 0 12-3 12-4 12-3 12-8-9 11-12 2-12 9-12 2-12 0-12 6z"/><path class=qdf d="M659 3301l12-1-9 12-12-5z"/><path class=qde d="M647 3299l12 2-9 6-12 1z"/><path class=qdb d="M635 3296l12 3-9 9-12-1z"/><path class=qcY d="M623 3293l12 3-9 11-12-8z"/><path class=qcS d="M611 3287l12 6-9 6-12-1z"/><path class=qcN d="M599 3281l12 6-9 11-12-8z"/><path class=qcG d="M587 3274l12 7-9 9-12-9z"/><path class=qcw d="M575 3264l12 10-9 7-12-5z"/><path class=qcn d="M563 3255l12 9-9 12-12-15z"/><path class=qbY d="M551 3243l12 12-9 6-12-9z"/><path class=qbK d="M539 3230l12 13-9 9-12-11z"/><path class=qbw d="M527 3218l12 12-9 11-12-18z"/><path class=qbk d="M515 3201l12 17-9 5-12-10z"/><path class=qaR d="M503 3186l12 15-9 12-12-19z"/><path class=qaO d="M908 3057l4-6-9 10-4 7z"/><path class=qaR d="M896 3082l12-25-9 11-12 24z"/><path class=qbj d="M884 3106l12-24-9 10-12 23z"/><path class=qbt d="M872 3122l12-16-9 9-12 19z"/><path class=qbH d="M860 3146l12-24-9 12-12 21z"/><path class=qcB d="M812 3209l12-10-9 8-12 13z"/><path class=qcH d="M800 3224l12-15-9 11-12 14z"/><path class=qcS d="M776 3244l12-6-9 9-12 9z"/><path class=qcV d="M764 3259l12-15-9 12-12 12z"/><path class=qcX d="M752 3265l12-6-9 9-12 7z"/><path class=qcZ d="M740 3271l12-6-9 10-12 7z"/><path class=qdc d="M692 3291l12-4 12-6 12 0 12-10-9 11-12 8-12 3-12 4-12 3z"/><path class=qdb d="M680 3288l12 3-9 9-12 0z"/><path class=qda d="M668 3292l12-4-9 12-12 1z"/><path class=qcV d="M656 3289l12 3-9 9-12-2z"/><path class=qcT d="M644 3284l12 5-9 10-12-3z"/><path class=qcO d="M632 3285l12-1-9 12-12-3z"/><path class=qcH d="M620 3275l12 10-9 8-12-6z"/><path class=qcC d="M608 3271l12 4-9 12-12-6z"/><path class=qcv d="M596 3265l12 6-9 10-12-7z"/><path class=qcl d="M584 3252l12 13-9 9-12-10z"/><path class=qbY d="M572 3246l12 6-9 12-12-9z"/><path class=qbN d="M560 3233l12 13-9 9-12-12z"/><path class=qby d="M548 3219l12 14-9 10-12-13z"/><path class=qbm d="M536 3209l12 10-9 11-12-12z"/><path class=qbb d="M524 3190l12 19-9 9-12-17z"/><path class=qaX d="M512 3176l12 14-9 11-12-15z"/><path class=qaI d="M917 3047l4-8-9 12-4 6z"/><path class=qaO d="M905 3071l12-24-9 10-12 25z"/><path class=qaS d="M893 3093l12-22-9 11-12 24z"/><path class=qbj d="M881 3113l12-20-9 13-12 16z"/><path class=qbt d="M869 3133l12-20-9 9-12 24z"/><path class=qcn d="M821 3199l12-14-9 14-12 10z"/><path class=qcC d="M797 3225l12-12-9 11-12 14z"/><path class=qcH d="M785 3236l12-11-9 13-12 6z"/><path class=qcO d="M761 3254l12-8-9 13-12 6z"/><path class=qcS d="M749 3261l12-7-9 11-12 6z"/><path class=qcT d="M701 3278l12-2 12-4 12-5 12-6-9 10-12 10-12 0-12 6-12 4z"/><path class=qcS d="M689 3279l12-1-9 13-12-3z"/><path class=qcO d="M677 3279l12 0-9 9-12 4z"/><path class=qcN d="M665 3277l12 2-9 13-12-3z"/><path class=qcM d="M653 3275l12 2-9 12-12-5z"/><path class=qcG d="M641 3271l12 4-9 9-12 1z"/><path class=qcz d="M629 3266l12 5-9 14-12-10z"/><path class=qcr d="M617 3259l12 7-9 9-12-4z"/><path class=qcj d="M605 3252l12 7-9 12-12-6z"/><path class=qbV d="M593 3243l12 9-9 13-12-13z"/><path class=qbL d="M581 3233l12 10-9 9-12-6z"/><path class=qbw d="M569 3222l12 11-9 13-12-13z"/><path class=qbm d="M557 3209l12 13-9 11-12-14z"/><path class=qbc d="M545 3195l12 14-9 10-12-10z"/><path class=qaU d="M533 3180l12 15-9 14-12-19z"/><path class=qaI d="M521 3164l12 16-9 10-12-14z"/><path class=qaB d="M925 3036l4-10-8 13-4 8z"/><path class=qaH d="M913 3058l12-22-8 11-12 24z"/><path class=qaO d="M901 3078l12-20-8 13-12 22z"/><path class=qbg d="M889 3104l12-26-8 15-12 20z"/><path class=qbP d="M841 3169l12-11-8 11-12 16z"/><path class=qbY d="M829 3188l12-19-8 16-12 14z"/><path class=qcj d="M817 3200l12-12-8 11-12 14z"/><path class=qcp d="M805 3210l12-10-8 13-12 12z"/><path class=qcw d="M793 3226l12-16-8 15-12 11z"/><path class=qcB d="M781 3231l12-5-8 10-12 10z"/><path class=qcC d="M769 3241l12-10-8 15-12 8z"/><path class=qcH d="M745 3252l12-1 12-10-8 13-12 7-12 6z"/><path class=qcM d="M721 3263l12-2 12-9-8 15-12 5-12 4z"/><path class=qcH d="M697 3269l12-6 12 0-8 13-12 2-12 1z"/><path class=qcG d="M685 3264l12 5-8 10-12 0z"/><path class=qcB d="M673 3265l12-1-8 15-12-2z"/><path class=qcz d="M661 3264l12 1-8 12-12-2z"/><path class=qcr d="M649 3256l12 8-8 11-12-4z"/><path class=qcl d="M637 3255l12 1-8 15-12-5z"/><path class=qcd d="M625 3247l12 8-8 11-12-7z"/><path class=qbS d="M613 3238l12 9-8 12-12-7z"/><path class=qbI d="M601 3233l12 5-8 14-12-9z"/><path class=qbw d="M589 3218l12 15-8 10-12-10z"/><path class=qbl d="M577 3209l12 9-8 15-12-11z"/><path class=qbd d="M565 3198l12 11-8 13-12-13z"/><path class=qaT d="M553 3180l12 18-8 11-12-14z"/><path class=qaK d="M541 3170l12 10-8 15-12-15z"/><path class=qaB d="M529 3151l12 19-8 10-12-16z"/><path class=qap d="M934 3021l4-8-9 13-4 10z"/><path class=qaH d="M910 3066l12-22-9 14-12 20z"/><path class=qaO d="M898 3088l12-22-9 12-12 26z"/><path class=qba d="M874 3125l12-19-9 13-12 20z"/><path class=qbp d="M862 3143l12-18-9 14-12 19z"/><path class=qbz d="M850 3157l12-14-9 15-12 11z"/><path class=qbQ d="M826 3186l12-13-9 15-12 12z"/><path class=qbY d="M814 3198l12-12-9 14-12 10z"/><path class=qcg d="M802 3210l12-12-9 12-12 16z"/><path class=qcl d="M790 3219l12-9-9 16-12 5z"/><path class=qcr d="M778 3228l12-9-9 12-12 10z"/><path class=qcs d="M766 3236l12-8-9 13-12 10z"/><path class=qcw d="M718 3251l12-2 12-3 12-6 12-4-9 15-12 1-12 9-12 2-12 0z"/><path class=qcv d="M706 3254l12-3-9 12-12 6z"/><path class=qcr d="M694 3252l12 2-9 15-12-5z"/><path class=qcn d="M682 3251l12 1-9 12-12 1z"/><path class=qcj d="M670 3249l12 2-9 14-12-1z"/><path class=qcb d="M658 3244l12 5-9 15-12-8z"/><path class=qbT d="M646 3240l12 4-9 12-12-1z"/><path class=qbL d="M634 3233l12 7-9 15-12-8z"/><path class=qbC d="M622 3225l12 8-9 14-12-9z"/><path class=qbs d="M610 3218l12 7-9 13-12-5z"/><path class=qbj d="M598 3206l12 12-9 15-12-15z"/><path class=qbb d="M586 3195l12 11-9 12-12-9z"/><path class=qaU d="M574 3183l12 12-9 14-12-11z"/><path class=qaK d="M562 3168l12 15-9 15-12-18z"/><path class=qaB d="M550 3155l12 13-9 12-12-10z"/><path class=qan d="M538 3138l12 17-9 15-12-19z"/><path class=qaa d="M943 3004l4-6-9 15-4 8z"/><path class=qag d="M931 3029l12-25-9 17-12 23z"/><path class=qax d="M919 3053l12-24-9 15-12 22z"/><path class=qaF d="M907 3070l12-17-9 13-12 22z"/><path class=qaN d="M895 3093l12-23-9 18-12 18z"/><path class=qaQ d="M883 3110l12-17-9 13-12 19z"/><path class=qbe d="M871 3125l12-15-9 15-12 18z"/><path class=qbl d="M859 3146l12-21-9 18-12 14z"/><path class=qbs d="M847 3156l12-10-9 11-12 16z"/><path class=qbB d="M835 3171l12-15-9 17-12 13z"/><path class=qbI d="M823 3185l12-14-9 15-12 12z"/><path class=qbP d="M811 3192l12-7-9 13-12 12z"/><path class=qbU d="M799 3206l12-14-9 18-12 9z"/><path class=qbY d="M787 3213l12-7-9 13-12 9z"/><path class=qca d="M775 3218l12-5-9 15-12 8z"/><path class=qcf d="M727 3238l12-4 12-5 12-1 12-10-9 18-12 4-12 6-12 3-12 2z"/><path class=qcd d="M715 3235l12 3-9 13-12 3z"/><path class=qca d="M703 3239l12-4-9 19-12-2z"/><path class=qbV d="M691 3236l12 3-9 13-12-1z"/><path class=qbQ d="M679 3232l12 4-9 15-12-2z"/><path class=qbL d="M667 3232l12 0-9 17-12-5z"/><path class=qbC d="M655 3223l12 9-9 12-12-4z"/><path class=qbx d="M643 3218l12 5-9 17-12-7z"/><path class=qbo d="M631 3212l12 6-9 15-12-8z"/><path class=qaZ d="M619 3199l12 13-9 13-12-7z"/><path class=qaS d="M607 3193l12 6-9 19-12-12z"/><path class=qaX d="M595 3180l12 13-9 13-12-11z"/><path class=qaI d="M583 3166l12 14-9 15-12-12z"/><path class=qaB d="M571 3156l12 10-9 17-12-15z"/><path class=qal d="M559 3137l12 19-9 12-12-13z"/><path class=qaa d="M547 3123l12 14-9 18-12-17z"/></g>
<line x1="54.70" y1="346.90" x2="94.70" y2="334.40" stroke="#5a5a5a" stroke-width="0.8"/>
<line x1="54.70" y1="346.90" x2="25.40" y2="330.40" stroke="#5a5a5a" stroke-width="0.8"/>
<line x1="25.40" y1="330.40" x2="25.40" y2="295.80" stroke="#5a5a5a" stroke-width="0.8"/>
<text x="57.20" y="354.62" font-size="5.40" text-anchor="start" fill="#333333">-500</text>
<text x="77.20" y="348.37" font-size="5.40" text-anchor="start" fill="#333333">0</text>
<text x="97.20" y="342.12" font-size="5.40" text-anchor="start" fill="#333333">500</text>
<text x="51.90" y="353.72" font-size="5.40" text-anchor="end" fill="#333333">-500</text>
<text x="37.25" y="345.47" font-size="5.40" text-anchor="end" fill="#333333">0</text>
<text x="22.60" y="337.22" font-size="5.40" text-anchor="end" fill="#333333">500</text>
<text x="22.90" y="332.32" font-size="5.40" text-anchor="end" fill="#333333">0</text>
<text x="22.90" y="318.57" font-size="5.40" text-anchor="end" fill="#333333">50</text>
<text x="22.90" y="304.83" font-size="5.40" text-anchor="end" fill="#333333">100</text>
<text x="83.35" y="358.20" font-size="6.60" text-anchor="start" fill="#333333">x<tspan font-size="4.6" dy="1.7">1</tspan></text>
<text x="23.35" y="358.20" font-size="6.60" text-anchor="start" fill="#333333">x<tspan font-size="4.6" dy="1.7">2</tspan></text>
<text transform="translate(7.20 313.90) rotate(-90)" font-size="6.4" text-anchor="middle" fill="#333333">F11( x<tspan font-size="4.7" dy="1.7">1</tspan><tspan dy="-1.7"> , x</tspan><tspan font-size="4.7" dy="1.7">2</tspan><tspan dy="-1.7"> )</tspan></text>
<text x="60.40" y="281.60" font-size="6.10" text-anchor="middle" font-weight="bold" fill="#000">Function Topology</text>
<g stroke="#e4e4e4" stroke-width="0.5"><line x1="24.20" y1="421.70" x2="24.20" y2="386.70"/><line x1="54.00" y1="437.60" x2="24.20" y2="421.70"/><line x1="45.90" y1="415.45" x2="45.90" y2="380.45"/><line x1="75.70" y1="431.35" x2="45.90" y2="415.45"/><line x1="67.60" y1="409.20" x2="67.60" y2="374.20"/><line x1="97.40" y1="425.10" x2="67.60" y2="409.20"/><line x1="97.40" y1="425.10" x2="97.40" y2="390.10"/><line x1="54.00" y1="437.60" x2="97.40" y2="425.10"/><line x1="82.50" y1="417.15" x2="82.50" y2="382.15"/><line x1="39.10" y1="429.65" x2="82.50" y2="417.15"/><line x1="67.60" y1="409.20" x2="67.60" y2="374.20"/><line x1="24.20" y1="421.70" x2="67.60" y2="409.20"/><line x1="24.20" y1="421.70" x2="67.60" y2="409.20"/><line x1="67.60" y1="409.20" x2="97.40" y2="425.10"/><line x1="24.20" y1="409.90" x2="67.60" y2="397.40"/><line x1="67.60" y1="397.40" x2="97.40" y2="413.30"/><line x1="24.20" y1="398.11" x2="67.60" y2="385.61"/><line x1="67.60" y1="385.61" x2="97.40" y2="401.51"/></g>
<g transform="scale(0.1)" fill="none" stroke-width="4.5" stroke-linecap="round"><path stroke="#3243ba" d="M712 4306l14 3 4 6-8 1-10-3-5-5 5-2M629 4332l9 2 3 5-8 0-9-4 1-3 4 0M802 4282l9 3 3 4-8 1-9-5 2-3 3 0M647 4270l29 0 7 3 1 6-5 7-9 3-24-1-15-4 0-4 3-4 13-6M571 4295l21 1 4 4-1 5-6 6-10 2-19-2-10-4 0-4 4-3 17-5M741 4246l21 1 5 4 0 5-7 6-10 1-21-1-9-4 0-4 4-3 17-5M486 4324l11 1 3 5-9 4-15-3 2-4 8-3M829 4225l12 1 3 5-11 4-11-1-4-3 2-3 9-3M399 4301l98-35 91-28 168-43 49-9 15-1-6 6-38 15-153 50-95 26-115 26M534 4208l30 2 7 3 1 3-8 7-13 4-19 1-11-3-3-6 3-7 13-4M448 4233l28 2 5 2 2 4-6 5-13 4-16 1-11-3-2-5 2-5 11-5M621 4184l24 1 7 3 1 4-6 6-14 3-15 1-10-4-2-4 3-6 12-4M367 4262l14 1 3 3-4 3-10 2-12-3 2-4 7-2M712 4163l12 1 3 3-11 5-13-2 0-5 9-2M477 4180l13 3 5 4 0 3-8 1-10-4-5-4 5-3M389 4206l11 2 5 5-12 0-4-3 0-4M563 4156l11 2 5 5-4 2-9-2-4-4 1-3"/><path stroke="#0363e1" d="M644 4346l-27-8-8-6-1-7 12-1 19 5 11 7 4 7M729 4322l-27-9-15-16-56-4-17 5-14 21-71-2-7 3-8 15-6 4-38 0M854 4187l-61 25-44 13-12 9 12 2 30 0 29-17 34-2 12 1 6 5 0 8-5 8-13 2-51 0-8 6-9 22-56-1-13 2-7 5-5 12 2 8 35 10 7 6 5 7M817 4296l-29-9-7-7 0-5 13 0 18 4 11 7 4 7M537 4353l17 4 6 5 2 4-3 3-6 0-19-6-6-8 9-2M883 4253l19 5 6 6 0 4-12 0-15-5-6-4-1-4 9-2M453 4329l6-7 10-5 50-6 7-7 2-8-6-2-18 2-49 13-30 6M594 4275l-12 2-7 5 17 1 11-6-1-2-8 0M685 4248l-12 3-8 4 6 3 10-1 12-6-1-2-7-1M341 4270l4-11 6-3 62-1 7-7 8-21 57 2 17-5 6-10 1-11-39-14-8-8-2-4 3-3 16 2 18 5 9 6 10 12 49 5 15-1 9-4 13-22 56 3 18-1 5-4 9-15 9-4 42 3 7 3 2 4-6 8-11 5-49 6-9 10 0 6 26-1 46-13 78-15M387 4294l22-9 45-14 12-8-12-3-31 0-29 17-35 3M521 4239l-8 3-4 4 13 1 15-6-5-2-11 0M610 4214l-8 2-3 5 15 0 14-6-18-1M382 4200l31 8 7 7 1 7-13 0-22-7-10-10 0-4 6-1M555 4150l31 8 7 7 2 7-13 0-23-7-10-11 0-3 6-1M299 4227l21 5 7 5 1 4-10 2-16-4-8-9 5-3M646 4128l20 5 6 3 2 5-8 3-16-4-10-8 1-3 5-1M438 4161l-1 0"/><path stroke="#0d75dc" d="M553 4372l-26-8-19-15-28-5M637 4348l-24-8-20-14-12-3-34-2-11 3-8 5-3 7 2 6 32 13 12 12M723 4323l-24-7-21-14-13-4-29-1-9 2-8 5-3 7 3 6 29 12 12 12M811 4298l-25-8-20-13-13-4-30-1-9 2-8 5-2 7 3 5 28 13 12 12M900 4272l-25-7-18-14-10-4-37-1-10 1-8 5-4 7 3 7 31 14 11 12M911 4217l-20 1-11 2-8 7-2 10 5 7 33 13 9 10M870 4196l-16 3-6 5 13 1 12-8M807 4162l-18 1-9 4 11 2 19-6M531 4134l14 9 44 13 24 15 28 5 17-1 11-3 6-6 2-8-5-6-24-8-9-6-8-9-2-5 2-3 38 9 10 5 14 12 16 4 43 1 11-3 6-7M332 4265l0-7-2-4-36-15-9-10-1-8 38 8 11 6 13 11 15 4 22 1 17-1 10-6 4-7-4-8-30-13-18-20-19-8M358 4184l14 9 45 13 18 13 9 3 33 3 12-3 7-5 3-7-3-5-30-13-18-21-19-8M445 4158l15 10 44 13 19 13 9 3 34 2 12-3 6-5 2-6-3-5-30-14-18-20-19-8M269 4209l1 5-11-2M616 4109l1 5-11-2"/><path stroke="#1389d3" d="M548 4374l-22-7-24-14-13-4M633 4349l-25-7-21-13-12-3-24-1-14 6-2 5 3 5 26 12 12 13M719 4324l-25-7-22-12-10-3-22-1-13 6-1 4 2 4 24 13 12 12M806 4299l-25-7-21-12-11-3-22-1-13 6-1 4 3 4 25 13 10 12M895 4274l-25-8-21-12-12-4-23-1-15 7-2 4 4 5 24 13 12 12M919 4222l-29 2-8 5-3 6 6 7 27 13 10 11M620 4108l15 9 43 13 20 13 12 4 34 1 11-3 6-8M274 4208l17 10 42 12 28 15 27 2 15-6 2-5-3-5-25-13-19-20-19-9M535 4133l18 9 41 13 29 15 25 2 12-3 6-4 1-5-3-5-25-12-19-20-19-9M362 4182l17 10 42 13 30 14 22 2 9-2 6-4 1-5-3-4-23-12-19-20-18-10M449 4157l18 10 41 12 30 15 21 2 16-6 2-5-3-4-24-12-19-21-18-9M323 4260l-5-6-29-14-18-19-17-8"/><path stroke="#079ccf" d="M545 4375l-15-4M630 4350l-26-7-30-13-16-1-12 4 1 7 22 12 11 13M716 4325l-29-7-27-12-12-1-11 4 1 5 20 12 10 13M803 4300l-29-7-27-12-13-1-10 4 2 6 19 11 10 13M891 4275l-26-7-30-14-17 0-9 3-2 3 2 4 21 13 11 12M933 4229l-12-3-16 0-11 2-6 6 4 6 22 12 12 13M960 4243l-22-11M623 4107l16 9 42 12 35 16 16 1 12-2 7-6-4-7M277 4207l16 9 44 13 28 13 16 1 13-4 1-4-3-4-21-12-18-20-17-9M538 4132l16 8 45 13 28 13 17 2 12-5 1-3-3-4-21-12-19-21-16-8M365 4182l18 9 43 12 27 12 15 1 10-3-1-6-20-13-16-18-18-11M452 4157l18 9 43 12 27 12 15 1 10-3 0-6-21-13-16-19-18-10M742 4127l-22-11M282 4238l-13-14-18-10"/><path stroke="#07a9c2" d="M541 4376l-3-1M626 4351l-30-7-24-9-12 1 0 4 15 10 8 14M712 4326l-55-13-2 2 8 8 8 15M799 4301l-56-13 16 25M887 4276l-30-7-24-9-11 1 0 3 14 11 8 13M969 4248l-21-5-27-12-13-1-8 3-1 3 1 3 19 12 10 13M626 4106l19 10 43 12 27 12 13 1 11-3 1-3-2-3-18-11-9-10M280 4206l20 10 45 12 22 8 14 0 0-4-14-11-14-19-19-11M541 4131l20 10 45 11 22 9 9 1 6-2-2-4-14-11-14-19-18-11M367 4181l25 11 67 16-19-30-20-12M454 4156l27 12 62 15 4-1-8-9-12-20-20-12M274 4234l-9-10-17-9"/><path stroke="#25b5a9" d="M623 4352l-35-4-4 5 3 10M709 4327l-32-2-4 4 2 8M796 4302l-32-2-4 5 2 7M884 4277l-36-4-3 4 3 10M973 4251l-54-11 14 23M629 4106l27 11 63 14-15-24M282 4205l16 8 18 6 29 5 11-1 1-7-5-11-21-14M543 4130l16 8 18 6 28 4 12 0 1-7-4-10-8-8-13-7M370 4180l16 8 18 5 25 4 11-1 2-6-4-9-20-15M457 4155l16 8 18 5 25 4 11-1 2-6-4-9-7-7-13-8M268 4231l-22-15"/><path stroke="#4dbc92" d="M619 4353l-24-1-4 3 0 6M705 4329l-21-1-4 3-1 5M792 4304l-21-1-4 3-1 5M880 4278l-24-1-4 3 0 6M969 4252l-31-2-3 3 1 9M631 4105l28 12 36 5 5-1 3-4-6-14M284 4205l33 12 21 3 10-1 3-6-3-7-19-14M545 4130l17 7 18 5 22 3 8-2 2-7-3-6-19-13M372 4180l34 12 20 2 9-2 2-5-3-7-19-13M459 4154l34 13 20 2 9-2 2-5-3-7-19-13M260 4226l-16-9"/><path stroke="#7cbf7b" d="M614 4355l-13 0-6 5M699 4330l-10 1-5 3M786 4305l-10 1-5 3M875 4279l-14 1-5 5M965 4254l-20-1-4 3-1 5M633 4104l32 12 18 3 11-2 3-3-1-6-12-12M287 4204l16 8 17 4 16 1 8-2 2-5-2-5-17-12M548 4129l32 12 16 1 9-2 2-5-2-5-17-13M375 4179l30 11 16 1 9-2 1-5-2-5-16-11M462 4154l30 11 16 1 9-2 1-5-2-5-16-11"/><path stroke="#aebe67" d="M960 4255l-10 1-4 3M636 4104l30 11 15 1 9-2 2-4-2-6-16-11M289 4203l31 11 11 1 9-3 1-4-2-4-15-11M550 4128l29 11 12 1 9-3 2-4-2-4-15-11M377 4178l28 10 11 1 9-3 0-7-14-11M464 4153l27 10 12 1 9-3 0-7-14-11"/><path stroke="#d1bb59" d="M638 4103l27 9 11 2 9-3 2-2-2-5-14-11M292 4203l22 8 19 0 3-3-2-4-12-10M553 4128l26 8 11 1 5-2 0-7-12-9M380 4177l23 8 16 0 2-3-2-4-11-9M467 4152l23 8 16 0 2-3-2-4-11-9"/><path stroke="#f1b94a" d="M641 4102l23 8 10 1 6-2 0-6-11-9M295 4202l19 6 14 0 1-5-10-8M555 4127l20 6 14 0 1-5-10-8M383 4177l18 6 12-1 0-6-8-6M469 4151l19 7 12-1 0-6-8-6"/><path stroke="#fcce2e" d="M643 4101l18 6 12 0 1-6-8-6M298 4201l22 4 2-2-6-7M559 4126l15 4 8-1 0-3-5-5M386 4175l18 4 2-3-5-5M473 4150l18 4 2-3-5-5"/><path stroke="#f5e41d" d="M647 4100l17 3 2-2-4-5M303 4199l7 1 0-3M564 4124l6 1 1-3"/></g>
<g transform="scale(0.1)" stroke-width="3.5" stroke-linejoin="round"><path class=qag d="M651 3809l11-42-8-19-11 47z"/><path class=qbb d="M640 3905l11-96-8-14-10 104z"/><path class=qcu d="M629 4000l11-95-7-6-11 104z"/><path class=qat d="M564 3848l11-42-7-18-11 46z"/><path class=qbk d="M553 3943l11-95-7-14-11 103z"/><path class=qcJ d="M542 4037l11-94-7-6-11 103z"/><path class=qax d="M477 3880l11-41-7-19-11 45z"/><path class=qbo d="M466 3973l11-93-7-15-11 103z"/><path class=qcJ d="M456 4067l10-94-7-5-11 102z"/><path class=qax d="M391 3904l10-40-7-19-11 44z"/><path class=qbm d="M380 3997l11-93-8-15-11 102z"/><path class=qcJ d="M369 4089l11-92-8-6-11 101z"/><path class=qas d="M304 3920l11-39-8-18-11 43z"/><path class=qba d="M293 4012l11-92-8-14-11 100z"/><path class=qcy d="M282 4104l11-92-8-6-10 101z"/><path class=qdl d="M271 4143l11-39-7 3-11 42z"/><path class=qdh d="M260 4107l11 36-7 6-11-39z"/><path class=qci d="M249 4017l11 90-7 3-11-98z"/><path class=qam d="M669 3791l11 29-7-22-11-31z"/><path class=qat d="M658 3830l11-39-7-24-11 42z"/><path class=qba d="M648 3918l10-88-7-21-11 96z"/><path class=qcx d="M637 4005l11-87-8-13-11 95z"/><path class=qdi d="M626 4044l11-39-8-5-11 43z"/><path class=qaz d="M582 3831l11 29-7-21-11-33z"/><path class=qaD d="M572 3869l10-38-7-25-11 42z"/><path class=qbq d="M561 3956l11-87-8-21-11 95z"/><path class=qcI d="M550 4042l11-86-8-13-11 94z"/><path class=qaG d="M485 3901l11-38-8-24-11 41z"/><path class=qbt d="M474 3986l11-85-8-21-11 93z"/><path class=qcJ d="M463 4071l11-85-8-13-10 94z"/><path class=qaG d="M398 3925l11-37-8-24-10 40z"/><path class=qbu d="M387 4009l11-84-7-21-11 93z"/><path class=qcJ d="M376 4094l11-85-7-12-11 92z"/><path class=qaz d="M322 3906l11 32-8-21-10-36z"/><path class=qaC d="M311 3942l11-36-7-25-11 39z"/><path class=qbm d="M300 4025l11-83-7-22-11 92z"/><path class=qcy d="M289 4108l11-83-7-13-11 92z"/><path class=qdk d="M279 4144l10-36-7-4-11 39z"/><path class=qdg d="M268 4111l11 33-8-1-11-36z"/><path class=qci d="M257 4030l11 81-8-4-11-90z"/><path class=qaF d="M677 3825l11 26-8-31-11-29z"/><path class=qaI d="M666 3861l11-36-8-34-11 39z"/><path class=qbt d="M655 3941l11-80-8-31-10 88z"/><path class=qcD d="M644 4020l11-79-7-23-11 87z"/><path class=qdk d="M633 4055l11-35-7-15-11 39z"/><path class=qaL d="M590 3865l11 26-8-31-11-29z"/><path class=qaM d="M579 3900l11-35-8-34-10 38z"/><path class=qbE d="M568 3979l11-79-7-31-11 87z"/><path class=qcP d="M557 4057l11-78-7-23-11 86z"/><path class=qdp d="M546 4091l11-34-7-15-11 38z"/><path class=qaM d="M503 3898l11 27-8-31-10-31z"/><path class=qaT d="M492 3932l11-34-7-35-11 38z"/><path class=qbJ d="M481 4009l11-77-7-31-11 85z"/><path class=qcP d="M471 4086l10-77-7-23-11 85z"/><path class=qaM d="M416 3923l11 28-7-31-11-32z"/><path class=qaT d="M405 3956l11-33-7-35-11 37z"/><path class=qbG d="M395 4032l10-76-7-31-11 84z"/><path class=qcP d="M384 4109l11-77-8-23-11 85z"/><path class=qaL d="M329 3940l11 29-7-31-11-32z"/><path class=qaN d="M319 3973l10-33-7-34-11 36z"/><path class=qbA d="M308 4048l11-75-8-31-11 83z"/><path class=qcI d="M297 4123l11-75-8-23-11 83z"/><path class=qdl d="M286 4155l11-32-8-15-10 36z"/><path class=qdh d="M275 4126l11 29-7-11-11-33z"/><path class=qct d="M264 4053l11 73-7-15-11-81z"/><path class=qby d="M695 3888l11 61-8-30-10-68z"/><path class=qaV d="M684 3866l11 22-7-37-11-26z"/><path class=qaS d="M673 3899l11-33-7-41-11 36z"/><path class=qbO d="M662 3971l11-72-7-38-11 80z"/><path class=qcQ d="M652 4042l10-71-7-30-11 79z"/><path class=qbe d="M597 3906l11 23-7-38-11-26z"/><path class=qba d="M586 3938l11-32-7-41-11 35z"/><path class=qbZ d="M576 4009l10-71-7-38-11 79z"/><path class=qcZ d="M565 4079l11-70-8-30-11 78z"/><path class=qbi d="M511 3938l10 24-7-37-11-27z"/><path class=qbl d="M500 3969l11-31-8-40-11 34z"/><path class=qcd d="M489 4039l11-70-8-37-11 77z"/><path class=qdd d="M478 4109l11-70-8-30-10 77z"/><path class=qbi d="M424 3963l11 25-8-37-11-28z"/><path class=qbl d="M413 3993l11-30-8-40-11 33z"/><path class=qcc d="M402 4062l11-69-8-37-10 76z"/><path class=qdb d="M391 4131l11-69-7-30-11 77z"/><path class=qbe d="M337 3981l11 26-8-38-11-29z"/><path class=qba d="M326 4010l11-29-8-41-10 33z"/><path class=qbU d="M315 4078l11-68-7-37-11 75z"/><path class=qcU d="M304 4146l11-68-7-30-11 75z"/><path class=qds d="M294 4175l10-29-7-23-11 32z"/><path class=qcI d="M272 4083l11 65-8-22-11-73z"/><path class=qbq d="M692 3905l10 19-7-36-11-22z"/><path class=qbx d="M681 3935l11-30-8-39-11 33z"/><path class=qcm d="M670 4000l11-65-8-36-11 72z"/><path class=qdd d="M659 4064l11-64-8-29-10 71z"/><path class=qbB d="M605 3945l11 20-8-36-11-23z"/><path class=qbG d="M594 3974l11-29-8-39-11 32z"/><path class=qcx d="M583 4038l11-64-8-36-10 71z"/><path class=qdj d="M572 4101l11-63-7-29-11 70z"/><path class=qbH d="M518 3978l11 21-8-37-10-24z"/><path class=qbN d="M507 4006l11-28-7-40-11 31z"/><path class=qcy d="M496 4068l11-62-7-37-11 70z"/><path class=qdm d="M485 4131l11-63-7-29-11 70z"/><path class=qbH d="M431 4003l11 21-7-36-11-25z"/><path class=qbN d="M420 4030l11-27-7-40-11 30z"/><path class=qcy d="M409 4091l11-61-7-37-11 69z"/><path class=qdm d="M399 4153l10-62-7-29-11 69z"/><path class=qbC d="M344 4020l11 23-7-36-11-26z"/><path class=qbF d="M333 4046l11-26-7-39-11 29z"/><path class=qct d="M323 4107l10-61-7-36-11 68z"/><path class=qdg d="M312 4168l11-61-8-29-11 68z"/><path class=qcW d="M279 4112l11 58-7-22-11-65z"/><path class=qbO d="M699 3936l11 16-8-28-10-19z"/><path class=qbT d="M688 3963l11-27-7-31-11 30z"/><path class=qcD d="M677 4021l11-58-7-28-11 65z"/><path class=qdm d="M666 4078l11-57-7-21-11 64z"/><path class=qca d="M612 3976l11 17-7-28-11-20z"/><path class=qcf d="M601 4002l11-26-7-31-11 29z"/><path class=qcL d="M590 4059l11-57-7-28-11 64z"/><path class=qdq d="M580 4115l10-56-7-21-11 63z"/><path class=qcj d="M525 4008l11 18-7-27-11-21z"/><path class=qcn d="M515 4033l10-25-7-30-11 28z"/><path class=qcQ d="M504 4089l11-56-8-27-11 62z"/><path class=qdv d="M493 4145l11-56-8-21-11 63z"/><path class=qcj d="M439 4033l10 19-7-28-11-21z"/><path class=qcl d="M428 4057l11-24-8-30-11 27z"/><path class=qcQ d="M417 4112l11-55-8-27-11 61z"/><path class=qdu d="M406 4167l11-55-8-21-10 62z"/><path class=qca d="M352 4051l11 20-8-28-11-23z"/><path class=qce d="M341 4074l11-23-8-31-11 26z"/><path class=qcK d="M330 4128l11-54-8-28-10 61z"/><path class=qdn d="M319 4182l11-54-7-21-11 61z"/><path class=qdJ d="M298 4184l10 21-7-11-11-24z"/><path class=qdg d="M287 4133l11 51-8-14-11-58z"/><path class=qce d="M706 3954l11 14-7-16-11-16z"/><path class=qcl d="M696 3979l10-25-7-18-11 27z"/><path class=qcL d="M685 4030l11-51-8-16-11 58z"/><path class=qdo d="M674 4081l11-51-8-9-11 57z"/><path class=qcr d="M620 3994l10 14-7-15-11-17z"/><path class=qcv d="M609 4018l11-24-8-18-11 26z"/><path class=qcU d="M598 4068l11-50-8-16-11 57z"/><path class=qdv d="M587 4118l11-50-8-9-10 56z"/><path class=qcw d="M533 4026l11 16-8-16-11-18z"/><path class=qcz d="M522 4049l11-23-8-18-10 25z"/><path class=qda d="M511 4098l11-49-7-16-11 56z"/><path class=qdy d="M500 4148l11-50-7-9-11 56z"/><path class=qcw d="M446 4051l11 17-8-16-10-19z"/><path class=qcz d="M435 4073l11-22-7-18-11 24z"/><path class=qcW d="M424 4122l11-49-7-16-11 55z"/><path class=qdy d="M414 4170l10-48-7-10-11 55z"/><path class=qcr d="M359 4069l11 17-7-15-11-20z"/><path class=qcv d="M348 4090l11-21-7-18-11 23z"/><path class=qcQ d="M338 4137l10-47-7-16-11 54z"/><path class=qdq d="M327 4185l11-48-8-9-11 54z"/><path class=qdH d="M305 4187l11 18-8 0-10-21z"/><path class=qdj d="M294 4142l11 45-7-3-11-51z"/><path class=qcp d="M703 3986l11-22-8-10-10 25z"/><path class=qcL d="M692 4031l11-45-7-7-11 51z"/><path class=qdm d="M681 4076l11-45-7-1-11 51z"/><path class=qdC d="M670 4098l11-22-7 5-11 24z"/><path class=qcw d="M627 4003l11 12-8-7-10-14z"/><path class=qcB d="M616 4024l11-21-7-9-11 24z"/><path class=qcX d="M605 4069l11-45-7-6-11 50z"/><path class=qds d="M595 4113l10-44-7-1-11 50z"/><path class=qdM d="M584 4134l11-21-8 5-11 23z"/><path class=qcG d="M529 4056l11-20-7-10-11 23z"/><path class=qcZ d="M519 4099l10-43-7-7-11 49z"/><path class=qdv d="M508 4143l11-44-8-1-11 50z"/><path class=qcG d="M443 4080l10-19-7-10-11 22z"/><path class=qcZ d="M432 4123l11-43-8-7-11 49z"/><path class=qdu d="M421 4165l11-42-8-1-10 48z"/><path class=qcz d="M356 4097l11-19-8-9-11 21z"/><path class=qcV d="M345 4138l11-41-8-7-10 47z"/><path class=qdo d="M334 4180l11-42-7-1-11 48z"/><path class=qdD d="M323 4198l11-18-7 5-11 20z"/><path class=qdB d="M312 4182l11 16-7 7-11-18z"/><path class=qdj d="M302 4143l10 39-7 5-11-45z"/><path class=qcs d="M711 3991l10-19-7-8-11 22z"/><path class=qcL d="M700 4031l11-40-8-5-11 45z"/><path class=qdj d="M689 4071l11-40-8 0-11 45z"/><path class=qdx d="M678 4090l11-19-8 5-11 22z"/><path class=qcB d="M624 4030l11-19-8-8-11 21z"/><path class=qcV d="M613 4069l11-39-8-6-11 45z"/><path class=qdo d="M602 4108l11-39-8 0-10 44z"/><path class=qdC d="M591 4126l11-18-7 5-11 21z"/><path class=qcH d="M537 4062l11-18-8-8-11 20z"/><path class=qda d="M526 4100l11-38-8-6-10 43z"/><path class=qdq d="M515 4138l11-38-7-1-11 44z"/><path class=qdJ d="M504 4155l11-17-7 5-11 20z"/><path class=qcG d="M450 4086l11-17-8-8-10 19z"/><path class=qcW d="M439 4123l11-37-7-6-11 43z"/><path class=qdp d="M428 4160l11-37-7 0-11 42z"/><path class=qdC d="M418 4176l10-16-7 5-11 19z"/><path class=qcB d="M363 4102l11-16-7-8-11 19z"/><path class=qcR d="M352 4139l11-37-7-5-11 41z"/><path class=qdl d="M342 4175l10-36-7-1-11 42z"/><path class=qdx d="M331 4190l11-15-8 5-11 18z"/><path class=qdw d="M320 4177l11 13-8 8-11-16z"/><path class=qdg d="M309 4144l11 33-8 5-10-39z"/><path class=qcv d="M729 3986l11 7-8-13-11-8z"/><path class=qcw d="M718 4004l11-18-8-14-10 19z"/><path class=qcL d="M707 4038l11-34-7-13-11 40z"/><path class=qdh d="M696 4073l11-35-7-7-11 40z"/><path class=qdt d="M685 4090l11-17-7-2-11 19z"/><path class=qcG d="M642 4026l11 8-8-13-10-10z"/><path class=qcH d="M631 4043l11-17-7-15-11 19z"/><path class=qcX d="M620 4076l11-33-7-13-11 39z"/><path class=qdn d="M609 4110l11-34-7-7-11 39z"/><path class=qdA d="M599 4126l10-16-7-2-11 18z"/><path class=qcM d="M555 4058l11 9-7-13-11-10z"/><path class=qcN d="M544 4074l11-16-7-14-11 18z"/><path class=qcZ d="M534 4107l10-33-7-12-11 38z"/><path class=qdp d="M523 4140l11-33-8-7-11 38z"/><path class=qdE d="M512 4155l11-15-8-2-11 17z"/><path class=qcM d="M468 4083l11 10-7-13-11-11z"/><path class=qcN d="M458 4098l10-15-7-14-11 17z"/><path class=qcZ d="M447 4130l11-32-8-12-11 37z"/><path class=qdn d="M436 4162l11-32-8-7-11 37z"/><path class=qdE d="M425 4176l11-14-8-2-10 16z"/><path class=qcG d="M371 4115l11-14 10 10-7-12-11-13-11 16z"/><path class=qcV d="M360 4146l11-31-8-13-11 37z"/><path class=qdk d="M349 4177l11-31-8-7-10 36z"/><path class=qdu d="M338 4190l11-13-7-2-11 15z"/><path class=qdq d="M327 4179l11 11-7 0-11-13z"/><path class=qde d="M316 4151l11 28-7-2-11-33z"/><path class=qcO d="M747 4015l11 19-7-17-11-24z"/><path class=qcG d="M736 4010l11 5-7-22-11-7z"/><path class=qcH d="M725 4026l11-16-7-24-11 18z"/><path class=qcV d="M715 4056l10-30-7-22-11 34z"/><path class=qdk d="M704 4086l11-30-8-18-11 35z"/><path class=qdu d="M682 4096l11 5 11-15-8-13-11 17-10-7z"/><path class=qcW d="M660 4056l11 20-7-18-11-24z"/><path class=qcO d="M649 4050l11 6-7-22-11-8z"/><path class=qcS d="M639 4065l10-15-7-24-11 17z"/><path class=qdc d="M628 4094l11-29-8-22-11 33z"/><path class=qdp d="M617 4123l11-29-8-18-11 34z"/><path class=qdE d="M595 4131l11 6 11-14-8-13-10 16-11-8z"/><path class=qdc d="M574 4089l10 21-7-17-11-26z"/><path class=qcT d="M552 4096l11-14 11 7-8-22-11-9-11 16z"/><path class=qdg d="M541 4124l11-28-8-22-10 33z"/><path class=qdt d="M530 4152l11-28-7-17-11 33z"/><path class=qdG d="M508 4159l11 7 11-14-7-12-11 15-11-9z"/><path class=qdc d="M487 4115l11 22-8-18-11-26z"/><path class=qcT d="M465 4120l11-13 11 8-8-22-11-10-10 15z"/><path class=qde d="M454 4147l11-27-7-22-11 32z"/><path class=qdr d="M443 4175l11-28-7-17-11 32z"/><path class=qdG d="M432 4187l11-12-7-13-11 14z"/><path class=qdE d="M422 4179l10 8-7-11-11-10z"/><path class=qcZ d="M400 4133l11 23-8-17-11-28z"/><path class=qcO d="M378 4137l11-12 11 8-8-22-10-10-11 14z"/><path class=qdb d="M367 4163l11-26-7-22-11 31z"/><path class=qdl d="M357 4189l10-26-7-17-11 31z"/><path class=qdw d="M346 4201l11-12-8-12-11 13z"/><path class=qdt d="M335 4192l11 9-8-11-11-11z"/><path class=qdh d="M324 4168l11 24-8-13-11-28z"/><path class=qdb d="M755 4044l10 14-7-24-11-19z"/><path class=qcR d="M744 4041l11 3-8-29-11-5z"/><path class=qcV d="M733 4054l11-13-8-31-11 16z"/><path class=qdg d="M722 4080l11-26-8-28-10 30z"/><path class=qdr d="M711 4106l11-26-7-24-11 30z"/><path class=qdG d="M689 4116l11 3 11-13-7-20-11 15-11-5z"/><path class=qds d="M679 4100l10 16-7-20-11-20z"/><path class=qdi d="M668 4084l11 16-8-24-11-20z"/><path class=qdb d="M657 4080l11 4-8-28-11-6z"/><path class=qdc d="M646 4093l11-13-8-30-10 15z"/><path class=qdl d="M635 4118l11-25-7-28-11 29z"/><path class=qdE d="M624 4143l11-25-7-24-11 29z"/><path class=qdK d="M614 4155l10-12-7-20-11 14z"/><path class=qdL d="M603 4151l11 4-8-18-11-6z"/><path class=qdx d="M592 4134l11 17-8-20-11-21z"/><path class=qdl d="M581 4118l11 16-8-24-10-21z"/><path class=qde d="M570 4113l11 5-7-29-11-7z"/><path class=qdf d="M559 4125l11-12-7-31-11 14z"/><path class=qdo d="M548 4149l11-24-7-29-11 28z"/><path class=qdB d="M538 4172l10-23-7-25-11 28z"/><path class=qdM d="M516 4179l11 5 11-12-8-20-11 14-11-7z"/><path class=qdy d="M505 4161l11 18-8-20-10-22z"/><path class=qdl d="M494 4144l11 17-7-24-11-22z"/><path class=qdg d="M483 4138l11 6-7-29-11-8z"/><path class=qdf d="M472 4149l11-11-7-31-11 13z"/><path class=qdn d="M462 4172l10-23-7-29-11 27z"/><path class=qdB d="M451 4195l11-23-8-25-11 28z"/><path class=qdK d="M440 4205l11-10-8-20-11 12z"/><path class=qdI d="M429 4199l11 6-8-18-10-8z"/><path class=qdx d="M418 4181l11 18-7-20-11-23z"/><path class=qdk d="M407 4162l11 19-7-25-11-23z"/><path class=qdc d="M386 4166l10-11 11 7-7-29-11-8-11 12z"/><path class=qdk d="M375 4188l11-22-8-29-11 26z"/><path class=qdu d="M364 4209l11-21-8-25-10 26z"/><path class=qdG d="M353 4219l11-10-7-20-11 12z"/><path class=qdE d="M342 4212l11 7-7-18-11-9z"/><path class=qdo d="M331 4193l11 19-7-20-11-24z"/><path class=qdl d="M762 4071l11 11-8-24-10-14z"/><path class=qdf d="M751 4070l11 1-7-27-11-3z"/><path class=qdi d="M740 4082l11-12-7-29-11 13z"/><path class=qdp d="M729 4104l11-22-7-28-11 26z"/><path class=qdC d="M719 4126l10-22-7-24-11 26z"/><path class=qdM d="M708 4137l11-11-8-20-11 13z"/><path class=qdO d="M697 4136l11 1-8-18-11-3z"/><path class=qdD d="M686 4124l11 12-8-20-10-16z"/><path class=qdu d="M675 4112l11 12-7-24-11-16z"/><path class=qdn d="M664 4110l11 2-7-28-11-4z"/><path class=qdo d="M654 4121l10-11-7-30-11 13z"/><path class=qdx d="M643 4142l11-21-8-28-11 25z"/><path class=qdM d="M632 4163l11-21-8-24-11 25z"/><path class=qdQ d="M621 4174l11-11-8-20-10 12z"/><path class=qdK d="M599 4158l11 13-7-20-11-17z"/><path class=qdx d="M588 4145l11 13-7-24-11-16z"/><path class=qdq d="M578 4142l10 3-7-27-11-5z"/><path class=qds d="M567 4152l11-10-8-29-11 12z"/><path class=qdB d="M556 4172l11-20-8-27-11 24z"/><path class=qdN d="M545 4192l11-20-8-23-10 23z"/><path class=qdR d="M534 4202l11-10-7-20-11 12z"/><path class=qdQ d="M523 4199l11 3-7-18-11-5z"/><path class=qdM d="M512 4185l11 14-7-20-11-18z"/><path class=qdE d="M502 4171l10 14-7-24-11-17z"/><path class=qdr d="M491 4167l11 4-8-27-11-6z"/><path class=qds d="M480 4176l11-9-8-29-11 11z"/><path class=qdB d="M469 4196l11-20-8-27-10 23z"/><path class=qdO d="M458 4214l11-18-7-24-11 23z"/><path class=qdQ d="M436 4219l11 5 11-10-7-19-11 10-11-6z"/><path class=qdL d="M426 4204l10 15-7-20-11-18z"/><path class=qdv d="M415 4190l11 14-8-23-11-19z"/><path class=qdn d="M393 4193l11-8 11 5-8-28-11-7-10 11z"/><path class=qdw d="M382 4211l11-18-7-27-11 22z"/><path class=qdJ d="M371 4229l11-18-7-23-11 21z"/><path class=qdO d="M361 4237l10-8-7-20-11 10z"/><path class=qdM d="M350 4232l11 5-8-18-11-7z"/><path class=qdB d="M339 4216l11 16-8-20-11-19z"/><path class=qdt d="M769 4090l11 7-7-15-11-11z"/><path class=qdo d="M759 4090l10 0-7-19-11-1z"/><path class=qdr d="M748 4101l11-11-8-20-11 12z"/><path class=qdE d="M737 4119l11-18-8-19-11 22z"/><path class=qdM d="M726 4137l11-18-8-15-10 22z"/><path class=qdQ d="M715 4148l11-11-7-11-11 11z"/><path class=qdC d="M683 4131l11 8-8-15-11-12z"/><path class=qdz d="M672 4130l11 1-8-19-11-2z"/><path class=qdE d="M661 4140l11-10-8-20-10 11z"/><path class=qdL d="M650 4157l11-17-7-19-11 21z"/><path class=qdQ d="M639 4174l11-17-7-15-11 21z"/><path class=qdR d="M628 4184l11-10-7-11-11 11z"/><path class=qdK d="M596 4164l11 9-8-15-11-13z"/><path class=qdG d="M585 4162l11 2-8-19-10-3z"/><path class=qdD d="M574 4171l11-9-7-20-11 10z"/><path class=qdO d="M563 4188l11-17-7-19-11 20z"/><path class=qdR d="M542 4213l10-9 11-16-7-16-11 20-11 10z"/><path class=qdQ d="M520 4200l11 10-8-11-11-14z"/><path class=qdM d="M509 4190l11 10-8-15-10-14z"/><path class=qdC d="M487 4195l11-8 11 3-7-19-11-4-11 9z"/><path class=qdM d="M476 4211l11-16-7-19-11 20z"/><path class=qdQ d="M466 4226l10-15-7-15-11 18z"/><path class=qdP d="M433 4220l11 11-8-12-10-15z"/><path class=qdJ d="M422 4208l11 12-7-16-11-14z"/><path class=qdA d="M401 4212l10-7 11 3-7-18-11-5-11 8z"/><path class=qdD d="M390 4227l11-15-8-19-11 18z"/><path class=qdN d="M379 4241l11-14-8-16-11 18z"/><path class=qdQ d="M357 4244l11 4-7-11-11-5z"/><path class=qdL d="M346 4232l11 12-7-12-11-16z"/><path class=qdz d="M777 4097l11 4-8-4-11-7z"/><path class=qdw d="M755 4108l11-10 11-1-8-7-10 0-11 11z"/><path class=qdG d="M744 4123l11-15-7-7-11 18z"/><path class=qdO d="M734 4138l10-15-7-4-11 18z"/><path class=qdG d="M679 4138l11-1-7-6-11-1z"/><path class=qdD d="M668 4147l11-9-7-8-11 10z"/><path class=qdO d="M658 4161l10-14-7-7-11 17z"/><path class=qdQ d="M647 4175l11-14-8-4-11 17z"/><path class=qdK d="M582 4178l10-8 11 1-7-7-11-2-11 9z"/><path class=qdP d="M571 4191l11-13-8-7-11 17z"/><path class=qdR d="M560 4205l11-14-8-3-11 16z"/><path class=qdK d="M495 4202l11-7 10 2-7-7-11-3-11 8z"/><path class=qdP d="M484 4215l11-13-8-7-11 16z"/><path class=qdR d="M473 4227l11-12-8-4-10 15z"/><path class=qdC d="M419 4213l11 2-8-7-11-3z"/><path class=qdG d="M408 4219l11-6-8-8-10 7z"/><path class=qdK d="M397 4230l11-11-7-7-11 15z"/><path class=qdP d="M386 4242l11-12-7-3-11 14z"/><path class=qdQ d="M365 4244l10 3-7 1-11-4z"/><path class=qdM d="M354 4235l11 9-8 0-11-12z"/><path class=qdw d="M763 4106l11-9-8 1-11 10z"/><path class=qdE d="M752 4118l11-12-8 2-11 15z"/><path class=qdH d="M741 4131l11-13-8 5-10 15z"/><path class=qdG d="M676 4145l11-8-8 1-11 9z"/><path class=qdL d="M665 4156l11-11-8 2-10 14z"/><path class=qdP d="M654 4168l11-12-7 5-11 14z"/><path class=qdI d="M589 4176l11-7-8 1-10 8z"/><path class=qdO d="M578 4187l11-11-7 2-11 13z"/><path class=qdI d="M502 4200l11-6-7 1-11 7z"/><path class=qdO d="M491 4210l11-10-7 2-11 13z"/><path class=qdG d="M415 4217l11-5-7 1-11 6z"/><path class=qdJ d="M405 4226l10-9-7 2-11 11z"/><path class=qdN d="M383 4239l11-4-8 7-11 5z"/><path class=qdO d="M372 4237l11 2-8 8-10-3z"/><path class=qdJ d="M361 4231l11 6-7 7-11-9z"/><path class=qdo d="M781 4095l11-3-8 3-10 2z"/><path class=qdq d="M770 4103l11-8-7 2-11 9z"/><path class=qdw d="M759 4113l11-10-7 3-11 12z"/><path class=qdE d="M748 4123l11-10-7 5-11 13z"/><path class=qdG d="M672 4151l11-9-7 3-11 11z"/><path class=qdH d="M586 4182l10-9-7 3-11 11z"/><path class=qdG d="M510 4197l11-5-8 2-11 6z"/><path class=qdJ d="M499 4205l11-8-8 3-11 10z"/><path class=qdz d="M423 4214l11-4-8 2-11 5z"/><path class=qdF d="M412 4220l11-6-8 3-10 9z"/><path class=qdG d="M380 4230l10 0-7 9-11-2z"/><path class=qdA d="M369 4225l11 5-8 7-11-6z"/><path class=qdn d="M788 4099l11-4 11-2-7-2-11 1-11 3z"/><path class=qds d="M767 4115l11-9-8-3-11 10z"/><path class=qdw d="M756 4123l11-8-8-2-11 10z"/><path class=qdA d="M734 4133l11-4 11-6-8 0-10 7-11 3z"/><path class=qdx d="M712 4136l11-1-7-2-11-1z"/><path class=qdw d="M702 4139l10-3-7-4-11 3z"/><path class=qdF d="M680 4153l11-8-8-3-11 9z"/><path class=qdG d="M669 4160l11-7-8-2-10 9z"/><path class=qdJ d="M647 4168l11-2 11-6-7 0-11 7-11 1z"/><path class=qdD d="M636 4169l11-1-7 0-11-1z"/><path class=qdG d="M626 4169l10 0-7-2-11-1z"/><path class=qdE d="M615 4172l11-3-8-3-11 1z"/><path class=qdJ d="M582 4190l11-7-7-1-11 8zM550 4196l11 0-8 0-11-2z"/><path class=qdG d="M539 4195l11 1-8-2-11-2z"/><path class=qdE d="M517 4201l11-4 11-2-8-3-10 0-11 5z"/><path class=qdG d="M506 4206l11-5-7-4-11 8z"/><path class=qdD d="M495 4212l11-6-7-1-11 7z"/><path class=qdJ d="M485 4216l10-4-7 0-11 5z"/><path class=qdG d="M463 4215l11 1-8 1-11-4z"/><path class=qdA d="M452 4214l11 1-8-2-10-3z"/><path class=qdx d="M441 4214l11 0-7-4-11 0z"/><path class=qdw d="M430 4217l11-3-7-4-11 4z"/><path class=qdz d="M420 4222l10-5-7-3-11 6z"/><path class=qdA d="M398 4229l11-2 11-5-8-2-11 7-11 3z"/><path class=qdw d="M376 4227l11 2-7 1-11-5z"/><path class=qdq d="M796 4113l11-4 11-4-8-12-11 2-11 4z"/><path class=qdt d="M785 4119l11-6-8-14-10 7z"/><path class=qdz d="M763 4133l11-6-7-12-11 8z"/><path class=qdF d="M709 4153l11-4 11-3 11-3 10-4 11-6-7-10-11 6-11 4-11 2-11 1-10 3z"/><path class=qdD d="M676 4171l11-7-7-11-11 7z"/><path class=qdH d="M666 4175l10-4-7-11-11 6z"/><path class=qdI d="M655 4179l11-4-8-9-11 2z"/><path class=qdH d="M644 4181l11-2-8-11-11 1z"/><path class=qdJ d="M633 4183l11-2-8-12-10 0z"/><path class=qdD d="M622 4185l11-2-7-14-11 3z"/><path class=qdI d="M557 4208l11-2-7-10-11 0z"/><path class=qdJ d="M546 4209l11-1-7-12-11-1z"/><path class=qdD d="M525 4214l10-4 11-1-7-14-11 2-11 4z"/><path class=qdJ d="M514 4218l11-4-8-13-11 5z"/><path class=qdH d="M503 4222l11-4-8-12-11 6z"/><path class=qdI d="M492 4225l11-3-8-10-10 4z"/><path class=qdH d="M481 4227l11-2-7-9-11 0z"/><path class=qdD d="M470 4227l11 0-7-11-11-1z"/><path class=qdG d="M459 4227l11 0-7-12-11-1z"/><path class=qdF d="M405 4239l11-2 11-3 11-3 11-3 10-1-7-13-11 0-11 3-10 5-11 5-11 2z"/><path class=qdA d="M394 4240l11-1-7-10-11 0z"/><path class=qdz d="M384 4239l10 1-7-11-11-2zM814 4128l11-4-7-19-11 4z"/><path class=qdA d="M803 4134l11-6-7-19-11 4z"/><path class=qdE d="M792 4139l11-5-7-21-11 6z"/><path class=qdH d="M760 4157l11-6-8-18-11 6z"/><path class=qdI d="M749 4161l11-4-8-18-10 4z"/><path class=qdK d="M716 4173l11-4 11-4 11-4-7-18-11 3-11 3-11 4z"/><path class=qdM d="M706 4178l10-5-7-20-11 5z"/><path class=qdN d="M630 4206l11-4 10-3-7-18-11 2-11 2z"/><path class=qdP d="M619 4210l11-4-8-21-11 5zM554 4228l11-2-8-18-11 1z"/><path class=qdN d="M489 4245l10-2 11-3 11-3 11-3 11-3 11-3-8-19-11 1-10 4-11 4-11 4-11 3-11 2z"/><path class=qdO d="M478 4246l11-1-8-18-11 0z"/><path class=qdM d="M467 4247l11-1-8-19-11 0z"/><path class=qdK d="M424 4255l10-2 11-3 11-2 11-1-8-20-10 1-11 3-11 3-11 3z"/><path class=qdH d="M413 4257l11-2-8-18-11 2z"/><path class=qdJ d="M402 4258l11-1-8-18-11 1z"/><path class=qdD d="M391 4258l11 0-8-18-10-1z"/><path class=qdK d="M811 4152l11-5-8-19-11 6z"/><path class=qdM d="M800 4158l11-6-8-18-11 5z"/><path class=qdQ d="M713 4197l11-5 11-4-8-19-11 4-10 5z"/><path class=qdR d="M626 4228l11-3-7-19-11 4zM474 4266l11-2 11-2 11-2 11-2 11-3 11-3 10-2-7-19-11 3-11 3-11 3-11 3-10 2-11 1-11 1z"/><path class=qdQ d="M420 4274l11-1 11-2 11-2 11-2 10-1-7-19-11 1-11 2-11 3-10 2-11 2z"/><path class=qdP d="M409 4275l11-1-7-17-11 1z"/><path class=qdN d="M398 4276l11-1-7-17-11 0z"/><path class=qdR d="M417 4285l11-2-8-9-11 1z"/><path class=qdQ d="M406 4286l11-1-8-10-11 1z"/><path class=qdR d="M435 4282l11-2 11-1 11-2-8 2-11 2-11 1-10 1z"/><path class=qdQ d="M413 4284l11-1 11-1-7 1-11 2-11 1z"/><path class=qdP d="M442 4273l11-2-7 9-11 2z"/><path class=qdN d="M432 4273l10 0-7 9-11 1z"/><path class=qdO d="M421 4274l11-1-8 10-11 1z"/><path class=qdD d="M439 4264l11-1-8 10-10 0z"/><path class=qdG d="M428 4263l11 1-7 9-11 1z"/><path class=qdF d="M457 4261l11-2-7 2-11 2z"/><path class=qdw d="M436 4259l11 2-8 3-11-1z"/><path class=qdG d="M530 4253l11 3-8-8-11-1z"/><path class=qdA d="M519 4250l11 3-8-6-10-1z"/><path class=qdx d="M508 4250l11 0-7-4-11 0z"/><path class=qdw d="M497 4253l11-3-7-4-11 3z"/><path class=qdz d="M487 4260l10-7-7-4-11 5z"/><path class=qdA d="M476 4267l11-7-8-6-11 5z"/><path class=qdF d="M465 4270l11-3-8-8-11 2z"/><path class=qdA d="M454 4269l11 1-8-9-10 0z"/><path class=qdw d="M443 4265l11 4-7-8-11-2z"/><path class=qdG d="M527 4261l10 5-7-13-11-3z"/><path class=qdA d="M505 4264l11-4 11 1-8-11-11 0-11 3z"/><path class=qdD d="M483 4282l11-9-7-13-11 7z"/><path class=qdH d="M472 4287l11-5-7-15-11 3z"/><path class=qdD d="M461 4285l11 2-7-17-11-1z"/><path class=qdE d="M451 4278l10 7-7-16-11-4z"/><path class=qdN d="M469 4300l11 3-8-16-11-2z"/><path class=qdH d="M458 4291l11 9-8-15-10-7z"/><path class=qdM d="M466 4295l10 12-7-7-11-9z"/><path class=qdQ d="M831 4207l11 2-8 2-10 0z"/><path class=qdR d="M744 4242l11 3-7 3-11-2zM657 4270l11 4-7 2-11-2zM571 4290l10 5-7 3-11-4z"/><path class=qdQ d="M495 4309l11-8-8 4-11 6z"/><path class=qdP d="M484 4303l11 6-8 2-11-4z"/><path class=qdI d="M473 4288l11 15-8 4-10-12z"/><path class=qdK d="M838 4195l11 4 11-14-7 12-11 12-11-2z"/><path class=qdQ d="M762 4235l11-13-7 12-11 11z"/><path class=qdP d="M752 4230l10 5-7 10-11-3z"/><path class=qdQ d="M665 4258l11 6 11-12-8 12-11 10-11-4zM589 4285l11-11-8 12-11 9z"/><path class=qdP d="M578 4279l11 6-8 10-10-5z"/><path class=qdJ d="M567 4260l11 19-7 11-11-14z"/><path class=qdM d="M502 4299l11-10-7 12-11 8z"/><path class=qdL d="M491 4292l11 7-7 10-11-6z"/><path class=qdx d="M480 4272l11 20-7 11-11-15z"/><path class=qdE d="M846 4183l11 5 11-15-8 12-11 14-11-4z"/><path class=qdq d="M835 4163l11 20-8 12-10-15z"/><path class=qdH d="M759 4218l11 7 11-15-8 12-11 13-10-5z"/><path class=qdv d="M748 4197l11 21-7 12-11-16z"/><path class=qdK d="M683 4253l11-13-7 12-11 12z"/><path class=qdL d="M672 4246l11 7-7 11-11-6z"/><path class=qdy d="M661 4224l11 22-7 12-11-17z"/><path class=qdI d="M596 4275l11-13-7 12-11 11z"/><path class=qdJ d="M586 4266l10 9-7 10-11-6z"/><path class=qdu d="M575 4244l11 22-8 13-11-19z"/><path class=qdE d="M510 4288l10-11-7 12-11 10z"/><path class=qdz d="M499 4279l11 9-8 11-11-7z"/><path class=qdn d="M488 4256l11 23-8 13-11-20z"/><path class=qcQ d="M886 4134l11-35-8 14-11 30z"/><path class=qdt d="M853 4178l11 8-7 2-11-5z"/><path class=qdk d="M842 4154l11 24-7 5-11-20z"/><path class=qdb d="M799 4172l11-34-8 14-10 29z"/><path class=qdA d="M767 4214l10 8-7 3-11-7z"/><path class=qdn d="M756 4188l11 26-8 4-11-21z"/><path class=qde d="M712 4202l11-33-7 15-11 28z"/><path class=qdE d="M680 4241l11 9-8 3-11-7z"/><path class=qdo d="M669 4215l11 26-8 5-11-22z"/><path class=qdc d="M626 4225l10-31-7 14-11 27z"/><path class=qdz d="M593 4262l11 10-8 3-10-9z"/><path class=qdl d="M582 4234l11 28-7 4-11-22z"/><path class=qda d="M539 4241l11-31-8 14-11 27z"/><path class=qds d="M506 4275l11 11-7 2-11-9z"/><path class=qdh d="M495 4246l11 29-7 4-11-23z"/><path class=qcF d="M926 4084l11 29-8-1-11-24z"/><path class=qcw d="M904 4095l11-20-7 6-11 18z"/><path class=qcL d="M893 4135l11-40-7 4-11 35z"/><path class=qdh d="M883 4174l10-39-7-1-11 34z"/><path class=qds d="M861 4184l11 10-8-8-11-8z"/><path class=qdh d="M850 4154l11 30-8-6-11-24z"/><path class=qcS d="M839 4125l11 29-8 0-10-25z"/><path class=qcG d="M817 4134l11-19-7 6-11 17z"/><path class=qcV d="M807 4172l10-38-7 4-11 34z"/><path class=qdn d="M796 4211l11-39-8 0-11 33z"/><path class=qdz d="M774 4219l11 11-8-8-10-8z"/><path class=qdl d="M763 4189l11 30-7-5-11-26z"/><path class=qcV d="M752 4158l11 31-7-1-11-26z"/><path class=qcM d="M731 4165l10-18-7 7-11 15z"/><path class=qcZ d="M720 4203l11-38-8 4-11 33z"/><path class=qdE d="M687 4247l11 11-7-8-11-9z"/><path class=qdm d="M676 4216l11 31-7-6-11-26z"/><path class=qcY d="M666 4184l10 32-7-1-11-27z"/><path class=qcM d="M644 4189l11-17-8 7-11 15z"/><path class=qda d="M633 4226l11-37-8 5-10 31z"/><path class=qdn d="M622 4263l11-37-7-1-11 32z"/><path class=qdk d="M590 4235l10 33-7-6-11-28z"/><path class=qcR d="M579 4202l11 33-8-1-11-27z"/><path class=qcG d="M557 4206l11-16-8 6-10 14z"/><path class=qcQ d="M546 4242l11-36-7 4-11 31z"/><path class=qdr d="M514 4281l10 13-7-8-11-11z"/><path class=qde d="M503 4247l11 34-8-6-11-29z"/><path class=qcF d="M933 4086l11 34-7-7-11-29z"/><path class=qcr d="M912 4097l10-22-7 0-11 20z"/><path class=qcL d="M901 4142l11-45-8-2-11 40z"/><path class=qdk d="M890 4187l11-45-8-7-10 39z"/><path class=qdi d="M857 4162l11 35-7-13-11-30z"/><path class=qcO d="M847 4127l10 35-7-8-11-29z"/><path class=qcB d="M825 4136l11-21-8 0-11 19z"/><path class=qcV d="M814 4180l11-44-8-2-10 38z"/><path class=qdp d="M803 4225l11-45-7-8-11 39z"/><path class=qdn d="M771 4196l10 37-7-14-11-30z"/><path class=qcQ d="M760 4160l11 36-8-7-11-31z"/><path class=qcG d="M738 4167l11-20-8 0-10 18z"/><path class=qda d="M727 4211l11-44-7-2-11 38z"/><path class=qds d="M716 4254l11-43-7-8-11 38z"/><path class=qdn d="M684 4223l11 37-8-13-11-31z"/><path class=qcV d="M673 4186l11 37-8-7-10-32z"/><path class=qcG d="M651 4191l11-19-7 0-11 17z"/><path class=qda d="M640 4234l11-43-7-2-11 37z"/><path class=qdq d="M630 4276l10-42-7-8-11 37z"/><path class=qdm d="M597 4243l11 38-8-13-10-33z"/><path class=qcR d="M586 4204l11 39-7-8-11-33z"/><path class=qcB d="M564 4208l11-18-7 0-11 16z"/><path class=qcR d="M554 4250l10-42-7-2-11 36z"/><path class=qdl d="M543 4291l11-41-8-8-11 36z"/><path class=qdg d="M510 4255l11 39-7-13-11-34z"/><path class=qcE d="M941 4087l11 40-8-7-11-34z"/><path class=qcl d="M930 4073l11 14-8-1-11-11z"/><path class=qcp d="M919 4098l11-25-8 2-10 22z"/><path class=qcL d="M908 4149l11-51-7-1-11 45z"/><path class=qdn d="M897 4200l11-51-7-7-11 45z"/><path class=qdm d="M865 4169l11 41-8-13-11-35z"/><path class=qcL d="M854 4128l11 41-8-7-10-35z"/><path class=qcw d="M843 4113l11 15-7-1-11-12z"/><path class=qcz d="M832 4137l11-24-7 2-11 21z"/><path class=qcX d="M821 4187l11-50-7-1-11 44z"/><path class=qdu d="M811 4237l10-50-7-7-11 45z"/><path class=qdq d="M778 4203l11 43-8-13-10-37z"/><path class=qcV d="M767 4161l11 42-7-7-11-36z"/><path class=qcB d="M756 4146l11 15-7-1-11-13z"/><path class=qcG d="M746 4168l10-22-7 1-11 20z"/><path class=qcZ d="M735 4218l11-50-8-1-11 44z"/><path class=qdy d="M724 4267l11-49-8-7-11 43z"/><path class=qdq d="M691 4230l11 43-7-13-11-37z"/><path class=qcU d="M680 4187l11 43-7-7-11-37z"/><path class=qcB d="M670 4171l10 16-7-1-11-14z"/><path class=qcG d="M659 4192l11-21-8 1-11 19z"/><path class=qcZ d="M648 4241l11-49-8-1-11 43z"/><path class=qdv d="M637 4289l11-48-8-7-10 42z"/><path class=qdp d="M604 4250l11 44-7-13-11-38z"/><path class=qcR d="M594 4206l10 44-7-7-11-39z"/><path class=qcw d="M583 4188l11 18-8-2-11-14z"/><path class=qcz d="M572 4209l11-21-8 2-11 18z"/><path class=qcV d="M561 4257l11-48-8-1-10 42z"/><path class=qdp d="M550 4304l11-47-7-7-11 41z"/><path class=qdj d="M518 4262l10 45-7-13-11-39z"/><path class=qcA d="M948 4079l11 47-7 1-11-40z"/><path class=qca d="M937 4063l11 16-7 8-11-14z"/><path class=qcg d="M927 4090l10-27-7 10-11 25z"/><path class=qcK d="M916 4148l11-58-8 8-11 51z"/><path class=qdo d="M905 4205l11-57-8 1-11 51z"/><path class=qdL d="M883 4215l11 17-7-7-11-15z"/><path class=qdm d="M872 4168l11 47-7-5-11-41z"/><path class=qcK d="M861 4120l11 48-7 1-11-41z"/><path class=qcp d="M851 4103l10 17-7 8-11-15z"/><path class=qcs d="M840 4129l11-26-8 10-11 24z"/><path class=qcU d="M829 4186l11-57-8 8-11 50z"/><path class=qdv d="M818 4242l11-56-8 1-10 50z"/><path class=qdP d="M796 4251l11 17-7-7-11-15z"/><path class=qdq d="M786 4202l10 49-7-5-11-43z"/><path class=qcR d="M775 4153l11 49-8 1-11-42z"/><path class=qcv d="M764 4135l11 18-8 8-11-15z"/><path class=qcz d="M753 4161l11-26-8 11-10 22z"/><path class=qcX d="M742 4216l11-55-7 7-11 50z"/><path class=qdy d="M731 4272l11-56-7 2-11 49z"/><path class=qdP d="M710 4278l10 19-7-8-11-16z"/><path class=qds d="M699 4229l11 49-8-5-11-43z"/><path class=qcQ d="M688 4179l11 50-8 1-11-43z"/><path class=qcv d="M677 4160l11 19-8 8-10-16z"/><path class=qcw d="M666 4185l11-25-7 11-11 21z"/><path class=qcX d="M655 4240l11-55-7 7-11 49z"/><path class=qdv d="M644 4294l11-54-7 1-11 48z"/><path class=qdN d="M623 4299l11 19-8-7-11-17z"/><path class=qdp d="M612 4248l11 51-8-5-11-44z"/><path class=qcL d="M601 4198l11 50-8 2-10-44z"/><path class=qcp d="M590 4178l11 20-7 8-11-18z"/><path class=qcr d="M579 4201l11-23-7 10-11 21z"/><path class=qcQ d="M568 4255l11-54-7 8-11 48z"/><path class=qdq d="M558 4309l10-54-7 2-11 47z"/><path class=qdH d="M536 4312l11 20-8-7-11-18z"/><path class=qdj d="M525 4260l11 52-8-5-10-45z"/><path class=qco d="M956 4060l11 53-8 13-11-47z"/><path class=qbI d="M945 4041l11 19-8 19-11-16z"/><path class=qbP d="M934 4070l11-29-8 22-10 27z"/><path class=qcy d="M923 4135l11-65-7 20-11 58z"/><path class=qdj d="M912 4199l11-64-7 13-11 57z"/><path class=qdI d="M901 4229l11-30-7 6-11 27z"/><path class=qdJ d="M891 4209l10 20-7 3-11-17z"/><path class=qdj d="M880 4155l11 54-8 6-11-47z"/><path class=qcy d="M869 4100l11 55-8 13-11-48z"/><path class=qbV d="M858 4080l11 20-8 20-10-17z"/><path class=qca d="M847 4109l11-29-7 23-11 26z"/><path class=qcK d="M836 4173l11-64-7 20-11 57z"/><path class=qdq d="M826 4236l10-63-7 13-11 56z"/><path class=qdN d="M815 4265l11-29-8 6-11 26z"/><path class=qdO d="M804 4244l11 21-8 3-11-17z"/><path class=qdm d="M793 4189l11 55-8 7-10-49z"/><path class=qcE d="M782 4134l11 55-7 13-11-49z"/><path class=qcd d="M771 4113l11 21-7 19-11-18z"/><path class=qcL d="M750 4203l10-62-7 20-11 55z"/><path class=qdu d="M739 4266l11-63-8 13-11 56z"/><path class=qdQ d="M728 4294l11-28-8 6-11 25z"/><path class=qdN d="M717 4272l11 22-8 3-10-19z"/><path class=qdn d="M706 4216l11 56-7 6-11-49z"/><path class=qcI d="M695 4160l11 56-7 13-11-50z"/><path class=qcd d="M684 4138l11 22-7 19-11-19z"/><path class=qcg d="M674 4165l10-27-7 22-11 25z"/><path class=qcL d="M663 4227l11-62-8 20-11 55z"/><path class=qdq d="M652 4288l11-61-8 13-11 54z"/><path class=qdP d="M641 4315l11-27-8 6-10 24z"/><path class=qdM d="M630 4293l11 22-7 3-11-19z"/><path class=qdm d="M619 4235l11 58-7 6-11-51z"/><path class=qcA d="M608 4178l11 57-7 13-11-50z"/><path class=qbX d="M598 4155l10 23-7 20-11-20z"/><path class=qca d="M587 4182l11-27-8 23-11 23z"/><path class=qcI d="M576 4242l11-60-8 19-11 54z"/><path class=qdm d="M565 4303l11-61-8 13-10 54z"/><path class=qdL d="M554 4329l11-26-7 6-11 23z"/><path class=qdJ d="M543 4305l11 24-7 3-11-20z"/><path class=qdg d="M533 4247l10 58-7 7-11-52z"/><path class=qbR d="M963 4031l11 61-7 21-11-53z"/><path class=qbl d="M952 4009l11 22-7 29-11-19z"/><path class=qbr d="M941 4042l11-33-7 32-11 29z"/><path class=qch d="M931 4114l10-72-7 28-11 65z"/><path class=qdd d="M920 4185l11-71-8 21-11 64z"/><path class=qdE d="M909 4218l11-33-8 14-11 30z"/><path class=qdy d="M898 4195l11 23-8 11-10-20z"/><path class=qda d="M887 4134l11 61-7 14-11-54z"/><path class=qcd d="M876 4072l11 62-7 21-11-55z"/><path class=qbw d="M866 4049l10 23-7 28-11-20z"/><path class=qbB d="M855 4081l11-32-8 31-11 29z"/><path class=qct d="M844 4152l11-71-8 28-11 64z"/><path class=qdj d="M833 4222l11-70-8 21-10 63z"/><path class=qdH d="M822 4254l11-32-7 14-11 29z"/><path class=qdD d="M811 4230l11 24-7 11-11-21z"/><path class=qdd d="M800 4168l11 62-7 14-11-55z"/><path class=qcm d="M790 4105l10 63-7 21-11-55z"/><path class=qbC d="M779 4081l11 24-8 29-11-21z"/><path class=qbG d="M768 4112l11-31-8 32-11 28z"/><path class=qcx d="M757 4182l11-70-8 29-10 62z"/><path class=qdj d="M746 4252l11-70-7 21-11 63z"/><path class=qdL d="M735 4282l11-30-7 14-11 28z"/><path class=qdH d="M724 4258l11 24-7 12-11-22z"/><path class=qdd d="M714 4195l10 63-7 14-11-56z"/><path class=qco d="M703 4131l11 64-8 21-11-56z"/><path class=qbC d="M692 4106l11 25-8 29-11-22z"/><path class=qbG d="M681 4136l11-30-8 32-10 27z"/><path class=qct d="M670 4205l11-69-7 29-11 62z"/><path class=qdj d="M659 4274l11-69-7 22-11 61z"/><path class=qdH d="M648 4304l11-30-7 14-11 27z"/><path class=qdD d="M638 4278l10 26-7 11-11-22z"/><path class=qdb d="M627 4214l11 64-8 15-11-58z"/><path class=qcg d="M616 4150l11 64-8 21-11-57z"/><path class=qbw d="M605 4124l11 26-8 28-10-23z"/><path class=qbB d="M594 4153l11-29-7 31-11 27z"/><path class=qco d="M583 4221l11-68-7 29-11 60z"/><path class=qdg d="M573 4289l10-68-7 21-11 61z"/><path class=qdE d="M562 4318l11-29-8 14-11 26z"/><path class=qdv d="M551 4291l11 27-8 11-11-24z"/><path class=qcU d="M540 4226l11 65-8 14-10-58z"/></g>
<line x1="54.00" y1="437.60" x2="97.40" y2="425.10" stroke="#5a5a5a" stroke-width="0.8"/>
<line x1="54.00" y1="437.60" x2="24.20" y2="421.70" stroke="#5a5a5a" stroke-width="0.8"/>
<line x1="24.20" y1="421.70" x2="24.20" y2="386.70" stroke="#5a5a5a" stroke-width="0.8"/>
<text x="56.50" y="445.32" font-size="5.40" text-anchor="start" fill="#333333">-10</text>
<text x="78.20" y="439.07" font-size="5.40" text-anchor="start" fill="#333333">0</text>
<text x="99.90" y="432.82" font-size="5.40" text-anchor="start" fill="#333333">10</text>
<text x="51.20" y="444.42" font-size="5.40" text-anchor="end" fill="#333333">-10</text>
<text x="36.30" y="436.47" font-size="5.40" text-anchor="end" fill="#333333">0</text>
<text x="21.40" y="428.52" font-size="5.40" text-anchor="end" fill="#333333">10</text>
<text x="21.70" y="423.62" font-size="5.40" text-anchor="end" fill="#333333">0</text>
<text x="21.70" y="411.82" font-size="5.40" text-anchor="end" fill="#333333">50</text>
<text x="21.70" y="400.02" font-size="5.40" text-anchor="end" fill="#333333">100</text>
<text x="80.85" y="449.70" font-size="6.60" text-anchor="start" fill="#333333">x<tspan font-size="4.6" dy="1.7">1</tspan></text>
<text x="25.85" y="449.70" font-size="6.60" text-anchor="start" fill="#333333">x<tspan font-size="4.6" dy="1.7">2</tspan></text>
<text transform="translate(6.70 405.20) rotate(-90)" font-size="6.4" text-anchor="middle" fill="#333333">F12( x<tspan font-size="4.7" dy="1.7">1</tspan><tspan dy="-1.7"> , x</tspan><tspan font-size="4.7" dy="1.7">2</tspan><tspan dy="-1.7"> )</tspan></text>
<text x="60.40" y="373.00" font-size="6.10" text-anchor="middle" font-weight="bold" fill="#000">Function Topology</text>
<g stroke="#e4e4e4" stroke-width="0.5"><line x1="23.60" y1="512.90" x2="23.60" y2="478.50"/><line x1="55.40" y1="529.40" x2="23.60" y2="512.90"/><line x1="44.95" y1="506.30" x2="44.95" y2="471.90"/><line x1="76.75" y1="522.80" x2="44.95" y2="506.30"/><line x1="66.30" y1="499.70" x2="66.30" y2="465.30"/><line x1="98.10" y1="516.20" x2="66.30" y2="499.70"/><line x1="98.10" y1="516.20" x2="98.10" y2="481.80"/><line x1="55.40" y1="529.40" x2="98.10" y2="516.20"/><line x1="82.20" y1="507.95" x2="82.20" y2="473.55"/><line x1="39.50" y1="521.15" x2="82.20" y2="507.95"/><line x1="66.30" y1="499.70" x2="66.30" y2="465.30"/><line x1="23.60" y1="512.90" x2="66.30" y2="499.70"/><line x1="23.60" y1="512.90" x2="66.30" y2="499.70"/><line x1="66.30" y1="499.70" x2="98.10" y2="516.20"/><line x1="23.60" y1="499.70" x2="66.30" y2="486.50"/><line x1="66.30" y1="486.50" x2="98.10" y2="503.00"/><line x1="23.60" y1="486.49" x2="66.30" y2="473.29"/><line x1="66.30" y1="473.29" x2="98.10" y2="489.79"/></g>
<g transform="scale(0.1)" fill="none" stroke-width="4.5" stroke-linecap="round"><path stroke="#127dd8" d="M908 5124l-96-41 58 35-6 0 0 4 5 5-39-15 51 32-3 2-51-22 36 25-29-9 25 18-32-14-10-2 49 31-59-25 39 26-43-17 9 9 26 15-48-19 1 3 33 20-3 1-38-16-8-2 36 25-49-20 42 28-56-24 44 28-58-24 43 28-56-24 6 7 30 18-50-21 1 4 31 19-4 1-40-18-8-2 34 24-48-20 29 21-52-21 45 29-63-27 3 5 26 15-38-14 0 2 15 12-50-21 7 7 31 19-5 0-64-27 2 3 24 15-9-3-11-1-1 2-71-31 76 48-125-59-111-64 96 42-58-36 6 0 0-4-6-4 39 14-46-29M363 5140l70 33 52 29 11 8-18-6-65-33-42-23-9-5-1-3 2 0M354 5153l109 57-16-5-44-22-51-29 2-1M484 5178l4 3-4-3M805 5079l4 2-4-2M429 5150l5 2-5-2M750 5051l5 2-5-2M622 5010l60 25-2-3-24-16 9 3 10 1 1-2 72 31-76-47M366 5089l46 18-34-22M606 5015l45 18-8-7-25-15M395 5080l27 10-19-13M581 5022l25 11-1-4-15-9M380 5084l24 8-15-10M411 5075l21 8-14-10M567 5027l22 8-16-10M595 5018l21 8 0-2-12-9M426 5070l10 4-5-5M440 5066l9 4-4-6M540 5035l11 3-6-4M554 5031l12 3-7-5M455 5061l9 2-5-3M470 5057l7 2-5-3M484 5052l7 3-5-3M498 5048l7 3-5-4M512 5044l6 2-4-3M526 5039l6 3-2-4"/><path stroke="#1db3af" d="M638 5268l-74-34-4 1 35 21-4 1-21-9 5 9-71-31 76 45-5 0-109-51-8-1 49 28 3 4-15-2-119-58-112-62 0-5 9 2 56 26 3-2-57-33M666 5259l-42-16 20 13 3 4-45-21-15-4 54 32M679 5255l-51-21 40 25M694 5251l-41-19 5 6 27 15M707 5247l-29-13 21 15M721 5242l-32-14 24 17M736 5238l-31-13 24 15M749 5234l-23-9 17 11M763 5229l-22-7 16 9M777 5225l-17-8 3 4 9 6M791 5221l-18-8 13 9M806 5216l-20-8 15 10M820 5212l-21-8 16 9M834 5207l-20-7 15 9M849 5203l-20-7 14 9M863 5198l-19-8 3 4 10 6M877 5194l-21-9 15 11M892 5190l-30-13 23 15M907 5185l-34-14 26 16M921 5181l-31-12 23 14M935 5176l-43-18 34 21M952 5171l-50-22 39 25M980 5162l-65-29 7 7 40 23-37-13 29 20M238 5128l133 65 145 81M283 5114l41 18-32-20M311 5106l6 3 3-2-5-2"/><path stroke="#b7bd64" d="M580 5286l-23-7 12 9-11-4-64-30 2 4 61 35M593 5282l-54-24 44 27M608 5277l-38-17 31 20M619 5274l-2-1 1 1M634 5269l-19-8 14 10M648 5265l-12-5 9 6M975 5164l-11-5 8 6M243 5127l10 2-6-3"/><path stroke="#f7d826" d="M565 5291l-20-7 15 8M588 5283l3 0"/></g>
<g transform="scale(0.1)" stroke-width="3.5" stroke-linejoin="round"><path class=qcQ d="M651 4904l10-49-5-7-10 51z"/><path class=qda d="M641 4917l10-13-5-5-10 14z"/><path class=qdj d="M620 4909l11-9-6-6-10 9z"/><path class=qdd d="M610 4944l10-35-5-6-10 38z"/><path class=qdf d="M600 4945l10-1-5-3-10 0z"/><path class=qdq d="M579 4955l11-33-6-6-10 34z"/><path class=qdj d="M569 4975l10-20-5-5-10 21z"/><path class=qdr d="M549 4953l10 5-5-6-11-6z"/><path class=qdu d="M538 4990l11-37-6-7-10 41z"/><path class=qdo d="M528 4990l10 0-5-3-10-1z"/><path class=qdy d="M508 4984l10-18-5-6-11 19z"/><path class=qdv d="M497 5011l11-27-6-5-10 29zM467 5009l10-30-5-6-11 32z"/><path class=qdo d="M456 5016l11-7-6-4-10 7z"/><path class=qds d="M436 4996l10-12-5-6-10 12z"/><path class=qdp d="M426 5019l10-23-5-6-11 26z"/><path class=qdk d="M395 5009l10-29-5-7-10 31z"/><path class=qdh d="M385 5014l10-5-5-5-11 6z"/><path class=qdj d="M364 4982l10 3-5-6-10-3z"/><path class=qcU d="M354 5005l10-23-5-6-10 26z"/><path class=qda d="M323 4992l10-36-5-7-10 38z"/><path class=qcD d="M282 5001l10-78-5-6-10 80z"/><path class=qbR d="M241 4995l10-106-5-5-10 108z"/><path class=qcU d="M659 4916l10-46-8-15-10 49z"/><path class=qdc d="M648 4927l11-11-8-12-10 13z"/><path class=qcU d="M638 4914l10 13-7-10-10-17z"/><path class=qdm d="M628 4923l10-9-7-14-11 9z"/><path class=qdg d="M618 4955l10-32-8-14-10 35z"/><path class=qdk d="M607 4957l11-2-8-11-10 1z"/><path class=qdu d="M587 4968l10-30-7-16-11 33z"/><path class=qdn d="M577 4985l10-17-8-13-10 20z"/><path class=qdo d="M566 4972l11 13-8-10-10-17z"/><path class=qdv d="M556 4967l10 5-7-14-10-5z"/><path class=qdy d="M546 5001l10-34-7-14-11 37z"/><path class=qds d="M536 5001l10 0-8-11-10 0z"/><path class=qdC d="M515 4997l10-16-7-15-10 18z"/><path class=qdy d="M505 5021l10-24-7-13-11 27z"/><path class=qdB d="M474 5020l10-26 11 10-8-13-10-12-10 30z"/><path class=qds d="M464 5027l10-7-7-11-11 7z"/><path class=qdx d="M443 5010l11-11-8-15-10 12z"/><path class=qdt d="M433 5029l10-19-7-14-10 23z"/><path class=qdn d="M402 5021l11-26-8-15-10 29z"/><path class=qdk d="M392 5025l10-4-7-12-10 5z"/><path class=qdm d="M372 4997l10 2-8-14-10-3z"/><path class=qcZ d="M361 5016l11-19-8-15-10 23z"/><path class=qdd d="M331 5005l10-34-8-15-10 36z"/><path class=qcJ d="M290 5012l10-74-8-15-10 78z"/><path class=qbX d="M249 5005l10-103-8-13-10 106z"/><path class=qda d="M666 4927l11-44-8-13-10 46z"/><path class=qdf d="M656 4937l10-10-7-11-11 11z"/><path class=qcZ d="M646 4927l10 10-8-10-10-13z"/><path class=qdn d="M636 4936l10-9-8-13-10 9z"/><path class=qdj d="M625 4964l11-28-8-13-10 32z"/><path class=qdn d="M615 4968l10-4-7-9-11 2z"/><path class=qdy d="M595 4979l10-28-8-13-10 30z"/><path class=qdq d="M584 4994l11-15-8-11-10 17z"/><path class=qdu d="M574 4984l10 10-7-9-11-13z"/><path class=qdy d="M564 4980l10 4-8-12-10-5z"/><path class=qdJ d="M554 5011l10-31-8-13-10 34zM523 5009l10-14-8-14-10 16z"/><path class=qdD d="M513 5030l10-21-8-12-10 24z"/><path class=qdJ d="M492 5007l10 9-7-12-11-10z"/><path class=qdC d="M482 5030l10-23-8-13-10 26z"/><path class=qdy d="M472 5036l10-6-8-10-10 7z"/><path class=qdB d="M451 5022l10-10-7-13-11 11z"/><path class=qdx d="M441 5039l10-17-8-12-10 19z"/><path class=qdp d="M410 5031l10-23-7-13-11 26z"/><path class=qdn d="M400 5034l10-3-8-10-10 4z"/><path class=qdm d="M379 5009l11 3-8-13-10-2z"/><path class=qdd d="M369 5025l10-16-7-12-11 19z"/><path class=qde d="M338 5016l11-31-8-14-10 34z"/><path class=qcJ d="M297 5022l11-71-8-13-10 74z"/><path class=qbZ d="M256 5015l11-101-8-12-10 103z"/><path class=qdb d="M674 4934l10-41-7-10-11 44z"/><path class=qdi d="M664 4943l10-9-8-7-10 10z"/><path class=qdc d="M653 4936l11 7-8-6-10-10z"/><path class=qdr d="M643 4945l10-9-7-9-10 9z"/><path class=qdm d="M633 4971l10-26-7-9-11 28z"/><path class=qdq d="M623 4975l10-4-8-7-10 4z"/><path class=qdB d="M602 4987l10-26-7-10-10 28z"/><path class=qdv d="M592 5000l10-13-7-8-11 15z"/><path class=qdz d="M582 4993l10 7-8-6-10-10z"/><path class=qdC d="M571 4990l11 3-8-9-10-4z"/><path class=qdI d="M500 5017l10 7-8-8-10-9z"/><path class=qdH d="M489 5037l11-20-8-10-10 23z"/><path class=qdC d="M459 5031l10-9-8-10-10 10z"/><path class=qdE d="M448 5045l11-14-8-9-10 17z"/><path class=qdt d="M418 5039l10-21-8-10-10 23z"/><path class=qdp d="M387 5019l10 2-7-9-11-3z"/><path class=qde d="M377 5032l10-13-8-10-10 16z"/><path class=qdh d="M346 5024l10-29-7-10-11 31z"/><path class=qcP d="M305 5028l10-67-7-10-11 71z"/><path class=qcc d="M264 5021l10-99-7-8-11 101z"/><path class=qde d="M682 4943l10-38-8-12-10 41z"/><path class=qdl d="M671 4951l11-8-8-9-10 9z"/><path class=qdf d="M661 4947l10 4-7-8-11-7z"/><path class=qdu d="M651 4956l10-9-8-11-10 9z"/><path class=qdp d="M641 4979l10-23-8-11-10 26z"/><path class=qdw d="M630 4985l11-6-8-8-10 4z"/><path class=qdD d="M610 4997l10-24-8-12-10 26z"/><path class=qdG d="M589 5003l11 5-8-8-10-7z"/><path class=qdJ d="M579 5001l10 2-7-10-11-3z"/><path class=qdM d="M569 5026l10-25-8-11-10 28z"/><path class=qdH d="M466 5041l11-8-8-11-10 9z"/><path class=qdx d="M425 5048l11-18-8-12-10 21z"/><path class=qdu d="M395 5030l10 2-8-11-10-2z"/><path class=qdh d="M384 5040l11-10-8-11-10 13z"/><path class=qdk d="M354 5034l10-28-8-11-10 29z"/><path class=qcU d="M313 5037l10-65-8-11-10 67z"/><path class=qci d="M272 5028l10-96-8-10-10 99z"/><path class=qdg d="M689 4954l10-36-7-13-10 38z"/><path class=qdo d="M679 4961l10-7-7-11-11 8z"/><path class=qdi d="M669 4960l10 1-8-10-10-4z"/><path class=qdx d="M658 4968l11-8-8-13-10 9z"/><path class=qds d="M648 4988l10-20-7-12-10 23z"/><path class=qdz d="M638 4995l10-7-7-9-11 6z"/><path class=qdx d="M628 4986l10 9-8-10-10-12z"/><path class=qdH d="M617 5008l11-22-8-13-10 24z"/><path class=qdD d="M607 5018l10-10-7-11-10 11z"/><path class=qdK d="M587 5014l10 1-8-12-10-2z"/><path class=qdO d="M576 5036l11-22-8-13-10 25z"/><path class=qdA d="M433 5059l10-16-7-13-11 18z"/><path class=qdl d="M361 5045l10-26-7-13-10 28z"/><path class=qcW d="M320 5046l10-61-7-13-10 65z"/><path class=qco d="M279 5038l10-94-7-12-10 96z"/><path class=qdh d="M697 4961l10-33-8-10-10 36z"/><path class=qdq d="M687 4967l10-6-8-7-10 7z"/><path class=qdl d="M676 4969l11-2-8-6-10-1z"/><path class=qdB d="M666 4977l10-8-7-9-11 8z"/><path class=qdu d="M656 4995l10-18-8-9-10 20z"/><path class=qdG d="M646 5003l10-8-8-7-10 7z"/><path class=qdE d="M635 4995l11 8-8-8-10-9z"/><path class=qdK d="M625 5016l10-21-7-9-11 22z"/><path class=qdJ d="M615 5024l10-8-8-8-10 10z"/><path class=qcZ d="M328 5053l10-59-8-9-10 61z"/><path class=qcq d="M287 5044l10-92-8-8-10 94z"/><path class=qdj d="M704 4967l11-31-8-8-10 33z"/><path class=qdt d="M694 4973l10-6-7-6-10 6z"/><path class=qdo d="M684 4976l10-3-7-6-11 2z"/><path class=qdC d="M674 4985l10-9-8-7-10 8z"/><path class=qdx d="M663 5000l11-15-8-8-10 18z"/><path class=qdG d="M643 5003l10 6 10-9-7-5-10 8-11-8z"/><path class=qdO d="M633 5022l10-19-8-8-10 21z"/><path class=qdI d="M622 5029l11-7-8-6-10 8z"/><path class=qdO d="M612 5031l10-2-7-5-10 0z"/><path class=qcu d="M295 5049l10-90-8-7-10 92z"/><path class=qdl d="M712 4976l10-30-7-10-11 31z"/><path class=qdx d="M702 4981l10-5-8-9-10 6z"/><path class=qdq d="M692 4986l10-5-8-8-10 3z"/><path class=qdJ d="M681 4995l11-9-8-10-10 9z"/><path class=qdB d="M671 5008l10-13-7-10-11 15z"/><path class=qdL d="M661 5018l10-10-8-8-10 9z"/><path class=qdD d="M651 5014l10 4-8-9-10-6z"/><path class=qdP d="M640 5031l11-17-8-11-10 19z"/><path class=qdO d="M630 5037l10-6-7-9-11 7z"/><path class=qdP d="M610 5041l10 0 10-4-8-8-10 2-10 0z"/><path class=qcu d="M302 5057l10-88-7-10-10 90z"/><path class=qdm d="M720 4984l10-28-8-10-10 30z"/><path class=qdz d="M709 4988l11-4-8-8-10 5z"/><path class=qds d="M699 4996l10-8-7-7-10 5z"/><path class=qdH d="M689 5004l10-8-7-10-11 9z"/><path class=qdB d="M679 5016l10-12-8-9-10 13z"/><path class=qdM d="M668 5026l11-10-8-8-10 10z"/><path class=qdI d="M658 5024l10 2-7-8-10-4z"/><path class=qdP d="M648 5040l10-16-7-10-11 17z"/><path class=qdQ d="M617 5051l10-1-7-9-10 0z"/><path class=qcu d="M310 5065l10-88-8-8-10 88z"/><path class=qdn d="M727 4989l11-27-8-6-10 28z"/><path class=qdE d="M717 4992l10-3-7-5-11 4z"/><path class=qdu d="M707 5001l10-9-8-4-10 8z"/><path class=qdI d="M697 5010l10-9-8-5-10 8z"/><path class=qdC d="M686 5020l11-10-8-6-10 12z"/><path class=qdN d="M676 5031l10-11-7-4-11 10z"/><path class=qdK d="M666 5030l10 1-8-5-10-2z"/><path class=qdQ d="M656 5045l10-15-8-6-10 16z"/><path class=qdP d="M645 5049l11-4-8-5-10 5z"/><path class=qcD d="M317 5069l11-86-8-6-10 88z"/><path class=qdp d="M735 4995l10-26-7-7-11 27z"/><path class=qdG d="M725 4998l10-3-8-6-10 3z"/><path class=qdx d="M714 5008l11-10-8-6-10 9z"/><path class=qdM d="M704 5017l10-9-7-7-10 9z"/><path class=qdD d="M694 5025l10-8-7-7-11 10z"/><path class=qdP d="M684 5036l10-11-8-5-10 11z"/><path class=qdO d="M673 5036l11 0-8-5-10-1z"/><path class=qdQ d="M653 5054l10-3 10-15-7-6-10 15-11 4z"/><path class=qcJ d="M325 5074l10-85-7-6-11 86z"/><path class=qdq d="M743 5003l10-26-8-8-10 26z"/><path class=qdC d="M732 5005l11-2-8-8-10 3z"/><path class=qdy d="M722 5016l10-11-7-7-11 10z"/><path class=qdM d="M712 5025l10-9-8-8-10 9z"/><path class=qdJ d="M702 5033l10-8-8-8-10 8z"/><path class=qdP d="M691 5044l11-11-8-8-10 11z"/><path class=qdN d="M681 5045l10-1-7-8-11 0z"/><path class=qdR d="M671 5059l10-14-8-9-10 15z"/><path class=qdQ d="M661 5061l10-2-8-8-10 3z"/><path class=qdR d="M650 5070l11-9-8-7-10 8z"/><path class=qcJ d="M333 5081l10-84-8-8-10 85z"/><path class=qdq d="M750 5008l10-25-7-6-10 26z"/><path class=qdD d="M740 5010l10-2-7-5-11 2z"/><path class=qdx d="M730 5022l10-12-8-5-10 11z"/><path class=qdO d="M719 5031l11-9-8-6-10 9z"/><path class=qdH d="M709 5038l10-7-7-6-10 8z"/><path class=qdQ d="M699 5049l10-11-7-5-11 11z"/><path class=qdN d="M689 5051l10-2-8-5-10 1z"/><path class=qdR d="M678 5064l11-13-8-6-10 14zM658 5076l10-10-7-5-11 9z"/><path class=qcJ d="M340 5086l11-84-8-5-10 84z"/><path class=qdq d="M758 5011l10-24-8-4-10 25z"/><path class=qdJ d="M748 5013l10-2-8-3-10 2z"/><path class=qdB d="M737 5025l11-12-8-3-10 12z"/><path class=qdO d="M727 5034l10-9-7-3-11 9z"/><path class=qdI d="M717 5041l10-7-8-3-10 7z"/><path class=qdQ d="M707 5052l10-11-8-3-10 11z"/><path class=qdP d="M696 5055l11-3-8-3-10 2z"/><path class=qdR d="M686 5067l10-12-7-4-11 13z"/><path class=qcJ d="M348 5089l10-83-7-4-11 84z"/><path class=qds d="M765 5017l11-24-8-6-10 24z"/><path class=qdI d="M755 5018l10-1-7-6-10 2z"/><path class=qdB d="M745 5031l10-13-7-5-11 12z"/><path class=qdN d="M735 5040l10-9-8-6-10 9z"/><path class=qdL d="M724 5046l11-6-8-6-10 7z"/><path class=qdP d="M704 5060l10-2-7-6-11 3z"/><path class=qdR d="M694 5073l10-13-8-5-10 12z"/><path class=qcJ d="M356 5094l10-83-8-5-10 83z"/><path class=qds d="M773 5022l10-24-7-5-11 24z"/><path class=qdH d="M763 5024l10-2-8-5-10 1z"/><path class=qdB d="M753 5037l10-13-8-6-10 13z"/><path class=qdN d="M742 5046l11-9-8-6-10 9z"/><path class=qdL d="M732 5052l10-6-7-6-11 6z"/><path class=qdQ d="M722 5064l10-12-8-6-10 12z"/><path class=qcJ d="M363 5100l10-83-7-6-10 83z"/><path class=qdq d="M781 5024l10-23-8-3-10 24z"/><path class=qdH d="M771 5026l10-2-8-2-10 2z"/><path class=qdB d="M760 5039l11-13-8-2-10 13z"/><path class=qdN d="M750 5048l10-9-7-2-11 9z"/><path class=qdL d="M740 5054l10-6-8-2-10 6z"/><path class=qdQ d="M730 5066l10-12-8-2-10 12z"/><path class=qdP d="M719 5068l11-2-8-2-10 2z"/><path class=qcJ d="M371 5102l10-83-8-2-10 83z"/><path class=qds d="M788 5027l11-24-8-2-10 23z"/><path class=qdH d="M778 5029l10-2-7-3-10 2z"/><path class=qdB d="M768 5041l10-12-7-3-11 13z"/><path class=qdN d="M758 5050l10-9-8-2-10 9z"/><path class=qdI d="M747 5056l11-6-8-2-10 6z"/><path class=qdQ d="M737 5068l10-12-7-2-10 12z"/><path class=qdP d="M727 5070l10-2-7-2-11 2z"/><path class=qcJ d="M378 5105l11-84-8-2-10 83z"/><path class=qdq d="M796 5032l10-25-7-4-11 24z"/><path class=qdJ d="M786 5034l10-2-8-5-10 2z"/><path class=qdB d="M776 5046l10-12-8-5-10 12z"/><path class=qdN d="M765 5054l11-8-8-5-10 9z"/><path class=qdL d="M755 5061l10-7-7-4-11 6z"/><path class=qdP d="M735 5075l10-2-8-5-10 2z"/><path class=qdR d="M724 5088l11-13-8-5-10 13z"/><path class=qcJ d="M386 5110l10-84-7-5-11 84z"/><path class=qdq d="M804 5034l10-25-8-2-10 25z"/><path class=qdC d="M793 5037l11-3-8-2-10 2z"/><path class=qdy d="M783 5048l10-11-7-3-10 12z"/><path class=qdM d="M773 5057l10-9-7-2-11 8z"/><path class=qdJ d="M763 5065l10-8-8-3-10 7z"/><path class=qdP d="M537 5134l10 5-7-3-10-5z"/><path class=qco d="M404 5029l10 89-7-2-11-90z"/><path class=qcJ d="M394 5113l10-84-8-3-10 84z"/><path class=qdp d="M811 5035l11-27-8 1-10 25z"/><path class=qdG d="M801 5037l10-2-7-1-11 3z"/><path class=qdx d="M791 5047l10-10-8 0-10 11z"/><path class=qdJ d="M770 5065l11-9-8 1-10 8z"/><path class=qdP d="M760 5076l10-11-7 0-11 11z"/><path class=qdN d="M545 5135l10 4-8 0-10-5z"/><path class=qcD d="M432 5054l10 70-7 0-11-71z"/><path class=qcJ d="M401 5114l11-86-8 1-10 84z"/><path class=qdo d="M819 5037l10-28-7-1-11 27z"/><path class=qdG d="M809 5040l10-3-8-2-10 2z"/><path class=qdw d="M798 5049l11-9-8-3-10 10z"/><path class=qdK d="M788 5058l10-9-7-2-10 9z"/><path class=qcJ d="M409 5116l10-86-7-2-11 86z"/><path class=qdn d="M827 5040l10-29-8-2-10 28z"/><path class=qdE d="M816 5044l11-4-8-3-10 3z"/><path class=qdt d="M806 5051l10-7-7-4-11 9z"/><path class=qdI d="M796 5060l10-9-8-2-10 9z"/><path class=qdM d="M560 5141l10 4-7-3-11-5z"/><path class=qdF d="M550 5136l10 5-8-4-10-3z"/><path class=qcA d="M447 5059l11 71-8-3-10-71z"/><path class=qcD d="M417 5120l10-87-8-3-10 86z"/><path class=qdm d="M834 5040l10-31-7 2-10 29z"/><path class=qdq d="M814 5050l10-6-8 0-10 7z"/><path class=qdJ d="M803 5058l11-8-8 1-10 9z"/><path class=qdB d="M793 5072l10-14-7 2-10 11z"/><path class=qdL d="M568 5141l10 3-8 1-10-4z"/><path class=qdz d="M557 5134l11 7-8 0-10-5z"/><path class=qdi d="M516 5111l11 24-8 0-10-22z"/><path class=qcx d="M455 5059l10 71-7 0-11-71z"/><path class=qcu d="M424 5121l11-89-8 1-10 87z"/><path class=qdk d="M842 5039l10-32-8 2-10 31z"/><path class=qdw d="M832 5044l10-5-8 1-10 4z"/><path class=qdK d="M606 5144l10 1-7 0-11 0z"/><path class=qdD d="M575 5141l11 2-8 1-10-3z"/><path class=qdw d="M565 5132l10 9-7 0-11-7z"/><path class=qdf d="M524 5108l10 26-7 1-11-24z"/><path class=qct d="M463 5059l10 71-8 0-10-71z"/><path class=qcu d="M432 5121l10-91-7 2-11 89z"/><path class=qdj d="M849 5040l11-33-8 0-10 32z"/><path class=qdG d="M583 5144l10 1-7-2-11-2z"/><path class=qdu d="M573 5133l10 11-8-3-10-9z"/><path class=qde d="M532 5108l10 27-8-1-10-26z"/><path class=qcq d="M470 5061l11 72-8-3-10-71z"/><path class=qct d="M440 5123l10-92-8-1-10 91z"/><path class=qdg d="M857 5041l10-36-7 2-11 33z"/><path class=qdG d="M621 5146l11 3-8-1-10-2z"/><path class=qdH d="M611 5130l10 16-7 0-11-14z"/><path class=qdq d="M580 5132l11 13-8-1-10-11z"/><path class=qdd d="M539 5106l11 30-8-1-10-27z"/><path class=qcS d="M519 5108l10 24-7 0-11-26z"/><path class=qco d="M478 5062l10 72-7-1-11-72zM447 5125l10-94-7 0-10 92z"/><path class=qdg d="M865 5038l10-38-8 5-10 36z"/><path class=qdI d="M670 5146l10-5-7 2-11 5z"/><path class=qdE d="M629 5142l10 6-7 1-11-3z"/><path class=qdD d="M619 5125l10 17-8 4-10-16z"/><path class=qdw d="M598 5143l11 0-8 3-10-1z"/><path class=qdn d="M588 5127l10 16-7 2-11-13z"/><path class=qdk d="M568 5135l10-10-8 4-10 7z"/><path class=qdl d="M557 5133l11 2-8 1-10 0z"/><path class=qcZ d="M547 5101l10 32-7 3-11-30z"/><path class=qcO d="M527 5106l10 23-8 3-10-24z"/><path class=qck d="M486 5059l10 73-8 2-10-72z"/><path class=qci d="M455 5123l10-96-8 4-10 94z"/><path class=qdd d="M872 5037l11-41-8 4-10 38z"/><path class=qdx d="M637 5141l10 7-8 0-10-6z"/><path class=qdk d="M596 5124l10 19-8 0-10-16zM565 5132l10 3-7 0-11-2z"/><path class=qcY d="M555 5098l10 34-8 1-10-32z"/><path class=qcN d="M534 5106l10 21-7 2-10-23z"/><path class=qcd d="M493 5059l10 72-7 1-10-73z"/><path class=qci d="M462 5124l11-99-8 2-10 96z"/><path class=qdB d="M716 5126l10 15-7-2-11-12z"/><path class=qds d="M644 5141l11 8-8-1-10-7z"/><path class=qdi d="M603 5123l11 22-8-2-10-19z"/><path class=qdh d="M573 5132l10 4-8-1-10-3z"/><path class=qcQ d="M562 5096l11 36-8 0-10-34z"/><path class=qcF d="M542 5108l10 19-8 0-10-21z"/><path class=qbZ d="M501 5059l10 74-8-2-10-72z"/><path class=qcc d="M470 5125l10-100-7 0-11 99z"/><path class=qdx d="M724 5123l10 17-8 1-10-15z"/><path class=qdv d="M683 5118l10 28-8 1-10-24z"/><path class=qdn d="M652 5137l10 11-7 1-11-8z"/><path class=qde d="M611 5118l10 25-7 2-11-22zM580 5130l10 5-7 1-10-4z"/><path class=qcL d="M570 5090l10 40-7 2-11-36z"/><path class=qcB d="M549 5107l11 17-8 3-10-19z"/><path class=qbS d="M508 5057l11 74-8 2-10-74z"/><path class=qbX d="M478 5124l10-103-8 4-10 100z"/><path class=qdr d="M731 5117l11 21-8 2-10-17z"/><path class=qdo d="M690 5111l11 31-8 4-10-28z"/><path class=qdk d="M660 5133l10 13-8 2-10-11z"/><path class=qdi d="M629 5141l10-6-8 4-10 4z"/><path class=qdb d="M619 5112l10 29-8 2-10-25z"/><path class=qcZ d="M588 5126l10 6-8 3-10-5z"/><path class=qcK d="M578 5083l10 43-8 4-10-40z"/><path class=qcx d="M557 5104l10 15-7 5-11-17z"/><path class=qbL d="M516 5054l10 74-7 3-11-74z"/><path class=qbU d="M485 5122l11-106-8 5-10 103z"/><path class=qcP d="M903 5029l10-52-8 4-10 50z"/><path class=qdn d="M739 5115l10 23-7 0-11-21z"/><path class=qdm d="M698 5107l10 35-7 0-11-31z"/><path class=qdh d="M667 5131l10 15-7 0-10-13z"/><path class=qcX d="M626 5108l10 33-7 0-10-29z"/><path class=qcV d="M595 5124l11 8-8 0-10-6z"/><path class=qcD d="M585 5078l10 46-7 2-10-43z"/><path class=qcr d="M565 5105l10 12-8 2-10-15z"/><path class=qbF d="M524 5053l10 74-8 1-10-74z"/><path class=qbP d="M493 5122l10-109-7 3-11 106z"/><path class=qcy d="M921 4971l7 72-8 0-7-66z"/><path class=qcK d="M910 5027l11-56-8 6-10 52z"/><path class=qdj d="M747 5111l10 27-8 0-10-23zM706 5102l10 39-8 1-10-35z"/><path class=qdc d="M675 5128l10 18-8 0-10-15z"/><path class=qcR d="M634 5103l10 37-8 1-10-33z"/><path class=qcO d="M603 5122l10 10-7 0-11-8z"/><path class=qcx d="M593 5073l10 49-8 2-10-46z"/><path class=qcm d="M572 5104l11 10-8 3-10-12z"/><path class=qby d="M531 5051l11 75-8 1-10-74z"/><path class=qbJ d="M501 5122l10-112-8 3-10 109z"/><path class=qcq d="M928 4962l7 77-7 4-7-72z"/><path class=qcD d="M918 5022l10-60-7 9-11 56z"/><path class=qde d="M754 5105l10 29-7 4-10-27z"/><path class=qdd d="M713 5093l10 44-7 4-10-39z"/><path class=qcW d="M682 5122l11 20-8 4-10-18z"/><path class=qcK d="M641 5095l11 41-8 4-10-37z"/><path class=qcM d="M611 5117l10 11-8 4-10-10z"/><path class=qcq d="M600 5064l11 53-8 5-10-49z"/><path class=qcc d="M580 5101l10 7-7 6-11-10z"/><path class=qbr d="M539 5047l10 75-7 4-11-75z"/><path class=qbE d="M508 5118l10-115-7 7-10 112z"/><path class=qck d="M936 4954l7 83-8 2-7-77z"/><path class=qcy d="M926 5017l10-63-8 8-10 60z"/><path class=qcX d="M834 5063l10 32-8 3-10-28z"/><path class=qdb d="M762 5099l10 33-8 2-10-29z"/><path class=qda d="M721 5085l10 49-8 3-10-44z"/><path class=qcQ d="M690 5117l10 22-7 3-11-20z"/><path class=qcD d="M649 5088l10 46-7 2-11-41z"/><path class=qcE d="M618 5112l11 13-8 3-10-11z"/><path class=qci d="M608 5055l10 57-7 5-11-53z"/><path class=qbT d="M588 5098l10 5-8 5-10-7z"/><path class=qbl d="M547 5043l10 76-8 3-10-75z"/><path class=qbW d="M516 5116l10-119-8 6-10 115z"/><path class=qbZ d="M944 4947l6 89-7 1-7-83z"/><path class=qct d="M933 5015l11-68-8 7-10 63z"/><path class=qcK d="M882 5056l10 7-7 1-10-5z"/><path class=qcZ d="M862 5063l10-48-8 7-10 44z"/><path class=qcQ d="M841 5058l10 37-7 0-10-32z"/><path class=qcU d="M810 5104l11 3-8 1-10-3z"/><path class=qdg d="M790 5088l10-28-7 6-11 26z"/><path class=qcU d="M769 5095l11 37-8 0-10-33z"/><path class=qcV d="M728 5079l11 54-8 1-10-49z"/><path class=qcK d="M698 5113l10 26-8 0-10-22z"/><path class=qcx d="M657 5082l10 51-8 1-10-46z"/><path class=qcv d="M626 5110l10 14-7 1-11-13z"/><path class=qbZ d="M616 5049l10 61-8 2-10-57z"/><path class=qbN d="M595 5098l10 2-7 3-10-5z"/><path class=qbf d="M554 5041l10 77-7 1-10-76z"/><path class=qbu d="M523 5116l11-123-8 4-10 119z"/><path class=qbR d="M951 4938l7 96-8 2-6-89z"/><path class=qcm d="M941 5010l10-72-7 9-11 68z"/><path class=qcd d="M921 4989l10 43-8 4-10-38z"/><path class=qcu d="M900 5060l10-62-7 8-11 57z"/><path class=qcy d="M890 5051l10 9-8 3-10-7z"/><path class=qcY d="M869 5057l11-51-8 9-10 48z"/><path class=qcK d="M849 5051l10 41-8 3-10-37z"/><path class=qcZ d="M828 5103l11-64-8 9-10 59z"/><path class=qcJ d="M818 5099l10 4-7 4-11-3z"/><path class=qcP d="M808 5051l10 48-8 5-10-44z"/><path class=qdd d="M798 5082l10-31-8 9-10 28z"/><path class=qcL d="M777 5088l10 41-7 3-11-37z"/><path class=qdb d="M757 5118l10-55-8 10-10 50z"/><path class=qcJ d="M736 5071l10 58-7 4-11-54z"/><path class=qda d="M726 5089l10-18-8 8-10 18z"/><path class=qcD d="M705 5108l11 28-8 3-10-26z"/><path class=qcJ d="M695 5063l10 45-7 5-11-41z"/><path class=qcL d="M685 5114l10-51-8 9-10 48z"/><path class=qco d="M664 5074l11 56-8 3-10-51z"/><path class=qcn d="M634 5105l10 16-8 3-10-14z"/><path class=qbR d="M623 5039l11 66-8 5-10-61z"/><path class=qct d="M613 5094l10-55-7 10-11 51z"/><path class=qbE d="M603 5095l10-1-8 6-10-2z"/><path class=qbR d="M593 5074l10 21-8 3-10-16z"/><path class=qbX d="M572 5114l10-104-7 8-11 100z"/><path class=qaR d="M562 5037l10 77-8 4-10-77z"/><path class=qbo d="M531 5113l10-127-7 7-11 123z"/><path class=qbJ d="M959 4926l7 103-8 5-7-96z"/><path class=qcd d="M949 5003l10-77-8 12-10 72z"/><path class=qbU d="M928 4979l10 48-7 5-10-43z"/><path class=qcq d="M908 5055l10-67-8 10-10 62z"/><path class=qct d="M897 5044l11 11-8 5-10-9z"/><path class=qcq d="M887 4994l10 50-7 7-10-45z"/><path class=qcQ d="M877 5049l10-55-7 12-11 51z"/><path class=qcy d="M856 5041l11 46-8 5-10-41z"/><path class=qcP d="M836 5098l10-70-7 11-11 64z"/><path class=qcD d="M826 5093l10 5-8 5-10-4z"/><path class=qcJ d="M815 5039l11 54-8 6-10-48z"/><path class=qcW d="M805 5073l10-34-7 12-10 31z"/><path class=qcP d="M795 5124l10-51-7 9-11 47z"/><path class=qcD d="M785 5079l10 45-8 5-10-41z"/><path class=qcW d="M764 5112l10-60-7 11-10 55z"/><path class=qcD d="M744 5060l10 63-8 6-10-58z"/><path class=qcP d="M733 5079l11-19-8 11-10 18z"/><path class=qcJ d="M723 5131l10-52-7 10-10 47z"/><path class=qct d="M713 5100l10 31-7 5-11-28z"/><path class=qcu d="M703 5051l10 49-8 8-10-45z"/><path class=qcI d="M692 5107l11-56-8 12-10 51z"/><path class=qcc d="M672 5064l10 60-7 6-11-56z"/><path class=qci d="M651 5116l11-55-8 11-10 49z"/><path class=qcc d="M641 5098l10 18-7 5-10-16z"/><path class=qbM d="M631 5028l10 70-7 7-11-66z"/><path class=qcq d="M621 5086l10-58-8 11-10 55z"/><path class=qbw d="M610 5090l11-4-8 8-10 1z"/><path class=qbI d="M600 5064l10 26-7 5-10-21z"/><path class=qbu d="M590 4999l10 65-7 10-11-64z"/><path class=qbR d="M580 5108l10-109-8 11-10 104z"/><path class=qaT d="M569 5030l11 78-8 6-10-77z"/><path class=qbm d="M559 5037l10-7-7 7-10 12z"/><path class=qbh d="M539 5108l10-131-8 9-10 127z"/><path class=qbA d="M967 4917l6 110-7 2-7-103z"/><path class=qbX d="M946 5024l10-26 11-81-8 9-10 77-11 24z"/><path class=qbN d="M936 4971l10 53-8 3-10-48z"/><path class=qci d="M915 5052l11-72-8 8-10 67z"/><path class=qck d="M905 5039l10 13-7 3-11-11z"/><path class=qci d="M895 4985l10 54-8 5-10-50z"/><path class=qcK d="M885 5043l10-58-8 9-10 55z"/><path class=qco d="M874 5085l11-42-8 6-10 38z"/><path class=qct d="M864 5034l10 51-7 2-11-46z"/><path class=qcJ d="M854 5019l10 15-8 7-10-13zM844 5095l10-76-8 9-10 70z"/><path class=qct d="M833 5089l11 6-8 3-10-5z"/><path class=qcu d="M823 5030l10 59-7 4-11-54z"/><path class=qcQ d="M813 5066l10-36-8 9-10 34z"/><path class=qcu d="M803 5122l10-56-8 7-10 51z"/><path class=qcx d="M792 5073l11 49-8 2-10-45z"/><path class=qcJ d="M782 5043l10 30-7 6-11-27z"/><path class=qcP d="M772 5108l10-65-8 9-10 60z"/><path class=qcu d="M751 5051l11 69-8 3-10-63z"/><path class=qcJ d="M741 5072l10-21-7 9-11 19z"/><path class=qcu d="M731 5129l10-57-8 7-10 52z"/><path class=qcm d="M721 5094l10 35-8 2-10-31z"/><path class=qcu d="M710 5042l11 52-8 6-10-49z"/><path class=qcy d="M700 5103l10-61-7 9-11 56z"/><path class=qci d="M690 5122l10-19-8 4-10 17z"/><path class=qbU d="M680 5056l10 66-8 2-10-60z"/><path class=qcq d="M669 5053l11 3-8 8-10-3z"/><path class=qbZ d="M659 5113l10-60-7 8-11 55z"/><path class=qbS d="M649 5093l10 20-8 3-10-18z"/><path class=qbE d="M639 5018l10 75-8 5-10-70z"/><path class=qch d="M628 5080l11-62-8 10-10 58z"/><path class=qbr d="M618 5088l10-8-7 6-11 4z"/><path class=qbz d="M608 5057l10 31-8 2-10-26z"/><path class=qbl d="M598 4990l10 67-8 7-10-65z"/><path class=qbJ d="M587 5105l11-115-8 9-10 109z"/><path class=qaM d="M577 5026l10 79-7 3-11-78z"/><path class=qbf d="M567 5028l10-2-8 4-10 7z"/><path class=qaP d="M557 4971l10 57-8 9-10-60z"/><path class=qaY d="M546 5106l11-135-8 6-10 131z"/><path class=qbq d="M974 4908l7 117-8 2-6-110z"/><path class=qbP d="M964 4993l10-85-7 9-11 81z"/><path class=qbO d="M954 5022l10-29-8 5-10 26z"/><path class=qbC d="M943 4963l11 59-8 2-10-53z"/><path class=qci d="M933 4972l10-9-7 8-10 9z"/><path class=qcc d="M923 5050l10-78-7 8-11 72z"/><path class=qbX d="M913 5035l10 15-8 2-10-13z"/><path class=qbZ d="M902 4975l11 60-8 4-10-54z"/><path class=qcD d="M892 5038l10-63-7 10-10 58z"/><path class=qcc d="M882 5083l10-45-7 5-11 42z"/><path class=qch d="M872 5027l10 56-8 2-10-51z"/><path class=qcu d="M861 5011l11 16-8 7-10-15zM851 5092l10-81-7 8-10 76z"/><path class=qci d="M831 5021l10 64 10 7-7 3-11-6-10-59z"/><path class=qcJ d="M820 5060l11-39-8 9-10 36z"/><path class=qcu d="M810 5120l10-60-7 6-10 56z"/><path class=qco d="M800 5066l10 54-7 2-11-49z"/><path class=qcu d="M790 5034l10 32-8 7-10-30z"/><path class=qcJ d="M779 5104l11-70-8 9-10 65z"/><path class=qci d="M769 5117l10-13-7 4-10 12zM759 5042l10 75-7 3-11-69z"/><path class=qcD d="M749 5065l10-23-8 9-10 21z"/><path class=qct d="M738 5127l11-62-8 7-10 57z"/><path class=qbZ d="M728 5089l10 38-7 2-10-35z"/><path class=qci d="M718 5032l10 57-7 5-11-52z"/><path class=qct d="M708 5098l10-66-8 10-10 61z"/><path class=qbZ d="M697 5119l11-21-8 5-10 19z"/><path class=qbM d="M687 5048l10 71-7 3-10-66z"/><path class=qci d="M677 5045l10 3-7 8-11-3z"/><path class=qbR d="M667 5111l10-66-8 8-10 60z"/><path class=qbI d="M656 5088l11 23-8 2-10-20z"/><path class=qbx d="M646 5009l10 79-7 5-10-75z"/><path class=qbZ d="M636 5075l10-66-7 9-11 62z"/><path class=qbn d="M626 5086l10-11-8 5-10 8z"/><path class=qbq d="M615 5050l11 36-8 2-10-31z"/><path class=qaZ d="M605 4981l10 69-7 7-10-67z"/><path class=qbC d="M595 5102l10-121-7 9-11 115z"/><path class=qaJ d="M585 5023l10 79-8 3-10-79z"/><path class=qaS d="M574 5019l11 4-8 3-10 2z"/><path class=qaP d="M564 4964l10 55-7 9-10-57z"/><path class=qaY d="M554 5104l10-140-7 7-11 135z"/></g>
<line x1="55.40" y1="529.40" x2="98.10" y2="516.20" stroke="#5a5a5a" stroke-width="0.8"/>
<line x1="55.40" y1="529.40" x2="23.60" y2="512.90" stroke="#5a5a5a" stroke-width="0.8"/>
<line x1="23.60" y1="512.90" x2="23.60" y2="478.50" stroke="#5a5a5a" stroke-width="0.8"/>
<text x="57.90" y="537.12" font-size="5.40" text-anchor="start" fill="#333333">-5</text>
<text x="79.25" y="530.52" font-size="5.40" text-anchor="start" fill="#333333">0</text>
<text x="100.60" y="523.92" font-size="5.40" text-anchor="start" fill="#333333">5</text>
<text x="52.60" y="536.22" font-size="5.40" text-anchor="end" fill="#333333">-5</text>
<text x="36.70" y="527.97" font-size="5.40" text-anchor="end" fill="#333333">0</text>
<text x="20.80" y="519.72" font-size="5.40" text-anchor="end" fill="#333333">5</text>
<text x="21.10" y="514.82" font-size="5.40" text-anchor="end" fill="#333333">0</text>
<text x="21.10" y="501.61" font-size="5.40" text-anchor="end" fill="#333333">5</text>
<text x="21.10" y="488.41" font-size="5.40" text-anchor="end" fill="#333333">10</text>
<text x="79.60" y="541.20" font-size="6.60" text-anchor="start" fill="#333333">x<tspan font-size="4.6" dy="1.7">1</tspan></text>
<text x="28.85" y="541.20" font-size="6.60" text-anchor="start" fill="#333333">x<tspan font-size="4.6" dy="1.7">2</tspan></text>
<text transform="translate(8.10 496.60) rotate(-90)" font-size="6.4" text-anchor="middle" fill="#333333">F13( x<tspan font-size="4.7" dy="1.7">1</tspan><tspan dy="-1.7"> , x</tspan><tspan font-size="4.7" dy="1.7">2</tspan><tspan dy="-1.7"> )</tspan></text>
<text x="61.50" y="464.00" font-size="6.10" text-anchor="middle" font-weight="bold" fill="#000">Function Topology</text>
<rect x="131.50" y="10.50" width="63.90" height="61.90" fill="#fff"/>
<clipPath id="k114"><rect x="131.30" y="10.30" width="64.30" height="62.30"/></clipPath>
<rect x="131.50" y="10.50" width="63.90" height="61.90" fill="none" stroke="#5a5a5a" stroke-width="0.8"/>
<path d="M147.23 72.40v-0.90M147.23 10.50v0.90" stroke="#5a5a5a" stroke-width="0.6"/>
<text x="147.23" y="80.62" font-size="5.40" text-anchor="middle" fill="#333333">50</text>
<path d="M163.29 72.40v-0.90M163.29 10.50v0.90" stroke="#5a5a5a" stroke-width="0.6"/>
<text x="163.29" y="80.62" font-size="5.40" text-anchor="middle" fill="#333333">100</text>
<path d="M179.34 72.40v-0.90M179.34 10.50v0.90" stroke="#5a5a5a" stroke-width="0.6"/>
<text x="179.34" y="80.62" font-size="5.40" text-anchor="middle" fill="#333333">150</text>
<path d="M195.40 72.40v-0.90M195.40 10.50v0.90" stroke="#5a5a5a" stroke-width="0.6"/>
<text x="195.40" y="80.62" font-size="5.40" text-anchor="middle" fill="#333333">200</text>
<path d="M131.50 66.40h0.90M195.40 66.40h-0.90" stroke="#5a5a5a" stroke-width="0.6"/>
<text x="129.50" y="69.02" font-size="5.40" text-anchor="end" fill="#333333">-1500</text>
<path d="M131.50 56.60h0.90M195.40 56.60h-0.90" stroke="#5a5a5a" stroke-width="0.6"/>
<text x="129.50" y="59.22" font-size="5.40" text-anchor="end" fill="#333333">-1000</text>
<path d="M131.50 46.80h0.90M195.40 46.80h-0.90" stroke="#5a5a5a" stroke-width="0.6"/>
<text x="129.50" y="49.42" font-size="5.40" text-anchor="end" fill="#333333">-500</text>
<path d="M131.50 37.00h0.90M195.40 37.00h-0.90" stroke="#5a5a5a" stroke-width="0.6"/>
<text x="129.50" y="39.62" font-size="5.40" text-anchor="end" fill="#333333">0</text>
<path d="M131.50 27.20h0.90M195.40 27.20h-0.90" stroke="#5a5a5a" stroke-width="0.6"/>
<text x="129.50" y="29.82" font-size="5.40" text-anchor="end" fill="#333333">500</text>
<path d="M131.50 17.40h0.90M195.40 17.40h-0.90" stroke="#5a5a5a" stroke-width="0.6"/>
<text x="129.50" y="20.02" font-size="5.40" text-anchor="end" fill="#333333">1000</text>
<path clip-path="url(#k114)" d="M131.7 39.5 131.9 33.6 136.8 33.6 137.0 28.1 137.6 28.1 137.7 47.0 142.9 47.0 143.1 33.0 148.3 33.0 148.4 51.3 149.9 51.3 150.1 30.6 151.2 30.6 151.4 32.4 156.3 32.4 156.5 72.6 159.8 72.6 160.2 48.2 161.1 41.0 162.3 37.9 166.3 37.2 166.5 33.9 175.6 33.9 175.8 29.7 181.5 29.7 181.7 23.8 185.1 23.8 185.3 28.1 186.4 28.1 186.6 11.3 188.8 11.3 188.9 28.1 190.5 28.1 191.2 29.3 191.4 43.9 196.0 43.9" fill="none" stroke="#ff00ff" stroke-width="1.9" stroke-linejoin="round"/>
<text x="163.45" y="88.70" font-size="6.00" text-anchor="middle" fill="#333333">Iteration#</text>
<text x="163.45" y="8.00" font-size="6.10" text-anchor="middle" font-weight="bold" fill="#000">Best values of the 1st dim</text>
<rect x="233.00" y="10.20" width="63.60" height="62.30" fill="#fff"/>
<clipPath id="k140"><rect x="232.80" y="10.00" width="64.00" height="62.70"/></clipPath>
<rect x="233.00" y="10.20" width="63.60" height="62.30" fill="none" stroke="#5a5a5a" stroke-width="0.8"/>
<path d="M248.66 72.50v-0.90M248.66 10.20v0.90" stroke="#5a5a5a" stroke-width="0.6"/>
<text x="248.66" y="80.72" font-size="5.40" text-anchor="middle" fill="#333333">50</text>
<path d="M264.64 72.50v-0.90M264.64 10.20v0.90" stroke="#5a5a5a" stroke-width="0.6"/>
<text x="264.64" y="80.72" font-size="5.40" text-anchor="middle" fill="#333333">100</text>
<path d="M280.62 72.50v-0.90M280.62 10.20v0.90" stroke="#5a5a5a" stroke-width="0.6"/>
<text x="280.62" y="80.72" font-size="5.40" text-anchor="middle" fill="#333333">150</text>
<path d="M296.60 72.50v-0.90M296.60 10.20v0.90" stroke="#5a5a5a" stroke-width="0.6"/>
<text x="296.60" y="80.72" font-size="5.40" text-anchor="middle" fill="#333333">200</text>
<path d="M233.00 69.80h0.90M296.60 69.80h-0.90" stroke="#5a5a5a" stroke-width="0.6"/>
<text x="231.00" y="72.42" font-size="5.40" text-anchor="end" fill="#333333">-800</text>
<path d="M233.00 53.38h0.90M296.60 53.38h-0.90" stroke="#5a5a5a" stroke-width="0.6"/>
<text x="231.00" y="56.00" font-size="5.40" text-anchor="end" fill="#333333">-600</text>
<path d="M233.00 36.97h0.90M296.60 36.97h-0.90" stroke="#5a5a5a" stroke-width="0.6"/>
<text x="231.00" y="39.58" font-size="5.40" text-anchor="end" fill="#333333">-400</text>
<path d="M233.00 20.55h0.90M296.60 20.55h-0.90" stroke="#5a5a5a" stroke-width="0.6"/>
<text x="231.00" y="23.17" font-size="5.40" text-anchor="end" fill="#333333">-200</text>
<path clip-path="url(#k140)" d="M233.4 10.2 234.0 39.0 234.6 39.9 235.1 43.3 235.5 45.1 238.5 45.1 239.0 48.1 239.7 49.4 240.6 53.0 258.8 53.0 259.2 67.0 279.0 67.0 279.6 69.9 284.5 69.9 285.8 71.2 286.6 71.9 293.0 72.1 294.0 72.5 297.0 72.5" fill="none" stroke="#000000" stroke-width="1.9" stroke-linejoin="round"/>
<text x="264.80" y="88.80" font-size="6.00" text-anchor="middle" fill="#333333">Iteration#</text>
<text x="264.80" y="7.70" font-size="6.10" text-anchor="middle" font-weight="bold" fill="#000">Fitness values</text>
<clipPath id="k162"><rect x="334.10" y="10.20" width="63.90" height="62.60"/></clipPath>
<path d="M334.30 10.40V72.60H397.80" fill="none" stroke="#5a5a5a" stroke-width="0.8"/>
<line x1="334.30" y1="72.60" x2="334.30" y2="71.70" stroke="#5a5a5a" stroke-width="0.6"/>
<text x="334.30" y="80.82" font-size="5.40" text-anchor="middle" fill="#333333">0</text>
<line x1="366.05" y1="72.60" x2="366.05" y2="71.70" stroke="#5a5a5a" stroke-width="0.6"/>
<text x="366.05" y="80.82" font-size="5.40" text-anchor="middle" fill="#333333">100</text>
<line x1="397.80" y1="72.60" x2="397.80" y2="71.70" stroke="#5a5a5a" stroke-width="0.6"/>
<text x="397.80" y="80.82" font-size="5.40" text-anchor="middle" fill="#333333">200</text>
<line x1="334.30" y1="71.90" x2="335.20" y2="71.90" stroke="#5a5a5a" stroke-width="0.6"/>
<text x="332.30" y="74.52" font-size="5.40" text-anchor="end" fill="#333333">-1000</text>
<line x1="334.30" y1="59.46" x2="335.20" y2="59.46" stroke="#5a5a5a" stroke-width="0.6"/>
<text x="332.30" y="62.08" font-size="5.40" text-anchor="end" fill="#333333">-800</text>
<line x1="334.30" y1="47.02" x2="335.20" y2="47.02" stroke="#5a5a5a" stroke-width="0.6"/>
<text x="332.30" y="49.64" font-size="5.40" text-anchor="end" fill="#333333">-600</text>
<line x1="334.30" y1="34.58" x2="335.20" y2="34.58" stroke="#5a5a5a" stroke-width="0.6"/>
<text x="332.30" y="37.20" font-size="5.40" text-anchor="end" fill="#333333">-400</text>
<line x1="334.30" y1="22.14" x2="335.20" y2="22.14" stroke="#5a5a5a" stroke-width="0.6"/>
<text x="332.30" y="24.76" font-size="5.40" text-anchor="end" fill="#333333">-200</text>
<line x1="334.30" y1="9.70" x2="335.20" y2="9.70" stroke="#5a5a5a" stroke-width="0.6"/>
<text x="332.30" y="12.32" font-size="5.40" text-anchor="end" fill="#333333">0</text>
<path clip-path="url(#k162)" d="M334.6 24.9 337.4 24.9 337.6 33.3 342.2 33.3 342.5 41.3 398.0 41.3" fill="none" stroke="#00ff00" stroke-width="1.9" stroke-linejoin="round"/>
<path clip-path="url(#k162)" d="M334.4 50.3 337.4 52.3 342.4 54.0 348.5 55.0 354.7 55.6 360.0 55.8 398.0 55.8" fill="none" stroke="#0000ff" stroke-width="1.9" stroke-linejoin="round"/>
<path clip-path="url(#k162)" d="M334.6 15.0 334.9 35.9 336.1 38.2 336.4 41.4 339.3 41.4 340.5 43.8 342.0 47.3 359.7 47.3 360.0 58.1 379.8 58.1 380.7 60.5 386.8 60.5 387.7 62.0 398.0 62.0" fill="none" stroke="#ff0000" stroke-width="1.9" stroke-linejoin="round"/>
<rect x="343.40" y="15.60" width="49.30" height="22.60" fill="#fff" stroke="#5a5a5a" stroke-width="0.7"/>
<line x1="346.10" y1="20.90" x2="363.70" y2="20.90" stroke="#00ff00" stroke-width="1.9"/>
<text x="364.90" y="22.63" font-size="4.86" text-anchor="start" fill="#333333">GND</text>
<line x1="346.10" y1="27.55" x2="363.70" y2="27.55" stroke="#0000ff" stroke-width="1.9"/>
<text x="364.90" y="29.28" font-size="4.86" text-anchor="start" fill="#333333">DMOA</text>
<line x1="346.10" y1="34.20" x2="363.70" y2="34.20" stroke="#ff0000" stroke-width="1.9"/>
<text x="364.90" y="35.93" font-size="4.86" text-anchor="start" fill="#333333">GNDDMOA</text>
<text transform="translate(314.60 43.60) rotate(-90)" font-size="6.05" text-anchor="middle" fill="#333333">Best score obtained so far</text>
<text x="366.05" y="88.90" font-size="6.00" text-anchor="middle" fill="#333333">Iteration</text>
<text x="366.05" y="7.90" font-size="6.10" text-anchor="middle" font-weight="bold" fill="#000">Convergence Curves</text>
<rect x="123.40" y="101.50" width="75.00" height="62.40" fill="#fff"/>
<clipPath id="k195"><rect x="123.20" y="101.30" width="75.40" height="62.80"/></clipPath>
<rect x="123.40" y="101.50" width="75.00" height="62.40" fill="none" stroke="#5a5a5a" stroke-width="0.8"/>
<path d="M141.87 163.90v-0.90M141.87 101.50v0.90" stroke="#5a5a5a" stroke-width="0.6"/>
<text x="141.87" y="172.12" font-size="5.40" text-anchor="middle" fill="#333333">50</text>
<path d="M160.71 163.90v-0.90M160.71 101.50v0.90" stroke="#5a5a5a" stroke-width="0.6"/>
<text x="160.71" y="172.12" font-size="5.40" text-anchor="middle" fill="#333333">100</text>
<path d="M179.56 163.90v-0.90M179.56 101.50v0.90" stroke="#5a5a5a" stroke-width="0.6"/>
<text x="179.56" y="172.12" font-size="5.40" text-anchor="middle" fill="#333333">150</text>
<path d="M198.40 163.90v-0.90M198.40 101.50v0.90" stroke="#5a5a5a" stroke-width="0.6"/>
<text x="198.40" y="172.12" font-size="5.40" text-anchor="middle" fill="#333333">200</text>
<path d="M123.40 163.60h0.90M198.40 163.60h-0.90" stroke="#5a5a5a" stroke-width="0.6"/>
<text x="121.40" y="166.22" font-size="5.40" text-anchor="end" fill="#333333">0</text>
<path d="M123.40 150.15h0.90M198.40 150.15h-0.90" stroke="#5a5a5a" stroke-width="0.6"/>
<text x="121.40" y="152.77" font-size="5.40" text-anchor="end" fill="#333333">0.5</text>
<path d="M123.40 136.70h0.90M198.40 136.70h-0.90" stroke="#5a5a5a" stroke-width="0.6"/>
<text x="121.40" y="139.32" font-size="5.40" text-anchor="end" fill="#333333">1</text>
<path d="M123.40 123.25h0.90M198.40 123.25h-0.90" stroke="#5a5a5a" stroke-width="0.6"/>
<text x="121.40" y="125.87" font-size="5.40" text-anchor="end" fill="#333333">1.5</text>
<path d="M123.40 109.80h0.90M198.40 109.80h-0.90" stroke="#5a5a5a" stroke-width="0.6"/>
<text x="121.40" y="112.42" font-size="5.40" text-anchor="end" fill="#333333">2</text>
<path clip-path="url(#k195)" d="M123.9 101.0 124.1 163.2 128.2 163.2 129.6 161.4 131.6 162.9 136.4 163.5 199.0 163.5" fill="none" stroke="#ff00ff" stroke-width="1.9" stroke-linejoin="round"/>
<text x="160.90" y="180.20" font-size="6.00" text-anchor="middle" fill="#333333">Iteration#</text>
<text x="160.90" y="99.00" font-size="6.10" text-anchor="middle" font-weight="bold" fill="#000">Best values of the 1st dim</text>
<rect x="224.50" y="101.10" width="75.30" height="62.80" fill="#fff"/>
<clipPath id="k219"><rect x="224.30" y="100.90" width="75.70" height="63.20"/></clipPath>
<rect x="224.50" y="101.10" width="75.30" height="62.80" fill="none" stroke="#5a5a5a" stroke-width="0.8"/>
<path d="M243.04 163.90v-0.90M243.04 101.10v0.90" stroke="#5a5a5a" stroke-width="0.6"/>
<text x="243.04" y="172.12" font-size="5.40" text-anchor="middle" fill="#333333">50</text>
<path d="M261.96 163.90v-0.90M261.96 101.10v0.90" stroke="#5a5a5a" stroke-width="0.6"/>
<text x="261.96" y="172.12" font-size="5.40" text-anchor="middle" fill="#333333">100</text>
<path d="M280.88 163.90v-0.90M280.88 101.10v0.90" stroke="#5a5a5a" stroke-width="0.6"/>
<text x="280.88" y="172.12" font-size="5.40" text-anchor="middle" fill="#333333">150</text>
<path d="M299.80 163.90v-0.90M299.80 101.10v0.90" stroke="#5a5a5a" stroke-width="0.6"/>
<text x="299.80" y="172.12" font-size="5.40" text-anchor="middle" fill="#333333">200</text>
<path d="M224.50 163.50h0.90M299.80 163.50h-0.90" stroke="#5a5a5a" stroke-width="0.6"/>
<text x="222.50" y="166.12" font-size="5.40" text-anchor="end" fill="#333333">0</text>
<path d="M224.50 141.20h0.90M299.80 141.20h-0.90" stroke="#5a5a5a" stroke-width="0.6"/>
<text x="222.50" y="143.82" font-size="5.40" text-anchor="end" fill="#333333">5</text>
<path d="M224.50 118.90h0.90M299.80 118.90h-0.90" stroke="#5a5a5a" stroke-width="0.6"/>
<text x="222.50" y="121.52" font-size="5.40" text-anchor="end" fill="#333333">10</text>
<path clip-path="url(#k219)" d="M225.0 101.0 225.2 133.5 228.6 133.5 229.0 146.8 230.0 149.6 231.4 155.0 232.7 159.8 234.8 162.9 238.2 163.6 300.5 163.6" fill="none" stroke="#000000" stroke-width="1.9" stroke-linejoin="round"/>
<text x="262.15" y="180.20" font-size="6.00" text-anchor="middle" fill="#333333">Iteration#</text>
<text x="262.15" y="98.60" font-size="6.10" text-anchor="middle" font-weight="bold" fill="#000">Fitness values</text>
<clipPath id="k239"><rect x="325.60" y="101.60" width="76.00" height="62.80"/></clipPath>
<path d="M325.80 101.80V164.20H401.40" fill="none" stroke="#5a5a5a" stroke-width="0.8"/>
<line x1="325.80" y1="164.20" x2="325.80" y2="163.30" stroke="#5a5a5a" stroke-width="0.6"/>
<text x="325.80" y="172.42" font-size="5.40" text-anchor="middle" fill="#333333">0</text>
<line x1="344.70" y1="164.20" x2="344.70" y2="163.30" stroke="#5a5a5a" stroke-width="0.6"/>
<text x="344.70" y="172.42" font-size="5.40" text-anchor="middle" fill="#333333">50</text>
<line x1="363.60" y1="164.20" x2="363.60" y2="163.30" stroke="#5a5a5a" stroke-width="0.6"/>
<text x="363.60" y="172.42" font-size="5.40" text-anchor="middle" fill="#333333">100</text>
<line x1="382.50" y1="164.20" x2="382.50" y2="163.30" stroke="#5a5a5a" stroke-width="0.6"/>
<text x="382.50" y="172.42" font-size="5.40" text-anchor="middle" fill="#333333">150</text>
<line x1="401.40" y1="164.20" x2="401.40" y2="163.30" stroke="#5a5a5a" stroke-width="0.6"/>
<text x="401.40" y="172.42" font-size="5.40" text-anchor="middle" fill="#333333">200</text>
<line x1="325.80" y1="163.50" x2="326.70" y2="163.50" stroke="#5a5a5a" stroke-width="0.6"/>
<text x="323.80" y="166.12" font-size="5.40" text-anchor="end" fill="#333333">0</text>
<line x1="325.80" y1="147.95" x2="326.70" y2="147.95" stroke="#5a5a5a" stroke-width="0.6"/>
<text x="323.80" y="150.57" font-size="5.40" text-anchor="end" fill="#333333">10</text>
<line x1="325.80" y1="132.40" x2="326.70" y2="132.40" stroke="#5a5a5a" stroke-width="0.6"/>
<text x="323.80" y="135.02" font-size="5.40" text-anchor="end" fill="#333333">20</text>
<line x1="325.80" y1="116.85" x2="326.70" y2="116.85" stroke="#5a5a5a" stroke-width="0.6"/>
<text x="323.80" y="119.47" font-size="5.40" text-anchor="end" fill="#333333">30</text>
<line x1="325.80" y1="101.30" x2="326.70" y2="101.30" stroke="#5a5a5a" stroke-width="0.6"/>
<text x="323.80" y="103.92" font-size="5.40" text-anchor="end" fill="#333333">40</text>
<path clip-path="url(#k239)" d="M326.1 110.3 327.7 110.3 328.2 125.4 343.4 125.4 343.9 129.8 377.3 129.8 378.5 133.4 382.4 134.3 383.2 147.6 395.7 147.6 396.4 152.7 398.3 154.0 401.4 153.7" fill="none" stroke="#00ff00" stroke-width="1.9" stroke-linejoin="round"/>
<path clip-path="url(#k239)" d="M326.1 153.3 326.8 163.9 401.4 163.9" fill="none" stroke="#0000ff" stroke-width="1.9" stroke-linejoin="round"/>
<path clip-path="url(#k239)" d="M326.1 141.9 327.1 153.3 330.3 153.3 331.5 157.8 333.5 162.2 336.0 163.8 401.4 163.8" fill="none" stroke="#ff0000" stroke-width="1.9" stroke-linejoin="round"/>
<rect x="346.40" y="106.70" width="49.30" height="22.90" fill="#fff" stroke="#5a5a5a" stroke-width="0.7"/>
<line x1="349.10" y1="112.00" x2="366.70" y2="112.00" stroke="#00ff00" stroke-width="1.9"/>
<text x="367.90" y="113.73" font-size="4.86" text-anchor="start" fill="#333333">GND</text>
<line x1="349.10" y1="118.65" x2="366.70" y2="118.65" stroke="#0000ff" stroke-width="1.9"/>
<text x="367.90" y="120.38" font-size="4.86" text-anchor="start" fill="#333333">DMOA</text>
<line x1="349.10" y1="125.30" x2="366.70" y2="125.30" stroke="#ff0000" stroke-width="1.9"/>
<text x="367.90" y="127.03" font-size="4.86" text-anchor="start" fill="#333333">GNDDMOA</text>
<text transform="translate(313.80 135.10) rotate(-90)" font-size="6.05" text-anchor="middle" fill="#333333">Best score obtained so far</text>
<text x="363.60" y="180.50" font-size="6.00" text-anchor="middle" fill="#333333">Iteration</text>
<text x="363.60" y="99.30" font-size="6.10" text-anchor="middle" font-weight="bold" fill="#000">Convergence Curves</text>
<rect x="123.00" y="193.40" width="72.70" height="62.10" fill="#fff"/>
<clipPath id="k274"><rect x="122.80" y="193.20" width="73.10" height="62.50"/></clipPath>
<rect x="123.00" y="193.40" width="72.70" height="62.10" fill="none" stroke="#5a5a5a" stroke-width="0.8"/>
<path d="M140.90 255.50v-0.90M140.90 193.40v0.90" stroke="#5a5a5a" stroke-width="0.6"/>
<text x="140.90" y="263.72" font-size="5.40" text-anchor="middle" fill="#333333">50</text>
<path d="M159.17 255.50v-0.90M159.17 193.40v0.90" stroke="#5a5a5a" stroke-width="0.6"/>
<text x="159.17" y="263.72" font-size="5.40" text-anchor="middle" fill="#333333">100</text>
<path d="M177.43 255.50v-0.90M177.43 193.40v0.90" stroke="#5a5a5a" stroke-width="0.6"/>
<text x="177.43" y="263.72" font-size="5.40" text-anchor="middle" fill="#333333">150</text>
<path d="M195.70 255.50v-0.90M195.70 193.40v0.90" stroke="#5a5a5a" stroke-width="0.6"/>
<text x="195.70" y="263.72" font-size="5.40" text-anchor="middle" fill="#333333">200</text>
<path d="M123.00 243.30h0.90M195.70 243.30h-0.90" stroke="#5a5a5a" stroke-width="0.6"/>
<text x="121.00" y="245.92" font-size="5.40" text-anchor="end" fill="#333333">-3</text>
<path d="M123.00 226.97h0.90M195.70 226.97h-0.90" stroke="#5a5a5a" stroke-width="0.6"/>
<text x="121.00" y="229.58" font-size="5.40" text-anchor="end" fill="#333333">-2</text>
<path d="M123.00 210.63h0.90M195.70 210.63h-0.90" stroke="#5a5a5a" stroke-width="0.6"/>
<text x="121.00" y="213.25" font-size="5.40" text-anchor="end" fill="#333333">-1</text>
<path d="M123.00 194.30h0.90M195.70 194.30h-0.90" stroke="#5a5a5a" stroke-width="0.6"/>
<text x="121.00" y="196.92" font-size="5.40" text-anchor="end" fill="#333333">0</text>
<path clip-path="url(#k274)" d="M123.2 256.5 123.4 193.8 124.3 193.6 125.0 195.2 126.5 194.4 130.0 194.1 196.0 194.1" fill="none" stroke="#ff00ff" stroke-width="1.9" stroke-linejoin="round"/>
<text x="159.35" y="271.80" font-size="6.00" text-anchor="middle" fill="#333333">Iteration#</text>
<text x="159.35" y="190.90" font-size="6.10" text-anchor="middle" font-weight="bold" fill="#000">Best values of the 1st dim</text>
<rect x="224.40" y="192.80" width="72.40" height="62.30" fill="#fff"/>
<clipPath id="k296"><rect x="224.20" y="192.60" width="72.80" height="62.70"/></clipPath>
<rect x="224.40" y="192.80" width="72.40" height="62.30" fill="none" stroke="#5a5a5a" stroke-width="0.8"/>
<path d="M242.23 255.10v-0.90M242.23 192.80v0.90" stroke="#5a5a5a" stroke-width="0.6"/>
<text x="242.23" y="263.32" font-size="5.40" text-anchor="middle" fill="#333333">50</text>
<path d="M260.42 255.10v-0.90M260.42 192.80v0.90" stroke="#5a5a5a" stroke-width="0.6"/>
<text x="260.42" y="263.32" font-size="5.40" text-anchor="middle" fill="#333333">100</text>
<path d="M278.61 255.10v-0.90M278.61 192.80v0.90" stroke="#5a5a5a" stroke-width="0.6"/>
<text x="278.61" y="263.32" font-size="5.40" text-anchor="middle" fill="#333333">150</text>
<path d="M296.80 255.10v-0.90M296.80 192.80v0.90" stroke="#5a5a5a" stroke-width="0.6"/>
<text x="296.80" y="263.32" font-size="5.40" text-anchor="middle" fill="#333333">200</text>
<path d="M224.40 246.10h0.90M296.80 246.10h-0.90" stroke="#5a5a5a" stroke-width="0.6"/>
<text x="222.40" y="248.72" font-size="5.40" text-anchor="end" fill="#333333">1</text>
<path d="M224.40 237.32h0.90M296.80 237.32h-0.90" stroke="#5a5a5a" stroke-width="0.6"/>
<text x="222.40" y="239.94" font-size="5.40" text-anchor="end" fill="#333333">2</text>
<path d="M224.40 228.54h0.90M296.80 228.54h-0.90" stroke="#5a5a5a" stroke-width="0.6"/>
<text x="222.40" y="231.16" font-size="5.40" text-anchor="end" fill="#333333">3</text>
<path d="M224.40 219.76h0.90M296.80 219.76h-0.90" stroke="#5a5a5a" stroke-width="0.6"/>
<text x="222.40" y="222.38" font-size="5.40" text-anchor="end" fill="#333333">4</text>
<path d="M224.40 210.98h0.90M296.80 210.98h-0.90" stroke="#5a5a5a" stroke-width="0.6"/>
<text x="222.40" y="213.60" font-size="5.40" text-anchor="end" fill="#333333">5</text>
<path d="M224.40 202.20h0.90M296.80 202.20h-0.90" stroke="#5a5a5a" stroke-width="0.6"/>
<text x="222.40" y="204.82" font-size="5.40" text-anchor="end" fill="#333333">6</text>
<path clip-path="url(#k296)" d="M224.8 192.6 225.2 220.5 226.0 250.9 227.4 253.4 230.2 254.6 297.0 254.6" fill="none" stroke="#000000" stroke-width="1.9" stroke-linejoin="round"/>
<text x="260.60" y="271.40" font-size="6.00" text-anchor="middle" fill="#333333">Iteration#</text>
<text x="260.60" y="190.30" font-size="6.10" text-anchor="middle" font-weight="bold" fill="#000">Fitness values</text>
<clipPath id="k322"><rect x="325.40" y="193.00" width="73.30" height="62.70"/></clipPath>
<path d="M325.60 193.20V255.50H398.50" fill="none" stroke="#5a5a5a" stroke-width="0.8"/>
<line x1="325.60" y1="255.50" x2="325.60" y2="254.60" stroke="#5a5a5a" stroke-width="0.6"/>
<text x="325.60" y="263.72" font-size="5.40" text-anchor="middle" fill="#333333">0</text>
<line x1="343.83" y1="255.50" x2="343.83" y2="254.60" stroke="#5a5a5a" stroke-width="0.6"/>
<text x="343.83" y="263.72" font-size="5.40" text-anchor="middle" fill="#333333">50</text>
<line x1="362.05" y1="255.50" x2="362.05" y2="254.60" stroke="#5a5a5a" stroke-width="0.6"/>
<text x="362.05" y="263.72" font-size="5.40" text-anchor="middle" fill="#333333">100</text>
<line x1="380.27" y1="255.50" x2="380.27" y2="254.60" stroke="#5a5a5a" stroke-width="0.6"/>
<text x="380.27" y="263.72" font-size="5.40" text-anchor="middle" fill="#333333">150</text>
<line x1="398.50" y1="255.50" x2="398.50" y2="254.60" stroke="#5a5a5a" stroke-width="0.6"/>
<text x="398.50" y="263.72" font-size="5.40" text-anchor="middle" fill="#333333">200</text>
<line x1="325.60" y1="254.80" x2="326.50" y2="254.80" stroke="#5a5a5a" stroke-width="0.6"/>
<text x="323.60" y="257.42" font-size="5.40" text-anchor="end" fill="#333333">0</text>
<line x1="325.60" y1="242.46" x2="326.50" y2="242.46" stroke="#5a5a5a" stroke-width="0.6"/>
<text x="323.60" y="245.08" font-size="5.40" text-anchor="end" fill="#333333">5</text>
<line x1="325.60" y1="230.12" x2="326.50" y2="230.12" stroke="#5a5a5a" stroke-width="0.6"/>
<text x="323.60" y="232.74" font-size="5.40" text-anchor="end" fill="#333333">10</text>
<line x1="325.60" y1="217.78" x2="326.50" y2="217.78" stroke="#5a5a5a" stroke-width="0.6"/>
<text x="323.60" y="220.40" font-size="5.40" text-anchor="end" fill="#333333">15</text>
<line x1="325.60" y1="205.44" x2="326.50" y2="205.44" stroke="#5a5a5a" stroke-width="0.6"/>
<text x="323.60" y="208.06" font-size="5.40" text-anchor="end" fill="#333333">20</text>
<line x1="325.60" y1="193.10" x2="326.50" y2="193.10" stroke="#5a5a5a" stroke-width="0.6"/>
<text x="323.60" y="195.72" font-size="5.40" text-anchor="end" fill="#333333">25</text>
<path clip-path="url(#k322)" d="M325.9 221.8 327.7 221.8 329.0 226.9 332.8 226.9 334.7 230.1 335.4 233.9 351.3 233.9 352.5 234.8 370.0 235.2 398.5 235.2" fill="none" stroke="#00ff00" stroke-width="1.9" stroke-linejoin="round"/>
<path clip-path="url(#k322)" d="M325.9 201.5 327.0 205.3 327.7 209.1 328.6 247.9 329.6 248.5 330.2 248.5 330.9 254.9 335.0 255.1" fill="none" stroke="#0000ff" stroke-width="1.9" stroke-linejoin="round"/>
<path clip-path="url(#k322)" d="M325.9 237.7 326.7 246.0 327.7 253.6 329.0 255.1 398.5 255.2" fill="none" stroke="#ff0000" stroke-width="1.9" stroke-linejoin="round"/>
<rect x="343.20" y="198.70" width="49.30" height="22.50" fill="#fff" stroke="#5a5a5a" stroke-width="0.7"/>
<line x1="345.90" y1="204.00" x2="363.50" y2="204.00" stroke="#00ff00" stroke-width="1.9"/>
<text x="364.70" y="205.73" font-size="4.86" text-anchor="start" fill="#333333">GND</text>
<line x1="345.90" y1="210.65" x2="363.50" y2="210.65" stroke="#0000ff" stroke-width="1.9"/>
<text x="364.70" y="212.38" font-size="4.86" text-anchor="start" fill="#333333">DMOA</text>
<line x1="345.90" y1="217.30" x2="363.50" y2="217.30" stroke="#ff0000" stroke-width="1.9"/>
<text x="364.70" y="219.03" font-size="4.86" text-anchor="start" fill="#333333">GNDDMOA</text>
<text transform="translate(313.60 226.45) rotate(-90)" font-size="6.05" text-anchor="middle" fill="#333333">Best score obtained so far</text>
<text x="362.05" y="271.80" font-size="6.00" text-anchor="middle" fill="#333333">Iteration</text>
<text x="362.05" y="190.70" font-size="6.10" text-anchor="middle" font-weight="bold" fill="#000">Convergence Curves</text>
<rect x="126.40" y="284.20" width="69.30" height="62.40" fill="#fff"/>
<clipPath id="k359"><rect x="126.20" y="284.00" width="69.70" height="62.80"/></clipPath>
<rect x="126.40" y="284.20" width="69.30" height="62.40" fill="none" stroke="#5a5a5a" stroke-width="0.8"/>
<path d="M143.46 346.60v-0.90M143.46 284.20v0.90" stroke="#5a5a5a" stroke-width="0.6"/>
<text x="143.46" y="354.82" font-size="5.40" text-anchor="middle" fill="#333333">50</text>
<path d="M160.88 346.60v-0.90M160.88 284.20v0.90" stroke="#5a5a5a" stroke-width="0.6"/>
<text x="160.88" y="354.82" font-size="5.40" text-anchor="middle" fill="#333333">100</text>
<path d="M178.29 346.60v-0.90M178.29 284.20v0.90" stroke="#5a5a5a" stroke-width="0.6"/>
<text x="178.29" y="354.82" font-size="5.40" text-anchor="middle" fill="#333333">150</text>
<path d="M195.70 346.60v-0.90M195.70 284.20v0.90" stroke="#5a5a5a" stroke-width="0.6"/>
<text x="195.70" y="354.82" font-size="5.40" text-anchor="middle" fill="#333333">200</text>
<path d="M126.40 346.20h0.90M195.70 346.20h-0.90" stroke="#5a5a5a" stroke-width="0.6"/>
<text x="124.40" y="348.82" font-size="5.40" text-anchor="end" fill="#333333">-50</text>
<path d="M126.40 326.30h0.90M195.70 326.30h-0.90" stroke="#5a5a5a" stroke-width="0.6"/>
<text x="124.40" y="328.92" font-size="5.40" text-anchor="end" fill="#333333">0</text>
<path d="M126.40 306.40h0.90M195.70 306.40h-0.90" stroke="#5a5a5a" stroke-width="0.6"/>
<text x="124.40" y="309.02" font-size="5.40" text-anchor="end" fill="#333333">50</text>
<path d="M126.40 286.50h0.90M195.70 286.50h-0.90" stroke="#5a5a5a" stroke-width="0.6"/>
<text x="124.40" y="289.12" font-size="5.40" text-anchor="end" fill="#333333">100</text>
<path clip-path="url(#k359)" d="M126.6 284.0 126.6 306.3 129.3 306.3 129.7 315.5 131.8 315.5 131.8 321.3 130.4 321.3 130.4 318.2 131.4 318.2 131.5 324.4 131.7 347.5 132.6 347.5 132.9 329.1 134.9 325.1 137.6 324.4 138.9 325.8 140.3 326.7 196.0 326.7" fill="none" stroke="#ff00ff" stroke-width="1.9" stroke-linejoin="round"/>
<text x="161.05" y="362.90" font-size="6.00" text-anchor="middle" fill="#333333">Iteration#</text>
<text x="161.05" y="281.70" font-size="6.10" text-anchor="middle" font-weight="bold" fill="#000">Best values of the 1st dim</text>
<rect x="227.40" y="284.20" width="70.10" height="62.40" fill="#fff"/>
<clipPath id="k381"><rect x="227.20" y="284.00" width="70.50" height="62.80"/></clipPath>
<rect x="227.40" y="284.20" width="70.10" height="62.40" fill="none" stroke="#5a5a5a" stroke-width="0.8"/>
<path d="M244.66 346.60v-0.90M244.66 284.20v0.90" stroke="#5a5a5a" stroke-width="0.6"/>
<text x="244.66" y="354.82" font-size="5.40" text-anchor="middle" fill="#333333">50</text>
<path d="M262.27 346.60v-0.90M262.27 284.20v0.90" stroke="#5a5a5a" stroke-width="0.6"/>
<text x="262.27" y="354.82" font-size="5.40" text-anchor="middle" fill="#333333">100</text>
<path d="M279.89 346.60v-0.90M279.89 284.20v0.90" stroke="#5a5a5a" stroke-width="0.6"/>
<text x="279.89" y="354.82" font-size="5.40" text-anchor="middle" fill="#333333">150</text>
<path d="M297.50 346.60v-0.90M297.50 284.20v0.90" stroke="#5a5a5a" stroke-width="0.6"/>
<text x="297.50" y="354.82" font-size="5.40" text-anchor="middle" fill="#333333">200</text>
<path d="M227.40 345.90h0.90M297.50 345.90h-0.90" stroke="#5a5a5a" stroke-width="0.6"/>
<text x="225.40" y="348.52" font-size="5.40" text-anchor="end" fill="#333333">0</text>
<path d="M227.40 333.73h0.90M297.50 333.73h-0.90" stroke="#5a5a5a" stroke-width="0.6"/>
<text x="225.40" y="336.34" font-size="5.40" text-anchor="end" fill="#333333">0.2</text>
<path d="M227.40 321.55h0.90M297.50 321.55h-0.90" stroke="#5a5a5a" stroke-width="0.6"/>
<text x="225.40" y="324.17" font-size="5.40" text-anchor="end" fill="#333333">0.4</text>
<path d="M227.40 309.38h0.90M297.50 309.38h-0.90" stroke="#5a5a5a" stroke-width="0.6"/>
<text x="225.40" y="311.99" font-size="5.40" text-anchor="end" fill="#333333">0.6</text>
<path d="M227.40 297.20h0.90M297.50 297.20h-0.90" stroke="#5a5a5a" stroke-width="0.6"/>
<text x="225.40" y="299.82" font-size="5.40" text-anchor="end" fill="#333333">0.8</text>
<path clip-path="url(#k381)" d="M227.7 284.0 228.5 287.4 229.0 289.4 230.1 291.5 230.5 304.9 231.2 306.0 233.8 306.0 234.4 322.4 234.9 324.4 235.2 346.3 297.5 346.3" fill="none" stroke="#000000" stroke-width="1.9" stroke-linejoin="round"/>
<text x="262.45" y="362.90" font-size="6.00" text-anchor="middle" fill="#333333">Iteration#</text>
<text x="262.45" y="281.70" font-size="6.10" text-anchor="middle" font-weight="bold" fill="#000">Fitness values</text>
<clipPath id="k405"><rect x="328.30" y="284.30" width="70.40" height="62.20"/></clipPath>
<path d="M328.50 284.50V346.30H398.50" fill="none" stroke="#5a5a5a" stroke-width="0.8"/>
<line x1="328.50" y1="346.30" x2="328.50" y2="345.40" stroke="#5a5a5a" stroke-width="0.6"/>
<text x="328.50" y="354.52" font-size="5.40" text-anchor="middle" fill="#333333">0</text>
<line x1="346.00" y1="346.30" x2="346.00" y2="345.40" stroke="#5a5a5a" stroke-width="0.6"/>
<text x="346.00" y="354.52" font-size="5.40" text-anchor="middle" fill="#333333">50</text>
<line x1="363.50" y1="346.30" x2="363.50" y2="345.40" stroke="#5a5a5a" stroke-width="0.6"/>
<text x="363.50" y="354.52" font-size="5.40" text-anchor="middle" fill="#333333">100</text>
<line x1="381.00" y1="346.30" x2="381.00" y2="345.40" stroke="#5a5a5a" stroke-width="0.6"/>
<text x="381.00" y="354.52" font-size="5.40" text-anchor="middle" fill="#333333">150</text>
<line x1="398.50" y1="346.30" x2="398.50" y2="345.40" stroke="#5a5a5a" stroke-width="0.6"/>
<text x="398.50" y="354.52" font-size="5.40" text-anchor="middle" fill="#333333">200</text>
<line x1="328.50" y1="345.60" x2="329.40" y2="345.60" stroke="#5a5a5a" stroke-width="0.6"/>
<text x="326.50" y="348.22" font-size="5.40" text-anchor="end" fill="#333333">0</text>
<line x1="328.50" y1="330.30" x2="329.40" y2="330.30" stroke="#5a5a5a" stroke-width="0.6"/>
<text x="326.50" y="332.92" font-size="5.40" text-anchor="end" fill="#333333">20</text>
<line x1="328.50" y1="315.00" x2="329.40" y2="315.00" stroke="#5a5a5a" stroke-width="0.6"/>
<text x="326.50" y="317.62" font-size="5.40" text-anchor="end" fill="#333333">40</text>
<line x1="328.50" y1="299.70" x2="329.40" y2="299.70" stroke="#5a5a5a" stroke-width="0.6"/>
<text x="326.50" y="302.32" font-size="5.40" text-anchor="end" fill="#333333">60</text>
<line x1="328.50" y1="284.40" x2="329.40" y2="284.40" stroke="#5a5a5a" stroke-width="0.6"/>
<text x="326.50" y="287.02" font-size="5.40" text-anchor="end" fill="#333333">80</text>
<path clip-path="url(#k405)" d="M328.8 287.9 331.2 287.9 331.8 293.9 333.3 295.0 333.6 302.4 341.2 302.4 341.8 305.4 345.5 305.4 346.0 312.8 372.8 312.8 373.5 316.3 377.9 316.9 379.2 318.8 382.4 319.4 384.3 321.3 386.8 322.0 388.1 324.8 398.5 324.8" fill="none" stroke="#00ff00" stroke-width="1.9" stroke-linejoin="round"/>
<path clip-path="url(#k405)" d="M328.8 343.4 332.3 343.4 333.5 344.9 336.0 345.9" fill="none" stroke="#0000ff" stroke-width="1.9" stroke-linejoin="round"/>
<path clip-path="url(#k405)" d="M328.8 345.1 331.5 345.1 334.2 346.2 398.5 346.2" fill="none" stroke="#ff0000" stroke-width="1.9" stroke-linejoin="round"/>
<rect x="343.50" y="289.50" width="49.30" height="22.90" fill="#fff" stroke="#5a5a5a" stroke-width="0.7"/>
<line x1="346.20" y1="294.80" x2="363.80" y2="294.80" stroke="#00ff00" stroke-width="1.9"/>
<text x="365.00" y="296.53" font-size="4.86" text-anchor="start" fill="#333333">GND</text>
<line x1="346.20" y1="301.45" x2="363.80" y2="301.45" stroke="#0000ff" stroke-width="1.9"/>
<text x="365.00" y="303.18" font-size="4.86" text-anchor="start" fill="#333333">DMOA</text>
<line x1="346.20" y1="308.10" x2="363.80" y2="308.10" stroke="#ff0000" stroke-width="1.9"/>
<text x="365.00" y="309.83" font-size="4.86" text-anchor="start" fill="#333333">GNDDMOA</text>
<text transform="translate(316.30 317.50) rotate(-90)" font-size="6.05" text-anchor="middle" fill="#333333">Best score obtained so far</text>
<text x="363.50" y="362.60" font-size="6.00" text-anchor="middle" fill="#333333">Iteration</text>
<text x="363.50" y="282.00" font-size="6.10" text-anchor="middle" font-weight="bold" fill="#000">Convergence Curves</text>
<rect x="125.10" y="375.20" width="72.40" height="62.80" fill="#fff"/>
<clipPath id="k440"><rect x="124.90" y="375.00" width="72.80" height="63.20"/></clipPath>
<rect x="125.10" y="375.20" width="72.40" height="62.80" fill="none" stroke="#5a5a5a" stroke-width="0.8"/>
<path d="M142.93 438.00v-0.90M142.93 375.20v0.90" stroke="#5a5a5a" stroke-width="0.6"/>
<text x="142.93" y="446.22" font-size="5.40" text-anchor="middle" fill="#333333">50</text>
<path d="M161.12 438.00v-0.90M161.12 375.20v0.90" stroke="#5a5a5a" stroke-width="0.6"/>
<text x="161.12" y="446.22" font-size="5.40" text-anchor="middle" fill="#333333">100</text>
<path d="M179.31 438.00v-0.90M179.31 375.20v0.90" stroke="#5a5a5a" stroke-width="0.6"/>
<text x="179.31" y="446.22" font-size="5.40" text-anchor="middle" fill="#333333">150</text>
<path d="M197.50 438.00v-0.90M197.50 375.20v0.90" stroke="#5a5a5a" stroke-width="0.6"/>
<text x="197.50" y="446.22" font-size="5.40" text-anchor="middle" fill="#333333">200</text>
<path d="M125.10 430.85h0.90M197.50 430.85h-0.90" stroke="#5a5a5a" stroke-width="0.6"/>
<text x="123.10" y="433.47" font-size="5.40" text-anchor="end" fill="#333333">-15</text>
<path d="M125.10 420.60h0.90M197.50 420.60h-0.90" stroke="#5a5a5a" stroke-width="0.6"/>
<text x="123.10" y="423.22" font-size="5.40" text-anchor="end" fill="#333333">-10</text>
<path d="M125.10 410.35h0.90M197.50 410.35h-0.90" stroke="#5a5a5a" stroke-width="0.6"/>
<text x="123.10" y="412.97" font-size="5.40" text-anchor="end" fill="#333333">-5</text>
<path d="M125.10 400.10h0.90M197.50 400.10h-0.90" stroke="#5a5a5a" stroke-width="0.6"/>
<text x="123.10" y="402.72" font-size="5.40" text-anchor="end" fill="#333333">0</text>
<path d="M125.10 389.85h0.90M197.50 389.85h-0.90" stroke="#5a5a5a" stroke-width="0.6"/>
<text x="123.10" y="392.47" font-size="5.40" text-anchor="end" fill="#333333">5</text>
<path d="M125.10 379.60h0.90M197.50 379.60h-0.90" stroke="#5a5a5a" stroke-width="0.6"/>
<text x="123.10" y="382.22" font-size="5.40" text-anchor="end" fill="#333333">10</text>
<path clip-path="url(#k440)" d="M125.3 375.0 125.7 379.8 126.4 381.8 127.0 387.0 127.4 390.9 127.9 390.9 127.9 439.0 128.3 439.0 128.3 402.1 130.9 401.4 132.2 399.5 133.6 400.4 140.1 400.4 141.4 399.5 142.5 400.4 143.4 401.7 148.6 401.7 149.3 400.4 150.0 400.4 150.0 411.9 151.2 411.9 151.2 400.4 151.9 400.8 153.8 402.1 155.2 404.3 160.5 404.3 161.0 397.7 167.4 397.7 168.1 401.4 170.4 402.1 171.4 404.3 172.7 404.3 173.3 402.1 175.9 401.4 177.9 400.4 183.1 400.4 183.8 395.5 185.4 395.5 185.9 402.1 193.6 402.1 194.9 400.8 196.9 393.6 197.5 400.1" fill="none" stroke="#ff00ff" stroke-width="1.9" stroke-linejoin="round"/>
<text x="161.30" y="454.30" font-size="6.00" text-anchor="middle" fill="#333333">Iteration#</text>
<text x="161.30" y="372.70" font-size="6.10" text-anchor="middle" font-weight="bold" fill="#000">Best values of the 1st dim</text>
<rect x="226.50" y="375.30" width="71.90" height="62.50" fill="#fff"/>
<clipPath id="k466"><rect x="226.30" y="375.10" width="72.30" height="62.90"/></clipPath>
<rect x="226.50" y="375.30" width="71.90" height="62.50" fill="none" stroke="#5a5a5a" stroke-width="0.8"/>
<path d="M244.20 437.80v-0.90M244.20 375.30v0.90" stroke="#5a5a5a" stroke-width="0.6"/>
<text x="244.20" y="446.02" font-size="5.40" text-anchor="middle" fill="#333333">50</text>
<path d="M262.27 437.80v-0.90M262.27 375.30v0.90" stroke="#5a5a5a" stroke-width="0.6"/>
<text x="262.27" y="446.02" font-size="5.40" text-anchor="middle" fill="#333333">100</text>
<path d="M280.33 437.80v-0.90M280.33 375.30v0.90" stroke="#5a5a5a" stroke-width="0.6"/>
<text x="280.33" y="446.02" font-size="5.40" text-anchor="middle" fill="#333333">150</text>
<path d="M298.40 437.80v-0.90M298.40 375.30v0.90" stroke="#5a5a5a" stroke-width="0.6"/>
<text x="298.40" y="446.02" font-size="5.40" text-anchor="middle" fill="#333333">200</text>
<path d="M226.50 428.20h0.90M298.40 428.20h-0.90" stroke="#5a5a5a" stroke-width="0.6"/>
<text x="224.50" y="430.82" font-size="5.40" text-anchor="end" fill="#333333">200</text>
<path d="M226.50 418.78h0.90M298.40 418.78h-0.90" stroke="#5a5a5a" stroke-width="0.6"/>
<text x="224.50" y="421.40" font-size="5.40" text-anchor="end" fill="#333333">400</text>
<path d="M226.50 409.36h0.90M298.40 409.36h-0.90" stroke="#5a5a5a" stroke-width="0.6"/>
<text x="224.50" y="411.98" font-size="5.40" text-anchor="end" fill="#333333">600</text>
<path d="M226.50 399.94h0.90M298.40 399.94h-0.90" stroke="#5a5a5a" stroke-width="0.6"/>
<text x="224.50" y="402.56" font-size="5.40" text-anchor="end" fill="#333333">800</text>
<path d="M226.50 390.52h0.90M298.40 390.52h-0.90" stroke="#5a5a5a" stroke-width="0.6"/>
<text x="224.50" y="393.14" font-size="5.40" text-anchor="end" fill="#333333">1000</text>
<path d="M226.50 381.10h0.90M298.40 381.10h-0.90" stroke="#5a5a5a" stroke-width="0.6"/>
<text x="224.50" y="383.72" font-size="5.40" text-anchor="end" fill="#333333">1200</text>
<path clip-path="url(#k466)" d="M227.0 375.0 227.0 436.8 227.9 437.2 229.8 437.7 298.5 437.7" fill="none" stroke="#000000" stroke-width="1.9" stroke-linejoin="round"/>
<text x="262.45" y="454.10" font-size="6.00" text-anchor="middle" fill="#333333">Iteration#</text>
<text x="262.45" y="372.80" font-size="6.10" text-anchor="middle" font-weight="bold" fill="#000">Fitness values</text>
<clipPath id="k492"><rect x="327.00" y="375.00" width="73.40" height="63.30"/></clipPath>
<path d="M327.20 375.20V438.10H400.20" fill="none" stroke="#5a5a5a" stroke-width="0.8"/>
<line x1="327.20" y1="438.10" x2="327.20" y2="437.20" stroke="#5a5a5a" stroke-width="0.6"/>
<text x="327.20" y="446.32" font-size="5.40" text-anchor="middle" fill="#333333">0</text>
<line x1="345.45" y1="438.10" x2="345.45" y2="437.20" stroke="#5a5a5a" stroke-width="0.6"/>
<text x="345.45" y="446.32" font-size="5.40" text-anchor="middle" fill="#333333">50</text>
<line x1="363.70" y1="438.10" x2="363.70" y2="437.20" stroke="#5a5a5a" stroke-width="0.6"/>
<text x="363.70" y="446.32" font-size="5.40" text-anchor="middle" fill="#333333">100</text>
<line x1="381.95" y1="438.10" x2="381.95" y2="437.20" stroke="#5a5a5a" stroke-width="0.6"/>
<text x="381.95" y="446.32" font-size="5.40" text-anchor="middle" fill="#333333">150</text>
<line x1="400.20" y1="438.10" x2="400.20" y2="437.20" stroke="#5a5a5a" stroke-width="0.6"/>
<text x="400.20" y="446.32" font-size="5.40" text-anchor="middle" fill="#333333">200</text>
<line x1="327.20" y1="437.40" x2="328.10" y2="437.40" stroke="#5a5a5a" stroke-width="0.6"/>
<text x="325.20" y="440.02" font-size="5.40" text-anchor="end" fill="#333333">0</text>
<line x1="327.20" y1="421.85" x2="328.10" y2="421.85" stroke="#5a5a5a" stroke-width="0.6"/>
<text x="325.20" y="424.47" font-size="5.40" text-anchor="end" fill="#333333">1</text>
<line x1="327.20" y1="406.30" x2="328.10" y2="406.30" stroke="#5a5a5a" stroke-width="0.6"/>
<text x="325.20" y="408.92" font-size="5.40" text-anchor="end" fill="#333333">2</text>
<line x1="327.20" y1="390.75" x2="328.10" y2="390.75" stroke="#5a5a5a" stroke-width="0.6"/>
<text x="325.20" y="393.37" font-size="5.40" text-anchor="end" fill="#333333">3</text>
<line x1="327.20" y1="375.20" x2="328.10" y2="375.20" stroke="#5a5a5a" stroke-width="0.6"/>
<text x="325.20" y="377.82" font-size="5.40" text-anchor="end" fill="#333333">4</text>
<path clip-path="url(#k492)" d="M327.5 377.6 328.3 378.1 329.2 389.6 330.1 407.3 330.9 408.6 331.4 436.1 333.1 436.8 335.1 437.4 340.0 437.6" fill="none" stroke="#00ff00" stroke-width="1.9" stroke-linejoin="round"/>
<path clip-path="url(#k492)" d="M327.5 409.0 328.8 409.9 330.1 411.6 330.5 437.4 335.0 437.6" fill="none" stroke="#0000ff" stroke-width="1.9" stroke-linejoin="round"/>
<path clip-path="url(#k492)" d="M327.5 437.8 400.2 437.8" fill="none" stroke="#ff0000" stroke-width="1.9" stroke-linejoin="round"/>
<rect x="345.20" y="380.70" width="49.30" height="23.10" fill="#fff" stroke="#5a5a5a" stroke-width="0.7"/>
<line x1="347.90" y1="386.00" x2="365.50" y2="386.00" stroke="#00ff00" stroke-width="1.9"/>
<text x="366.70" y="387.73" font-size="4.86" text-anchor="start" fill="#333333">GND</text>
<line x1="347.90" y1="392.65" x2="365.50" y2="392.65" stroke="#0000ff" stroke-width="1.9"/>
<text x="366.70" y="394.38" font-size="4.86" text-anchor="start" fill="#333333">DMOA</text>
<line x1="347.90" y1="399.30" x2="365.50" y2="399.30" stroke="#ff0000" stroke-width="1.9"/>
<text x="366.70" y="401.03" font-size="4.86" text-anchor="start" fill="#333333">GNDDMOA</text>
<text transform="translate(315.30 408.75) rotate(-90)" font-size="6.05" text-anchor="middle" fill="#333333">Best score obtained so far</text>
<text x="363.70" y="454.40" font-size="6.00" text-anchor="middle" fill="#333333">Iteration</text>
<text x="363.70" y="372.70" font-size="6.10" text-anchor="middle" font-weight="bold" fill="#000">Convergence Curves</text>
<text x="328.50" y="374.30" font-size="4.60" text-anchor="start" fill="#808080" style="stroke:none">&#215; 10<tspan font-size="3.9" dy="-1.9">8</tspan></text>
<rect x="124.20" y="466.70" width="75.60" height="62.60" fill="#fff"/>
<clipPath id="k528"><rect x="124.00" y="466.50" width="76.00" height="63.00"/></clipPath>
<rect x="124.20" y="466.70" width="75.60" height="62.60" fill="none" stroke="#5a5a5a" stroke-width="0.8"/>
<path d="M142.82 529.30v-0.90M142.82 466.70v0.90" stroke="#5a5a5a" stroke-width="0.6"/>
<text x="142.82" y="537.52" font-size="5.40" text-anchor="middle" fill="#333333">50</text>
<path d="M161.81 529.30v-0.90M161.81 466.70v0.90" stroke="#5a5a5a" stroke-width="0.6"/>
<text x="161.81" y="537.52" font-size="5.40" text-anchor="middle" fill="#333333">100</text>
<path d="M180.81 529.30v-0.90M180.81 466.70v0.90" stroke="#5a5a5a" stroke-width="0.6"/>
<text x="180.81" y="537.52" font-size="5.40" text-anchor="middle" fill="#333333">150</text>
<path d="M199.80 529.30v-0.90M199.80 466.70v0.90" stroke="#5a5a5a" stroke-width="0.6"/>
<text x="199.80" y="537.52" font-size="5.40" text-anchor="middle" fill="#333333">200</text>
<path d="M124.20 528.03h0.90M199.80 528.03h-0.90" stroke="#5a5a5a" stroke-width="0.6"/>
<text x="122.20" y="530.65" font-size="5.40" text-anchor="end" fill="#333333">-2</text>
<path d="M124.20 513.70h0.90M199.80 513.70h-0.90" stroke="#5a5a5a" stroke-width="0.6"/>
<text x="122.20" y="516.32" font-size="5.40" text-anchor="end" fill="#333333">0</text>
<path d="M124.20 499.37h0.90M199.80 499.37h-0.90" stroke="#5a5a5a" stroke-width="0.6"/>
<text x="122.20" y="501.98" font-size="5.40" text-anchor="end" fill="#333333">2</text>
<path d="M124.20 485.03h0.90M199.80 485.03h-0.90" stroke="#5a5a5a" stroke-width="0.6"/>
<text x="122.20" y="487.65" font-size="5.40" text-anchor="end" fill="#333333">4</text>
<path d="M124.20 470.70h0.90M199.80 470.70h-0.90" stroke="#5a5a5a" stroke-width="0.6"/>
<text x="122.20" y="473.32" font-size="5.40" text-anchor="end" fill="#333333">6</text>
<path clip-path="url(#k528)" d="M124.6 466.6 125.1 481.6 125.7 501.3 126.4 505.8 127.4 504.5 129.3 504.5 130.3 506.5 131.0 515.0 137.5 515.0 137.9 508.5 139.5 508.1 140.5 506.5 155.2 506.5 156.2 514.4 157.2 515.3 157.8 517.6 165.5 517.6 166.8 518.5 168.7 519.2 169.7 517.6 170.7 515.7 171.4 525.5 174.6 525.5 175.9 511.1 177.0 510.7 178.3 511.7 179.6 531.0 181.2 531.0 181.2 515.0 189.7 515.0 191.0 517.6 192.3 515.7 193.0 515.0 200.0 515.0" fill="none" stroke="#ff00ff" stroke-width="1.9" stroke-linejoin="round"/>
<text x="162.00" y="545.60" font-size="6.00" text-anchor="middle" fill="#333333">Iteration#</text>
<text x="162.00" y="464.20" font-size="6.10" text-anchor="middle" font-weight="bold" fill="#000">Best values of the 1st dim</text>
<rect x="225.50" y="466.80" width="75.00" height="62.40" fill="#fff"/>
<clipPath id="k552"><rect x="225.30" y="466.60" width="75.40" height="62.80"/></clipPath>
<rect x="225.50" y="466.80" width="75.00" height="62.40" fill="none" stroke="#5a5a5a" stroke-width="0.8"/>
<path d="M243.97 529.20v-0.90M243.97 466.80v0.90" stroke="#5a5a5a" stroke-width="0.6"/>
<text x="243.97" y="537.42" font-size="5.40" text-anchor="middle" fill="#333333">50</text>
<path d="M262.81 529.20v-0.90M262.81 466.80v0.90" stroke="#5a5a5a" stroke-width="0.6"/>
<text x="262.81" y="537.42" font-size="5.40" text-anchor="middle" fill="#333333">100</text>
<path d="M281.66 529.20v-0.90M281.66 466.80v0.90" stroke="#5a5a5a" stroke-width="0.6"/>
<text x="281.66" y="537.42" font-size="5.40" text-anchor="middle" fill="#333333">150</text>
<path d="M300.50 529.20v-0.90M300.50 466.80v0.90" stroke="#5a5a5a" stroke-width="0.6"/>
<text x="300.50" y="537.42" font-size="5.40" text-anchor="middle" fill="#333333">200</text>
<path d="M225.50 517.30h0.90M300.50 517.30h-0.90" stroke="#5a5a5a" stroke-width="0.6"/>
<text x="223.50" y="519.92" font-size="5.40" text-anchor="end" fill="#333333">0.2</text>
<path d="M225.50 505.53h0.90M300.50 505.53h-0.90" stroke="#5a5a5a" stroke-width="0.6"/>
<text x="223.50" y="508.14" font-size="5.40" text-anchor="end" fill="#333333">0.4</text>
<path d="M225.50 493.75h0.90M300.50 493.75h-0.90" stroke="#5a5a5a" stroke-width="0.6"/>
<text x="223.50" y="496.37" font-size="5.40" text-anchor="end" fill="#333333">0.6</text>
<path d="M225.50 481.97h0.90M300.50 481.97h-0.90" stroke="#5a5a5a" stroke-width="0.6"/>
<text x="223.50" y="484.59" font-size="5.40" text-anchor="end" fill="#333333">0.8</text>
<path d="M225.50 470.20h0.90M300.50 470.20h-0.90" stroke="#5a5a5a" stroke-width="0.6"/>
<text x="223.50" y="472.82" font-size="5.40" text-anchor="end" fill="#333333">1</text>
<path clip-path="url(#k552)" d="M225.9 466.6 226.5 511.7 227.2 523.5 227.9 526.4 229.4 526.8 230.2 528.8 300.5 528.8" fill="none" stroke="#000000" stroke-width="1.9" stroke-linejoin="round"/>
<text x="263.00" y="545.50" font-size="6.00" text-anchor="middle" fill="#333333">Iteration#</text>
<text x="263.00" y="464.30" font-size="6.10" text-anchor="middle" font-weight="bold" fill="#000">Fitness values</text>
<clipPath id="k576"><rect x="326.10" y="466.80" width="76.00" height="62.80"/></clipPath>
<path d="M326.30 467.00V529.40H401.90" fill="none" stroke="#5a5a5a" stroke-width="0.8"/>
<line x1="326.30" y1="529.40" x2="326.30" y2="528.50" stroke="#5a5a5a" stroke-width="0.6"/>
<text x="326.30" y="537.62" font-size="5.40" text-anchor="middle" fill="#333333">0</text>
<line x1="345.20" y1="529.40" x2="345.20" y2="528.50" stroke="#5a5a5a" stroke-width="0.6"/>
<text x="345.20" y="537.62" font-size="5.40" text-anchor="middle" fill="#333333">50</text>
<line x1="364.10" y1="529.40" x2="364.10" y2="528.50" stroke="#5a5a5a" stroke-width="0.6"/>
<text x="364.10" y="537.62" font-size="5.40" text-anchor="middle" fill="#333333">100</text>
<line x1="383.00" y1="529.40" x2="383.00" y2="528.50" stroke="#5a5a5a" stroke-width="0.6"/>
<text x="383.00" y="537.62" font-size="5.40" text-anchor="middle" fill="#333333">150</text>
<line x1="401.90" y1="529.40" x2="401.90" y2="528.50" stroke="#5a5a5a" stroke-width="0.6"/>
<text x="401.90" y="537.62" font-size="5.40" text-anchor="middle" fill="#333333">200</text>
<line x1="326.30" y1="528.70" x2="327.20" y2="528.70" stroke="#5a5a5a" stroke-width="0.6"/>
<text x="324.30" y="531.32" font-size="5.40" text-anchor="end" fill="#333333">0</text>
<line x1="326.30" y1="516.40" x2="327.20" y2="516.40" stroke="#5a5a5a" stroke-width="0.6"/>
<text x="324.30" y="519.02" font-size="5.40" text-anchor="end" fill="#333333">2</text>
<line x1="326.30" y1="504.10" x2="327.20" y2="504.10" stroke="#5a5a5a" stroke-width="0.6"/>
<text x="324.30" y="506.72" font-size="5.40" text-anchor="end" fill="#333333">4</text>
<line x1="326.30" y1="491.80" x2="327.20" y2="491.80" stroke="#5a5a5a" stroke-width="0.6"/>
<text x="324.30" y="494.42" font-size="5.40" text-anchor="end" fill="#333333">6</text>
<line x1="326.30" y1="479.50" x2="327.20" y2="479.50" stroke="#5a5a5a" stroke-width="0.6"/>
<text x="324.30" y="482.12" font-size="5.40" text-anchor="end" fill="#333333">8</text>
<line x1="326.30" y1="467.20" x2="327.20" y2="467.20" stroke="#5a5a5a" stroke-width="0.6"/>
<text x="324.30" y="469.82" font-size="5.40" text-anchor="end" fill="#333333">10</text>
<path clip-path="url(#k576)" d="M326.6 479.0 328.5 479.0 328.9 479.7 329.4 515.0 331.5 515.0 332.0 516.3 332.4 524.8 333.4 526.1 334.4 528.1 335.7 529.0 340.0 529.2" fill="none" stroke="#00ff00" stroke-width="1.9" stroke-linejoin="round"/>
<path clip-path="url(#k576)" d="M326.6 529.3 401.9 529.3" fill="none" stroke="#ff0000" stroke-width="1.9" stroke-linejoin="round"/>
<rect x="347.20" y="472.40" width="49.40" height="23.00" fill="#fff" stroke="#5a5a5a" stroke-width="0.7"/>
<line x1="349.90" y1="477.70" x2="367.50" y2="477.70" stroke="#00ff00" stroke-width="1.9"/>
<text x="368.70" y="479.43" font-size="4.86" text-anchor="start" fill="#333333">GND</text>
<line x1="349.90" y1="484.35" x2="367.50" y2="484.35" stroke="#0000ff" stroke-width="1.9"/>
<text x="368.70" y="486.08" font-size="4.86" text-anchor="start" fill="#333333">DMOA</text>
<line x1="349.90" y1="491.00" x2="367.50" y2="491.00" stroke="#ff0000" stroke-width="1.9"/>
<text x="368.70" y="492.73" font-size="4.86" text-anchor="start" fill="#333333">GNDDMOA</text>
<text transform="translate(314.30 500.30) rotate(-90)" font-size="6.05" text-anchor="middle" fill="#333333">Best score obtained so far</text>
<text x="364.10" y="545.70" font-size="6.00" text-anchor="middle" fill="#333333">Iteration</text>
<text x="364.10" y="464.50" font-size="6.10" text-anchor="middle" font-weight="bold" fill="#000">Convergence Curves</text>
<text x="327.60" y="466.10" font-size="4.60" text-anchor="start" fill="#808080" style="stroke:none">&#215; 10<tspan font-size="3.9" dy="-1.9">8</tspan></text>
</g>
</svg></body></html>
